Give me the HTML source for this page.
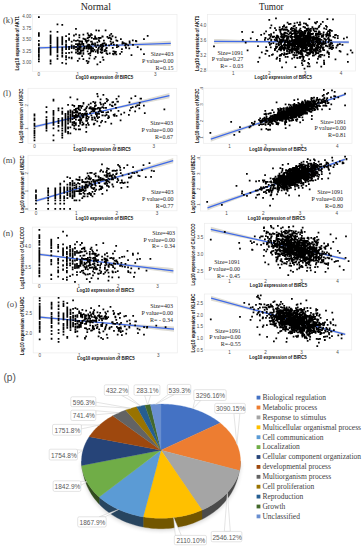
<!DOCTYPE html>
<html><head><meta charset="utf-8"><style>
html,body{margin:0;padding:0;background:#fff;overflow:hidden;}
svg{display:block;}
</style></head><body>
<svg width="364" height="550" viewBox="0 0 364 550">
<rect width="364" height="550" fill="#fff"/>
<rect x="32.5" y="14.5" width="144.50" height="56.80" fill="none" stroke="#ebebeb" stroke-width="0.7"/>
<polygon points="39.0,46.4 44.7,46.4 50.5,46.4 56.2,46.3 61.9,46.3 67.7,46.2 73.4,46.1 79.1,46.0 84.8,45.8 90.6,45.6 96.3,45.3 102.0,45.0 107.8,44.7 113.5,44.3 119.2,44.0 125.0,43.6 130.7,43.3 136.4,42.9 142.1,42.5 147.9,42.2 153.6,41.8 159.3,41.4 165.1,41.1 170.8,40.7 170.8,45.9 165.1,45.9 159.3,46.0 153.6,46.0 147.9,46.0 142.1,46.1 136.4,46.1 130.7,46.1 125.0,46.2 119.2,46.2 113.5,46.3 107.8,46.3 102.0,46.4 96.3,46.5 90.6,46.6 84.8,46.8 79.1,47.0 73.4,47.3 67.7,47.6 61.9,47.9 56.2,48.3 50.5,48.6 44.7,49.0 39.0,49.4" fill="#dedcd4"/>
<line x1="39" y1="47.9" x2="170.8" y2="43.3" stroke="#3f6ae8" stroke-width="1.25"/>
<path fill="#000" d="M38.0 53.7h1.75v1.75h-1.75zM112.5 50.4h1.75v1.75h-1.75zM56.6 51.1h1.75v1.75h-1.75zM75.1 43.2h1.75v1.75h-1.75zM78.5 40.2h1.75v1.75h-1.75zM61.4 62.0h1.75v1.75h-1.75zM49.7 46.8h1.75v1.75h-1.75zM97.0 52.1h1.75v1.75h-1.75zM90.2 40.8h1.75v1.75h-1.75zM38.0 40.0h1.75v1.75h-1.75zM140.0 48.5h1.75v1.75h-1.75zM105.3 47.6h1.75v1.75h-1.75zM61.4 52.8h1.75v1.75h-1.75zM103.7 42.2h1.75v1.75h-1.75zM68.2 56.8h1.75v1.75h-1.75zM78.5 52.9h1.75v1.75h-1.75zM100.7 49.3h1.75v1.75h-1.75zM49.7 37.6h1.75v1.75h-1.75zM95.4 29.6h1.75v1.75h-1.75zM116.0 44.2h1.75v1.75h-1.75zM114.1 52.3h1.75v1.75h-1.75zM73.1 45.3h1.75v1.75h-1.75zM103.7 50.3h1.75v1.75h-1.75zM38.0 43.5h1.75v1.75h-1.75zM76.9 52.8h1.75v1.75h-1.75zM92.3 47.5h1.75v1.75h-1.75zM49.7 46.7h1.75v1.75h-1.75zM78.5 42.3h1.75v1.75h-1.75zM124.2 44.5h1.75v1.75h-1.75zM146.8 35.1h1.75v1.75h-1.75zM100.2 44.1h1.75v1.75h-1.75zM101.8 56.5h1.75v1.75h-1.75zM56.6 39.8h1.75v1.75h-1.75zM49.7 48.8h1.75v1.75h-1.75zM49.7 51.5h1.75v1.75h-1.75zM94.2 35.4h1.75v1.75h-1.75zM99.8 51.3h1.75v1.75h-1.75zM65.2 45.6h1.75v1.75h-1.75zM49.7 51.9h1.75v1.75h-1.75zM87.7 36.6h1.75v1.75h-1.75zM88.5 47.6h1.75v1.75h-1.75zM76.9 44.2h1.75v1.75h-1.75zM112.8 53.4h1.75v1.75h-1.75zM78.5 36.4h1.75v1.75h-1.75zM78.5 52.5h1.75v1.75h-1.75zM49.7 39.9h1.75v1.75h-1.75zM83.7 38.3h1.75v1.75h-1.75zM114.8 36.4h1.75v1.75h-1.75zM82.5 33.8h1.75v1.75h-1.75zM82.5 53.0h1.75v1.75h-1.75zM91.6 42.6h1.75v1.75h-1.75zM87.7 44.4h1.75v1.75h-1.75zM94.2 42.4h1.75v1.75h-1.75zM94.2 38.0h1.75v1.75h-1.75zM96.5 44.3h1.75v1.75h-1.75zM61.4 51.9h1.75v1.75h-1.75zM88.5 45.9h1.75v1.75h-1.75zM38.0 35.1h1.75v1.75h-1.75zM87.7 52.9h1.75v1.75h-1.75zM49.7 46.0h1.75v1.75h-1.75zM78.5 51.9h1.75v1.75h-1.75zM93.0 38.0h1.75v1.75h-1.75zM70.8 56.8h1.75v1.75h-1.75zM83.7 47.6h1.75v1.75h-1.75zM38.0 48.0h1.75v1.75h-1.75zM56.6 45.6h1.75v1.75h-1.75zM98.0 29.7h1.75v1.75h-1.75zM49.7 35.2h1.75v1.75h-1.75zM97.0 51.6h1.75v1.75h-1.75zM49.7 30.8h1.75v1.75h-1.75zM56.6 54.9h1.75v1.75h-1.75zM49.7 60.4h1.75v1.75h-1.75zM81.3 55.2h1.75v1.75h-1.75zM94.2 43.8h1.75v1.75h-1.75zM56.6 42.6h1.75v1.75h-1.75zM76.9 59.9h1.75v1.75h-1.75zM121.7 41.3h1.75v1.75h-1.75zM73.1 47.6h1.75v1.75h-1.75zM61.4 41.3h1.75v1.75h-1.75zM90.2 47.7h1.75v1.75h-1.75zM75.1 39.9h1.75v1.75h-1.75zM61.4 42.3h1.75v1.75h-1.75zM38.0 56.1h1.75v1.75h-1.75zM101.5 35.5h1.75v1.75h-1.75zM65.2 44.6h1.75v1.75h-1.75zM81.3 40.8h1.75v1.75h-1.75zM56.6 37.4h1.75v1.75h-1.75zM113.5 50.7h1.75v1.75h-1.75zM99.8 45.4h1.75v1.75h-1.75zM105.6 50.0h1.75v1.75h-1.75zM78.5 51.7h1.75v1.75h-1.75zM92.3 43.4h1.75v1.75h-1.75zM103.3 42.6h1.75v1.75h-1.75zM106.5 36.1h1.75v1.75h-1.75zM88.5 36.3h1.75v1.75h-1.75zM78.5 45.8h1.75v1.75h-1.75zM70.8 51.4h1.75v1.75h-1.75zM61.4 24.0h1.75v1.75h-1.75zM56.6 31.1h1.75v1.75h-1.75zM90.2 45.9h1.75v1.75h-1.75zM75.1 51.8h1.75v1.75h-1.75zM38.0 50.3h1.75v1.75h-1.75zM76.9 43.9h1.75v1.75h-1.75zM107.6 37.3h1.75v1.75h-1.75zM73.1 39.4h1.75v1.75h-1.75zM38.0 43.7h1.75v1.75h-1.75zM76.9 47.3h1.75v1.75h-1.75zM100.7 43.8h1.75v1.75h-1.75zM85.8 47.4h1.75v1.75h-1.75zM70.8 45.4h1.75v1.75h-1.75zM127.4 44.6h1.75v1.75h-1.75zM128.7 40.5h1.75v1.75h-1.75zM78.5 57.7h1.75v1.75h-1.75zM101.5 47.0h1.75v1.75h-1.75zM90.9 47.1h1.75v1.75h-1.75zM100.7 52.1h1.75v1.75h-1.75zM117.5 45.4h1.75v1.75h-1.75zM101.5 51.6h1.75v1.75h-1.75zM82.5 49.8h1.75v1.75h-1.75zM65.2 48.1h1.75v1.75h-1.75zM61.4 48.0h1.75v1.75h-1.75zM79.9 49.3h1.75v1.75h-1.75zM109.9 37.4h1.75v1.75h-1.75zM88.5 44.0h1.75v1.75h-1.75zM82.5 43.4h1.75v1.75h-1.75zM87.7 43.8h1.75v1.75h-1.75zM81.3 49.8h1.75v1.75h-1.75zM94.8 50.7h1.75v1.75h-1.75zM49.7 40.5h1.75v1.75h-1.75zM38.0 49.8h1.75v1.75h-1.75zM70.8 57.6h1.75v1.75h-1.75zM49.7 62.8h1.75v1.75h-1.75zM121.5 42.7h1.75v1.75h-1.75zM76.9 50.4h1.75v1.75h-1.75zM75.1 46.2h1.75v1.75h-1.75zM38.0 51.3h1.75v1.75h-1.75zM87.7 47.9h1.75v1.75h-1.75zM65.2 47.3h1.75v1.75h-1.75zM108.9 52.6h1.75v1.75h-1.75zM101.8 44.9h1.75v1.75h-1.75zM61.4 39.4h1.75v1.75h-1.75zM90.9 40.7h1.75v1.75h-1.75zM38.0 60.5h1.75v1.75h-1.75zM65.2 55.2h1.75v1.75h-1.75zM112.1 53.0h1.75v1.75h-1.75zM100.7 46.4h1.75v1.75h-1.75zM84.8 39.9h1.75v1.75h-1.75zM79.9 43.5h1.75v1.75h-1.75zM49.7 59.5h1.75v1.75h-1.75zM49.7 46.2h1.75v1.75h-1.75zM86.8 40.1h1.75v1.75h-1.75zM125.2 46.9h1.75v1.75h-1.75zM38.0 32.3h1.75v1.75h-1.75zM96.5 49.2h1.75v1.75h-1.75zM95.9 37.5h1.75v1.75h-1.75zM104.7 29.6h1.75v1.75h-1.75zM56.6 55.5h1.75v1.75h-1.75zM68.2 48.2h1.75v1.75h-1.75zM81.3 41.8h1.75v1.75h-1.75zM56.6 23.5h1.75v1.75h-1.75zM49.7 59.7h1.75v1.75h-1.75zM56.6 42.4h1.75v1.75h-1.75zM78.5 43.8h1.75v1.75h-1.75zM90.2 47.9h1.75v1.75h-1.75zM79.9 50.9h1.75v1.75h-1.75zM82.5 48.9h1.75v1.75h-1.75zM65.2 48.2h1.75v1.75h-1.75zM61.4 55.0h1.75v1.75h-1.75zM108.9 34.4h1.75v1.75h-1.75zM79.9 52.7h1.75v1.75h-1.75zM78.5 48.4h1.75v1.75h-1.75zM104.3 49.0h1.75v1.75h-1.75zM111.9 47.1h1.75v1.75h-1.75zM113.0 43.8h1.75v1.75h-1.75zM90.9 50.1h1.75v1.75h-1.75zM79.9 47.1h1.75v1.75h-1.75zM87.7 34.2h1.75v1.75h-1.75zM84.8 38.6h1.75v1.75h-1.75zM116.0 46.2h1.75v1.75h-1.75zM87.7 39.5h1.75v1.75h-1.75zM97.0 49.9h1.75v1.75h-1.75zM79.9 44.1h1.75v1.75h-1.75zM115.4 53.5h1.75v1.75h-1.75zM38.0 55.9h1.75v1.75h-1.75zM90.2 50.8h1.75v1.75h-1.75zM99.8 36.9h1.75v1.75h-1.75zM49.7 44.9h1.75v1.75h-1.75zM135.0 40.1h1.75v1.75h-1.75zM76.9 44.7h1.75v1.75h-1.75zM76.9 43.3h1.75v1.75h-1.75zM56.6 43.4h1.75v1.75h-1.75zM103.0 39.8h1.75v1.75h-1.75zM86.8 44.3h1.75v1.75h-1.75zM65.2 52.3h1.75v1.75h-1.75zM86.8 50.4h1.75v1.75h-1.75zM98.0 37.1h1.75v1.75h-1.75zM111.5 35.4h1.75v1.75h-1.75zM85.8 41.8h1.75v1.75h-1.75zM56.6 58.1h1.75v1.75h-1.75zM65.2 35.3h1.75v1.75h-1.75zM38.0 44.5h1.75v1.75h-1.75zM61.4 46.7h1.75v1.75h-1.75zM99.4 44.8h1.75v1.75h-1.75zM92.3 47.5h1.75v1.75h-1.75zM78.5 34.3h1.75v1.75h-1.75zM73.1 34.8h1.75v1.75h-1.75zM120.8 51.0h1.75v1.75h-1.75zM87.7 46.5h1.75v1.75h-1.75zM103.7 42.8h1.75v1.75h-1.75zM90.9 37.0h1.75v1.75h-1.75zM65.2 62.7h1.75v1.75h-1.75zM120.0 38.2h1.75v1.75h-1.75zM49.7 34.4h1.75v1.75h-1.75zM49.7 49.1h1.75v1.75h-1.75zM70.8 46.2h1.75v1.75h-1.75zM61.4 37.6h1.75v1.75h-1.75zM65.2 43.6h1.75v1.75h-1.75zM65.2 55.3h1.75v1.75h-1.75zM105.6 52.3h1.75v1.75h-1.75zM82.5 52.2h1.75v1.75h-1.75zM89.4 54.5h1.75v1.75h-1.75zM38.0 47.2h1.75v1.75h-1.75zM61.4 49.9h1.75v1.75h-1.75zM108.2 44.4h1.75v1.75h-1.75zM49.7 41.5h1.75v1.75h-1.75zM110.4 33.1h1.75v1.75h-1.75zM56.6 44.9h1.75v1.75h-1.75zM88.5 57.4h1.75v1.75h-1.75zM61.4 36.6h1.75v1.75h-1.75zM85.8 46.2h1.75v1.75h-1.75zM56.6 38.2h1.75v1.75h-1.75zM75.1 48.8h1.75v1.75h-1.75zM123.0 42.2h1.75v1.75h-1.75zM70.8 46.9h1.75v1.75h-1.75zM132.1 44.0h1.75v1.75h-1.75zM68.2 37.5h1.75v1.75h-1.75zM49.7 51.6h1.75v1.75h-1.75zM82.5 44.5h1.75v1.75h-1.75zM70.8 44.5h1.75v1.75h-1.75zM125.0 46.6h1.75v1.75h-1.75zM102.6 59.1h1.75v1.75h-1.75zM110.6 42.4h1.75v1.75h-1.75zM96.5 63.4h1.75v1.75h-1.75zM143.1 53.2h1.75v1.75h-1.75zM100.7 47.9h1.75v1.75h-1.75zM94.2 42.4h1.75v1.75h-1.75zM61.4 40.3h1.75v1.75h-1.75zM56.6 40.6h1.75v1.75h-1.75zM85.8 41.6h1.75v1.75h-1.75zM105.9 47.1h1.75v1.75h-1.75zM108.9 36.8h1.75v1.75h-1.75zM56.6 48.4h1.75v1.75h-1.75zM94.2 37.9h1.75v1.75h-1.75zM85.8 59.9h1.75v1.75h-1.75zM49.7 53.8h1.75v1.75h-1.75zM93.6 48.9h1.75v1.75h-1.75zM38.0 47.2h1.75v1.75h-1.75zM87.7 60.8h1.75v1.75h-1.75zM143.1 38.2h1.75v1.75h-1.75zM56.6 39.4h1.75v1.75h-1.75zM81.3 40.5h1.75v1.75h-1.75zM38.0 51.1h1.75v1.75h-1.75zM61.4 36.2h1.75v1.75h-1.75zM99.8 48.5h1.75v1.75h-1.75zM56.6 40.0h1.75v1.75h-1.75zM79.9 46.0h1.75v1.75h-1.75zM70.8 46.1h1.75v1.75h-1.75zM70.8 47.0h1.75v1.75h-1.75zM85.8 45.6h1.75v1.75h-1.75zM93.0 38.0h1.75v1.75h-1.75zM111.7 35.3h1.75v1.75h-1.75zM101.8 35.7h1.75v1.75h-1.75zM65.2 40.0h1.75v1.75h-1.75zM116.5 40.1h1.75v1.75h-1.75zM112.3 41.6h1.75v1.75h-1.75zM38.0 33.5h1.75v1.75h-1.75zM97.5 47.9h1.75v1.75h-1.75zM101.5 49.0h1.75v1.75h-1.75zM105.0 44.5h1.75v1.75h-1.75zM94.8 55.9h1.75v1.75h-1.75zM49.7 48.5h1.75v1.75h-1.75zM73.1 46.3h1.75v1.75h-1.75zM38.0 55.1h1.75v1.75h-1.75zM76.9 49.5h1.75v1.75h-1.75zM131.9 39.4h1.75v1.75h-1.75zM98.0 46.5h1.75v1.75h-1.75zM101.8 44.4h1.75v1.75h-1.75zM68.2 39.1h1.75v1.75h-1.75zM56.6 50.9h1.75v1.75h-1.75zM56.6 54.6h1.75v1.75h-1.75zM83.7 45.8h1.75v1.75h-1.75zM61.4 43.4h1.75v1.75h-1.75zM65.2 58.6h1.75v1.75h-1.75zM109.7 40.4h1.75v1.75h-1.75zM38.0 49.6h1.75v1.75h-1.75zM49.7 49.8h1.75v1.75h-1.75zM68.2 51.9h1.75v1.75h-1.75zM78.5 46.9h1.75v1.75h-1.75zM76.9 39.6h1.75v1.75h-1.75zM49.7 42.8h1.75v1.75h-1.75zM85.8 40.2h1.75v1.75h-1.75zM76.9 48.1h1.75v1.75h-1.75zM89.4 35.0h1.75v1.75h-1.75zM49.7 37.3h1.75v1.75h-1.75zM86.8 45.5h1.75v1.75h-1.75zM86.8 62.3h1.75v1.75h-1.75zM65.2 45.7h1.75v1.75h-1.75zM75.1 27.9h1.75v1.75h-1.75zM65.2 46.5h1.75v1.75h-1.75zM115.0 51.0h1.75v1.75h-1.75zM38.0 33.9h1.75v1.75h-1.75zM38.0 51.8h1.75v1.75h-1.75zM38.0 43.3h1.75v1.75h-1.75zM70.8 40.8h1.75v1.75h-1.75zM65.2 56.2h1.75v1.75h-1.75zM70.8 45.1h1.75v1.75h-1.75zM98.9 37.2h1.75v1.75h-1.75zM38.0 49.6h1.75v1.75h-1.75zM61.4 41.7h1.75v1.75h-1.75zM75.1 45.9h1.75v1.75h-1.75zM49.7 39.1h1.75v1.75h-1.75zM90.2 33.3h1.75v1.75h-1.75zM89.4 52.3h1.75v1.75h-1.75zM61.4 48.2h1.75v1.75h-1.75zM38.0 44.0h1.75v1.75h-1.75zM121.1 48.2h1.75v1.75h-1.75zM92.3 50.5h1.75v1.75h-1.75zM91.6 47.4h1.75v1.75h-1.75zM82.5 47.2h1.75v1.75h-1.75zM79.9 49.8h1.75v1.75h-1.75zM101.8 42.7h1.75v1.75h-1.75zM79.9 40.4h1.75v1.75h-1.75zM65.2 41.0h1.75v1.75h-1.75zM98.5 40.5h1.75v1.75h-1.75zM82.5 37.8h1.75v1.75h-1.75zM61.4 55.7h1.75v1.75h-1.75zM56.6 47.2h1.75v1.75h-1.75zM110.2 43.3h1.75v1.75h-1.75zM96.5 41.6h1.75v1.75h-1.75zM130.6 54.2h1.75v1.75h-1.75zM68.2 33.3h1.75v1.75h-1.75zM61.4 52.4h1.75v1.75h-1.75zM90.9 43.5h1.75v1.75h-1.75zM115.5 39.6h1.75v1.75h-1.75zM95.9 38.0h1.75v1.75h-1.75zM91.6 49.6h1.75v1.75h-1.75zM128.4 47.4h1.75v1.75h-1.75zM61.4 43.6h1.75v1.75h-1.75zM49.7 42.3h1.75v1.75h-1.75zM61.4 39.9h1.75v1.75h-1.75zM73.1 46.2h1.75v1.75h-1.75zM90.2 49.7h1.75v1.75h-1.75zM106.5 53.2h1.75v1.75h-1.75zM90.9 33.9h1.75v1.75h-1.75zM119.2 53.0h1.75v1.75h-1.75zM61.4 41.3h1.75v1.75h-1.75zM128.8 42.1h1.75v1.75h-1.75zM61.4 40.9h1.75v1.75h-1.75zM110.4 38.3h1.75v1.75h-1.75zM56.6 36.8h1.75v1.75h-1.75zM89.4 45.6h1.75v1.75h-1.75zM82.5 42.9h1.75v1.75h-1.75zM93.6 57.7h1.75v1.75h-1.75zM99.8 44.6h1.75v1.75h-1.75zM75.1 51.6h1.75v1.75h-1.75zM78.5 46.6h1.75v1.75h-1.75zM86.8 37.3h1.75v1.75h-1.75zM49.7 45.8h1.75v1.75h-1.75zM61.4 38.6h1.75v1.75h-1.75zM38.0 48.5h1.75v1.75h-1.75zM81.3 42.9h1.75v1.75h-1.75zM136.8 46.2h1.75v1.75h-1.75zM99.4 61.3h1.75v1.75h-1.75zM56.6 51.4h1.75v1.75h-1.75zM61.4 48.0h1.75v1.75h-1.75zM105.3 43.6h1.75v1.75h-1.75zM68.2 45.9h1.75v1.75h-1.75zM38.0 48.0h1.75v1.75h-1.75zM56.6 39.6h1.75v1.75h-1.75zM56.6 41.9h1.75v1.75h-1.75zM56.6 49.2h1.75v1.75h-1.75zM98.0 39.3h1.75v1.75h-1.75zM82.5 58.2h1.75v1.75h-1.75zM38.0 49.2h1.75v1.75h-1.75zM68.2 46.9h1.75v1.75h-1.75zM49.7 37.0h1.75v1.75h-1.75zM49.7 50.5h1.75v1.75h-1.75zM38.0 58.3h1.75v1.75h-1.75zM124.8 42.8h1.75v1.75h-1.75zM73.1 34.6h1.75v1.75h-1.75zM95.4 46.3h1.75v1.75h-1.75zM102.6 45.3h1.75v1.75h-1.75zM70.8 47.2h1.75v1.75h-1.75zM94.2 44.7h1.75v1.75h-1.75zM94.2 36.6h1.75v1.75h-1.75zM86.8 32.6h1.75v1.75h-1.75zM135.5 40.5h1.75v1.75h-1.75zM87.7 45.9h1.75v1.75h-1.75zM75.1 33.6h1.75v1.75h-1.75zM97.0 44.2h1.75v1.75h-1.75zM125.6 43.5h1.75v1.75h-1.75zM105.9 46.9h1.75v1.75h-1.75zM68.2 48.0h1.75v1.75h-1.75zM38.0 16.3h1.75v1.75h-1.75z"/>
<text x="38.90" y="75.50" font-size="4.6" font-family='"Liberation Sans", sans-serif' fill="#4d4d4d" text-anchor="middle">0</text>
<text x="77.73" y="75.50" font-size="4.6" font-family='"Liberation Sans", sans-serif' fill="#4d4d4d" text-anchor="middle">1</text>
<text x="116.57" y="75.50" font-size="4.6" font-family='"Liberation Sans", sans-serif' fill="#4d4d4d" text-anchor="middle">2</text>
<text x="155.40" y="75.50" font-size="4.6" font-family='"Liberation Sans", sans-serif' fill="#4d4d4d" text-anchor="middle">3</text>
<text x="31.30" y="64.10" font-size="4.6" font-family='"Liberation Sans", sans-serif' fill="#4d4d4d" text-anchor="end">3.00</text>
<text x="31.30" y="52.60" font-size="4.6" font-family='"Liberation Sans", sans-serif' fill="#4d4d4d" text-anchor="end">3.25</text>
<text x="31.30" y="41.10" font-size="4.6" font-family='"Liberation Sans", sans-serif' fill="#4d4d4d" text-anchor="end">3.50</text>
<text x="31.30" y="29.60" font-size="4.6" font-family='"Liberation Sans", sans-serif' fill="#4d4d4d" text-anchor="end">3.75</text>
<text x="31.30" y="18.10" font-size="4.6" font-family='"Liberation Sans", sans-serif' fill="#4d4d4d" text-anchor="end">4.00</text>
<text x="19.40" y="43.30" font-size="4.7" font-family='"Liberation Sans", sans-serif' fill="#111" text-anchor="middle" font-weight="bold" textLength="54.60" lengthAdjust="spacingAndGlyphs" transform="rotate(-90 19.40 43.30)">Log10 expression of AKT1</text>
<text x="104.40" y="79.30" font-size="4.7" font-family='"Liberation Sans", sans-serif' fill="#111" text-anchor="middle" font-weight="bold" textLength="57.40" lengthAdjust="spacingAndGlyphs">Log10 expression of BIRC5</text>
<text x="173.50" y="56.00" font-size="6.0" font-family='"Liberation Serif", serif' fill="#222" text-anchor="end">Size=403</text>
<text x="173.50" y="62.90" font-size="6.0" font-family='"Liberation Serif", serif' fill="#222" text-anchor="end">P value=0.00</text>
<text x="173.50" y="69.80" font-size="6.0" font-family='"Liberation Serif", serif' fill="#222" text-anchor="end">R=0.15</text>
<rect x="207.5" y="14.5" width="148.00" height="56.50" fill="none" stroke="#ebebeb" stroke-width="0.7"/>
<polygon points="214.1,38.9 220.0,39.1 225.8,39.3 231.7,39.5 237.5,39.7 243.4,39.9 249.2,40.1 255.1,40.3 261.0,40.5 266.8,40.7 272.7,40.9 278.5,41.0 284.4,41.2 290.2,41.4 296.1,41.5 301.9,41.5 307.8,41.5 313.7,41.4 319.5,41.3 325.4,41.2 331.2,41.1 337.1,41.0 342.9,40.9 348.8,40.7 348.8,43.7 342.9,43.5 337.1,43.3 331.2,43.1 325.4,42.9 319.5,42.7 313.7,42.6 307.8,42.4 301.9,42.3 296.1,42.3 290.2,42.3 284.4,42.4 278.5,42.5 272.7,42.6 266.8,42.7 261.0,42.9 255.1,43.0 249.2,43.1 243.4,43.2 237.5,43.4 231.7,43.5 225.8,43.6 220.0,43.8 214.1,43.9" fill="#dedcd4"/>
<line x1="214.1" y1="41.4" x2="348.8" y2="42.2" stroke="#3f6ae8" stroke-width="1.25"/>
<path fill="#000" d="M282.6 39.4h1.75v1.75h-1.75zM306.7 29.4h1.75v1.75h-1.75zM329.7 46.5h1.75v1.75h-1.75zM306.1 24.2h1.75v1.75h-1.75zM299.2 36.2h1.75v1.75h-1.75zM315.9 36.3h1.75v1.75h-1.75zM290.5 43.3h1.75v1.75h-1.75zM281.4 47.4h1.75v1.75h-1.75zM283.7 42.2h1.75v1.75h-1.75zM332.3 46.9h1.75v1.75h-1.75zM269.9 46.6h1.75v1.75h-1.75zM283.0 48.2h1.75v1.75h-1.75zM304.8 38.9h1.75v1.75h-1.75zM307.1 31.6h1.75v1.75h-1.75zM326.0 26.0h1.75v1.75h-1.75zM307.4 34.7h1.75v1.75h-1.75zM294.3 41.0h1.75v1.75h-1.75zM321.0 35.8h1.75v1.75h-1.75zM316.5 27.8h1.75v1.75h-1.75zM317.8 39.3h1.75v1.75h-1.75zM316.5 32.8h1.75v1.75h-1.75zM308.6 37.3h1.75v1.75h-1.75zM280.7 39.0h1.75v1.75h-1.75zM286.3 44.1h1.75v1.75h-1.75zM329.3 35.0h1.75v1.75h-1.75zM301.9 46.1h1.75v1.75h-1.75zM275.2 47.3h1.75v1.75h-1.75zM302.1 37.5h1.75v1.75h-1.75zM315.0 33.0h1.75v1.75h-1.75zM306.9 33.3h1.75v1.75h-1.75zM301.5 33.9h1.75v1.75h-1.75zM268.4 42.1h1.75v1.75h-1.75zM302.2 41.0h1.75v1.75h-1.75zM299.4 31.8h1.75v1.75h-1.75zM325.1 25.1h1.75v1.75h-1.75zM301.3 59.8h1.75v1.75h-1.75zM300.5 31.2h1.75v1.75h-1.75zM290.0 36.3h1.75v1.75h-1.75zM299.5 40.5h1.75v1.75h-1.75zM305.1 45.5h1.75v1.75h-1.75zM294.0 44.7h1.75v1.75h-1.75zM288.7 48.9h1.75v1.75h-1.75zM269.6 35.7h1.75v1.75h-1.75zM302.9 47.3h1.75v1.75h-1.75zM292.1 41.9h1.75v1.75h-1.75zM296.7 51.2h1.75v1.75h-1.75zM279.7 31.4h1.75v1.75h-1.75zM289.7 35.2h1.75v1.75h-1.75zM274.3 48.6h1.75v1.75h-1.75zM314.7 37.0h1.75v1.75h-1.75zM317.9 43.3h1.75v1.75h-1.75zM311.5 51.2h1.75v1.75h-1.75zM299.6 39.8h1.75v1.75h-1.75zM307.8 34.2h1.75v1.75h-1.75zM280.1 29.1h1.75v1.75h-1.75zM282.3 38.2h1.75v1.75h-1.75zM317.9 31.8h1.75v1.75h-1.75zM286.4 35.2h1.75v1.75h-1.75zM300.4 35.3h1.75v1.75h-1.75zM291.6 33.1h1.75v1.75h-1.75zM266.5 50.1h1.75v1.75h-1.75zM291.6 43.2h1.75v1.75h-1.75zM312.8 29.4h1.75v1.75h-1.75zM319.8 50.3h1.75v1.75h-1.75zM265.3 46.3h1.75v1.75h-1.75zM278.8 26.4h1.75v1.75h-1.75zM292.9 47.8h1.75v1.75h-1.75zM315.3 39.6h1.75v1.75h-1.75zM318.5 38.6h1.75v1.75h-1.75zM341.6 44.1h1.75v1.75h-1.75zM325.1 33.8h1.75v1.75h-1.75zM295.1 34.1h1.75v1.75h-1.75zM287.1 45.5h1.75v1.75h-1.75zM314.3 27.7h1.75v1.75h-1.75zM297.5 46.5h1.75v1.75h-1.75zM301.6 43.8h1.75v1.75h-1.75zM296.1 41.6h1.75v1.75h-1.75zM291.0 37.5h1.75v1.75h-1.75zM314.2 48.8h1.75v1.75h-1.75zM275.1 37.0h1.75v1.75h-1.75zM276.3 56.7h1.75v1.75h-1.75zM291.2 44.4h1.75v1.75h-1.75zM302.6 47.5h1.75v1.75h-1.75zM296.7 46.0h1.75v1.75h-1.75zM299.1 41.5h1.75v1.75h-1.75zM249.9 37.5h1.75v1.75h-1.75zM288.6 46.4h1.75v1.75h-1.75zM316.4 41.0h1.75v1.75h-1.75zM298.6 52.1h1.75v1.75h-1.75zM291.3 43.8h1.75v1.75h-1.75zM329.5 29.2h1.75v1.75h-1.75zM286.2 50.3h1.75v1.75h-1.75zM311.6 43.5h1.75v1.75h-1.75zM304.0 41.4h1.75v1.75h-1.75zM306.7 35.4h1.75v1.75h-1.75zM315.6 38.6h1.75v1.75h-1.75zM319.0 48.7h1.75v1.75h-1.75zM288.7 39.5h1.75v1.75h-1.75zM296.2 38.2h1.75v1.75h-1.75zM295.9 51.4h1.75v1.75h-1.75zM310.7 36.7h1.75v1.75h-1.75zM301.2 41.8h1.75v1.75h-1.75zM303.6 31.5h1.75v1.75h-1.75zM276.5 45.9h1.75v1.75h-1.75zM300.0 55.8h1.75v1.75h-1.75zM308.3 41.2h1.75v1.75h-1.75zM325.0 45.1h1.75v1.75h-1.75zM312.0 42.2h1.75v1.75h-1.75zM302.6 26.1h1.75v1.75h-1.75zM283.8 47.9h1.75v1.75h-1.75zM300.0 32.9h1.75v1.75h-1.75zM300.8 35.0h1.75v1.75h-1.75zM298.7 33.6h1.75v1.75h-1.75zM302.9 55.9h1.75v1.75h-1.75zM307.9 40.4h1.75v1.75h-1.75zM311.6 50.8h1.75v1.75h-1.75zM286.7 47.2h1.75v1.75h-1.75zM278.2 43.7h1.75v1.75h-1.75zM306.2 34.6h1.75v1.75h-1.75zM268.4 19.0h1.75v1.75h-1.75zM294.7 32.5h1.75v1.75h-1.75zM299.4 50.3h1.75v1.75h-1.75zM289.0 32.3h1.75v1.75h-1.75zM311.9 50.4h1.75v1.75h-1.75zM309.8 44.2h1.75v1.75h-1.75zM302.6 33.2h1.75v1.75h-1.75zM309.2 45.7h1.75v1.75h-1.75zM313.0 36.2h1.75v1.75h-1.75zM296.1 43.3h1.75v1.75h-1.75zM309.0 49.8h1.75v1.75h-1.75zM302.5 39.8h1.75v1.75h-1.75zM300.5 45.3h1.75v1.75h-1.75zM293.9 28.5h1.75v1.75h-1.75zM325.4 28.2h1.75v1.75h-1.75zM305.2 30.0h1.75v1.75h-1.75zM280.2 48.6h1.75v1.75h-1.75zM307.5 27.6h1.75v1.75h-1.75zM264.0 38.9h1.75v1.75h-1.75zM306.7 35.0h1.75v1.75h-1.75zM311.4 40.0h1.75v1.75h-1.75zM320.7 45.4h1.75v1.75h-1.75zM303.4 40.4h1.75v1.75h-1.75zM290.4 34.8h1.75v1.75h-1.75zM328.2 30.2h1.75v1.75h-1.75zM315.2 37.2h1.75v1.75h-1.75zM318.9 41.3h1.75v1.75h-1.75zM296.8 44.8h1.75v1.75h-1.75zM309.5 43.7h1.75v1.75h-1.75zM275.2 29.3h1.75v1.75h-1.75zM307.2 36.3h1.75v1.75h-1.75zM270.3 39.4h1.75v1.75h-1.75zM285.7 53.2h1.75v1.75h-1.75zM279.4 54.0h1.75v1.75h-1.75zM316.7 36.5h1.75v1.75h-1.75zM313.6 36.8h1.75v1.75h-1.75zM284.5 26.7h1.75v1.75h-1.75zM318.1 40.0h1.75v1.75h-1.75zM301.5 46.1h1.75v1.75h-1.75zM272.0 53.6h1.75v1.75h-1.75zM294.8 48.0h1.75v1.75h-1.75zM275.7 58.1h1.75v1.75h-1.75zM301.4 39.1h1.75v1.75h-1.75zM305.5 37.9h1.75v1.75h-1.75zM289.8 31.2h1.75v1.75h-1.75zM320.4 65.7h1.75v1.75h-1.75zM315.4 51.7h1.75v1.75h-1.75zM287.5 36.8h1.75v1.75h-1.75zM314.2 37.3h1.75v1.75h-1.75zM298.9 56.0h1.75v1.75h-1.75zM296.3 46.5h1.75v1.75h-1.75zM324.5 40.8h1.75v1.75h-1.75zM290.3 44.2h1.75v1.75h-1.75zM295.3 38.6h1.75v1.75h-1.75zM299.4 41.1h1.75v1.75h-1.75zM308.6 45.5h1.75v1.75h-1.75zM311.5 38.7h1.75v1.75h-1.75zM286.9 41.9h1.75v1.75h-1.75zM320.0 33.0h1.75v1.75h-1.75zM347.0 61.1h1.75v1.75h-1.75zM329.3 43.3h1.75v1.75h-1.75zM302.8 46.4h1.75v1.75h-1.75zM293.2 43.2h1.75v1.75h-1.75zM272.1 36.2h1.75v1.75h-1.75zM305.5 36.7h1.75v1.75h-1.75zM299.4 57.1h1.75v1.75h-1.75zM299.6 32.9h1.75v1.75h-1.75zM283.8 34.5h1.75v1.75h-1.75zM268.8 37.4h1.75v1.75h-1.75zM296.4 40.9h1.75v1.75h-1.75zM295.4 29.2h1.75v1.75h-1.75zM290.4 36.2h1.75v1.75h-1.75zM280.2 54.5h1.75v1.75h-1.75zM296.6 46.3h1.75v1.75h-1.75zM298.4 43.3h1.75v1.75h-1.75zM284.3 44.0h1.75v1.75h-1.75zM309.8 44.8h1.75v1.75h-1.75zM299.0 33.7h1.75v1.75h-1.75zM302.5 49.7h1.75v1.75h-1.75zM306.2 47.0h1.75v1.75h-1.75zM297.0 48.7h1.75v1.75h-1.75zM299.5 41.7h1.75v1.75h-1.75zM308.2 38.2h1.75v1.75h-1.75zM319.7 53.9h1.75v1.75h-1.75zM313.4 38.7h1.75v1.75h-1.75zM298.0 45.5h1.75v1.75h-1.75zM319.9 23.2h1.75v1.75h-1.75zM317.0 58.0h1.75v1.75h-1.75zM280.5 41.4h1.75v1.75h-1.75zM294.8 33.0h1.75v1.75h-1.75zM300.3 44.2h1.75v1.75h-1.75zM300.7 49.6h1.75v1.75h-1.75zM346.6 53.6h1.75v1.75h-1.75zM317.7 37.5h1.75v1.75h-1.75zM298.8 45.4h1.75v1.75h-1.75zM299.1 33.6h1.75v1.75h-1.75zM280.7 40.9h1.75v1.75h-1.75zM286.6 45.4h1.75v1.75h-1.75zM320.0 44.7h1.75v1.75h-1.75zM276.0 37.7h1.75v1.75h-1.75zM309.8 33.9h1.75v1.75h-1.75zM290.7 47.2h1.75v1.75h-1.75zM296.4 50.1h1.75v1.75h-1.75zM299.4 50.0h1.75v1.75h-1.75zM327.1 38.0h1.75v1.75h-1.75zM305.7 27.9h1.75v1.75h-1.75zM308.1 45.2h1.75v1.75h-1.75zM315.5 36.4h1.75v1.75h-1.75zM269.0 44.0h1.75v1.75h-1.75zM327.8 34.6h1.75v1.75h-1.75zM257.3 60.9h1.75v1.75h-1.75zM290.6 36.8h1.75v1.75h-1.75zM310.9 51.0h1.75v1.75h-1.75zM283.3 47.4h1.75v1.75h-1.75zM275.9 38.6h1.75v1.75h-1.75zM317.7 43.1h1.75v1.75h-1.75zM292.6 42.3h1.75v1.75h-1.75zM314.5 37.4h1.75v1.75h-1.75zM308.1 39.8h1.75v1.75h-1.75zM298.3 30.2h1.75v1.75h-1.75zM325.5 35.8h1.75v1.75h-1.75zM297.4 47.5h1.75v1.75h-1.75zM330.1 41.9h1.75v1.75h-1.75zM277.9 48.6h1.75v1.75h-1.75zM286.8 44.1h1.75v1.75h-1.75zM291.3 28.0h1.75v1.75h-1.75zM304.6 47.0h1.75v1.75h-1.75zM284.9 31.7h1.75v1.75h-1.75zM291.2 30.0h1.75v1.75h-1.75zM321.9 21.1h1.75v1.75h-1.75zM303.9 41.1h1.75v1.75h-1.75zM317.9 39.3h1.75v1.75h-1.75zM306.6 39.0h1.75v1.75h-1.75zM292.9 43.8h1.75v1.75h-1.75zM290.3 27.9h1.75v1.75h-1.75zM304.0 26.6h1.75v1.75h-1.75zM302.4 58.2h1.75v1.75h-1.75zM287.9 45.4h1.75v1.75h-1.75zM293.4 32.3h1.75v1.75h-1.75zM322.2 48.9h1.75v1.75h-1.75zM316.3 46.4h1.75v1.75h-1.75zM305.7 41.0h1.75v1.75h-1.75zM296.5 41.3h1.75v1.75h-1.75zM295.4 42.5h1.75v1.75h-1.75zM330.2 42.4h1.75v1.75h-1.75zM292.9 27.7h1.75v1.75h-1.75zM334.6 58.6h1.75v1.75h-1.75zM292.0 44.9h1.75v1.75h-1.75zM280.1 49.6h1.75v1.75h-1.75zM330.4 39.6h1.75v1.75h-1.75zM299.8 44.5h1.75v1.75h-1.75zM323.3 37.8h1.75v1.75h-1.75zM312.8 41.3h1.75v1.75h-1.75zM298.0 24.0h1.75v1.75h-1.75zM314.9 51.1h1.75v1.75h-1.75zM297.2 44.8h1.75v1.75h-1.75zM307.6 34.7h1.75v1.75h-1.75zM299.4 44.1h1.75v1.75h-1.75zM256.0 39.1h1.75v1.75h-1.75zM307.0 52.7h1.75v1.75h-1.75zM293.7 35.9h1.75v1.75h-1.75zM299.3 42.2h1.75v1.75h-1.75zM307.2 37.1h1.75v1.75h-1.75zM281.0 48.0h1.75v1.75h-1.75zM309.1 45.4h1.75v1.75h-1.75zM309.6 47.8h1.75v1.75h-1.75zM328.9 29.1h1.75v1.75h-1.75zM313.1 54.5h1.75v1.75h-1.75zM306.2 38.2h1.75v1.75h-1.75zM292.0 39.4h1.75v1.75h-1.75zM301.0 31.9h1.75v1.75h-1.75zM281.1 39.1h1.75v1.75h-1.75zM307.1 49.1h1.75v1.75h-1.75zM298.4 37.5h1.75v1.75h-1.75zM296.0 54.3h1.75v1.75h-1.75zM301.4 33.5h1.75v1.75h-1.75zM307.7 42.2h1.75v1.75h-1.75zM307.7 51.7h1.75v1.75h-1.75zM284.3 45.0h1.75v1.75h-1.75zM335.1 34.0h1.75v1.75h-1.75zM301.7 64.2h1.75v1.75h-1.75zM305.9 28.6h1.75v1.75h-1.75zM301.2 46.7h1.75v1.75h-1.75zM287.7 29.9h1.75v1.75h-1.75zM307.6 39.4h1.75v1.75h-1.75zM295.4 27.0h1.75v1.75h-1.75zM279.0 58.0h1.75v1.75h-1.75zM302.8 34.8h1.75v1.75h-1.75zM320.2 42.6h1.75v1.75h-1.75zM309.7 46.2h1.75v1.75h-1.75zM303.7 35.1h1.75v1.75h-1.75zM292.3 43.1h1.75v1.75h-1.75zM296.3 46.9h1.75v1.75h-1.75zM299.1 43.0h1.75v1.75h-1.75zM280.7 47.1h1.75v1.75h-1.75zM312.5 43.2h1.75v1.75h-1.75zM302.3 41.8h1.75v1.75h-1.75zM282.8 33.2h1.75v1.75h-1.75zM339.0 43.2h1.75v1.75h-1.75zM328.5 47.4h1.75v1.75h-1.75zM282.6 35.7h1.75v1.75h-1.75zM298.5 44.2h1.75v1.75h-1.75zM289.1 48.7h1.75v1.75h-1.75zM311.9 50.6h1.75v1.75h-1.75zM281.4 28.1h1.75v1.75h-1.75zM307.9 42.3h1.75v1.75h-1.75zM306.4 29.4h1.75v1.75h-1.75zM316.7 49.0h1.75v1.75h-1.75zM274.0 49.3h1.75v1.75h-1.75zM290.0 28.5h1.75v1.75h-1.75zM298.0 43.4h1.75v1.75h-1.75zM314.5 43.0h1.75v1.75h-1.75zM302.9 45.0h1.75v1.75h-1.75zM319.7 55.9h1.75v1.75h-1.75zM307.4 33.9h1.75v1.75h-1.75zM288.2 50.6h1.75v1.75h-1.75zM299.2 35.8h1.75v1.75h-1.75zM295.2 49.6h1.75v1.75h-1.75zM296.4 21.8h1.75v1.75h-1.75zM287.8 36.0h1.75v1.75h-1.75zM311.6 33.2h1.75v1.75h-1.75zM305.2 54.3h1.75v1.75h-1.75zM273.8 38.7h1.75v1.75h-1.75zM311.3 46.4h1.75v1.75h-1.75zM292.8 48.0h1.75v1.75h-1.75zM279.8 47.7h1.75v1.75h-1.75zM318.0 35.4h1.75v1.75h-1.75zM300.5 41.2h1.75v1.75h-1.75zM309.4 48.7h1.75v1.75h-1.75zM298.8 46.1h1.75v1.75h-1.75zM300.2 46.4h1.75v1.75h-1.75zM275.1 45.4h1.75v1.75h-1.75zM311.5 43.7h1.75v1.75h-1.75zM290.3 50.1h1.75v1.75h-1.75zM301.0 48.4h1.75v1.75h-1.75zM287.0 41.7h1.75v1.75h-1.75zM268.2 34.0h1.75v1.75h-1.75zM298.6 45.2h1.75v1.75h-1.75zM318.9 31.2h1.75v1.75h-1.75zM283.5 52.2h1.75v1.75h-1.75zM292.2 41.2h1.75v1.75h-1.75zM302.1 32.8h1.75v1.75h-1.75zM292.5 39.6h1.75v1.75h-1.75zM319.5 47.6h1.75v1.75h-1.75zM307.4 38.9h1.75v1.75h-1.75zM336.5 44.7h1.75v1.75h-1.75zM303.9 33.1h1.75v1.75h-1.75zM332.5 35.9h1.75v1.75h-1.75zM292.5 43.1h1.75v1.75h-1.75zM306.5 34.8h1.75v1.75h-1.75zM285.8 28.4h1.75v1.75h-1.75zM295.5 33.0h1.75v1.75h-1.75zM292.7 30.1h1.75v1.75h-1.75zM309.8 42.9h1.75v1.75h-1.75zM320.5 46.0h1.75v1.75h-1.75zM297.4 47.1h1.75v1.75h-1.75zM280.5 33.6h1.75v1.75h-1.75zM301.2 49.5h1.75v1.75h-1.75zM298.8 38.4h1.75v1.75h-1.75zM294.3 29.4h1.75v1.75h-1.75zM323.3 63.3h1.75v1.75h-1.75zM317.5 38.9h1.75v1.75h-1.75zM291.4 48.8h1.75v1.75h-1.75zM291.3 42.3h1.75v1.75h-1.75zM264.4 37.3h1.75v1.75h-1.75zM292.5 48.8h1.75v1.75h-1.75zM323.1 59.7h1.75v1.75h-1.75zM288.4 44.4h1.75v1.75h-1.75zM325.0 39.1h1.75v1.75h-1.75zM311.2 44.4h1.75v1.75h-1.75zM310.4 48.7h1.75v1.75h-1.75zM310.7 36.4h1.75v1.75h-1.75zM300.5 49.9h1.75v1.75h-1.75zM316.3 52.3h1.75v1.75h-1.75zM316.9 40.8h1.75v1.75h-1.75zM301.3 48.6h1.75v1.75h-1.75zM320.4 42.2h1.75v1.75h-1.75zM323.3 49.2h1.75v1.75h-1.75zM286.1 49.9h1.75v1.75h-1.75zM313.9 50.0h1.75v1.75h-1.75zM302.8 39.4h1.75v1.75h-1.75zM335.4 46.7h1.75v1.75h-1.75zM297.3 47.3h1.75v1.75h-1.75zM286.5 29.1h1.75v1.75h-1.75zM288.9 52.3h1.75v1.75h-1.75zM315.0 34.6h1.75v1.75h-1.75zM286.9 42.7h1.75v1.75h-1.75zM311.2 48.4h1.75v1.75h-1.75zM294.7 41.6h1.75v1.75h-1.75zM321.2 43.6h1.75v1.75h-1.75zM343.0 37.7h1.75v1.75h-1.75zM332.0 44.8h1.75v1.75h-1.75zM274.1 27.2h1.75v1.75h-1.75zM281.2 33.4h1.75v1.75h-1.75zM263.4 32.8h1.75v1.75h-1.75zM339.7 50.7h1.75v1.75h-1.75zM293.5 43.9h1.75v1.75h-1.75zM296.1 32.5h1.75v1.75h-1.75zM302.7 36.9h1.75v1.75h-1.75zM310.7 41.3h1.75v1.75h-1.75zM297.2 42.0h1.75v1.75h-1.75zM302.9 33.5h1.75v1.75h-1.75zM301.9 55.6h1.75v1.75h-1.75zM283.3 47.7h1.75v1.75h-1.75zM328.0 51.9h1.75v1.75h-1.75zM326.9 32.9h1.75v1.75h-1.75zM303.3 60.2h1.75v1.75h-1.75zM300.2 43.3h1.75v1.75h-1.75zM329.0 31.3h1.75v1.75h-1.75zM337.1 43.8h1.75v1.75h-1.75zM302.9 39.2h1.75v1.75h-1.75zM310.8 41.1h1.75v1.75h-1.75zM296.2 36.1h1.75v1.75h-1.75zM306.9 24.8h1.75v1.75h-1.75zM265.5 49.8h1.75v1.75h-1.75zM244.8 41.8h1.75v1.75h-1.75zM308.6 28.9h1.75v1.75h-1.75zM299.5 23.5h1.75v1.75h-1.75zM307.9 42.9h1.75v1.75h-1.75zM305.0 22.7h1.75v1.75h-1.75zM310.9 36.3h1.75v1.75h-1.75zM305.9 36.5h1.75v1.75h-1.75zM299.8 51.9h1.75v1.75h-1.75zM308.3 53.5h1.75v1.75h-1.75zM286.0 39.4h1.75v1.75h-1.75zM322.6 42.3h1.75v1.75h-1.75zM288.4 41.9h1.75v1.75h-1.75zM296.7 50.0h1.75v1.75h-1.75zM315.4 30.5h1.75v1.75h-1.75zM297.2 42.6h1.75v1.75h-1.75zM316.2 21.0h1.75v1.75h-1.75zM323.4 43.1h1.75v1.75h-1.75zM313.8 38.5h1.75v1.75h-1.75zM296.2 35.5h1.75v1.75h-1.75zM329.9 44.0h1.75v1.75h-1.75zM309.2 48.8h1.75v1.75h-1.75zM288.7 45.4h1.75v1.75h-1.75zM305.3 45.0h1.75v1.75h-1.75zM311.5 26.3h1.75v1.75h-1.75zM315.6 45.1h1.75v1.75h-1.75zM295.3 35.3h1.75v1.75h-1.75zM327.1 30.4h1.75v1.75h-1.75zM284.9 39.6h1.75v1.75h-1.75zM288.6 49.1h1.75v1.75h-1.75zM297.1 37.3h1.75v1.75h-1.75zM334.1 34.2h1.75v1.75h-1.75zM311.4 39.9h1.75v1.75h-1.75zM319.5 41.0h1.75v1.75h-1.75zM296.6 57.3h1.75v1.75h-1.75zM317.8 56.0h1.75v1.75h-1.75zM272.5 42.3h1.75v1.75h-1.75zM299.2 39.7h1.75v1.75h-1.75zM309.1 35.5h1.75v1.75h-1.75zM294.7 43.3h1.75v1.75h-1.75zM274.4 39.6h1.75v1.75h-1.75zM279.3 48.7h1.75v1.75h-1.75zM312.0 36.5h1.75v1.75h-1.75zM322.2 35.8h1.75v1.75h-1.75zM297.5 41.9h1.75v1.75h-1.75zM325.8 34.0h1.75v1.75h-1.75zM284.1 43.2h1.75v1.75h-1.75zM311.7 44.8h1.75v1.75h-1.75zM307.1 43.3h1.75v1.75h-1.75zM317.9 26.3h1.75v1.75h-1.75zM281.1 53.1h1.75v1.75h-1.75zM317.1 39.7h1.75v1.75h-1.75zM304.3 43.7h1.75v1.75h-1.75zM290.2 40.2h1.75v1.75h-1.75zM296.0 52.1h1.75v1.75h-1.75zM299.4 35.6h1.75v1.75h-1.75zM306.6 36.2h1.75v1.75h-1.75zM290.2 43.0h1.75v1.75h-1.75zM281.0 46.7h1.75v1.75h-1.75zM305.5 40.2h1.75v1.75h-1.75zM301.8 33.9h1.75v1.75h-1.75zM316.1 61.7h1.75v1.75h-1.75zM315.3 30.6h1.75v1.75h-1.75zM275.5 43.2h1.75v1.75h-1.75zM300.8 34.8h1.75v1.75h-1.75zM305.5 47.2h1.75v1.75h-1.75zM286.5 38.9h1.75v1.75h-1.75zM312.3 27.8h1.75v1.75h-1.75zM326.7 45.6h1.75v1.75h-1.75zM299.4 45.7h1.75v1.75h-1.75zM290.4 32.4h1.75v1.75h-1.75zM313.0 35.6h1.75v1.75h-1.75zM302.1 38.3h1.75v1.75h-1.75zM303.5 31.6h1.75v1.75h-1.75zM305.0 37.6h1.75v1.75h-1.75zM295.1 43.3h1.75v1.75h-1.75zM301.5 54.9h1.75v1.75h-1.75zM291.2 57.8h1.75v1.75h-1.75zM273.3 35.7h1.75v1.75h-1.75zM328.9 33.0h1.75v1.75h-1.75zM309.3 52.7h1.75v1.75h-1.75zM300.0 33.2h1.75v1.75h-1.75zM321.1 42.4h1.75v1.75h-1.75zM299.4 40.4h1.75v1.75h-1.75zM317.8 33.6h1.75v1.75h-1.75zM323.2 61.8h1.75v1.75h-1.75zM297.4 38.0h1.75v1.75h-1.75zM283.4 36.7h1.75v1.75h-1.75zM308.4 42.1h1.75v1.75h-1.75zM304.8 39.5h1.75v1.75h-1.75zM328.0 55.9h1.75v1.75h-1.75zM279.2 39.4h1.75v1.75h-1.75zM299.7 35.9h1.75v1.75h-1.75zM304.9 34.9h1.75v1.75h-1.75zM310.6 49.8h1.75v1.75h-1.75zM303.2 34.7h1.75v1.75h-1.75zM309.7 36.3h1.75v1.75h-1.75zM241.2 31.0h1.75v1.75h-1.75zM297.0 40.9h1.75v1.75h-1.75zM291.8 35.9h1.75v1.75h-1.75zM279.1 39.1h1.75v1.75h-1.75zM303.1 22.5h1.75v1.75h-1.75zM295.8 42.9h1.75v1.75h-1.75zM284.7 32.1h1.75v1.75h-1.75zM281.3 40.7h1.75v1.75h-1.75zM306.1 51.9h1.75v1.75h-1.75zM264.7 37.0h1.75v1.75h-1.75zM299.1 24.0h1.75v1.75h-1.75zM285.2 35.0h1.75v1.75h-1.75zM303.4 34.9h1.75v1.75h-1.75zM351.5 51.7h1.75v1.75h-1.75zM316.2 38.5h1.75v1.75h-1.75zM300.6 51.1h1.75v1.75h-1.75zM323.3 27.6h1.75v1.75h-1.75zM328.8 29.3h1.75v1.75h-1.75zM315.9 48.6h1.75v1.75h-1.75zM328.4 43.8h1.75v1.75h-1.75zM304.7 50.0h1.75v1.75h-1.75zM318.4 50.7h1.75v1.75h-1.75zM300.4 44.0h1.75v1.75h-1.75zM296.1 49.5h1.75v1.75h-1.75zM302.0 44.2h1.75v1.75h-1.75zM290.4 35.9h1.75v1.75h-1.75zM300.2 42.9h1.75v1.75h-1.75zM312.0 42.1h1.75v1.75h-1.75zM298.9 40.0h1.75v1.75h-1.75zM326.7 50.4h1.75v1.75h-1.75zM322.7 34.0h1.75v1.75h-1.75zM286.2 49.2h1.75v1.75h-1.75zM291.6 43.4h1.75v1.75h-1.75zM326.8 50.6h1.75v1.75h-1.75zM303.1 37.0h1.75v1.75h-1.75zM306.8 54.7h1.75v1.75h-1.75zM294.1 36.5h1.75v1.75h-1.75zM285.7 26.2h1.75v1.75h-1.75zM318.4 38.3h1.75v1.75h-1.75zM309.6 33.4h1.75v1.75h-1.75zM328.7 39.6h1.75v1.75h-1.75zM309.5 36.2h1.75v1.75h-1.75zM298.7 37.6h1.75v1.75h-1.75zM318.6 24.9h1.75v1.75h-1.75zM309.9 33.2h1.75v1.75h-1.75zM295.1 41.1h1.75v1.75h-1.75zM305.6 50.0h1.75v1.75h-1.75zM284.1 41.2h1.75v1.75h-1.75zM276.2 34.8h1.75v1.75h-1.75zM293.7 54.6h1.75v1.75h-1.75zM276.1 39.4h1.75v1.75h-1.75zM292.4 54.1h1.75v1.75h-1.75zM299.8 32.3h1.75v1.75h-1.75zM304.3 26.8h1.75v1.75h-1.75zM328.7 34.2h1.75v1.75h-1.75zM288.1 43.7h1.75v1.75h-1.75zM294.9 34.7h1.75v1.75h-1.75zM294.8 30.6h1.75v1.75h-1.75zM275.1 17.5h1.75v1.75h-1.75zM331.0 30.1h1.75v1.75h-1.75zM290.1 32.3h1.75v1.75h-1.75zM298.0 47.9h1.75v1.75h-1.75zM298.8 41.3h1.75v1.75h-1.75zM336.9 37.2h1.75v1.75h-1.75zM296.9 40.2h1.75v1.75h-1.75zM281.2 66.4h1.75v1.75h-1.75zM319.4 42.0h1.75v1.75h-1.75zM291.7 45.8h1.75v1.75h-1.75zM270.5 38.8h1.75v1.75h-1.75zM317.8 38.1h1.75v1.75h-1.75zM314.9 51.5h1.75v1.75h-1.75zM280.4 46.2h1.75v1.75h-1.75zM283.1 39.3h1.75v1.75h-1.75zM300.7 48.5h1.75v1.75h-1.75zM287.0 40.8h1.75v1.75h-1.75zM260.9 51.4h1.75v1.75h-1.75zM283.6 45.9h1.75v1.75h-1.75zM327.2 34.2h1.75v1.75h-1.75zM316.8 41.8h1.75v1.75h-1.75zM285.4 44.7h1.75v1.75h-1.75zM298.7 29.2h1.75v1.75h-1.75zM303.4 44.7h1.75v1.75h-1.75zM295.9 40.9h1.75v1.75h-1.75zM300.3 40.6h1.75v1.75h-1.75zM326.5 18.2h1.75v1.75h-1.75zM283.6 31.8h1.75v1.75h-1.75zM280.0 28.7h1.75v1.75h-1.75zM300.1 43.5h1.75v1.75h-1.75zM282.4 28.9h1.75v1.75h-1.75zM294.2 32.2h1.75v1.75h-1.75zM294.2 49.4h1.75v1.75h-1.75zM286.0 37.4h1.75v1.75h-1.75zM332.1 18.4h1.75v1.75h-1.75zM290.8 27.0h1.75v1.75h-1.75zM320.0 38.9h1.75v1.75h-1.75zM288.1 23.3h1.75v1.75h-1.75zM287.1 45.7h1.75v1.75h-1.75zM304.2 32.8h1.75v1.75h-1.75zM296.7 36.6h1.75v1.75h-1.75zM313.0 48.5h1.75v1.75h-1.75zM310.5 33.1h1.75v1.75h-1.75zM257.1 45.2h1.75v1.75h-1.75zM285.1 41.2h1.75v1.75h-1.75zM298.7 56.4h1.75v1.75h-1.75zM297.3 31.7h1.75v1.75h-1.75zM299.7 43.9h1.75v1.75h-1.75zM338.7 50.1h1.75v1.75h-1.75zM267.1 38.4h1.75v1.75h-1.75zM310.5 40.7h1.75v1.75h-1.75zM297.1 48.7h1.75v1.75h-1.75zM300.6 44.6h1.75v1.75h-1.75zM316.5 33.9h1.75v1.75h-1.75zM299.6 34.3h1.75v1.75h-1.75zM312.2 52.4h1.75v1.75h-1.75zM319.6 33.4h1.75v1.75h-1.75zM318.2 33.3h1.75v1.75h-1.75zM272.9 31.7h1.75v1.75h-1.75zM290.8 44.0h1.75v1.75h-1.75zM281.2 46.1h1.75v1.75h-1.75zM288.8 41.1h1.75v1.75h-1.75zM297.5 45.3h1.75v1.75h-1.75zM331.2 42.5h1.75v1.75h-1.75zM290.9 44.9h1.75v1.75h-1.75zM295.9 42.6h1.75v1.75h-1.75zM297.8 44.1h1.75v1.75h-1.75zM322.5 40.3h1.75v1.75h-1.75zM292.0 39.2h1.75v1.75h-1.75zM307.0 42.4h1.75v1.75h-1.75zM312.5 44.6h1.75v1.75h-1.75zM308.8 28.5h1.75v1.75h-1.75zM270.2 33.3h1.75v1.75h-1.75zM280.8 36.7h1.75v1.75h-1.75zM310.2 47.1h1.75v1.75h-1.75zM251.8 31.2h1.75v1.75h-1.75zM296.6 41.6h1.75v1.75h-1.75zM277.5 35.9h1.75v1.75h-1.75zM305.7 38.7h1.75v1.75h-1.75zM299.1 21.6h1.75v1.75h-1.75zM276.7 40.2h1.75v1.75h-1.75zM296.0 48.0h1.75v1.75h-1.75zM283.9 32.3h1.75v1.75h-1.75zM283.3 24.4h1.75v1.75h-1.75zM318.1 30.6h1.75v1.75h-1.75zM303.7 60.1h1.75v1.75h-1.75zM304.6 47.6h1.75v1.75h-1.75zM322.3 46.8h1.75v1.75h-1.75zM301.0 62.3h1.75v1.75h-1.75zM318.9 39.8h1.75v1.75h-1.75zM305.4 35.7h1.75v1.75h-1.75zM303.5 32.6h1.75v1.75h-1.75zM294.2 33.8h1.75v1.75h-1.75zM287.3 40.4h1.75v1.75h-1.75zM284.3 29.0h1.75v1.75h-1.75zM285.8 38.8h1.75v1.75h-1.75zM307.3 61.9h1.75v1.75h-1.75zM305.6 43.2h1.75v1.75h-1.75zM287.2 46.4h1.75v1.75h-1.75zM317.7 38.4h1.75v1.75h-1.75zM290.2 44.0h1.75v1.75h-1.75zM293.9 43.3h1.75v1.75h-1.75zM279.4 30.5h1.75v1.75h-1.75zM287.3 46.6h1.75v1.75h-1.75zM312.5 51.4h1.75v1.75h-1.75zM309.9 37.8h1.75v1.75h-1.75zM290.3 36.2h1.75v1.75h-1.75zM317.8 42.1h1.75v1.75h-1.75zM298.7 41.2h1.75v1.75h-1.75zM300.8 45.6h1.75v1.75h-1.75zM315.2 51.2h1.75v1.75h-1.75zM310.5 51.6h1.75v1.75h-1.75zM294.8 49.2h1.75v1.75h-1.75zM270.5 24.5h1.75v1.75h-1.75zM318.6 43.3h1.75v1.75h-1.75zM265.2 30.4h1.75v1.75h-1.75zM290.6 42.2h1.75v1.75h-1.75zM274.1 48.0h1.75v1.75h-1.75zM291.1 39.8h1.75v1.75h-1.75zM312.1 39.8h1.75v1.75h-1.75zM294.8 31.2h1.75v1.75h-1.75zM293.4 56.5h1.75v1.75h-1.75zM299.0 44.4h1.75v1.75h-1.75zM328.4 38.4h1.75v1.75h-1.75zM319.8 47.1h1.75v1.75h-1.75zM304.4 39.9h1.75v1.75h-1.75zM281.5 45.3h1.75v1.75h-1.75zM293.9 30.5h1.75v1.75h-1.75zM304.7 31.8h1.75v1.75h-1.75zM296.3 56.7h1.75v1.75h-1.75zM298.0 52.8h1.75v1.75h-1.75zM284.5 47.1h1.75v1.75h-1.75zM279.9 41.7h1.75v1.75h-1.75zM283.7 42.3h1.75v1.75h-1.75zM304.8 48.4h1.75v1.75h-1.75zM286.3 36.6h1.75v1.75h-1.75zM336.9 34.9h1.75v1.75h-1.75zM308.1 40.5h1.75v1.75h-1.75zM309.6 43.5h1.75v1.75h-1.75zM314.6 41.0h1.75v1.75h-1.75zM284.9 47.4h1.75v1.75h-1.75zM283.1 34.9h1.75v1.75h-1.75zM296.9 34.9h1.75v1.75h-1.75zM309.0 48.2h1.75v1.75h-1.75zM314.1 21.7h1.75v1.75h-1.75zM324.5 41.7h1.75v1.75h-1.75zM321.0 35.1h1.75v1.75h-1.75zM316.0 41.3h1.75v1.75h-1.75zM317.4 42.6h1.75v1.75h-1.75zM304.9 35.8h1.75v1.75h-1.75zM323.4 54.6h1.75v1.75h-1.75zM297.2 43.0h1.75v1.75h-1.75zM295.2 50.1h1.75v1.75h-1.75zM315.1 37.5h1.75v1.75h-1.75zM277.5 42.7h1.75v1.75h-1.75zM322.0 43.7h1.75v1.75h-1.75zM328.7 45.3h1.75v1.75h-1.75zM294.8 36.3h1.75v1.75h-1.75zM312.9 39.2h1.75v1.75h-1.75zM304.5 42.8h1.75v1.75h-1.75zM287.9 44.5h1.75v1.75h-1.75zM307.6 27.8h1.75v1.75h-1.75zM310.0 29.9h1.75v1.75h-1.75zM317.0 49.7h1.75v1.75h-1.75zM297.6 32.0h1.75v1.75h-1.75zM304.5 37.2h1.75v1.75h-1.75zM293.6 38.8h1.75v1.75h-1.75zM317.1 38.0h1.75v1.75h-1.75zM301.0 51.4h1.75v1.75h-1.75zM315.0 22.6h1.75v1.75h-1.75zM292.7 25.6h1.75v1.75h-1.75zM304.2 40.8h1.75v1.75h-1.75zM279.9 40.8h1.75v1.75h-1.75zM291.7 39.9h1.75v1.75h-1.75zM318.6 46.2h1.75v1.75h-1.75zM299.8 37.0h1.75v1.75h-1.75zM301.2 41.4h1.75v1.75h-1.75zM313.1 49.3h1.75v1.75h-1.75zM290.7 44.8h1.75v1.75h-1.75zM330.7 46.2h1.75v1.75h-1.75zM283.2 49.4h1.75v1.75h-1.75zM296.8 43.7h1.75v1.75h-1.75zM334.1 36.7h1.75v1.75h-1.75zM277.6 44.3h1.75v1.75h-1.75zM328.1 53.6h1.75v1.75h-1.75zM308.1 30.5h1.75v1.75h-1.75zM309.9 45.7h1.75v1.75h-1.75zM287.2 30.4h1.75v1.75h-1.75zM304.9 39.5h1.75v1.75h-1.75zM270.2 33.9h1.75v1.75h-1.75zM316.9 47.7h1.75v1.75h-1.75zM298.8 40.6h1.75v1.75h-1.75zM292.9 44.1h1.75v1.75h-1.75zM290.3 42.2h1.75v1.75h-1.75zM300.0 37.7h1.75v1.75h-1.75zM316.4 44.3h1.75v1.75h-1.75zM307.5 35.1h1.75v1.75h-1.75zM291.1 51.8h1.75v1.75h-1.75zM289.5 49.3h1.75v1.75h-1.75zM275.8 35.5h1.75v1.75h-1.75zM313.6 37.4h1.75v1.75h-1.75zM309.0 33.3h1.75v1.75h-1.75zM285.9 29.1h1.75v1.75h-1.75zM278.5 37.7h1.75v1.75h-1.75zM301.1 35.6h1.75v1.75h-1.75zM293.6 39.3h1.75v1.75h-1.75zM309.5 40.1h1.75v1.75h-1.75zM300.1 41.9h1.75v1.75h-1.75zM307.2 40.3h1.75v1.75h-1.75zM313.5 45.4h1.75v1.75h-1.75zM316.9 42.4h1.75v1.75h-1.75zM296.5 30.4h1.75v1.75h-1.75zM312.1 37.5h1.75v1.75h-1.75zM293.4 32.5h1.75v1.75h-1.75zM284.2 44.5h1.75v1.75h-1.75zM304.9 43.8h1.75v1.75h-1.75zM319.0 38.0h1.75v1.75h-1.75zM322.1 47.6h1.75v1.75h-1.75zM300.1 53.2h1.75v1.75h-1.75zM276.7 36.4h1.75v1.75h-1.75zM306.2 43.5h1.75v1.75h-1.75zM298.4 34.7h1.75v1.75h-1.75zM310.5 40.6h1.75v1.75h-1.75zM329.5 47.4h1.75v1.75h-1.75zM295.2 49.0h1.75v1.75h-1.75zM283.0 25.3h1.75v1.75h-1.75zM295.8 41.9h1.75v1.75h-1.75zM283.7 53.4h1.75v1.75h-1.75zM287.0 52.4h1.75v1.75h-1.75zM304.4 50.7h1.75v1.75h-1.75zM282.2 47.0h1.75v1.75h-1.75zM293.9 25.1h1.75v1.75h-1.75zM296.5 48.2h1.75v1.75h-1.75zM292.4 39.2h1.75v1.75h-1.75zM309.9 39.9h1.75v1.75h-1.75zM294.5 66.3h1.75v1.75h-1.75zM300.0 51.1h1.75v1.75h-1.75zM312.6 35.6h1.75v1.75h-1.75zM299.0 56.9h1.75v1.75h-1.75zM280.2 33.1h1.75v1.75h-1.75zM294.3 41.6h1.75v1.75h-1.75zM294.3 54.2h1.75v1.75h-1.75zM310.1 27.9h1.75v1.75h-1.75zM324.9 42.8h1.75v1.75h-1.75zM303.9 30.0h1.75v1.75h-1.75zM299.1 40.2h1.75v1.75h-1.75zM322.0 47.5h1.75v1.75h-1.75zM291.0 33.3h1.75v1.75h-1.75zM308.4 18.3h1.75v1.75h-1.75zM307.8 32.3h1.75v1.75h-1.75zM300.2 50.7h1.75v1.75h-1.75zM295.9 34.0h1.75v1.75h-1.75zM303.5 50.6h1.75v1.75h-1.75zM322.7 46.4h1.75v1.75h-1.75zM309.1 31.8h1.75v1.75h-1.75zM285.3 61.6h1.75v1.75h-1.75zM305.1 23.1h1.75v1.75h-1.75zM314.7 53.5h1.75v1.75h-1.75zM326.5 51.7h1.75v1.75h-1.75zM312.5 36.3h1.75v1.75h-1.75zM303.7 43.4h1.75v1.75h-1.75zM336.3 44.7h1.75v1.75h-1.75zM313.6 48.9h1.75v1.75h-1.75zM303.0 36.4h1.75v1.75h-1.75zM291.4 40.1h1.75v1.75h-1.75zM302.2 42.5h1.75v1.75h-1.75zM314.5 48.1h1.75v1.75h-1.75zM285.6 53.0h1.75v1.75h-1.75zM278.1 41.8h1.75v1.75h-1.75zM308.2 58.3h1.75v1.75h-1.75zM279.0 46.7h1.75v1.75h-1.75zM282.3 37.1h1.75v1.75h-1.75zM297.9 36.7h1.75v1.75h-1.75zM297.4 45.0h1.75v1.75h-1.75zM303.1 37.8h1.75v1.75h-1.75zM313.9 30.6h1.75v1.75h-1.75zM297.6 41.8h1.75v1.75h-1.75zM288.9 32.2h1.75v1.75h-1.75zM260.3 33.9h1.75v1.75h-1.75zM318.4 54.6h1.75v1.75h-1.75zM311.8 43.6h1.75v1.75h-1.75zM309.5 45.6h1.75v1.75h-1.75zM300.2 30.0h1.75v1.75h-1.75zM287.9 33.7h1.75v1.75h-1.75zM307.3 41.0h1.75v1.75h-1.75zM297.9 34.7h1.75v1.75h-1.75zM281.0 35.0h1.75v1.75h-1.75zM315.1 47.2h1.75v1.75h-1.75zM280.1 43.1h1.75v1.75h-1.75zM294.2 42.5h1.75v1.75h-1.75zM325.5 45.1h1.75v1.75h-1.75zM288.8 44.2h1.75v1.75h-1.75zM304.1 39.3h1.75v1.75h-1.75zM315.4 51.7h1.75v1.75h-1.75zM300.4 50.5h1.75v1.75h-1.75zM280.1 35.8h1.75v1.75h-1.75zM286.7 21.7h1.75v1.75h-1.75zM299.5 27.7h1.75v1.75h-1.75zM278.8 55.0h1.75v1.75h-1.75zM320.6 39.1h1.75v1.75h-1.75zM304.7 48.2h1.75v1.75h-1.75zM310.3 46.0h1.75v1.75h-1.75zM303.9 43.6h1.75v1.75h-1.75zM305.5 38.9h1.75v1.75h-1.75zM294.9 37.6h1.75v1.75h-1.75zM279.0 60.0h1.75v1.75h-1.75zM309.6 46.5h1.75v1.75h-1.75zM300.5 33.7h1.75v1.75h-1.75zM322.4 41.1h1.75v1.75h-1.75zM283.4 54.0h1.75v1.75h-1.75zM302.3 49.4h1.75v1.75h-1.75zM331.1 48.2h1.75v1.75h-1.75zM280.8 34.2h1.75v1.75h-1.75zM282.9 28.6h1.75v1.75h-1.75zM303.2 50.2h1.75v1.75h-1.75zM324.2 38.3h1.75v1.75h-1.75zM282.9 44.0h1.75v1.75h-1.75zM300.7 37.7h1.75v1.75h-1.75zM297.2 43.7h1.75v1.75h-1.75zM291.8 50.4h1.75v1.75h-1.75zM296.2 46.9h1.75v1.75h-1.75zM317.3 47.1h1.75v1.75h-1.75zM301.7 31.1h1.75v1.75h-1.75zM264.6 52.9h1.75v1.75h-1.75zM290.9 37.8h1.75v1.75h-1.75zM301.1 48.4h1.75v1.75h-1.75zM279.6 47.0h1.75v1.75h-1.75zM289.7 40.3h1.75v1.75h-1.75zM293.8 46.3h1.75v1.75h-1.75zM269.5 27.1h1.75v1.75h-1.75zM326.2 32.3h1.75v1.75h-1.75zM276.4 50.5h1.75v1.75h-1.75zM300.5 38.2h1.75v1.75h-1.75zM293.7 22.4h1.75v1.75h-1.75zM290.9 51.1h1.75v1.75h-1.75zM316.9 45.3h1.75v1.75h-1.75zM300.4 30.9h1.75v1.75h-1.75zM287.6 48.2h1.75v1.75h-1.75zM316.3 37.4h1.75v1.75h-1.75zM307.4 42.7h1.75v1.75h-1.75zM284.7 40.7h1.75v1.75h-1.75zM258.7 56.8h1.75v1.75h-1.75zM312.2 42.7h1.75v1.75h-1.75zM297.6 45.4h1.75v1.75h-1.75zM278.6 28.7h1.75v1.75h-1.75zM307.4 37.3h1.75v1.75h-1.75zM278.9 41.1h1.75v1.75h-1.75zM289.6 42.2h1.75v1.75h-1.75zM287.8 36.8h1.75v1.75h-1.75zM271.1 54.0h1.75v1.75h-1.75zM309.4 49.8h1.75v1.75h-1.75zM349.9 49.4h1.75v1.75h-1.75zM308.8 48.2h1.75v1.75h-1.75zM308.7 65.4h1.75v1.75h-1.75zM295.9 38.2h1.75v1.75h-1.75zM298.6 45.7h1.75v1.75h-1.75zM303.6 32.7h1.75v1.75h-1.75zM308.6 43.1h1.75v1.75h-1.75zM292.4 44.9h1.75v1.75h-1.75zM300.3 38.8h1.75v1.75h-1.75zM296.7 38.9h1.75v1.75h-1.75zM307.8 44.4h1.75v1.75h-1.75zM313.4 37.9h1.75v1.75h-1.75zM315.7 32.8h1.75v1.75h-1.75zM293.6 45.5h1.75v1.75h-1.75zM293.1 32.4h1.75v1.75h-1.75zM310.0 43.7h1.75v1.75h-1.75zM296.5 35.6h1.75v1.75h-1.75zM297.2 42.5h1.75v1.75h-1.75zM307.0 45.1h1.75v1.75h-1.75zM309.4 39.1h1.75v1.75h-1.75zM319.5 50.7h1.75v1.75h-1.75zM283.0 54.1h1.75v1.75h-1.75zM316.7 42.6h1.75v1.75h-1.75zM293.8 44.0h1.75v1.75h-1.75zM310.3 50.7h1.75v1.75h-1.75zM282.0 26.1h1.75v1.75h-1.75zM298.8 39.1h1.75v1.75h-1.75zM291.8 47.6h1.75v1.75h-1.75zM346.1 36.4h1.75v1.75h-1.75zM287.1 38.0h1.75v1.75h-1.75zM317.2 45.2h1.75v1.75h-1.75zM289.2 43.9h1.75v1.75h-1.75zM284.7 56.1h1.75v1.75h-1.75zM305.3 40.5h1.75v1.75h-1.75zM316.1 28.1h1.75v1.75h-1.75zM300.0 33.6h1.75v1.75h-1.75zM309.5 34.4h1.75v1.75h-1.75zM304.3 46.6h1.75v1.75h-1.75zM300.1 50.3h1.75v1.75h-1.75zM320.9 35.6h1.75v1.75h-1.75zM301.1 39.9h1.75v1.75h-1.75zM313.5 43.7h1.75v1.75h-1.75zM284.4 44.4h1.75v1.75h-1.75zM298.3 35.1h1.75v1.75h-1.75zM314.6 37.5h1.75v1.75h-1.75zM294.5 45.6h1.75v1.75h-1.75zM270.3 42.8h1.75v1.75h-1.75zM312.0 54.8h1.75v1.75h-1.75zM309.5 51.1h1.75v1.75h-1.75zM297.1 37.9h1.75v1.75h-1.75zM302.8 45.6h1.75v1.75h-1.75zM296.4 48.6h1.75v1.75h-1.75zM306.8 40.2h1.75v1.75h-1.75zM317.2 32.8h1.75v1.75h-1.75zM305.8 48.5h1.75v1.75h-1.75zM300.1 44.6h1.75v1.75h-1.75zM294.4 44.1h1.75v1.75h-1.75zM299.1 23.8h1.75v1.75h-1.75zM294.1 34.5h1.75v1.75h-1.75zM315.3 40.3h1.75v1.75h-1.75zM286.2 52.8h1.75v1.75h-1.75zM286.4 32.7h1.75v1.75h-1.75zM306.5 37.9h1.75v1.75h-1.75zM306.3 43.7h1.75v1.75h-1.75zM305.1 47.8h1.75v1.75h-1.75zM290.7 49.1h1.75v1.75h-1.75zM306.8 65.4h1.75v1.75h-1.75zM281.0 45.0h1.75v1.75h-1.75zM279.6 45.5h1.75v1.75h-1.75zM268.4 55.1h1.75v1.75h-1.75zM311.5 47.5h1.75v1.75h-1.75zM321.2 54.1h1.75v1.75h-1.75zM295.4 33.7h1.75v1.75h-1.75zM293.6 43.4h1.75v1.75h-1.75zM297.4 51.0h1.75v1.75h-1.75zM327.7 36.6h1.75v1.75h-1.75zM304.8 38.1h1.75v1.75h-1.75zM304.7 49.9h1.75v1.75h-1.75zM293.7 52.0h1.75v1.75h-1.75zM309.0 42.8h1.75v1.75h-1.75zM320.6 38.9h1.75v1.75h-1.75zM304.6 37.5h1.75v1.75h-1.75zM290.3 35.3h1.75v1.75h-1.75zM320.8 36.0h1.75v1.75h-1.75zM301.6 53.3h1.75v1.75h-1.75zM327.5 41.5h1.75v1.75h-1.75zM286.8 56.1h1.75v1.75h-1.75zM299.8 35.0h1.75v1.75h-1.75zM305.8 39.2h1.75v1.75h-1.75zM276.8 35.0h1.75v1.75h-1.75zM303.3 42.0h1.75v1.75h-1.75zM318.3 43.4h1.75v1.75h-1.75zM300.1 46.3h1.75v1.75h-1.75zM308.2 63.1h1.75v1.75h-1.75zM304.5 43.8h1.75v1.75h-1.75zM289.7 23.0h1.75v1.75h-1.75zM312.2 32.7h1.75v1.75h-1.75zM291.0 43.8h1.75v1.75h-1.75zM297.5 39.8h1.75v1.75h-1.75zM291.2 38.8h1.75v1.75h-1.75zM310.9 46.6h1.75v1.75h-1.75zM295.0 42.2h1.75v1.75h-1.75zM294.9 39.6h1.75v1.75h-1.75zM246.7 49.5h1.75v1.75h-1.75zM297.7 38.8h1.75v1.75h-1.75zM316.0 33.1h1.75v1.75h-1.75zM271.7 35.8h1.75v1.75h-1.75zM306.9 40.2h1.75v1.75h-1.75zM301.0 43.4h1.75v1.75h-1.75zM276.7 36.6h1.75v1.75h-1.75zM295.6 46.1h1.75v1.75h-1.75zM315.2 46.9h1.75v1.75h-1.75zM301.5 32.6h1.75v1.75h-1.75zM306.6 44.9h1.75v1.75h-1.75zM317.5 52.3h1.75v1.75h-1.75zM297.0 35.7h1.75v1.75h-1.75zM314.0 36.8h1.75v1.75h-1.75zM283.8 33.6h1.75v1.75h-1.75zM289.3 42.7h1.75v1.75h-1.75zM322.3 33.6h1.75v1.75h-1.75zM321.0 43.1h1.75v1.75h-1.75zM315.0 49.6h1.75v1.75h-1.75zM280.2 43.2h1.75v1.75h-1.75zM296.2 39.4h1.75v1.75h-1.75zM289.0 50.0h1.75v1.75h-1.75zM329.1 43.5h1.75v1.75h-1.75zM282.5 40.0h1.75v1.75h-1.75zM283.6 45.0h1.75v1.75h-1.75zM293.3 41.3h1.75v1.75h-1.75zM306.5 42.2h1.75v1.75h-1.75zM293.5 47.9h1.75v1.75h-1.75zM297.5 39.4h1.75v1.75h-1.75zM306.1 37.7h1.75v1.75h-1.75zM302.3 56.8h1.75v1.75h-1.75zM275.1 46.8h1.75v1.75h-1.75zM284.0 35.7h1.75v1.75h-1.75zM325.2 38.7h1.75v1.75h-1.75zM303.6 67.8h1.75v1.75h-1.75zM327.9 40.2h1.75v1.75h-1.75zM322.8 31.5h1.75v1.75h-1.75zM317.8 35.4h1.75v1.75h-1.75zM213.1 45.4h1.75v1.75h-1.75zM241.9 39.1h1.75v1.75h-1.75z"/>
<text x="233.25" y="75.20" font-size="4.6" font-family='"Liberation Sans", sans-serif' fill="#4d4d4d" text-anchor="middle">1</text>
<text x="269.17" y="75.20" font-size="4.6" font-family='"Liberation Sans", sans-serif' fill="#4d4d4d" text-anchor="middle">2</text>
<text x="305.08" y="75.20" font-size="4.6" font-family='"Liberation Sans", sans-serif' fill="#4d4d4d" text-anchor="middle">3</text>
<text x="341.00" y="75.20" font-size="4.6" font-family='"Liberation Sans", sans-serif' fill="#4d4d4d" text-anchor="middle">4</text>
<text x="206.30" y="71.50" font-size="4.6" font-family='"Liberation Sans", sans-serif' fill="#4d4d4d" text-anchor="end">2.8</text>
<text x="206.30" y="56.70" font-size="4.6" font-family='"Liberation Sans", sans-serif' fill="#4d4d4d" text-anchor="end">3.2</text>
<text x="206.30" y="41.90" font-size="4.6" font-family='"Liberation Sans", sans-serif' fill="#4d4d4d" text-anchor="end">3.6</text>
<text x="206.30" y="27.10" font-size="4.6" font-family='"Liberation Sans", sans-serif' fill="#4d4d4d" text-anchor="end">4.0</text>
<text x="199.40" y="43.40" font-size="4.7" font-family='"Liberation Sans", sans-serif' fill="#111" text-anchor="middle" font-weight="bold" textLength="55.40" lengthAdjust="spacingAndGlyphs" transform="rotate(-90 199.40 43.40)">Log10 expression of AKT1</text>
<text x="283.20" y="79.30" font-size="4.7" font-family='"Liberation Sans", sans-serif' fill="#111" text-anchor="middle" font-weight="bold" textLength="57.40" lengthAdjust="spacingAndGlyphs">Log10 expression of BIRC5</text>
<text x="243.20" y="54.50" font-size="6.0" font-family='"Liberation Serif", serif' fill="#222" text-anchor="end">Size=1091</text>
<text x="243.20" y="61.40" font-size="6.0" font-family='"Liberation Serif", serif' fill="#222" text-anchor="end">P value=0.27</text>
<text x="243.20" y="68.30" font-size="6.0" font-family='"Liberation Serif", serif' fill="#222" text-anchor="end">R= - 0.03</text>
<rect x="28" y="88.3" width="148.70" height="55.00" fill="none" stroke="#ebebeb" stroke-width="0.7"/>
<polygon points="34.8,125.1 40.7,123.9 46.5,122.7 52.4,121.5 58.2,120.3 64.1,119.1 69.9,117.9 75.8,116.7 81.6,115.4 87.5,114.0 93.3,112.6 99.2,111.2 105.0,109.7 110.9,108.2 116.7,106.7 122.6,105.2 128.4,103.7 134.3,102.1 140.1,100.6 146.0,99.1 151.8,97.6 157.7,96.1 163.5,94.5 169.4,93.0 169.4,98.2 163.5,99.4 157.7,100.6 151.8,101.7 146.0,102.9 140.1,104.1 134.3,105.3 128.4,106.5 122.6,107.7 116.7,108.9 110.9,110.1 105.0,111.3 99.2,112.5 93.3,113.7 87.5,115.0 81.6,116.4 75.8,117.8 69.9,119.3 64.1,120.7 58.2,122.2 52.4,123.7 46.5,125.3 40.7,126.8 34.8,128.3" fill="#dedcd4"/>
<line x1="34.8" y1="126.7" x2="169.4" y2="95.6" stroke="#3f6ae8" stroke-width="1.25"/>
<path fill="#000" d="M95.0 112.0h1.75v1.75h-1.75zM71.6 121.6h1.75v1.75h-1.75zM76.5 111.8h1.75v1.75h-1.75zM45.6 106.3h1.75v1.75h-1.75zM75.0 122.2h1.75v1.75h-1.75zM134.9 105.7h1.75v1.75h-1.75zM75.0 113.4h1.75v1.75h-1.75zM52.6 127.5h1.75v1.75h-1.75zM89.2 107.2h1.75v1.75h-1.75zM33.6 132.6h1.75v1.75h-1.75zM134.3 110.4h1.75v1.75h-1.75zM91.8 118.7h1.75v1.75h-1.75zM69.5 111.2h1.75v1.75h-1.75zM67.2 132.6h1.75v1.75h-1.75zM52.6 121.1h1.75v1.75h-1.75zM79.2 128.6h1.75v1.75h-1.75zM76.5 111.8h1.75v1.75h-1.75zM33.6 122.8h1.75v1.75h-1.75zM101.5 106.3h1.75v1.75h-1.75zM67.2 104.0h1.75v1.75h-1.75zM45.6 124.1h1.75v1.75h-1.75zM100.1 103.4h1.75v1.75h-1.75zM95.0 108.0h1.75v1.75h-1.75zM61.4 111.8h1.75v1.75h-1.75zM57.6 125.7h1.75v1.75h-1.75zM104.3 102.3h1.75v1.75h-1.75zM64.6 120.6h1.75v1.75h-1.75zM81.5 105.3h1.75v1.75h-1.75zM111.5 101.6h1.75v1.75h-1.75zM45.6 121.6h1.75v1.75h-1.75zM33.6 119.6h1.75v1.75h-1.75zM52.6 116.5h1.75v1.75h-1.75zM61.4 117.2h1.75v1.75h-1.75zM76.5 98.6h1.75v1.75h-1.75zM101.9 114.4h1.75v1.75h-1.75zM64.6 127.5h1.75v1.75h-1.75zM120.3 113.4h1.75v1.75h-1.75zM82.6 115.2h1.75v1.75h-1.75zM33.6 124.9h1.75v1.75h-1.75zM75.0 111.2h1.75v1.75h-1.75zM95.0 104.6h1.75v1.75h-1.75zM105.2 106.9h1.75v1.75h-1.75zM57.6 117.9h1.75v1.75h-1.75zM73.4 121.6h1.75v1.75h-1.75zM134.5 95.3h1.75v1.75h-1.75zM80.4 105.5h1.75v1.75h-1.75zM52.6 121.1h1.75v1.75h-1.75zM33.6 117.6h1.75v1.75h-1.75zM64.6 121.6h1.75v1.75h-1.75zM86.2 112.7h1.75v1.75h-1.75zM45.6 120.6h1.75v1.75h-1.75zM112.3 101.3h1.75v1.75h-1.75zM57.6 129.8h1.75v1.75h-1.75zM33.6 123.5h1.75v1.75h-1.75zM94.0 105.3h1.75v1.75h-1.75zM77.9 112.4h1.75v1.75h-1.75zM71.6 111.8h1.75v1.75h-1.75zM110.4 122.8h1.75v1.75h-1.75zM61.4 124.1h1.75v1.75h-1.75zM95.5 113.4h1.75v1.75h-1.75zM64.6 122.8h1.75v1.75h-1.75zM119.7 119.6h1.75v1.75h-1.75zM77.9 108.1h1.75v1.75h-1.75zM77.9 113.4h1.75v1.75h-1.75zM92.9 123.5h1.75v1.75h-1.75zM75.0 118.7h1.75v1.75h-1.75zM89.2 112.2h1.75v1.75h-1.75zM71.6 110.4h1.75v1.75h-1.75zM93.5 107.3h1.75v1.75h-1.75zM79.2 121.1h1.75v1.75h-1.75zM64.6 122.8h1.75v1.75h-1.75zM92.4 110.4h1.75v1.75h-1.75zM89.9 106.2h1.75v1.75h-1.75zM52.6 124.1h1.75v1.75h-1.75zM69.5 121.1h1.75v1.75h-1.75zM33.6 119.6h1.75v1.75h-1.75zM80.4 113.9h1.75v1.75h-1.75zM99.4 101.7h1.75v1.75h-1.75zM140.2 97.8h1.75v1.75h-1.75zM85.4 107.3h1.75v1.75h-1.75zM104.6 121.1h1.75v1.75h-1.75zM115.7 115.0h1.75v1.75h-1.75zM96.4 120.6h1.75v1.75h-1.75zM33.6 131.1h1.75v1.75h-1.75zM64.6 115.9h1.75v1.75h-1.75zM86.2 115.2h1.75v1.75h-1.75zM85.4 110.6h1.75v1.75h-1.75zM80.4 119.6h1.75v1.75h-1.75zM52.6 113.6h1.75v1.75h-1.75zM33.6 117.6h1.75v1.75h-1.75zM87.8 124.1h1.75v1.75h-1.75zM107.7 115.2h1.75v1.75h-1.75zM64.6 122.8h1.75v1.75h-1.75zM91.8 107.2h1.75v1.75h-1.75zM64.6 113.1h1.75v1.75h-1.75zM73.4 105.4h1.75v1.75h-1.75zM61.4 129.8h1.75v1.75h-1.75zM99.0 109.4h1.75v1.75h-1.75zM52.6 121.6h1.75v1.75h-1.75zM81.5 116.5h1.75v1.75h-1.75zM101.2 111.2h1.75v1.75h-1.75zM77.9 128.6h1.75v1.75h-1.75zM45.6 120.6h1.75v1.75h-1.75zM87.8 116.2h1.75v1.75h-1.75zM73.4 124.9h1.75v1.75h-1.75zM45.6 111.4h1.75v1.75h-1.75zM73.4 121.1h1.75v1.75h-1.75zM69.5 116.2h1.75v1.75h-1.75zM93.5 116.5h1.75v1.75h-1.75zM64.6 129.8h1.75v1.75h-1.75zM80.4 118.3h1.75v1.75h-1.75zM93.5 110.2h1.75v1.75h-1.75zM33.6 136.7h1.75v1.75h-1.75zM102.8 106.9h1.75v1.75h-1.75zM77.9 105.0h1.75v1.75h-1.75zM52.6 112.2h1.75v1.75h-1.75zM81.5 116.8h1.75v1.75h-1.75zM104.3 114.7h1.75v1.75h-1.75zM61.4 112.9h1.75v1.75h-1.75zM64.6 128.6h1.75v1.75h-1.75zM112.8 114.1h1.75v1.75h-1.75zM117.8 95.6h1.75v1.75h-1.75zM128.6 101.5h1.75v1.75h-1.75zM79.2 112.2h1.75v1.75h-1.75zM52.6 123.5h1.75v1.75h-1.75zM52.6 98.7h1.75v1.75h-1.75zM69.5 96.6h1.75v1.75h-1.75zM52.6 122.2h1.75v1.75h-1.75zM88.5 107.6h1.75v1.75h-1.75zM110.1 109.7h1.75v1.75h-1.75zM52.6 117.2h1.75v1.75h-1.75zM115.6 98.0h1.75v1.75h-1.75zM52.6 110.6h1.75v1.75h-1.75zM61.4 120.6h1.75v1.75h-1.75zM45.6 118.7h1.75v1.75h-1.75zM96.4 92.9h1.75v1.75h-1.75zM75.0 109.5h1.75v1.75h-1.75zM77.9 105.9h1.75v1.75h-1.75zM33.6 119.6h1.75v1.75h-1.75zM61.4 119.6h1.75v1.75h-1.75zM85.4 120.1h1.75v1.75h-1.75zM33.6 134.5h1.75v1.75h-1.75zM128.0 113.9h1.75v1.75h-1.75zM86.2 120.1h1.75v1.75h-1.75zM105.7 114.1h1.75v1.75h-1.75zM69.5 112.0h1.75v1.75h-1.75zM101.2 120.1h1.75v1.75h-1.75zM111.0 104.7h1.75v1.75h-1.75zM143.9 112.2h1.75v1.75h-1.75zM52.6 99.8h1.75v1.75h-1.75zM131.8 106.3h1.75v1.75h-1.75zM52.6 119.6h1.75v1.75h-1.75zM82.6 102.8h1.75v1.75h-1.75zM69.5 118.3h1.75v1.75h-1.75zM75.0 115.0h1.75v1.75h-1.75zM33.6 123.5h1.75v1.75h-1.75zM71.6 112.9h1.75v1.75h-1.75zM45.6 126.6h1.75v1.75h-1.75zM73.4 104.9h1.75v1.75h-1.75zM86.2 105.8h1.75v1.75h-1.75zM80.4 113.6h1.75v1.75h-1.75zM76.5 107.6h1.75v1.75h-1.75zM115.1 107.0h1.75v1.75h-1.75zM87.8 116.2h1.75v1.75h-1.75zM95.0 111.8h1.75v1.75h-1.75zM114.0 103.7h1.75v1.75h-1.75zM77.9 124.9h1.75v1.75h-1.75zM82.6 116.2h1.75v1.75h-1.75zM96.9 107.7h1.75v1.75h-1.75zM73.4 122.8h1.75v1.75h-1.75zM111.7 105.2h1.75v1.75h-1.75zM64.6 125.7h1.75v1.75h-1.75zM73.4 115.0h1.75v1.75h-1.75zM76.5 115.9h1.75v1.75h-1.75zM71.6 114.4h1.75v1.75h-1.75zM79.2 119.6h1.75v1.75h-1.75zM67.2 131.1h1.75v1.75h-1.75zM67.2 127.5h1.75v1.75h-1.75zM98.2 116.2h1.75v1.75h-1.75zM52.6 134.5h1.75v1.75h-1.75zM94.0 102.6h1.75v1.75h-1.75zM45.6 116.2h1.75v1.75h-1.75zM116.5 100.8h1.75v1.75h-1.75zM75.0 123.5h1.75v1.75h-1.75zM67.2 110.6h1.75v1.75h-1.75zM33.6 132.6h1.75v1.75h-1.75zM33.6 113.4h1.75v1.75h-1.75zM64.6 118.7h1.75v1.75h-1.75zM61.4 136.7h1.75v1.75h-1.75zM61.4 119.6h1.75v1.75h-1.75zM64.6 124.9h1.75v1.75h-1.75zM102.5 94.1h1.75v1.75h-1.75zM67.2 126.6h1.75v1.75h-1.75zM67.2 120.1h1.75v1.75h-1.75zM57.6 122.2h1.75v1.75h-1.75zM52.6 127.5h1.75v1.75h-1.75zM87.0 117.9h1.75v1.75h-1.75zM67.2 118.3h1.75v1.75h-1.75zM67.2 115.5h1.75v1.75h-1.75zM85.4 116.5h1.75v1.75h-1.75zM79.2 116.8h1.75v1.75h-1.75zM97.8 110.8h1.75v1.75h-1.75zM96.9 117.2h1.75v1.75h-1.75zM45.6 124.9h1.75v1.75h-1.75zM57.6 120.1h1.75v1.75h-1.75zM102.5 103.2h1.75v1.75h-1.75zM67.2 113.4h1.75v1.75h-1.75zM94.0 108.6h1.75v1.75h-1.75zM52.6 113.9h1.75v1.75h-1.75zM33.6 132.6h1.75v1.75h-1.75zM33.6 114.7h1.75v1.75h-1.75zM61.4 122.2h1.75v1.75h-1.75zM67.2 119.2h1.75v1.75h-1.75zM138.3 104.2h1.75v1.75h-1.75zM97.3 106.9h1.75v1.75h-1.75zM96.0 115.5h1.75v1.75h-1.75zM101.9 106.3h1.75v1.75h-1.75zM33.6 129.8h1.75v1.75h-1.75zM79.2 118.7h1.75v1.75h-1.75zM75.0 113.9h1.75v1.75h-1.75zM129.0 109.4h1.75v1.75h-1.75zM61.4 110.8h1.75v1.75h-1.75zM45.6 129.8h1.75v1.75h-1.75zM80.4 118.3h1.75v1.75h-1.75zM73.4 109.1h1.75v1.75h-1.75zM81.5 124.1h1.75v1.75h-1.75zM84.5 108.4h1.75v1.75h-1.75zM82.6 114.1h1.75v1.75h-1.75zM61.4 118.7h1.75v1.75h-1.75zM67.2 116.8h1.75v1.75h-1.75zM138.5 107.6h1.75v1.75h-1.75zM61.4 107.6h1.75v1.75h-1.75zM92.4 109.1h1.75v1.75h-1.75zM52.6 116.5h1.75v1.75h-1.75zM33.6 118.3h1.75v1.75h-1.75zM102.5 103.9h1.75v1.75h-1.75zM84.5 112.4h1.75v1.75h-1.75zM113.8 113.6h1.75v1.75h-1.75zM107.2 117.2h1.75v1.75h-1.75zM87.0 122.2h1.75v1.75h-1.75zM61.4 122.8h1.75v1.75h-1.75zM130.4 97.4h1.75v1.75h-1.75zM82.6 123.5h1.75v1.75h-1.75zM136.4 104.6h1.75v1.75h-1.75zM99.7 107.2h1.75v1.75h-1.75zM105.5 111.8h1.75v1.75h-1.75zM98.2 112.9h1.75v1.75h-1.75zM94.5 119.2h1.75v1.75h-1.75zM77.9 115.0h1.75v1.75h-1.75zM143.0 104.7h1.75v1.75h-1.75zM61.4 124.9h1.75v1.75h-1.75zM45.6 127.5h1.75v1.75h-1.75zM90.5 110.8h1.75v1.75h-1.75zM67.2 112.0h1.75v1.75h-1.75zM108.2 116.5h1.75v1.75h-1.75zM77.9 112.9h1.75v1.75h-1.75zM113.5 115.0h1.75v1.75h-1.75zM85.4 126.6h1.75v1.75h-1.75zM64.6 124.1h1.75v1.75h-1.75zM75.0 116.5h1.75v1.75h-1.75zM100.8 111.2h1.75v1.75h-1.75zM67.2 116.2h1.75v1.75h-1.75zM61.4 134.5h1.75v1.75h-1.75zM77.9 107.3h1.75v1.75h-1.75zM91.2 107.9h1.75v1.75h-1.75zM114.5 103.5h1.75v1.75h-1.75zM93.5 122.8h1.75v1.75h-1.75zM104.9 106.9h1.75v1.75h-1.75zM77.9 119.2h1.75v1.75h-1.75zM130.1 107.0h1.75v1.75h-1.75zM138.8 101.9h1.75v1.75h-1.75zM64.6 131.1h1.75v1.75h-1.75zM89.2 106.5h1.75v1.75h-1.75zM79.2 109.2h1.75v1.75h-1.75zM90.5 108.0h1.75v1.75h-1.75zM75.0 107.9h1.75v1.75h-1.75zM64.6 131.1h1.75v1.75h-1.75zM45.6 125.7h1.75v1.75h-1.75zM69.5 120.1h1.75v1.75h-1.75zM82.6 122.8h1.75v1.75h-1.75zM109.1 103.7h1.75v1.75h-1.75zM96.9 95.4h1.75v1.75h-1.75zM71.6 124.1h1.75v1.75h-1.75zM64.6 115.0h1.75v1.75h-1.75zM45.6 122.8h1.75v1.75h-1.75zM99.7 109.9h1.75v1.75h-1.75zM84.5 113.6h1.75v1.75h-1.75zM97.8 106.9h1.75v1.75h-1.75zM101.5 114.4h1.75v1.75h-1.75zM96.0 114.1h1.75v1.75h-1.75zM79.2 105.0h1.75v1.75h-1.75zM75.0 116.5h1.75v1.75h-1.75zM57.6 120.6h1.75v1.75h-1.75zM64.6 131.1h1.75v1.75h-1.75zM92.9 109.4h1.75v1.75h-1.75zM139.6 97.7h1.75v1.75h-1.75zM71.6 115.5h1.75v1.75h-1.75zM87.8 103.7h1.75v1.75h-1.75zM163.5 108.6h1.75v1.75h-1.75zM83.5 108.9h1.75v1.75h-1.75zM73.4 127.5h1.75v1.75h-1.75zM81.5 121.6h1.75v1.75h-1.75zM75.0 128.6h1.75v1.75h-1.75zM33.6 118.7h1.75v1.75h-1.75zM102.2 111.2h1.75v1.75h-1.75zM33.6 131.1h1.75v1.75h-1.75zM64.6 119.2h1.75v1.75h-1.75zM69.5 132.6h1.75v1.75h-1.75zM91.2 116.8h1.75v1.75h-1.75zM73.4 115.9h1.75v1.75h-1.75zM67.2 122.8h1.75v1.75h-1.75zM57.6 121.6h1.75v1.75h-1.75zM85.4 124.1h1.75v1.75h-1.75zM69.5 117.2h1.75v1.75h-1.75zM61.4 122.2h1.75v1.75h-1.75zM45.6 122.2h1.75v1.75h-1.75zM57.6 109.4h1.75v1.75h-1.75zM81.5 115.0h1.75v1.75h-1.75zM33.6 132.6h1.75v1.75h-1.75zM81.5 113.1h1.75v1.75h-1.75zM79.2 122.8h1.75v1.75h-1.75zM107.0 99.3h1.75v1.75h-1.75zM61.4 120.1h1.75v1.75h-1.75zM52.6 122.2h1.75v1.75h-1.75zM75.0 113.9h1.75v1.75h-1.75zM67.2 127.5h1.75v1.75h-1.75zM33.6 127.5h1.75v1.75h-1.75zM107.2 111.2h1.75v1.75h-1.75zM82.6 101.9h1.75v1.75h-1.75zM80.4 106.9h1.75v1.75h-1.75zM57.6 107.6h1.75v1.75h-1.75zM85.4 114.4h1.75v1.75h-1.75zM69.5 117.6h1.75v1.75h-1.75zM117.1 100.8h1.75v1.75h-1.75zM94.0 117.2h1.75v1.75h-1.75zM113.0 114.1h1.75v1.75h-1.75zM45.6 111.0h1.75v1.75h-1.75zM52.6 118.7h1.75v1.75h-1.75zM64.6 116.5h1.75v1.75h-1.75zM61.4 132.6h1.75v1.75h-1.75zM117.6 110.1h1.75v1.75h-1.75zM85.4 117.9h1.75v1.75h-1.75zM45.6 129.8h1.75v1.75h-1.75zM69.5 116.5h1.75v1.75h-1.75zM123.4 111.8h1.75v1.75h-1.75zM69.5 126.6h1.75v1.75h-1.75zM92.4 101.0h1.75v1.75h-1.75zM33.6 122.8h1.75v1.75h-1.75zM61.4 127.5h1.75v1.75h-1.75zM71.6 104.3h1.75v1.75h-1.75zM69.5 114.7h1.75v1.75h-1.75zM76.5 114.4h1.75v1.75h-1.75zM85.4 131.1h1.75v1.75h-1.75zM106.0 100.5h1.75v1.75h-1.75zM33.6 124.9h1.75v1.75h-1.75zM77.9 108.4h1.75v1.75h-1.75zM94.5 101.6h1.75v1.75h-1.75zM82.6 123.5h1.75v1.75h-1.75zM105.7 97.9h1.75v1.75h-1.75zM73.4 111.8h1.75v1.75h-1.75zM64.6 118.3h1.75v1.75h-1.75zM52.6 139.6h1.75v1.75h-1.75zM99.7 98.5h1.75v1.75h-1.75zM45.6 120.6h1.75v1.75h-1.75zM64.6 114.7h1.75v1.75h-1.75zM75.0 124.1h1.75v1.75h-1.75zM91.8 108.9h1.75v1.75h-1.75zM69.5 114.1h1.75v1.75h-1.75zM52.6 109.9h1.75v1.75h-1.75zM91.2 118.7h1.75v1.75h-1.75zM57.6 124.9h1.75v1.75h-1.75zM33.6 136.7h1.75v1.75h-1.75zM80.4 113.6h1.75v1.75h-1.75zM79.2 116.5h1.75v1.75h-1.75zM33.6 124.1h1.75v1.75h-1.75zM69.5 109.5h1.75v1.75h-1.75zM89.9 102.5h1.75v1.75h-1.75zM57.6 120.1h1.75v1.75h-1.75zM33.6 139.6h1.75v1.75h-1.75zM73.4 117.2h1.75v1.75h-1.75zM90.5 114.4h1.75v1.75h-1.75zM33.6 127.5h1.75v1.75h-1.75zM96.9 112.7h1.75v1.75h-1.75zM73.4 117.2h1.75v1.75h-1.75zM98.6 124.9h1.75v1.75h-1.75zM45.6 119.2h1.75v1.75h-1.75zM99.0 108.1h1.75v1.75h-1.75zM83.5 112.9h1.75v1.75h-1.75zM95.0 112.9h1.75v1.75h-1.75zM76.5 111.0h1.75v1.75h-1.75zM100.1 121.6h1.75v1.75h-1.75zM71.6 118.3h1.75v1.75h-1.75zM64.6 115.5h1.75v1.75h-1.75zM45.6 127.5h1.75v1.75h-1.75zM33.6 127.5h1.75v1.75h-1.75zM76.5 110.4h1.75v1.75h-1.75zM67.2 120.1h1.75v1.75h-1.75zM71.6 123.5h1.75v1.75h-1.75zM67.2 122.2h1.75v1.75h-1.75zM83.5 112.9h1.75v1.75h-1.75z"/>
<text x="34.50" y="147.50" font-size="4.6" font-family='"Liberation Sans", sans-serif' fill="#4d4d4d" text-anchor="middle">0</text>
<text x="74.27" y="147.50" font-size="4.6" font-family='"Liberation Sans", sans-serif' fill="#4d4d4d" text-anchor="middle">1</text>
<text x="114.03" y="147.50" font-size="4.6" font-family='"Liberation Sans", sans-serif' fill="#4d4d4d" text-anchor="middle">2</text>
<text x="153.80" y="147.50" font-size="4.6" font-family='"Liberation Sans", sans-serif' fill="#4d4d4d" text-anchor="middle">3</text>
<text x="27.70" y="128.40" font-size="4.4" font-family='"Liberation Sans", sans-serif' fill="#4d4d4d" text-anchor="middle" transform="rotate(-90 27.70 128.40)">1</text>
<text x="27.70" y="105.30" font-size="4.4" font-family='"Liberation Sans", sans-serif' fill="#4d4d4d" text-anchor="middle" transform="rotate(-90 27.70 105.30)">2</text>
<text x="23.20" y="115.90" font-size="4.7" font-family='"Liberation Sans", sans-serif' fill="#111" text-anchor="middle" font-weight="bold" textLength="54.40" lengthAdjust="spacingAndGlyphs" transform="rotate(-90 23.20 115.90)">Log10 expression of KIF2C</text>
<text x="102.10" y="151.10" font-size="4.7" font-family='"Liberation Sans", sans-serif' fill="#111" text-anchor="middle" font-weight="bold" textLength="57.40" lengthAdjust="spacingAndGlyphs">Log10 expression of BIRC5</text>
<text x="172.90" y="124.80" font-size="6.0" font-family='"Liberation Serif", serif' fill="#222" text-anchor="end">Size=403</text>
<text x="172.90" y="131.70" font-size="6.0" font-family='"Liberation Serif", serif' fill="#222" text-anchor="end">P value=0.00</text>
<text x="172.90" y="138.60" font-size="6.0" font-family='"Liberation Serif", serif' fill="#222" text-anchor="end">R=0.67</text>
<rect x="203.4" y="88.2" width="148.60" height="55.10" fill="none" stroke="#ebebeb" stroke-width="0.7"/>
<polygon points="210.8,136.7 216.7,134.9 222.5,133.1 228.4,131.3 234.2,129.5 240.1,127.7 245.9,125.9 251.8,124.1 257.6,122.3 263.5,120.5 269.3,118.7 275.2,116.9 281.0,115.1 286.9,113.3 292.7,111.4 298.6,109.5 304.4,107.5 310.3,105.5 316.1,103.5 322.0,101.4 327.8,99.3 333.7,97.2 339.5,95.1 345.4,93.0 345.4,95.6 339.5,97.4 333.7,99.2 327.8,101.0 322.0,102.8 316.1,104.7 310.3,106.5 304.4,108.4 298.6,110.3 292.7,112.3 286.9,114.4 281.0,116.4 275.2,118.5 269.3,120.6 263.5,122.7 257.6,124.8 251.8,126.9 245.9,129.0 240.1,131.1 234.2,133.3 228.4,135.4 222.5,137.5 216.7,139.6 210.8,141.7" fill="#dedcd4"/>
<line x1="210.8" y1="139.2" x2="345.4" y2="94.3" stroke="#3f6ae8" stroke-width="1.25"/>
<path fill="#000" d="M311.0 106.3h1.75v1.75h-1.75zM289.3 111.8h1.75v1.75h-1.75zM306.3 108.8h1.75v1.75h-1.75zM265.2 119.1h1.75v1.75h-1.75zM265.0 112.7h1.75v1.75h-1.75zM285.8 114.8h1.75v1.75h-1.75zM289.3 111.0h1.75v1.75h-1.75zM275.2 116.4h1.75v1.75h-1.75zM288.8 109.0h1.75v1.75h-1.75zM307.1 105.8h1.75v1.75h-1.75zM304.6 106.7h1.75v1.75h-1.75zM303.8 107.6h1.75v1.75h-1.75zM281.8 119.8h1.75v1.75h-1.75zM312.0 100.9h1.75v1.75h-1.75zM302.2 102.2h1.75v1.75h-1.75zM280.7 116.8h1.75v1.75h-1.75zM306.4 103.1h1.75v1.75h-1.75zM289.3 111.4h1.75v1.75h-1.75zM300.8 103.2h1.75v1.75h-1.75zM302.9 109.3h1.75v1.75h-1.75zM307.8 102.4h1.75v1.75h-1.75zM313.2 99.4h1.75v1.75h-1.75zM326.4 97.3h1.75v1.75h-1.75zM299.1 107.4h1.75v1.75h-1.75zM295.7 109.3h1.75v1.75h-1.75zM293.9 112.6h1.75v1.75h-1.75zM300.1 107.2h1.75v1.75h-1.75zM302.0 109.9h1.75v1.75h-1.75zM277.5 110.2h1.75v1.75h-1.75zM297.5 105.0h1.75v1.75h-1.75zM324.1 100.0h1.75v1.75h-1.75zM304.5 110.6h1.75v1.75h-1.75zM308.5 101.6h1.75v1.75h-1.75zM293.9 105.7h1.75v1.75h-1.75zM322.5 98.8h1.75v1.75h-1.75zM302.2 104.2h1.75v1.75h-1.75zM290.6 108.1h1.75v1.75h-1.75zM285.0 112.7h1.75v1.75h-1.75zM306.7 106.1h1.75v1.75h-1.75zM317.6 101.3h1.75v1.75h-1.75zM286.1 108.5h1.75v1.75h-1.75zM281.9 115.2h1.75v1.75h-1.75zM264.7 124.0h1.75v1.75h-1.75zM303.7 105.9h1.75v1.75h-1.75zM280.5 113.7h1.75v1.75h-1.75zM284.9 112.8h1.75v1.75h-1.75zM280.6 113.5h1.75v1.75h-1.75zM282.9 116.7h1.75v1.75h-1.75zM304.3 108.6h1.75v1.75h-1.75zM284.2 114.0h1.75v1.75h-1.75zM296.3 109.0h1.75v1.75h-1.75zM284.7 111.2h1.75v1.75h-1.75zM289.3 109.0h1.75v1.75h-1.75zM302.6 106.2h1.75v1.75h-1.75zM302.4 107.2h1.75v1.75h-1.75zM267.3 123.2h1.75v1.75h-1.75zM294.3 110.9h1.75v1.75h-1.75zM281.7 118.3h1.75v1.75h-1.75zM303.1 108.7h1.75v1.75h-1.75zM279.8 111.7h1.75v1.75h-1.75zM281.8 112.1h1.75v1.75h-1.75zM313.4 108.1h1.75v1.75h-1.75zM286.5 108.8h1.75v1.75h-1.75zM295.4 116.1h1.75v1.75h-1.75zM303.0 105.2h1.75v1.75h-1.75zM286.8 112.1h1.75v1.75h-1.75zM289.6 111.7h1.75v1.75h-1.75zM301.5 106.1h1.75v1.75h-1.75zM323.1 101.3h1.75v1.75h-1.75zM301.4 100.7h1.75v1.75h-1.75zM303.3 108.0h1.75v1.75h-1.75zM294.1 110.7h1.75v1.75h-1.75zM293.2 109.1h1.75v1.75h-1.75zM328.8 108.2h1.75v1.75h-1.75zM284.1 113.5h1.75v1.75h-1.75zM277.6 122.3h1.75v1.75h-1.75zM312.9 99.5h1.75v1.75h-1.75zM283.6 114.7h1.75v1.75h-1.75zM264.8 119.9h1.75v1.75h-1.75zM299.9 113.1h1.75v1.75h-1.75zM306.6 100.3h1.75v1.75h-1.75zM316.5 107.4h1.75v1.75h-1.75zM322.4 104.7h1.75v1.75h-1.75zM264.5 121.9h1.75v1.75h-1.75zM291.2 117.5h1.75v1.75h-1.75zM289.6 115.3h1.75v1.75h-1.75zM298.6 109.6h1.75v1.75h-1.75zM282.7 110.6h1.75v1.75h-1.75zM294.3 106.6h1.75v1.75h-1.75zM297.4 112.2h1.75v1.75h-1.75zM298.7 111.1h1.75v1.75h-1.75zM282.7 111.7h1.75v1.75h-1.75zM296.9 105.5h1.75v1.75h-1.75zM282.4 116.3h1.75v1.75h-1.75zM282.7 114.5h1.75v1.75h-1.75zM288.0 111.8h1.75v1.75h-1.75zM312.8 102.7h1.75v1.75h-1.75zM267.6 119.5h1.75v1.75h-1.75zM293.0 105.0h1.75v1.75h-1.75zM311.8 104.7h1.75v1.75h-1.75zM295.8 105.9h1.75v1.75h-1.75zM286.8 110.8h1.75v1.75h-1.75zM297.0 98.5h1.75v1.75h-1.75zM331.1 89.4h1.75v1.75h-1.75zM291.5 116.4h1.75v1.75h-1.75zM284.5 111.2h1.75v1.75h-1.75zM303.7 112.8h1.75v1.75h-1.75zM290.2 107.1h1.75v1.75h-1.75zM284.5 114.0h1.75v1.75h-1.75zM304.4 112.7h1.75v1.75h-1.75zM282.6 116.7h1.75v1.75h-1.75zM286.7 114.0h1.75v1.75h-1.75zM311.0 100.0h1.75v1.75h-1.75zM295.6 109.1h1.75v1.75h-1.75zM310.2 103.1h1.75v1.75h-1.75zM270.3 119.9h1.75v1.75h-1.75zM258.3 124.3h1.75v1.75h-1.75zM283.3 118.0h1.75v1.75h-1.75zM291.8 112.0h1.75v1.75h-1.75zM248.6 126.6h1.75v1.75h-1.75zM298.6 108.8h1.75v1.75h-1.75zM280.6 119.0h1.75v1.75h-1.75zM286.6 113.3h1.75v1.75h-1.75zM293.8 111.6h1.75v1.75h-1.75zM290.0 110.8h1.75v1.75h-1.75zM277.6 117.6h1.75v1.75h-1.75zM290.3 113.3h1.75v1.75h-1.75zM277.7 118.4h1.75v1.75h-1.75zM310.5 106.9h1.75v1.75h-1.75zM287.3 113.5h1.75v1.75h-1.75zM289.8 114.8h1.75v1.75h-1.75zM277.7 109.2h1.75v1.75h-1.75zM293.8 105.0h1.75v1.75h-1.75zM296.3 108.5h1.75v1.75h-1.75zM291.5 108.9h1.75v1.75h-1.75zM279.6 118.9h1.75v1.75h-1.75zM307.8 107.7h1.75v1.75h-1.75zM292.9 112.2h1.75v1.75h-1.75zM268.7 118.1h1.75v1.75h-1.75zM263.9 118.0h1.75v1.75h-1.75zM278.5 113.0h1.75v1.75h-1.75zM265.5 127.9h1.75v1.75h-1.75zM271.4 118.1h1.75v1.75h-1.75zM280.5 111.6h1.75v1.75h-1.75zM297.4 110.0h1.75v1.75h-1.75zM322.2 98.6h1.75v1.75h-1.75zM296.0 114.8h1.75v1.75h-1.75zM297.5 109.1h1.75v1.75h-1.75zM308.0 106.5h1.75v1.75h-1.75zM344.2 104.5h1.75v1.75h-1.75zM308.1 103.3h1.75v1.75h-1.75zM301.0 104.0h1.75v1.75h-1.75zM289.8 107.5h1.75v1.75h-1.75zM280.0 116.1h1.75v1.75h-1.75zM298.7 109.2h1.75v1.75h-1.75zM308.7 107.4h1.75v1.75h-1.75zM297.2 107.5h1.75v1.75h-1.75zM286.0 111.6h1.75v1.75h-1.75zM300.8 103.8h1.75v1.75h-1.75zM292.0 111.0h1.75v1.75h-1.75zM285.3 110.5h1.75v1.75h-1.75zM267.3 120.0h1.75v1.75h-1.75zM300.2 110.4h1.75v1.75h-1.75zM284.5 113.6h1.75v1.75h-1.75zM308.3 108.2h1.75v1.75h-1.75zM284.8 116.0h1.75v1.75h-1.75zM294.2 108.1h1.75v1.75h-1.75zM285.8 111.0h1.75v1.75h-1.75zM316.2 105.3h1.75v1.75h-1.75zM310.9 107.4h1.75v1.75h-1.75zM292.8 112.0h1.75v1.75h-1.75zM311.9 106.7h1.75v1.75h-1.75zM263.7 116.8h1.75v1.75h-1.75zM301.7 108.8h1.75v1.75h-1.75zM286.0 117.0h1.75v1.75h-1.75zM289.9 116.5h1.75v1.75h-1.75zM287.2 111.4h1.75v1.75h-1.75zM301.0 101.9h1.75v1.75h-1.75zM251.0 122.1h1.75v1.75h-1.75zM287.2 116.8h1.75v1.75h-1.75zM325.5 105.0h1.75v1.75h-1.75zM263.6 120.1h1.75v1.75h-1.75zM290.5 112.1h1.75v1.75h-1.75zM275.8 116.1h1.75v1.75h-1.75zM230.3 121.0h1.75v1.75h-1.75zM298.5 112.1h1.75v1.75h-1.75zM287.0 115.8h1.75v1.75h-1.75zM310.0 105.3h1.75v1.75h-1.75zM268.9 118.7h1.75v1.75h-1.75zM298.3 108.4h1.75v1.75h-1.75zM314.2 101.3h1.75v1.75h-1.75zM249.7 125.5h1.75v1.75h-1.75zM301.8 104.7h1.75v1.75h-1.75zM302.5 107.1h1.75v1.75h-1.75zM296.2 108.6h1.75v1.75h-1.75zM311.8 109.6h1.75v1.75h-1.75zM302.3 110.3h1.75v1.75h-1.75zM284.2 114.9h1.75v1.75h-1.75zM283.5 112.0h1.75v1.75h-1.75zM290.5 115.2h1.75v1.75h-1.75zM315.2 106.3h1.75v1.75h-1.75zM291.9 113.4h1.75v1.75h-1.75zM305.4 101.5h1.75v1.75h-1.75zM290.5 119.7h1.75v1.75h-1.75zM301.9 107.1h1.75v1.75h-1.75zM306.7 106.0h1.75v1.75h-1.75zM309.9 100.8h1.75v1.75h-1.75zM317.8 100.4h1.75v1.75h-1.75zM287.3 113.6h1.75v1.75h-1.75zM278.8 112.9h1.75v1.75h-1.75zM292.4 104.0h1.75v1.75h-1.75zM293.4 111.6h1.75v1.75h-1.75zM297.4 114.2h1.75v1.75h-1.75zM307.1 109.6h1.75v1.75h-1.75zM284.5 113.3h1.75v1.75h-1.75zM294.1 113.4h1.75v1.75h-1.75zM294.2 109.9h1.75v1.75h-1.75zM308.6 102.1h1.75v1.75h-1.75zM288.4 111.6h1.75v1.75h-1.75zM323.0 88.9h1.75v1.75h-1.75zM319.6 102.2h1.75v1.75h-1.75zM291.3 114.9h1.75v1.75h-1.75zM312.9 103.4h1.75v1.75h-1.75zM308.0 100.4h1.75v1.75h-1.75zM293.5 114.7h1.75v1.75h-1.75zM320.9 100.0h1.75v1.75h-1.75zM310.8 99.8h1.75v1.75h-1.75zM290.4 110.9h1.75v1.75h-1.75zM301.9 102.2h1.75v1.75h-1.75zM285.7 117.6h1.75v1.75h-1.75zM262.8 117.7h1.75v1.75h-1.75zM308.5 110.5h1.75v1.75h-1.75zM294.7 115.3h1.75v1.75h-1.75zM316.4 107.3h1.75v1.75h-1.75zM296.8 106.2h1.75v1.75h-1.75zM298.4 108.0h1.75v1.75h-1.75zM293.3 106.4h1.75v1.75h-1.75zM297.0 111.9h1.75v1.75h-1.75zM284.4 118.6h1.75v1.75h-1.75zM291.7 108.5h1.75v1.75h-1.75zM271.8 119.8h1.75v1.75h-1.75zM270.8 122.6h1.75v1.75h-1.75zM276.7 113.8h1.75v1.75h-1.75zM286.4 109.8h1.75v1.75h-1.75zM293.4 112.9h1.75v1.75h-1.75zM291.3 110.5h1.75v1.75h-1.75zM310.0 103.4h1.75v1.75h-1.75zM327.0 102.2h1.75v1.75h-1.75zM262.7 123.3h1.75v1.75h-1.75zM313.6 103.0h1.75v1.75h-1.75zM306.8 101.1h1.75v1.75h-1.75zM281.6 119.8h1.75v1.75h-1.75zM296.4 107.1h1.75v1.75h-1.75zM268.7 117.0h1.75v1.75h-1.75zM291.3 110.6h1.75v1.75h-1.75zM315.1 103.8h1.75v1.75h-1.75zM278.6 117.9h1.75v1.75h-1.75zM286.4 110.8h1.75v1.75h-1.75zM295.6 110.1h1.75v1.75h-1.75zM310.9 118.2h1.75v1.75h-1.75zM295.9 107.8h1.75v1.75h-1.75zM287.2 114.9h1.75v1.75h-1.75zM310.2 105.6h1.75v1.75h-1.75zM286.5 106.6h1.75v1.75h-1.75zM325.7 98.6h1.75v1.75h-1.75zM310.5 111.1h1.75v1.75h-1.75zM295.6 111.1h1.75v1.75h-1.75zM283.5 117.2h1.75v1.75h-1.75zM286.7 109.6h1.75v1.75h-1.75zM284.4 123.6h1.75v1.75h-1.75zM289.7 110.0h1.75v1.75h-1.75zM299.7 108.2h1.75v1.75h-1.75zM277.0 117.0h1.75v1.75h-1.75zM296.2 108.2h1.75v1.75h-1.75zM294.1 104.7h1.75v1.75h-1.75zM281.4 120.1h1.75v1.75h-1.75zM324.8 102.8h1.75v1.75h-1.75zM305.8 106.4h1.75v1.75h-1.75zM298.2 108.8h1.75v1.75h-1.75zM286.4 113.5h1.75v1.75h-1.75zM284.3 112.0h1.75v1.75h-1.75zM294.4 109.6h1.75v1.75h-1.75zM274.7 118.0h1.75v1.75h-1.75zM298.6 114.4h1.75v1.75h-1.75zM278.9 113.1h1.75v1.75h-1.75zM293.5 105.8h1.75v1.75h-1.75zM302.5 103.6h1.75v1.75h-1.75zM290.3 110.0h1.75v1.75h-1.75zM285.2 109.3h1.75v1.75h-1.75zM283.9 118.0h1.75v1.75h-1.75zM295.5 107.1h1.75v1.75h-1.75zM279.0 113.9h1.75v1.75h-1.75zM292.6 110.6h1.75v1.75h-1.75zM306.3 102.4h1.75v1.75h-1.75zM268.8 118.9h1.75v1.75h-1.75zM283.1 114.8h1.75v1.75h-1.75zM300.0 113.4h1.75v1.75h-1.75zM267.3 128.9h1.75v1.75h-1.75zM268.8 120.7h1.75v1.75h-1.75zM264.4 109.9h1.75v1.75h-1.75zM304.5 100.7h1.75v1.75h-1.75zM265.3 121.4h1.75v1.75h-1.75zM291.5 110.3h1.75v1.75h-1.75zM290.4 106.4h1.75v1.75h-1.75zM293.2 113.4h1.75v1.75h-1.75zM282.7 115.1h1.75v1.75h-1.75zM293.9 114.4h1.75v1.75h-1.75zM286.1 107.6h1.75v1.75h-1.75zM281.6 116.1h1.75v1.75h-1.75zM326.5 100.3h1.75v1.75h-1.75zM306.0 106.1h1.75v1.75h-1.75zM278.6 117.8h1.75v1.75h-1.75zM275.7 101.6h1.75v1.75h-1.75zM298.4 104.9h1.75v1.75h-1.75zM311.5 97.6h1.75v1.75h-1.75zM290.2 117.6h1.75v1.75h-1.75zM302.0 104.9h1.75v1.75h-1.75zM295.4 110.0h1.75v1.75h-1.75zM308.1 108.7h1.75v1.75h-1.75zM285.7 112.4h1.75v1.75h-1.75zM282.8 108.6h1.75v1.75h-1.75zM296.4 105.4h1.75v1.75h-1.75zM296.4 110.7h1.75v1.75h-1.75zM293.4 99.2h1.75v1.75h-1.75zM308.8 101.3h1.75v1.75h-1.75zM301.9 109.7h1.75v1.75h-1.75zM295.1 113.8h1.75v1.75h-1.75zM277.7 117.2h1.75v1.75h-1.75zM301.9 107.4h1.75v1.75h-1.75zM304.2 108.0h1.75v1.75h-1.75zM277.6 118.5h1.75v1.75h-1.75zM291.9 107.5h1.75v1.75h-1.75zM278.6 116.9h1.75v1.75h-1.75zM295.6 108.0h1.75v1.75h-1.75zM290.1 112.9h1.75v1.75h-1.75zM269.9 118.5h1.75v1.75h-1.75zM293.1 106.2h1.75v1.75h-1.75zM288.8 111.3h1.75v1.75h-1.75zM288.6 109.0h1.75v1.75h-1.75zM306.6 105.7h1.75v1.75h-1.75zM299.4 104.3h1.75v1.75h-1.75zM304.5 106.2h1.75v1.75h-1.75zM288.9 107.7h1.75v1.75h-1.75zM310.7 108.1h1.75v1.75h-1.75zM283.2 109.7h1.75v1.75h-1.75zM302.7 105.3h1.75v1.75h-1.75zM273.8 119.3h1.75v1.75h-1.75zM296.0 111.1h1.75v1.75h-1.75zM269.2 128.7h1.75v1.75h-1.75zM274.3 117.1h1.75v1.75h-1.75zM301.9 106.5h1.75v1.75h-1.75zM295.7 110.8h1.75v1.75h-1.75zM299.7 104.5h1.75v1.75h-1.75zM293.7 116.6h1.75v1.75h-1.75zM299.4 108.8h1.75v1.75h-1.75zM292.8 114.1h1.75v1.75h-1.75zM291.2 112.4h1.75v1.75h-1.75zM294.8 106.9h1.75v1.75h-1.75zM323.2 100.2h1.75v1.75h-1.75zM280.2 109.8h1.75v1.75h-1.75zM273.8 117.7h1.75v1.75h-1.75zM271.8 120.6h1.75v1.75h-1.75zM284.7 113.9h1.75v1.75h-1.75zM300.4 112.4h1.75v1.75h-1.75zM307.8 108.0h1.75v1.75h-1.75zM320.5 101.2h1.75v1.75h-1.75zM290.8 108.1h1.75v1.75h-1.75zM303.1 110.1h1.75v1.75h-1.75zM317.9 104.9h1.75v1.75h-1.75zM302.2 112.3h1.75v1.75h-1.75zM310.9 108.9h1.75v1.75h-1.75zM281.4 114.5h1.75v1.75h-1.75zM305.5 106.2h1.75v1.75h-1.75zM304.5 105.7h1.75v1.75h-1.75zM265.9 121.0h1.75v1.75h-1.75zM294.5 106.7h1.75v1.75h-1.75zM302.1 113.0h1.75v1.75h-1.75zM282.5 114.2h1.75v1.75h-1.75zM305.8 104.3h1.75v1.75h-1.75zM306.7 107.0h1.75v1.75h-1.75zM298.0 107.5h1.75v1.75h-1.75zM292.6 111.4h1.75v1.75h-1.75zM291.5 112.2h1.75v1.75h-1.75zM298.9 108.1h1.75v1.75h-1.75zM308.6 107.4h1.75v1.75h-1.75zM276.3 116.2h1.75v1.75h-1.75zM296.4 107.5h1.75v1.75h-1.75zM300.2 114.3h1.75v1.75h-1.75zM282.5 111.9h1.75v1.75h-1.75zM277.0 112.2h1.75v1.75h-1.75zM290.9 106.0h1.75v1.75h-1.75zM271.8 118.6h1.75v1.75h-1.75zM296.6 105.7h1.75v1.75h-1.75zM290.0 117.3h1.75v1.75h-1.75zM279.2 119.4h1.75v1.75h-1.75zM294.0 109.7h1.75v1.75h-1.75zM282.4 117.5h1.75v1.75h-1.75zM284.1 116.4h1.75v1.75h-1.75zM308.8 108.4h1.75v1.75h-1.75zM283.4 114.8h1.75v1.75h-1.75zM233.4 134.1h1.75v1.75h-1.75zM297.3 112.1h1.75v1.75h-1.75zM279.7 115.1h1.75v1.75h-1.75zM281.6 116.0h1.75v1.75h-1.75zM313.4 103.8h1.75v1.75h-1.75zM292.3 109.9h1.75v1.75h-1.75zM303.9 105.2h1.75v1.75h-1.75zM275.1 117.2h1.75v1.75h-1.75zM279.6 116.4h1.75v1.75h-1.75zM273.3 119.5h1.75v1.75h-1.75zM309.9 111.0h1.75v1.75h-1.75zM277.1 113.3h1.75v1.75h-1.75zM267.9 119.2h1.75v1.75h-1.75zM302.8 104.1h1.75v1.75h-1.75zM286.2 112.0h1.75v1.75h-1.75zM294.1 111.8h1.75v1.75h-1.75zM302.9 104.7h1.75v1.75h-1.75zM321.3 102.1h1.75v1.75h-1.75zM292.5 111.0h1.75v1.75h-1.75zM313.7 102.3h1.75v1.75h-1.75zM275.0 115.9h1.75v1.75h-1.75zM295.1 112.3h1.75v1.75h-1.75zM296.9 107.2h1.75v1.75h-1.75zM264.0 119.1h1.75v1.75h-1.75zM280.1 115.0h1.75v1.75h-1.75zM283.5 114.4h1.75v1.75h-1.75zM299.4 107.7h1.75v1.75h-1.75zM286.6 117.4h1.75v1.75h-1.75zM287.5 108.5h1.75v1.75h-1.75zM284.1 121.2h1.75v1.75h-1.75zM299.0 111.8h1.75v1.75h-1.75zM292.2 113.9h1.75v1.75h-1.75zM292.0 109.8h1.75v1.75h-1.75zM290.0 111.6h1.75v1.75h-1.75zM302.0 106.6h1.75v1.75h-1.75zM283.8 117.5h1.75v1.75h-1.75zM292.8 107.1h1.75v1.75h-1.75zM293.4 107.8h1.75v1.75h-1.75zM302.1 119.3h1.75v1.75h-1.75zM306.4 105.6h1.75v1.75h-1.75zM297.8 115.1h1.75v1.75h-1.75zM276.0 118.1h1.75v1.75h-1.75zM306.5 104.6h1.75v1.75h-1.75zM309.4 105.2h1.75v1.75h-1.75zM310.2 109.0h1.75v1.75h-1.75zM305.0 108.7h1.75v1.75h-1.75zM273.6 114.0h1.75v1.75h-1.75zM292.3 110.5h1.75v1.75h-1.75zM304.3 104.8h1.75v1.75h-1.75zM304.7 112.1h1.75v1.75h-1.75zM292.5 108.2h1.75v1.75h-1.75zM295.8 109.2h1.75v1.75h-1.75zM280.0 118.0h1.75v1.75h-1.75zM299.4 104.3h1.75v1.75h-1.75zM267.3 119.5h1.75v1.75h-1.75zM291.4 108.6h1.75v1.75h-1.75zM306.8 107.7h1.75v1.75h-1.75zM278.8 114.3h1.75v1.75h-1.75zM310.8 103.2h1.75v1.75h-1.75zM319.8 102.1h1.75v1.75h-1.75zM301.2 107.7h1.75v1.75h-1.75zM287.7 111.6h1.75v1.75h-1.75zM288.2 112.6h1.75v1.75h-1.75zM278.8 119.3h1.75v1.75h-1.75zM312.4 102.4h1.75v1.75h-1.75zM280.1 115.4h1.75v1.75h-1.75zM299.8 107.1h1.75v1.75h-1.75zM280.3 117.4h1.75v1.75h-1.75zM301.5 103.2h1.75v1.75h-1.75zM276.6 113.4h1.75v1.75h-1.75zM292.9 106.5h1.75v1.75h-1.75zM285.2 107.6h1.75v1.75h-1.75zM307.7 102.7h1.75v1.75h-1.75zM289.3 112.8h1.75v1.75h-1.75zM291.6 118.1h1.75v1.75h-1.75zM321.8 94.9h1.75v1.75h-1.75zM269.4 117.0h1.75v1.75h-1.75zM278.3 113.0h1.75v1.75h-1.75zM293.6 106.4h1.75v1.75h-1.75zM281.0 115.1h1.75v1.75h-1.75zM316.0 105.7h1.75v1.75h-1.75zM296.1 108.4h1.75v1.75h-1.75zM297.5 110.4h1.75v1.75h-1.75zM289.9 114.2h1.75v1.75h-1.75zM253.3 122.7h1.75v1.75h-1.75zM310.7 105.5h1.75v1.75h-1.75zM292.6 109.2h1.75v1.75h-1.75zM267.7 122.3h1.75v1.75h-1.75zM280.0 115.3h1.75v1.75h-1.75zM294.0 111.7h1.75v1.75h-1.75zM310.1 105.0h1.75v1.75h-1.75zM298.4 110.6h1.75v1.75h-1.75zM298.7 106.7h1.75v1.75h-1.75zM298.3 113.2h1.75v1.75h-1.75zM282.3 112.8h1.75v1.75h-1.75zM279.0 109.4h1.75v1.75h-1.75zM294.2 110.3h1.75v1.75h-1.75zM276.6 115.9h1.75v1.75h-1.75zM294.4 112.5h1.75v1.75h-1.75zM302.6 106.7h1.75v1.75h-1.75zM239.1 126.2h1.75v1.75h-1.75zM291.0 110.8h1.75v1.75h-1.75zM290.4 110.4h1.75v1.75h-1.75zM296.6 106.5h1.75v1.75h-1.75zM316.6 102.1h1.75v1.75h-1.75zM275.9 121.8h1.75v1.75h-1.75zM319.1 105.3h1.75v1.75h-1.75zM302.7 107.7h1.75v1.75h-1.75zM326.1 93.1h1.75v1.75h-1.75zM289.0 108.7h1.75v1.75h-1.75zM302.8 107.5h1.75v1.75h-1.75zM292.3 111.5h1.75v1.75h-1.75zM300.4 109.5h1.75v1.75h-1.75zM273.4 114.0h1.75v1.75h-1.75zM283.7 114.7h1.75v1.75h-1.75zM291.6 110.9h1.75v1.75h-1.75zM302.2 110.2h1.75v1.75h-1.75zM276.8 117.3h1.75v1.75h-1.75zM289.4 114.8h1.75v1.75h-1.75zM285.6 115.4h1.75v1.75h-1.75zM297.6 110.2h1.75v1.75h-1.75zM304.5 103.3h1.75v1.75h-1.75zM259.1 120.1h1.75v1.75h-1.75zM280.6 111.6h1.75v1.75h-1.75zM289.1 113.3h1.75v1.75h-1.75zM280.5 114.0h1.75v1.75h-1.75zM312.1 106.1h1.75v1.75h-1.75zM333.4 98.2h1.75v1.75h-1.75zM303.4 107.6h1.75v1.75h-1.75zM300.3 113.0h1.75v1.75h-1.75zM267.9 118.8h1.75v1.75h-1.75zM281.0 118.2h1.75v1.75h-1.75zM299.0 107.2h1.75v1.75h-1.75zM312.9 105.9h1.75v1.75h-1.75zM288.9 116.7h1.75v1.75h-1.75zM297.2 112.8h1.75v1.75h-1.75zM314.4 106.1h1.75v1.75h-1.75zM316.1 98.7h1.75v1.75h-1.75zM280.4 118.6h1.75v1.75h-1.75zM297.0 110.5h1.75v1.75h-1.75zM303.2 106.8h1.75v1.75h-1.75zM271.9 118.2h1.75v1.75h-1.75zM287.2 112.8h1.75v1.75h-1.75zM295.8 107.7h1.75v1.75h-1.75zM280.9 118.6h1.75v1.75h-1.75zM300.1 103.2h1.75v1.75h-1.75zM288.2 108.2h1.75v1.75h-1.75zM252.9 123.0h1.75v1.75h-1.75zM263.6 113.3h1.75v1.75h-1.75zM265.2 119.6h1.75v1.75h-1.75zM275.7 117.7h1.75v1.75h-1.75zM306.2 112.7h1.75v1.75h-1.75zM296.6 111.5h1.75v1.75h-1.75zM299.4 106.8h1.75v1.75h-1.75zM309.7 104.1h1.75v1.75h-1.75zM277.9 111.0h1.75v1.75h-1.75zM286.4 108.3h1.75v1.75h-1.75zM295.3 105.2h1.75v1.75h-1.75zM314.6 103.1h1.75v1.75h-1.75zM296.5 104.2h1.75v1.75h-1.75zM291.0 111.5h1.75v1.75h-1.75zM299.3 121.4h1.75v1.75h-1.75zM281.0 115.5h1.75v1.75h-1.75zM267.1 118.0h1.75v1.75h-1.75zM298.9 107.0h1.75v1.75h-1.75zM287.1 110.9h1.75v1.75h-1.75zM298.5 106.5h1.75v1.75h-1.75zM277.2 123.6h1.75v1.75h-1.75zM280.9 107.9h1.75v1.75h-1.75zM302.6 105.8h1.75v1.75h-1.75zM295.3 109.6h1.75v1.75h-1.75zM305.0 112.4h1.75v1.75h-1.75zM283.9 111.3h1.75v1.75h-1.75zM293.6 113.5h1.75v1.75h-1.75zM301.7 113.7h1.75v1.75h-1.75zM304.4 105.1h1.75v1.75h-1.75zM292.1 109.4h1.75v1.75h-1.75zM296.5 110.0h1.75v1.75h-1.75zM291.6 113.9h1.75v1.75h-1.75zM290.8 110.2h1.75v1.75h-1.75zM290.8 111.3h1.75v1.75h-1.75zM298.6 107.9h1.75v1.75h-1.75zM260.8 119.4h1.75v1.75h-1.75zM291.1 119.6h1.75v1.75h-1.75zM279.3 114.0h1.75v1.75h-1.75zM292.7 114.7h1.75v1.75h-1.75zM289.1 110.7h1.75v1.75h-1.75zM294.6 111.4h1.75v1.75h-1.75zM288.9 113.7h1.75v1.75h-1.75zM290.2 106.9h1.75v1.75h-1.75zM274.0 116.5h1.75v1.75h-1.75zM310.1 104.5h1.75v1.75h-1.75zM274.3 114.7h1.75v1.75h-1.75zM267.4 112.9h1.75v1.75h-1.75zM296.4 118.2h1.75v1.75h-1.75zM299.5 107.1h1.75v1.75h-1.75zM290.6 111.4h1.75v1.75h-1.75zM287.5 109.2h1.75v1.75h-1.75zM276.9 116.0h1.75v1.75h-1.75zM315.9 103.3h1.75v1.75h-1.75zM269.5 116.8h1.75v1.75h-1.75zM322.0 101.1h1.75v1.75h-1.75zM271.1 120.7h1.75v1.75h-1.75zM278.4 115.5h1.75v1.75h-1.75zM284.7 103.5h1.75v1.75h-1.75zM285.9 111.3h1.75v1.75h-1.75zM298.0 115.9h1.75v1.75h-1.75zM280.6 115.2h1.75v1.75h-1.75zM287.2 115.6h1.75v1.75h-1.75zM271.1 115.2h1.75v1.75h-1.75zM307.1 109.4h1.75v1.75h-1.75zM287.8 112.7h1.75v1.75h-1.75zM281.9 112.9h1.75v1.75h-1.75zM292.1 108.5h1.75v1.75h-1.75zM303.7 109.0h1.75v1.75h-1.75zM296.7 108.6h1.75v1.75h-1.75zM282.8 107.3h1.75v1.75h-1.75zM294.1 112.3h1.75v1.75h-1.75zM296.6 109.4h1.75v1.75h-1.75zM301.2 112.7h1.75v1.75h-1.75zM288.3 112.8h1.75v1.75h-1.75zM301.2 106.4h1.75v1.75h-1.75zM278.0 115.5h1.75v1.75h-1.75zM294.7 106.5h1.75v1.75h-1.75zM281.9 118.2h1.75v1.75h-1.75zM293.4 110.1h1.75v1.75h-1.75zM285.0 114.2h1.75v1.75h-1.75zM301.5 116.5h1.75v1.75h-1.75zM287.5 109.1h1.75v1.75h-1.75zM308.2 105.2h1.75v1.75h-1.75zM270.5 121.4h1.75v1.75h-1.75zM316.3 97.0h1.75v1.75h-1.75zM281.8 112.7h1.75v1.75h-1.75zM260.6 128.6h1.75v1.75h-1.75zM279.9 113.6h1.75v1.75h-1.75zM304.1 99.5h1.75v1.75h-1.75zM295.4 108.8h1.75v1.75h-1.75zM299.1 106.0h1.75v1.75h-1.75zM287.8 117.5h1.75v1.75h-1.75zM297.3 113.9h1.75v1.75h-1.75zM279.9 119.3h1.75v1.75h-1.75zM315.3 99.9h1.75v1.75h-1.75zM313.6 100.9h1.75v1.75h-1.75zM298.9 116.3h1.75v1.75h-1.75zM285.5 110.3h1.75v1.75h-1.75zM284.6 119.8h1.75v1.75h-1.75zM301.2 112.2h1.75v1.75h-1.75zM301.5 108.4h1.75v1.75h-1.75zM281.6 116.6h1.75v1.75h-1.75zM302.9 107.5h1.75v1.75h-1.75zM304.7 106.1h1.75v1.75h-1.75zM300.7 104.5h1.75v1.75h-1.75zM298.7 110.2h1.75v1.75h-1.75zM296.7 111.5h1.75v1.75h-1.75zM293.7 112.6h1.75v1.75h-1.75zM289.8 104.2h1.75v1.75h-1.75zM279.9 108.5h1.75v1.75h-1.75zM322.9 93.9h1.75v1.75h-1.75zM258.1 119.0h1.75v1.75h-1.75zM295.3 109.0h1.75v1.75h-1.75zM305.0 102.1h1.75v1.75h-1.75zM323.7 100.5h1.75v1.75h-1.75zM289.5 116.4h1.75v1.75h-1.75zM311.8 109.2h1.75v1.75h-1.75zM310.6 96.9h1.75v1.75h-1.75zM316.9 108.4h1.75v1.75h-1.75zM318.1 104.3h1.75v1.75h-1.75zM272.8 117.8h1.75v1.75h-1.75zM307.2 102.6h1.75v1.75h-1.75zM293.1 116.7h1.75v1.75h-1.75zM300.3 108.8h1.75v1.75h-1.75zM292.9 109.4h1.75v1.75h-1.75zM283.8 117.7h1.75v1.75h-1.75zM252.2 123.8h1.75v1.75h-1.75zM300.1 104.8h1.75v1.75h-1.75zM291.5 110.3h1.75v1.75h-1.75zM277.4 115.5h1.75v1.75h-1.75zM292.6 107.9h1.75v1.75h-1.75zM280.1 115.1h1.75v1.75h-1.75zM274.9 119.1h1.75v1.75h-1.75zM296.7 111.0h1.75v1.75h-1.75zM304.4 104.2h1.75v1.75h-1.75zM269.1 123.7h1.75v1.75h-1.75zM293.1 114.4h1.75v1.75h-1.75zM301.9 105.2h1.75v1.75h-1.75zM277.7 112.0h1.75v1.75h-1.75zM289.9 111.4h1.75v1.75h-1.75zM298.1 111.6h1.75v1.75h-1.75zM306.0 111.4h1.75v1.75h-1.75zM279.0 113.5h1.75v1.75h-1.75zM272.7 116.9h1.75v1.75h-1.75zM285.6 112.1h1.75v1.75h-1.75zM287.1 111.4h1.75v1.75h-1.75zM293.2 114.0h1.75v1.75h-1.75zM294.2 112.8h1.75v1.75h-1.75zM268.4 119.4h1.75v1.75h-1.75zM310.4 106.2h1.75v1.75h-1.75zM271.9 122.9h1.75v1.75h-1.75zM297.9 113.1h1.75v1.75h-1.75zM300.0 109.2h1.75v1.75h-1.75zM298.9 104.6h1.75v1.75h-1.75zM297.4 102.0h1.75v1.75h-1.75zM298.1 108.4h1.75v1.75h-1.75zM283.2 115.2h1.75v1.75h-1.75zM282.6 113.4h1.75v1.75h-1.75zM321.0 101.3h1.75v1.75h-1.75zM330.4 103.5h1.75v1.75h-1.75zM311.0 115.1h1.75v1.75h-1.75zM312.8 103.5h1.75v1.75h-1.75zM272.8 119.6h1.75v1.75h-1.75zM337.4 96.6h1.75v1.75h-1.75zM290.6 114.8h1.75v1.75h-1.75zM293.1 111.9h1.75v1.75h-1.75zM303.4 106.9h1.75v1.75h-1.75zM284.7 117.8h1.75v1.75h-1.75zM324.2 104.7h1.75v1.75h-1.75zM261.9 119.3h1.75v1.75h-1.75zM309.4 102.9h1.75v1.75h-1.75zM300.1 114.0h1.75v1.75h-1.75zM282.2 111.9h1.75v1.75h-1.75zM313.2 96.8h1.75v1.75h-1.75zM320.6 99.3h1.75v1.75h-1.75zM303.7 105.7h1.75v1.75h-1.75zM305.6 106.1h1.75v1.75h-1.75zM290.1 110.5h1.75v1.75h-1.75zM318.0 105.1h1.75v1.75h-1.75zM307.1 102.0h1.75v1.75h-1.75zM323.4 100.8h1.75v1.75h-1.75zM301.9 112.3h1.75v1.75h-1.75zM253.9 120.8h1.75v1.75h-1.75zM300.1 105.5h1.75v1.75h-1.75zM276.0 115.1h1.75v1.75h-1.75zM282.9 117.2h1.75v1.75h-1.75zM291.3 109.3h1.75v1.75h-1.75zM295.1 119.1h1.75v1.75h-1.75zM288.9 106.8h1.75v1.75h-1.75zM297.0 107.7h1.75v1.75h-1.75zM299.3 114.3h1.75v1.75h-1.75zM294.9 116.6h1.75v1.75h-1.75zM293.5 103.1h1.75v1.75h-1.75zM297.0 108.7h1.75v1.75h-1.75zM301.4 110.2h1.75v1.75h-1.75zM269.8 116.7h1.75v1.75h-1.75zM272.7 118.2h1.75v1.75h-1.75zM306.0 107.0h1.75v1.75h-1.75zM293.8 109.5h1.75v1.75h-1.75zM261.8 120.3h1.75v1.75h-1.75zM306.6 109.5h1.75v1.75h-1.75zM306.9 105.2h1.75v1.75h-1.75zM268.0 118.4h1.75v1.75h-1.75zM276.4 119.4h1.75v1.75h-1.75zM285.1 110.4h1.75v1.75h-1.75zM261.9 118.2h1.75v1.75h-1.75zM275.7 122.4h1.75v1.75h-1.75zM291.0 105.8h1.75v1.75h-1.75zM304.7 105.1h1.75v1.75h-1.75zM259.3 117.6h1.75v1.75h-1.75zM293.0 113.0h1.75v1.75h-1.75zM306.2 107.8h1.75v1.75h-1.75zM259.9 121.3h1.75v1.75h-1.75zM296.1 111.4h1.75v1.75h-1.75zM289.2 113.2h1.75v1.75h-1.75zM284.5 118.0h1.75v1.75h-1.75zM302.0 101.3h1.75v1.75h-1.75zM309.5 103.5h1.75v1.75h-1.75zM306.6 102.0h1.75v1.75h-1.75zM282.8 114.2h1.75v1.75h-1.75zM265.2 113.7h1.75v1.75h-1.75zM285.3 120.6h1.75v1.75h-1.75zM294.5 111.4h1.75v1.75h-1.75zM307.7 107.5h1.75v1.75h-1.75zM299.4 108.7h1.75v1.75h-1.75zM284.5 117.2h1.75v1.75h-1.75zM310.4 102.2h1.75v1.75h-1.75zM298.4 102.8h1.75v1.75h-1.75zM295.6 109.2h1.75v1.75h-1.75zM289.9 109.9h1.75v1.75h-1.75zM297.9 115.9h1.75v1.75h-1.75zM300.1 110.7h1.75v1.75h-1.75zM292.9 109.5h1.75v1.75h-1.75zM261.1 123.5h1.75v1.75h-1.75zM281.0 113.8h1.75v1.75h-1.75zM298.3 110.2h1.75v1.75h-1.75zM313.3 102.8h1.75v1.75h-1.75zM308.2 110.0h1.75v1.75h-1.75zM307.3 104.4h1.75v1.75h-1.75zM315.6 98.7h1.75v1.75h-1.75zM301.8 105.6h1.75v1.75h-1.75zM310.4 98.3h1.75v1.75h-1.75zM306.4 106.5h1.75v1.75h-1.75zM296.2 106.8h1.75v1.75h-1.75zM281.4 118.6h1.75v1.75h-1.75zM271.6 114.8h1.75v1.75h-1.75zM299.0 107.1h1.75v1.75h-1.75zM276.9 116.8h1.75v1.75h-1.75zM291.8 107.5h1.75v1.75h-1.75zM302.9 110.9h1.75v1.75h-1.75zM283.9 114.5h1.75v1.75h-1.75zM305.3 105.6h1.75v1.75h-1.75zM294.2 113.3h1.75v1.75h-1.75zM281.6 117.5h1.75v1.75h-1.75zM301.1 104.8h1.75v1.75h-1.75zM303.0 108.4h1.75v1.75h-1.75zM287.0 115.9h1.75v1.75h-1.75zM300.1 109.8h1.75v1.75h-1.75zM278.6 117.3h1.75v1.75h-1.75zM295.1 112.3h1.75v1.75h-1.75zM297.5 108.1h1.75v1.75h-1.75zM280.0 118.3h1.75v1.75h-1.75zM295.0 114.6h1.75v1.75h-1.75zM312.8 103.9h1.75v1.75h-1.75zM285.2 113.5h1.75v1.75h-1.75zM278.7 111.6h1.75v1.75h-1.75zM274.8 120.9h1.75v1.75h-1.75zM283.5 115.7h1.75v1.75h-1.75zM279.1 112.2h1.75v1.75h-1.75zM271.8 116.7h1.75v1.75h-1.75zM295.1 111.8h1.75v1.75h-1.75zM298.2 111.6h1.75v1.75h-1.75zM280.9 112.6h1.75v1.75h-1.75zM295.8 110.1h1.75v1.75h-1.75zM306.3 108.9h1.75v1.75h-1.75zM298.7 110.2h1.75v1.75h-1.75zM296.4 110.9h1.75v1.75h-1.75zM303.0 104.5h1.75v1.75h-1.75zM285.4 121.2h1.75v1.75h-1.75zM315.9 106.5h1.75v1.75h-1.75zM318.8 98.4h1.75v1.75h-1.75zM285.5 118.5h1.75v1.75h-1.75zM269.3 119.6h1.75v1.75h-1.75zM277.5 111.5h1.75v1.75h-1.75zM280.9 119.0h1.75v1.75h-1.75zM297.2 111.2h1.75v1.75h-1.75zM310.3 107.8h1.75v1.75h-1.75zM301.8 107.4h1.75v1.75h-1.75zM317.1 104.9h1.75v1.75h-1.75zM300.4 111.7h1.75v1.75h-1.75zM295.5 109.8h1.75v1.75h-1.75zM268.8 118.3h1.75v1.75h-1.75zM299.6 105.2h1.75v1.75h-1.75zM286.1 114.4h1.75v1.75h-1.75zM287.4 113.2h1.75v1.75h-1.75zM290.9 113.4h1.75v1.75h-1.75zM333.8 91.0h1.75v1.75h-1.75zM306.0 102.8h1.75v1.75h-1.75zM296.0 114.6h1.75v1.75h-1.75zM275.7 123.3h1.75v1.75h-1.75zM288.9 106.2h1.75v1.75h-1.75zM291.0 117.3h1.75v1.75h-1.75zM306.1 111.9h1.75v1.75h-1.75zM301.7 109.7h1.75v1.75h-1.75zM301.5 102.2h1.75v1.75h-1.75zM273.0 111.5h1.75v1.75h-1.75zM307.0 107.0h1.75v1.75h-1.75zM330.1 96.4h1.75v1.75h-1.75zM276.0 117.1h1.75v1.75h-1.75zM280.8 111.5h1.75v1.75h-1.75zM295.2 111.5h1.75v1.75h-1.75zM307.2 101.2h1.75v1.75h-1.75zM297.7 107.5h1.75v1.75h-1.75zM297.4 112.8h1.75v1.75h-1.75zM313.8 109.3h1.75v1.75h-1.75zM269.3 112.6h1.75v1.75h-1.75zM267.1 117.9h1.75v1.75h-1.75zM273.9 120.3h1.75v1.75h-1.75zM304.6 109.9h1.75v1.75h-1.75zM306.5 107.9h1.75v1.75h-1.75zM288.8 113.4h1.75v1.75h-1.75zM259.9 123.2h1.75v1.75h-1.75zM282.3 114.6h1.75v1.75h-1.75zM298.7 109.1h1.75v1.75h-1.75zM306.3 108.3h1.75v1.75h-1.75zM285.3 107.2h1.75v1.75h-1.75zM282.5 115.3h1.75v1.75h-1.75zM281.2 116.9h1.75v1.75h-1.75zM285.2 111.9h1.75v1.75h-1.75zM302.1 110.6h1.75v1.75h-1.75zM295.6 108.7h1.75v1.75h-1.75zM297.8 108.9h1.75v1.75h-1.75zM294.5 107.3h1.75v1.75h-1.75zM295.7 113.0h1.75v1.75h-1.75zM275.8 122.5h1.75v1.75h-1.75zM279.0 112.0h1.75v1.75h-1.75zM301.0 109.5h1.75v1.75h-1.75zM298.3 103.8h1.75v1.75h-1.75zM307.4 103.9h1.75v1.75h-1.75zM292.1 112.6h1.75v1.75h-1.75zM281.6 113.6h1.75v1.75h-1.75zM290.5 115.4h1.75v1.75h-1.75zM290.0 114.9h1.75v1.75h-1.75zM300.2 108.4h1.75v1.75h-1.75zM291.0 111.2h1.75v1.75h-1.75zM300.1 113.7h1.75v1.75h-1.75zM300.6 105.9h1.75v1.75h-1.75zM300.6 106.7h1.75v1.75h-1.75zM301.3 104.9h1.75v1.75h-1.75zM280.6 119.5h1.75v1.75h-1.75zM308.8 103.8h1.75v1.75h-1.75zM315.8 105.1h1.75v1.75h-1.75zM305.2 108.3h1.75v1.75h-1.75zM315.5 100.1h1.75v1.75h-1.75zM300.2 108.2h1.75v1.75h-1.75zM287.7 110.8h1.75v1.75h-1.75zM302.0 105.1h1.75v1.75h-1.75zM295.4 103.9h1.75v1.75h-1.75zM293.4 113.5h1.75v1.75h-1.75zM316.2 105.9h1.75v1.75h-1.75zM283.5 112.8h1.75v1.75h-1.75zM323.4 97.7h1.75v1.75h-1.75zM287.9 114.6h1.75v1.75h-1.75zM272.6 116.3h1.75v1.75h-1.75zM314.4 108.4h1.75v1.75h-1.75zM296.9 110.2h1.75v1.75h-1.75zM298.5 109.2h1.75v1.75h-1.75zM299.0 107.9h1.75v1.75h-1.75zM323.5 96.7h1.75v1.75h-1.75zM300.7 109.0h1.75v1.75h-1.75zM292.8 110.1h1.75v1.75h-1.75zM295.0 112.4h1.75v1.75h-1.75zM302.2 105.1h1.75v1.75h-1.75zM289.2 110.0h1.75v1.75h-1.75zM301.5 109.2h1.75v1.75h-1.75zM269.9 112.2h1.75v1.75h-1.75zM294.9 109.9h1.75v1.75h-1.75zM296.2 110.0h1.75v1.75h-1.75zM305.7 107.2h1.75v1.75h-1.75zM282.3 112.6h1.75v1.75h-1.75zM293.7 109.4h1.75v1.75h-1.75zM302.3 108.9h1.75v1.75h-1.75zM333.3 95.2h1.75v1.75h-1.75zM298.8 105.0h1.75v1.75h-1.75zM304.4 101.8h1.75v1.75h-1.75zM289.5 109.5h1.75v1.75h-1.75zM324.4 100.4h1.75v1.75h-1.75zM293.7 113.2h1.75v1.75h-1.75zM293.4 108.1h1.75v1.75h-1.75zM298.3 104.3h1.75v1.75h-1.75zM279.4 107.6h1.75v1.75h-1.75zM283.2 114.0h1.75v1.75h-1.75zM291.6 113.6h1.75v1.75h-1.75zM285.6 115.2h1.75v1.75h-1.75zM308.7 103.5h1.75v1.75h-1.75zM289.5 109.0h1.75v1.75h-1.75zM324.7 101.5h1.75v1.75h-1.75zM299.3 111.3h1.75v1.75h-1.75zM286.3 117.9h1.75v1.75h-1.75zM297.8 106.2h1.75v1.75h-1.75zM304.7 110.8h1.75v1.75h-1.75zM295.7 107.4h1.75v1.75h-1.75zM301.3 107.9h1.75v1.75h-1.75zM292.6 116.3h1.75v1.75h-1.75zM285.4 116.2h1.75v1.75h-1.75zM294.1 106.9h1.75v1.75h-1.75zM317.7 102.0h1.75v1.75h-1.75zM290.1 112.0h1.75v1.75h-1.75zM294.3 106.1h1.75v1.75h-1.75zM261.1 120.9h1.75v1.75h-1.75zM281.2 113.5h1.75v1.75h-1.75zM299.2 107.9h1.75v1.75h-1.75zM290.5 110.9h1.75v1.75h-1.75zM309.7 101.4h1.75v1.75h-1.75zM307.3 107.2h1.75v1.75h-1.75zM289.0 108.3h1.75v1.75h-1.75zM293.4 105.6h1.75v1.75h-1.75zM303.2 108.5h1.75v1.75h-1.75zM299.3 106.8h1.75v1.75h-1.75zM290.7 114.6h1.75v1.75h-1.75zM271.0 117.4h1.75v1.75h-1.75zM327.3 91.9h1.75v1.75h-1.75zM294.9 106.8h1.75v1.75h-1.75zM296.8 110.3h1.75v1.75h-1.75zM285.5 111.1h1.75v1.75h-1.75zM313.7 101.9h1.75v1.75h-1.75zM293.2 109.9h1.75v1.75h-1.75zM296.8 108.6h1.75v1.75h-1.75zM268.7 112.5h1.75v1.75h-1.75zM284.8 127.2h1.75v1.75h-1.75zM293.7 111.9h1.75v1.75h-1.75zM299.4 105.5h1.75v1.75h-1.75zM303.2 107.3h1.75v1.75h-1.75zM290.5 109.1h1.75v1.75h-1.75zM307.4 104.6h1.75v1.75h-1.75zM292.7 111.2h1.75v1.75h-1.75zM292.0 110.6h1.75v1.75h-1.75zM294.1 112.3h1.75v1.75h-1.75zM272.7 117.2h1.75v1.75h-1.75zM265.7 117.2h1.75v1.75h-1.75zM317.5 99.1h1.75v1.75h-1.75zM271.7 115.9h1.75v1.75h-1.75zM286.1 113.4h1.75v1.75h-1.75zM301.3 108.8h1.75v1.75h-1.75zM285.2 118.1h1.75v1.75h-1.75zM308.0 105.9h1.75v1.75h-1.75zM268.6 121.4h1.75v1.75h-1.75zM295.4 111.7h1.75v1.75h-1.75zM301.6 108.6h1.75v1.75h-1.75zM344.2 92.8h1.75v1.75h-1.75zM312.5 103.5h1.75v1.75h-1.75zM284.3 113.3h1.75v1.75h-1.75zM304.7 109.9h1.75v1.75h-1.75zM297.2 110.4h1.75v1.75h-1.75zM265.7 115.7h1.75v1.75h-1.75zM287.0 112.8h1.75v1.75h-1.75zM307.0 104.5h1.75v1.75h-1.75zM289.7 111.4h1.75v1.75h-1.75zM271.5 109.3h1.75v1.75h-1.75zM285.4 107.9h1.75v1.75h-1.75zM277.2 107.9h1.75v1.75h-1.75zM273.1 118.1h1.75v1.75h-1.75zM298.0 106.3h1.75v1.75h-1.75zM299.1 112.2h1.75v1.75h-1.75zM306.5 103.7h1.75v1.75h-1.75zM273.4 115.5h1.75v1.75h-1.75zM278.8 116.2h1.75v1.75h-1.75zM298.4 104.1h1.75v1.75h-1.75zM294.9 109.2h1.75v1.75h-1.75zM288.6 119.9h1.75v1.75h-1.75zM277.7 110.9h1.75v1.75h-1.75zM288.9 111.3h1.75v1.75h-1.75zM274.8 113.9h1.75v1.75h-1.75zM327.7 101.9h1.75v1.75h-1.75zM301.8 109.6h1.75v1.75h-1.75zM280.2 118.2h1.75v1.75h-1.75zM308.6 108.3h1.75v1.75h-1.75zM279.6 112.6h1.75v1.75h-1.75zM305.6 102.8h1.75v1.75h-1.75zM294.8 114.6h1.75v1.75h-1.75zM287.6 112.1h1.75v1.75h-1.75zM309.9 104.6h1.75v1.75h-1.75zM271.6 119.8h1.75v1.75h-1.75zM288.4 111.0h1.75v1.75h-1.75zM288.4 114.3h1.75v1.75h-1.75zM269.7 115.2h1.75v1.75h-1.75zM273.3 117.9h1.75v1.75h-1.75zM294.1 109.6h1.75v1.75h-1.75zM295.8 120.0h1.75v1.75h-1.75zM268.9 121.1h1.75v1.75h-1.75zM299.6 108.4h1.75v1.75h-1.75zM298.5 110.7h1.75v1.75h-1.75zM302.4 108.2h1.75v1.75h-1.75zM289.5 114.7h1.75v1.75h-1.75zM291.4 108.7h1.75v1.75h-1.75zM300.3 111.4h1.75v1.75h-1.75zM285.5 114.2h1.75v1.75h-1.75zM282.0 110.2h1.75v1.75h-1.75zM277.2 112.6h1.75v1.75h-1.75zM299.2 108.9h1.75v1.75h-1.75zM321.2 108.5h1.75v1.75h-1.75zM269.3 124.5h1.75v1.75h-1.75zM289.4 110.8h1.75v1.75h-1.75zM309.4 104.4h1.75v1.75h-1.75zM312.1 105.4h1.75v1.75h-1.75zM296.8 110.5h1.75v1.75h-1.75zM283.1 107.8h1.75v1.75h-1.75zM302.7 105.0h1.75v1.75h-1.75zM323.1 100.8h1.75v1.75h-1.75zM298.8 109.5h1.75v1.75h-1.75zM303.0 108.5h1.75v1.75h-1.75zM334.4 95.4h1.75v1.75h-1.75zM275.6 117.4h1.75v1.75h-1.75zM304.7 106.6h1.75v1.75h-1.75zM313.3 105.3h1.75v1.75h-1.75zM307.3 103.8h1.75v1.75h-1.75zM297.2 108.7h1.75v1.75h-1.75zM288.0 118.8h1.75v1.75h-1.75zM288.0 103.7h1.75v1.75h-1.75zM278.5 114.7h1.75v1.75h-1.75zM288.6 113.6h1.75v1.75h-1.75zM280.0 118.8h1.75v1.75h-1.75zM293.7 110.3h1.75v1.75h-1.75zM291.2 114.8h1.75v1.75h-1.75zM287.5 107.4h1.75v1.75h-1.75zM289.7 110.2h1.75v1.75h-1.75zM297.3 112.6h1.75v1.75h-1.75zM268.0 128.7h1.75v1.75h-1.75zM302.7 105.1h1.75v1.75h-1.75zM297.0 114.4h1.75v1.75h-1.75zM302.1 106.2h1.75v1.75h-1.75zM290.7 111.1h1.75v1.75h-1.75zM292.3 119.3h1.75v1.75h-1.75zM296.6 110.3h1.75v1.75h-1.75zM296.2 104.6h1.75v1.75h-1.75zM290.0 114.4h1.75v1.75h-1.75zM288.7 124.6h1.75v1.75h-1.75zM284.2 123.1h1.75v1.75h-1.75zM290.3 111.9h1.75v1.75h-1.75zM285.5 112.4h1.75v1.75h-1.75zM278.1 111.3h1.75v1.75h-1.75zM273.8 115.8h1.75v1.75h-1.75zM312.0 107.3h1.75v1.75h-1.75zM209.5 132.0h1.75v1.75h-1.75zM238.6 131.1h1.75v1.75h-1.75z"/>
<text x="229.50" y="147.50" font-size="4.6" font-family='"Liberation Sans", sans-serif' fill="#4d4d4d" text-anchor="middle">1</text>
<text x="265.47" y="147.50" font-size="4.6" font-family='"Liberation Sans", sans-serif' fill="#4d4d4d" text-anchor="middle">2</text>
<text x="301.43" y="147.50" font-size="4.6" font-family='"Liberation Sans", sans-serif' fill="#4d4d4d" text-anchor="middle">3</text>
<text x="337.40" y="147.50" font-size="4.6" font-family='"Liberation Sans", sans-serif' fill="#4d4d4d" text-anchor="middle">4</text>
<text x="203.10" y="137.50" font-size="4.4" font-family='"Liberation Sans", sans-serif' fill="#4d4d4d" text-anchor="middle" transform="rotate(-90 203.10 137.50)">1</text>
<text x="203.10" y="121.07" font-size="4.4" font-family='"Liberation Sans", sans-serif' fill="#4d4d4d" text-anchor="middle" transform="rotate(-90 203.10 121.07)">2</text>
<text x="203.10" y="104.63" font-size="4.4" font-family='"Liberation Sans", sans-serif' fill="#4d4d4d" text-anchor="middle" transform="rotate(-90 203.10 104.63)">3</text>
<text x="203.10" y="88.20" font-size="4.4" font-family='"Liberation Sans", sans-serif' fill="#4d4d4d" text-anchor="middle" transform="rotate(-90 203.10 88.20)">4</text>
<text x="198.80" y="115.90" font-size="4.7" font-family='"Liberation Sans", sans-serif' fill="#111" text-anchor="middle" font-weight="bold" textLength="54.40" lengthAdjust="spacingAndGlyphs" transform="rotate(-90 198.80 115.90)">Log10 expression of KIF2C</text>
<text x="278.00" y="150.60" font-size="4.7" font-family='"Liberation Sans", sans-serif' fill="#111" text-anchor="middle" font-weight="bold" textLength="57.40" lengthAdjust="spacingAndGlyphs">Log10 expression of BIRC5</text>
<text x="346.00" y="123.50" font-size="6.0" font-family='"Liberation Serif", serif' fill="#222" text-anchor="end">Size=1091</text>
<text x="346.00" y="130.40" font-size="6.0" font-family='"Liberation Serif", serif' fill="#222" text-anchor="end">P value=0.00</text>
<text x="346.00" y="137.30" font-size="6.0" font-family='"Liberation Serif", serif' fill="#222" text-anchor="end">R=0.81</text>
<rect x="28" y="155.3" width="149.00" height="55.50" fill="none" stroke="#ebebeb" stroke-width="0.7"/>
<polygon points="36.0,199.3 42.0,197.7 47.9,196.1 53.9,194.5 59.9,192.9 65.8,191.3 71.8,189.7 77.8,188.0 83.7,186.3 89.7,184.6 95.7,182.7 101.6,180.9 107.6,179.0 113.5,177.1 119.5,175.2 125.5,173.3 131.4,171.4 137.4,169.5 143.4,167.6 149.3,165.7 155.3,163.7 161.3,161.8 167.2,159.9 173.2,158.0 173.2,163.2 167.2,164.8 161.3,166.4 155.3,167.9 149.3,169.5 143.4,171.1 137.4,172.7 131.4,174.3 125.5,175.9 119.5,177.4 113.5,179.0 107.6,180.6 101.6,182.3 95.7,183.9 89.7,185.6 83.7,187.3 77.8,189.1 71.8,190.9 65.8,192.8 59.9,194.7 53.9,196.6 47.9,198.5 42.0,200.4 36.0,202.3" fill="#dedcd4"/>
<line x1="36" y1="200.8" x2="173.2" y2="160.6" stroke="#3f6ae8" stroke-width="1.25"/>
<path fill="#000" d="M66.5 183.8h1.75v1.75h-1.75zM71.6 183.4h1.75v1.75h-1.75zM73.6 192.0h1.75v1.75h-1.75zM47.3 202.7h1.75v1.75h-1.75zM94.8 174.9h1.75v1.75h-1.75zM106.3 182.8h1.75v1.75h-1.75zM75.5 183.8h1.75v1.75h-1.75zM82.6 195.6h1.75v1.75h-1.75zM47.3 197.3h1.75v1.75h-1.75zM83.7 193.0h1.75v1.75h-1.75zM59.4 187.6h1.75v1.75h-1.75zM54.4 188.2h1.75v1.75h-1.75zM98.9 178.5h1.75v1.75h-1.75zM81.4 181.2h1.75v1.75h-1.75zM66.5 194.2h1.75v1.75h-1.75zM35.1 195.6h1.75v1.75h-1.75zM78.7 183.1h1.75v1.75h-1.75zM120.9 179.6h1.75v1.75h-1.75zM86.7 180.7h1.75v1.75h-1.75zM84.8 183.4h1.75v1.75h-1.75zM110.3 174.8h1.75v1.75h-1.75zM133.5 172.2h1.75v1.75h-1.75zM94.2 182.5h1.75v1.75h-1.75zM106.0 175.9h1.75v1.75h-1.75zM84.8 184.5h1.75v1.75h-1.75zM92.9 179.3h1.75v1.75h-1.75zM91.6 191.0h1.75v1.75h-1.75zM108.8 172.3h1.75v1.75h-1.75zM69.2 194.2h1.75v1.75h-1.75zM88.5 177.7h1.75v1.75h-1.75zM88.5 193.0h1.75v1.75h-1.75zM78.7 190.2h1.75v1.75h-1.75zM66.5 188.8h1.75v1.75h-1.75zM101.9 177.7h1.75v1.75h-1.75zM71.6 192.0h1.75v1.75h-1.75zM35.1 208.1h1.75v1.75h-1.75zM99.8 177.0h1.75v1.75h-1.75zM47.3 187.6h1.75v1.75h-1.75zM101.1 185.7h1.75v1.75h-1.75zM35.1 208.1h1.75v1.75h-1.75zM81.4 189.5h1.75v1.75h-1.75zM127.8 173.2h1.75v1.75h-1.75zM75.5 199.6h1.75v1.75h-1.75zM111.5 183.4h1.75v1.75h-1.75zM71.6 184.8h1.75v1.75h-1.75zM63.3 197.3h1.75v1.75h-1.75zM73.6 193.0h1.75v1.75h-1.75zM106.0 169.8h1.75v1.75h-1.75zM114.8 169.9h1.75v1.75h-1.75zM118.5 165.3h1.75v1.75h-1.75zM104.7 179.3h1.75v1.75h-1.75zM81.4 187.1h1.75v1.75h-1.75zM35.1 202.7h1.75v1.75h-1.75zM63.3 202.7h1.75v1.75h-1.75zM120.5 187.1h1.75v1.75h-1.75zM35.1 199.6h1.75v1.75h-1.75zM93.5 187.1h1.75v1.75h-1.75zM92.2 179.1h1.75v1.75h-1.75zM35.1 191.0h1.75v1.75h-1.75zM90.1 193.0h1.75v1.75h-1.75zM71.6 197.3h1.75v1.75h-1.75zM85.8 183.4h1.75v1.75h-1.75zM78.7 178.4h1.75v1.75h-1.75zM75.5 178.4h1.75v1.75h-1.75zM54.4 199.6h1.75v1.75h-1.75zM35.1 199.6h1.75v1.75h-1.75zM126.5 164.2h1.75v1.75h-1.75zM59.4 197.3h1.75v1.75h-1.75zM73.6 194.2h1.75v1.75h-1.75zM71.6 180.3h1.75v1.75h-1.75zM73.6 193.0h1.75v1.75h-1.75zM59.4 199.6h1.75v1.75h-1.75zM94.8 172.5h1.75v1.75h-1.75zM80.1 188.8h1.75v1.75h-1.75zM66.5 193.0h1.75v1.75h-1.75zM63.3 187.1h1.75v1.75h-1.75zM93.5 173.2h1.75v1.75h-1.75zM54.4 187.6h1.75v1.75h-1.75zM94.2 180.5h1.75v1.75h-1.75zM115.3 173.2h1.75v1.75h-1.75zM108.6 175.2h1.75v1.75h-1.75zM95.3 179.8h1.75v1.75h-1.75zM35.1 208.1h1.75v1.75h-1.75zM100.2 178.4h1.75v1.75h-1.75zM88.5 192.0h1.75v1.75h-1.75zM117.4 179.6h1.75v1.75h-1.75zM66.5 188.8h1.75v1.75h-1.75zM69.2 190.2h1.75v1.75h-1.75zM119.9 172.2h1.75v1.75h-1.75zM59.4 192.0h1.75v1.75h-1.75zM112.2 173.8h1.75v1.75h-1.75zM90.8 172.0h1.75v1.75h-1.75zM35.1 208.1h1.75v1.75h-1.75zM69.2 182.2h1.75v1.75h-1.75zM69.2 177.3h1.75v1.75h-1.75zM47.3 199.6h1.75v1.75h-1.75zM35.1 202.7h1.75v1.75h-1.75zM83.7 185.7h1.75v1.75h-1.75zM54.4 190.2h1.75v1.75h-1.75zM63.3 195.6h1.75v1.75h-1.75zM54.4 195.6h1.75v1.75h-1.75zM75.5 187.6h1.75v1.75h-1.75zM94.2 181.7h1.75v1.75h-1.75zM102.2 171.1h1.75v1.75h-1.75zM94.8 184.8h1.75v1.75h-1.75zM71.6 183.4h1.75v1.75h-1.75zM77.2 182.2h1.75v1.75h-1.75zM96.4 180.1h1.75v1.75h-1.75zM113.8 175.3h1.75v1.75h-1.75zM78.7 191.0h1.75v1.75h-1.75zM47.3 202.7h1.75v1.75h-1.75zM88.5 181.4h1.75v1.75h-1.75zM97.9 179.3h1.75v1.75h-1.75zM69.2 191.0h1.75v1.75h-1.75zM112.4 169.7h1.75v1.75h-1.75zM69.2 188.2h1.75v1.75h-1.75zM81.4 185.2h1.75v1.75h-1.75zM90.8 183.8h1.75v1.75h-1.75zM123.2 167.0h1.75v1.75h-1.75zM47.3 191.0h1.75v1.75h-1.75zM95.3 179.6h1.75v1.75h-1.75zM101.5 187.1h1.75v1.75h-1.75zM78.7 176.3h1.75v1.75h-1.75zM108.0 186.1h1.75v1.75h-1.75zM63.3 188.2h1.75v1.75h-1.75zM47.3 202.7h1.75v1.75h-1.75zM47.3 208.1h1.75v1.75h-1.75zM63.3 208.1h1.75v1.75h-1.75zM54.4 193.0h1.75v1.75h-1.75zM94.2 180.5h1.75v1.75h-1.75zM81.4 188.2h1.75v1.75h-1.75zM47.3 199.6h1.75v1.75h-1.75zM122.5 182.2h1.75v1.75h-1.75zM87.6 184.8h1.75v1.75h-1.75zM35.1 202.7h1.75v1.75h-1.75zM35.1 208.1h1.75v1.75h-1.75zM82.6 188.8h1.75v1.75h-1.75zM116.7 178.0h1.75v1.75h-1.75zM73.6 195.6h1.75v1.75h-1.75zM106.3 172.6h1.75v1.75h-1.75zM123.9 181.7h1.75v1.75h-1.75zM100.2 169.3h1.75v1.75h-1.75zM71.6 182.2h1.75v1.75h-1.75zM47.3 199.6h1.75v1.75h-1.75zM63.3 180.5h1.75v1.75h-1.75zM116.0 169.5h1.75v1.75h-1.75zM81.4 179.1h1.75v1.75h-1.75zM54.4 193.0h1.75v1.75h-1.75zM69.2 195.6h1.75v1.75h-1.75zM75.5 199.6h1.75v1.75h-1.75zM110.8 176.0h1.75v1.75h-1.75zM66.5 192.0h1.75v1.75h-1.75zM130.5 175.6h1.75v1.75h-1.75zM86.7 172.5h1.75v1.75h-1.75zM90.8 180.7h1.75v1.75h-1.75zM54.4 208.1h1.75v1.75h-1.75zM91.6 184.1h1.75v1.75h-1.75zM88.5 181.2h1.75v1.75h-1.75zM100.2 188.2h1.75v1.75h-1.75zM63.3 190.2h1.75v1.75h-1.75zM86.7 186.6h1.75v1.75h-1.75zM35.1 208.1h1.75v1.75h-1.75zM54.4 191.0h1.75v1.75h-1.75zM142.6 164.3h1.75v1.75h-1.75zM69.2 208.1h1.75v1.75h-1.75zM59.4 189.5h1.75v1.75h-1.75zM104.4 183.1h1.75v1.75h-1.75zM75.5 190.2h1.75v1.75h-1.75zM150.2 176.0h1.75v1.75h-1.75zM82.6 192.0h1.75v1.75h-1.75zM99.4 170.5h1.75v1.75h-1.75zM73.6 184.5h1.75v1.75h-1.75zM111.0 178.5h1.75v1.75h-1.75zM81.4 185.7h1.75v1.75h-1.75zM153.1 170.2h1.75v1.75h-1.75zM63.3 192.0h1.75v1.75h-1.75zM92.9 188.2h1.75v1.75h-1.75zM99.8 179.4h1.75v1.75h-1.75zM47.3 208.1h1.75v1.75h-1.75zM66.5 189.5h1.75v1.75h-1.75zM59.4 187.1h1.75v1.75h-1.75zM35.1 202.7h1.75v1.75h-1.75zM88.5 183.1h1.75v1.75h-1.75zM35.1 197.3h1.75v1.75h-1.75zM47.3 199.6h1.75v1.75h-1.75zM47.3 208.1h1.75v1.75h-1.75zM87.6 178.0h1.75v1.75h-1.75zM75.5 187.6h1.75v1.75h-1.75zM107.5 180.5h1.75v1.75h-1.75zM111.7 169.9h1.75v1.75h-1.75zM83.7 190.2h1.75v1.75h-1.75zM54.4 197.3h1.75v1.75h-1.75zM98.9 185.2h1.75v1.75h-1.75zM59.4 199.6h1.75v1.75h-1.75zM71.6 190.2h1.75v1.75h-1.75zM80.1 190.2h1.75v1.75h-1.75zM119.3 166.8h1.75v1.75h-1.75zM150.8 169.8h1.75v1.75h-1.75zM113.0 169.7h1.75v1.75h-1.75zM66.5 197.3h1.75v1.75h-1.75zM105.4 181.2h1.75v1.75h-1.75zM114.6 176.3h1.75v1.75h-1.75zM59.4 199.6h1.75v1.75h-1.75zM84.8 181.2h1.75v1.75h-1.75zM63.3 195.6h1.75v1.75h-1.75zM63.3 195.6h1.75v1.75h-1.75zM83.7 181.4h1.75v1.75h-1.75zM84.8 189.5h1.75v1.75h-1.75zM59.4 188.2h1.75v1.75h-1.75zM81.4 179.8h1.75v1.75h-1.75zM47.3 189.5h1.75v1.75h-1.75zM77.2 179.1h1.75v1.75h-1.75zM84.8 187.6h1.75v1.75h-1.75zM69.2 181.9h1.75v1.75h-1.75zM35.1 202.7h1.75v1.75h-1.75zM59.4 202.7h1.75v1.75h-1.75zM90.8 184.5h1.75v1.75h-1.75zM106.3 167.4h1.75v1.75h-1.75zM106.0 184.8h1.75v1.75h-1.75zM107.8 168.0h1.75v1.75h-1.75zM126.8 181.4h1.75v1.75h-1.75zM69.2 184.1h1.75v1.75h-1.75zM111.0 174.7h1.75v1.75h-1.75zM59.4 195.6h1.75v1.75h-1.75zM126.7 186.1h1.75v1.75h-1.75zM106.6 174.9h1.75v1.75h-1.75zM54.4 189.5h1.75v1.75h-1.75zM98.9 178.2h1.75v1.75h-1.75zM107.2 172.9h1.75v1.75h-1.75zM59.4 199.6h1.75v1.75h-1.75zM89.3 172.1h1.75v1.75h-1.75zM103.7 174.4h1.75v1.75h-1.75zM129.7 176.7h1.75v1.75h-1.75zM66.5 176.3h1.75v1.75h-1.75zM121.6 174.4h1.75v1.75h-1.75zM54.4 191.0h1.75v1.75h-1.75zM59.4 186.6h1.75v1.75h-1.75zM116.2 181.2h1.75v1.75h-1.75zM100.7 185.7h1.75v1.75h-1.75zM59.4 194.2h1.75v1.75h-1.75zM121.2 181.4h1.75v1.75h-1.75zM94.2 183.8h1.75v1.75h-1.75zM85.8 176.8h1.75v1.75h-1.75zM73.6 195.6h1.75v1.75h-1.75zM35.1 199.6h1.75v1.75h-1.75zM81.4 189.5h1.75v1.75h-1.75zM105.7 174.3h1.75v1.75h-1.75zM80.1 193.0h1.75v1.75h-1.75zM99.8 187.6h1.75v1.75h-1.75zM78.7 188.2h1.75v1.75h-1.75zM117.2 164.0h1.75v1.75h-1.75zM35.1 208.1h1.75v1.75h-1.75zM93.5 193.0h1.75v1.75h-1.75zM54.4 202.7h1.75v1.75h-1.75zM85.8 181.2h1.75v1.75h-1.75zM97.9 176.3h1.75v1.75h-1.75zM111.0 178.2h1.75v1.75h-1.75zM101.9 179.1h1.75v1.75h-1.75zM112.4 185.7h1.75v1.75h-1.75zM54.4 192.0h1.75v1.75h-1.75zM83.7 187.1h1.75v1.75h-1.75zM35.1 208.1h1.75v1.75h-1.75zM89.3 178.4h1.75v1.75h-1.75zM35.1 191.0h1.75v1.75h-1.75zM108.6 181.4h1.75v1.75h-1.75zM85.8 184.1h1.75v1.75h-1.75zM73.6 199.6h1.75v1.75h-1.75zM63.3 199.6h1.75v1.75h-1.75zM84.8 178.0h1.75v1.75h-1.75zM63.3 199.6h1.75v1.75h-1.75zM47.3 202.7h1.75v1.75h-1.75zM90.1 177.6h1.75v1.75h-1.75zM59.4 208.1h1.75v1.75h-1.75zM92.2 187.6h1.75v1.75h-1.75zM54.4 189.5h1.75v1.75h-1.75zM47.3 199.6h1.75v1.75h-1.75zM138.7 175.2h1.75v1.75h-1.75zM95.3 188.8h1.75v1.75h-1.75zM111.7 176.7h1.75v1.75h-1.75zM73.6 194.2h1.75v1.75h-1.75zM78.7 185.7h1.75v1.75h-1.75zM78.7 188.2h1.75v1.75h-1.75zM131.5 172.0h1.75v1.75h-1.75zM97.5 175.4h1.75v1.75h-1.75zM82.6 189.5h1.75v1.75h-1.75zM78.7 193.0h1.75v1.75h-1.75zM81.4 186.6h1.75v1.75h-1.75zM107.5 177.6h1.75v1.75h-1.75zM81.4 187.6h1.75v1.75h-1.75zM81.4 197.3h1.75v1.75h-1.75zM115.9 172.6h1.75v1.75h-1.75zM106.0 189.5h1.75v1.75h-1.75zM101.5 193.0h1.75v1.75h-1.75zM132.2 166.2h1.75v1.75h-1.75zM77.2 178.9h1.75v1.75h-1.75zM47.3 199.6h1.75v1.75h-1.75zM35.1 208.1h1.75v1.75h-1.75zM78.7 179.3h1.75v1.75h-1.75zM86.7 193.0h1.75v1.75h-1.75zM106.0 179.4h1.75v1.75h-1.75zM47.3 202.7h1.75v1.75h-1.75zM47.3 192.0h1.75v1.75h-1.75zM73.6 187.1h1.75v1.75h-1.75zM71.6 194.2h1.75v1.75h-1.75zM47.3 187.6h1.75v1.75h-1.75zM75.5 183.8h1.75v1.75h-1.75zM97.9 181.7h1.75v1.75h-1.75zM73.6 190.2h1.75v1.75h-1.75zM141.2 169.3h1.75v1.75h-1.75zM98.4 188.8h1.75v1.75h-1.75zM59.4 194.2h1.75v1.75h-1.75zM73.6 190.2h1.75v1.75h-1.75zM35.1 195.6h1.75v1.75h-1.75zM136.1 171.6h1.75v1.75h-1.75zM71.6 192.0h1.75v1.75h-1.75zM71.6 187.6h1.75v1.75h-1.75zM97.9 175.9h1.75v1.75h-1.75zM69.2 186.6h1.75v1.75h-1.75zM59.4 194.2h1.75v1.75h-1.75zM77.2 190.2h1.75v1.75h-1.75zM105.4 171.3h1.75v1.75h-1.75zM105.7 179.1h1.75v1.75h-1.75zM35.1 208.1h1.75v1.75h-1.75zM35.1 197.3h1.75v1.75h-1.75zM90.1 194.2h1.75v1.75h-1.75zM69.2 193.0h1.75v1.75h-1.75zM66.5 186.6h1.75v1.75h-1.75zM106.3 180.1h1.75v1.75h-1.75zM90.1 185.7h1.75v1.75h-1.75zM63.3 186.6h1.75v1.75h-1.75zM94.8 175.6h1.75v1.75h-1.75zM59.4 199.6h1.75v1.75h-1.75zM63.3 199.6h1.75v1.75h-1.75zM128.0 176.8h1.75v1.75h-1.75zM71.6 195.6h1.75v1.75h-1.75zM92.9 180.3h1.75v1.75h-1.75zM71.6 184.8h1.75v1.75h-1.75zM69.2 190.2h1.75v1.75h-1.75zM47.3 202.7h1.75v1.75h-1.75zM47.3 208.1h1.75v1.75h-1.75zM112.2 178.4h1.75v1.75h-1.75zM137.4 174.7h1.75v1.75h-1.75zM96.9 179.3h1.75v1.75h-1.75zM94.2 190.2h1.75v1.75h-1.75zM63.3 195.6h1.75v1.75h-1.75zM77.2 190.2h1.75v1.75h-1.75zM119.5 169.2h1.75v1.75h-1.75zM148.6 162.2h1.75v1.75h-1.75zM97.9 178.7h1.75v1.75h-1.75zM90.1 182.8h1.75v1.75h-1.75zM109.1 174.3h1.75v1.75h-1.75zM83.7 195.6h1.75v1.75h-1.75zM59.4 186.6h1.75v1.75h-1.75zM54.4 195.6h1.75v1.75h-1.75zM71.6 180.1h1.75v1.75h-1.75zM69.2 184.1h1.75v1.75h-1.75zM35.1 189.5h1.75v1.75h-1.75zM35.1 208.1h1.75v1.75h-1.75zM101.1 163.4h1.75v1.75h-1.75zM105.4 175.8h1.75v1.75h-1.75zM101.5 178.7h1.75v1.75h-1.75zM73.6 192.0h1.75v1.75h-1.75zM63.3 188.8h1.75v1.75h-1.75zM78.7 199.6h1.75v1.75h-1.75zM88.5 176.2h1.75v1.75h-1.75zM66.5 187.1h1.75v1.75h-1.75zM108.8 178.4h1.75v1.75h-1.75zM59.4 182.8h1.75v1.75h-1.75zM35.1 194.2h1.75v1.75h-1.75zM97.9 178.5h1.75v1.75h-1.75zM103.7 182.5h1.75v1.75h-1.75zM75.5 185.7h1.75v1.75h-1.75zM107.5 185.2h1.75v1.75h-1.75zM111.5 183.8h1.75v1.75h-1.75zM35.1 197.3h1.75v1.75h-1.75zM90.8 187.1h1.75v1.75h-1.75zM47.3 208.1h1.75v1.75h-1.75zM98.4 182.2h1.75v1.75h-1.75zM86.7 195.6h1.75v1.75h-1.75zM102.2 170.7h1.75v1.75h-1.75zM73.6 194.2h1.75v1.75h-1.75zM63.3 197.3h1.75v1.75h-1.75zM87.6 175.1h1.75v1.75h-1.75zM144.9 176.3h1.75v1.75h-1.75zM91.6 195.6h1.75v1.75h-1.75zM54.4 194.2h1.75v1.75h-1.75zM78.7 188.8h1.75v1.75h-1.75zM73.6 182.2h1.75v1.75h-1.75zM114.2 177.0h1.75v1.75h-1.75zM83.7 195.6h1.75v1.75h-1.75zM71.6 188.2h1.75v1.75h-1.75zM84.8 186.6h1.75v1.75h-1.75zM59.4 183.8h1.75v1.75h-1.75zM92.9 180.9h1.75v1.75h-1.75zM54.4 199.6h1.75v1.75h-1.75zM69.2 194.2h1.75v1.75h-1.75zM85.8 184.8h1.75v1.75h-1.75zM47.3 199.6h1.75v1.75h-1.75zM47.3 194.2h1.75v1.75h-1.75zM59.4 191.0h1.75v1.75h-1.75zM119.5 181.9h1.75v1.75h-1.75zM103.0 178.5h1.75v1.75h-1.75zM82.6 180.9h1.75v1.75h-1.75z"/>
<text x="36.00" y="215.00" font-size="4.6" font-family='"Liberation Sans", sans-serif' fill="#4d4d4d" text-anchor="middle">0</text>
<text x="76.37" y="215.00" font-size="4.6" font-family='"Liberation Sans", sans-serif' fill="#4d4d4d" text-anchor="middle">1</text>
<text x="116.73" y="215.00" font-size="4.6" font-family='"Liberation Sans", sans-serif' fill="#4d4d4d" text-anchor="middle">2</text>
<text x="157.10" y="215.00" font-size="4.6" font-family='"Liberation Sans", sans-serif' fill="#4d4d4d" text-anchor="middle">3</text>
<text x="27.70" y="209.00" font-size="4.4" font-family='"Liberation Sans", sans-serif' fill="#4d4d4d" text-anchor="middle" transform="rotate(-90 27.70 209.00)">0</text>
<text x="27.70" y="191.10" font-size="4.4" font-family='"Liberation Sans", sans-serif' fill="#4d4d4d" text-anchor="middle" transform="rotate(-90 27.70 191.10)">1</text>
<text x="27.70" y="173.20" font-size="4.4" font-family='"Liberation Sans", sans-serif' fill="#4d4d4d" text-anchor="middle" transform="rotate(-90 27.70 173.20)">2</text>
<text x="24.00" y="184.25" font-size="4.7" font-family='"Liberation Sans", sans-serif' fill="#111" text-anchor="middle" font-weight="bold" textLength="57.70" lengthAdjust="spacingAndGlyphs" transform="rotate(-90 24.00 184.25)">Log10 expression of UBE2C</text>
<text x="104.40" y="219.50" font-size="4.7" font-family='"Liberation Sans", sans-serif' fill="#111" text-anchor="middle" font-weight="bold" textLength="57.40" lengthAdjust="spacingAndGlyphs">Log10 expression of BIRC5</text>
<text x="173.60" y="194.10" font-size="6.0" font-family='"Liberation Serif", serif' fill="#222" text-anchor="end">Size=403</text>
<text x="173.60" y="201.00" font-size="6.0" font-family='"Liberation Serif", serif' fill="#222" text-anchor="end">P value=0.00</text>
<text x="173.60" y="207.90" font-size="6.0" font-family='"Liberation Serif", serif' fill="#222" text-anchor="end">R=0.77</text>
<rect x="200.6" y="155.3" width="150.70" height="55.70" fill="none" stroke="#ebebeb" stroke-width="0.7"/>
<polygon points="207.5,205.4 213.5,203.4 219.4,201.5 225.4,199.5 231.4,197.6 237.3,195.6 243.3,193.7 249.3,191.7 255.3,189.8 261.2,187.8 267.2,185.9 273.2,183.9 279.1,181.9 285.1,179.9 291.1,177.9 297.0,175.9 303.0,173.8 309.0,171.6 315.0,169.4 320.9,167.1 326.9,164.9 332.9,162.7 338.8,160.4 344.8,158.1 344.8,160.7 338.8,162.6 332.9,164.6 326.9,166.5 320.9,168.5 315.0,170.5 309.0,172.5 303.0,174.6 297.0,176.7 291.1,178.8 285.1,181.1 279.1,183.3 273.2,185.5 267.2,187.8 261.2,190.0 255.3,192.3 249.3,194.5 243.3,196.8 237.3,199.1 231.4,201.3 225.4,203.6 219.4,205.9 213.5,208.1 207.5,210.4" fill="#dedcd4"/>
<line x1="207.5" y1="207.9" x2="344.8" y2="159.4" stroke="#3f6ae8" stroke-width="1.25"/>
<path fill="#000" d="M304.8 172.8h1.75v1.75h-1.75zM288.2 187.5h1.75v1.75h-1.75zM297.8 177.2h1.75v1.75h-1.75zM292.5 176.0h1.75v1.75h-1.75zM297.3 177.9h1.75v1.75h-1.75zM296.1 171.6h1.75v1.75h-1.75zM324.2 164.6h1.75v1.75h-1.75zM277.4 175.4h1.75v1.75h-1.75zM300.2 179.9h1.75v1.75h-1.75zM286.2 177.1h1.75v1.75h-1.75zM297.8 187.0h1.75v1.75h-1.75zM295.9 179.2h1.75v1.75h-1.75zM312.6 165.7h1.75v1.75h-1.75zM290.8 179.3h1.75v1.75h-1.75zM283.9 182.2h1.75v1.75h-1.75zM297.0 180.7h1.75v1.75h-1.75zM296.4 168.2h1.75v1.75h-1.75zM265.0 181.1h1.75v1.75h-1.75zM317.3 168.3h1.75v1.75h-1.75zM281.0 179.5h1.75v1.75h-1.75zM312.9 169.8h1.75v1.75h-1.75zM321.1 178.0h1.75v1.75h-1.75zM310.9 169.0h1.75v1.75h-1.75zM295.7 178.2h1.75v1.75h-1.75zM282.5 183.9h1.75v1.75h-1.75zM283.4 175.4h1.75v1.75h-1.75zM309.4 170.8h1.75v1.75h-1.75zM287.2 183.3h1.75v1.75h-1.75zM298.5 172.4h1.75v1.75h-1.75zM288.6 178.5h1.75v1.75h-1.75zM279.8 179.0h1.75v1.75h-1.75zM305.7 172.8h1.75v1.75h-1.75zM281.3 179.5h1.75v1.75h-1.75zM290.8 176.3h1.75v1.75h-1.75zM289.7 181.9h1.75v1.75h-1.75zM295.3 166.7h1.75v1.75h-1.75zM292.0 176.0h1.75v1.75h-1.75zM269.2 204.8h1.75v1.75h-1.75zM288.0 174.1h1.75v1.75h-1.75zM289.2 184.6h1.75v1.75h-1.75zM318.9 165.9h1.75v1.75h-1.75zM303.6 166.2h1.75v1.75h-1.75zM292.2 178.3h1.75v1.75h-1.75zM295.7 176.3h1.75v1.75h-1.75zM286.8 169.9h1.75v1.75h-1.75zM315.0 166.3h1.75v1.75h-1.75zM291.1 175.0h1.75v1.75h-1.75zM280.9 181.8h1.75v1.75h-1.75zM345.6 157.9h1.75v1.75h-1.75zM283.2 188.5h1.75v1.75h-1.75zM285.9 181.1h1.75v1.75h-1.75zM280.7 181.7h1.75v1.75h-1.75zM302.9 168.5h1.75v1.75h-1.75zM284.5 177.6h1.75v1.75h-1.75zM283.3 185.9h1.75v1.75h-1.75zM316.2 174.9h1.75v1.75h-1.75zM312.2 179.8h1.75v1.75h-1.75zM300.7 175.7h1.75v1.75h-1.75zM279.7 175.0h1.75v1.75h-1.75zM299.9 173.7h1.75v1.75h-1.75zM285.4 183.0h1.75v1.75h-1.75zM300.2 173.8h1.75v1.75h-1.75zM297.4 176.2h1.75v1.75h-1.75zM278.3 187.6h1.75v1.75h-1.75zM305.0 176.8h1.75v1.75h-1.75zM293.6 177.8h1.75v1.75h-1.75zM292.8 173.6h1.75v1.75h-1.75zM268.4 190.9h1.75v1.75h-1.75zM305.7 175.6h1.75v1.75h-1.75zM284.5 186.3h1.75v1.75h-1.75zM294.8 176.7h1.75v1.75h-1.75zM269.7 194.5h1.75v1.75h-1.75zM277.4 174.8h1.75v1.75h-1.75zM277.3 182.3h1.75v1.75h-1.75zM272.1 198.1h1.75v1.75h-1.75zM288.1 172.9h1.75v1.75h-1.75zM310.6 169.8h1.75v1.75h-1.75zM307.3 172.4h1.75v1.75h-1.75zM272.7 183.7h1.75v1.75h-1.75zM282.9 183.5h1.75v1.75h-1.75zM328.9 172.4h1.75v1.75h-1.75zM311.2 177.4h1.75v1.75h-1.75zM293.4 177.9h1.75v1.75h-1.75zM288.3 177.2h1.75v1.75h-1.75zM288.1 170.6h1.75v1.75h-1.75zM262.7 186.3h1.75v1.75h-1.75zM284.9 176.5h1.75v1.75h-1.75zM320.3 163.3h1.75v1.75h-1.75zM313.8 173.3h1.75v1.75h-1.75zM289.6 182.7h1.75v1.75h-1.75zM303.5 177.3h1.75v1.75h-1.75zM300.8 167.7h1.75v1.75h-1.75zM285.7 185.8h1.75v1.75h-1.75zM281.5 178.7h1.75v1.75h-1.75zM285.5 183.4h1.75v1.75h-1.75zM295.4 165.0h1.75v1.75h-1.75zM310.2 176.9h1.75v1.75h-1.75zM296.3 181.3h1.75v1.75h-1.75zM293.2 179.2h1.75v1.75h-1.75zM286.6 188.6h1.75v1.75h-1.75zM309.4 168.0h1.75v1.75h-1.75zM331.3 156.7h1.75v1.75h-1.75zM296.3 171.6h1.75v1.75h-1.75zM287.3 163.0h1.75v1.75h-1.75zM297.2 179.6h1.75v1.75h-1.75zM300.8 173.5h1.75v1.75h-1.75zM308.6 173.1h1.75v1.75h-1.75zM305.8 175.6h1.75v1.75h-1.75zM283.1 178.9h1.75v1.75h-1.75zM291.8 167.8h1.75v1.75h-1.75zM287.9 182.7h1.75v1.75h-1.75zM301.5 164.2h1.75v1.75h-1.75zM278.9 180.4h1.75v1.75h-1.75zM269.9 187.0h1.75v1.75h-1.75zM294.1 181.6h1.75v1.75h-1.75zM281.3 174.4h1.75v1.75h-1.75zM287.4 178.1h1.75v1.75h-1.75zM291.5 178.0h1.75v1.75h-1.75zM281.4 183.6h1.75v1.75h-1.75zM294.1 177.0h1.75v1.75h-1.75zM278.4 183.5h1.75v1.75h-1.75zM277.9 181.5h1.75v1.75h-1.75zM299.9 182.4h1.75v1.75h-1.75zM285.1 177.8h1.75v1.75h-1.75zM307.4 167.3h1.75v1.75h-1.75zM296.7 171.9h1.75v1.75h-1.75zM283.8 185.9h1.75v1.75h-1.75zM285.8 178.8h1.75v1.75h-1.75zM279.7 180.2h1.75v1.75h-1.75zM292.8 171.8h1.75v1.75h-1.75zM299.8 170.5h1.75v1.75h-1.75zM292.0 169.1h1.75v1.75h-1.75zM295.6 176.4h1.75v1.75h-1.75zM280.5 178.1h1.75v1.75h-1.75zM321.0 167.9h1.75v1.75h-1.75zM300.4 175.4h1.75v1.75h-1.75zM305.6 179.1h1.75v1.75h-1.75zM278.2 180.5h1.75v1.75h-1.75zM287.3 180.5h1.75v1.75h-1.75zM283.2 187.0h1.75v1.75h-1.75zM312.9 163.9h1.75v1.75h-1.75zM287.7 181.9h1.75v1.75h-1.75zM344.2 155.8h1.75v1.75h-1.75zM298.5 173.3h1.75v1.75h-1.75zM285.4 180.2h1.75v1.75h-1.75zM320.6 165.5h1.75v1.75h-1.75zM315.1 164.9h1.75v1.75h-1.75zM290.7 181.0h1.75v1.75h-1.75zM285.5 185.2h1.75v1.75h-1.75zM292.2 172.5h1.75v1.75h-1.75zM264.9 182.7h1.75v1.75h-1.75zM279.3 184.8h1.75v1.75h-1.75zM265.2 181.9h1.75v1.75h-1.75zM285.4 184.6h1.75v1.75h-1.75zM276.2 182.1h1.75v1.75h-1.75zM294.8 174.5h1.75v1.75h-1.75zM296.4 175.4h1.75v1.75h-1.75zM305.9 170.1h1.75v1.75h-1.75zM296.0 177.7h1.75v1.75h-1.75zM289.8 184.8h1.75v1.75h-1.75zM309.1 173.5h1.75v1.75h-1.75zM275.8 178.2h1.75v1.75h-1.75zM243.0 193.9h1.75v1.75h-1.75zM260.5 188.4h1.75v1.75h-1.75zM287.2 180.0h1.75v1.75h-1.75zM299.7 169.4h1.75v1.75h-1.75zM305.5 174.4h1.75v1.75h-1.75zM279.8 180.0h1.75v1.75h-1.75zM306.4 170.6h1.75v1.75h-1.75zM300.7 181.2h1.75v1.75h-1.75zM300.8 170.3h1.75v1.75h-1.75zM279.8 179.3h1.75v1.75h-1.75zM289.7 175.1h1.75v1.75h-1.75zM265.4 192.2h1.75v1.75h-1.75zM293.8 171.1h1.75v1.75h-1.75zM287.8 180.1h1.75v1.75h-1.75zM301.6 173.7h1.75v1.75h-1.75zM307.0 169.9h1.75v1.75h-1.75zM281.1 176.9h1.75v1.75h-1.75zM312.8 173.9h1.75v1.75h-1.75zM306.5 170.4h1.75v1.75h-1.75zM285.7 179.1h1.75v1.75h-1.75zM335.2 162.1h1.75v1.75h-1.75zM282.9 180.3h1.75v1.75h-1.75zM274.6 187.3h1.75v1.75h-1.75zM292.7 177.3h1.75v1.75h-1.75zM299.7 178.6h1.75v1.75h-1.75zM270.8 191.5h1.75v1.75h-1.75zM286.4 172.9h1.75v1.75h-1.75zM308.7 177.1h1.75v1.75h-1.75zM283.7 181.4h1.75v1.75h-1.75zM291.0 180.1h1.75v1.75h-1.75zM279.9 180.4h1.75v1.75h-1.75zM318.2 169.5h1.75v1.75h-1.75zM331.7 159.7h1.75v1.75h-1.75zM263.0 191.3h1.75v1.75h-1.75zM270.1 189.7h1.75v1.75h-1.75zM300.3 163.8h1.75v1.75h-1.75zM298.7 174.3h1.75v1.75h-1.75zM293.1 173.0h1.75v1.75h-1.75zM294.8 181.5h1.75v1.75h-1.75zM289.6 181.0h1.75v1.75h-1.75zM305.2 174.5h1.75v1.75h-1.75zM313.2 162.1h1.75v1.75h-1.75zM310.0 174.2h1.75v1.75h-1.75zM304.9 170.4h1.75v1.75h-1.75zM286.4 180.4h1.75v1.75h-1.75zM288.1 181.3h1.75v1.75h-1.75zM290.1 174.5h1.75v1.75h-1.75zM295.0 174.6h1.75v1.75h-1.75zM284.8 184.0h1.75v1.75h-1.75zM282.9 177.3h1.75v1.75h-1.75zM290.4 183.1h1.75v1.75h-1.75zM287.7 176.3h1.75v1.75h-1.75zM291.8 177.4h1.75v1.75h-1.75zM314.0 159.5h1.75v1.75h-1.75zM310.4 168.2h1.75v1.75h-1.75zM281.8 164.0h1.75v1.75h-1.75zM294.7 173.4h1.75v1.75h-1.75zM289.6 179.4h1.75v1.75h-1.75zM282.4 177.2h1.75v1.75h-1.75zM300.1 180.4h1.75v1.75h-1.75zM268.0 190.6h1.75v1.75h-1.75zM297.0 176.0h1.75v1.75h-1.75zM288.8 171.5h1.75v1.75h-1.75zM263.0 180.0h1.75v1.75h-1.75zM302.5 183.8h1.75v1.75h-1.75zM304.7 181.3h1.75v1.75h-1.75zM295.5 174.5h1.75v1.75h-1.75zM297.7 181.7h1.75v1.75h-1.75zM270.4 193.5h1.75v1.75h-1.75zM297.7 177.8h1.75v1.75h-1.75zM311.1 174.6h1.75v1.75h-1.75zM277.7 185.8h1.75v1.75h-1.75zM341.8 161.4h1.75v1.75h-1.75zM269.3 180.9h1.75v1.75h-1.75zM311.5 175.5h1.75v1.75h-1.75zM284.3 179.6h1.75v1.75h-1.75zM294.8 174.2h1.75v1.75h-1.75zM290.3 174.0h1.75v1.75h-1.75zM292.2 177.4h1.75v1.75h-1.75zM304.9 175.8h1.75v1.75h-1.75zM288.4 178.7h1.75v1.75h-1.75zM294.7 182.5h1.75v1.75h-1.75zM307.1 172.1h1.75v1.75h-1.75zM287.8 169.0h1.75v1.75h-1.75zM241.3 190.6h1.75v1.75h-1.75zM285.1 192.5h1.75v1.75h-1.75zM277.6 178.1h1.75v1.75h-1.75zM280.6 178.7h1.75v1.75h-1.75zM300.2 175.7h1.75v1.75h-1.75zM293.3 173.7h1.75v1.75h-1.75zM282.0 177.8h1.75v1.75h-1.75zM284.8 180.3h1.75v1.75h-1.75zM273.6 184.7h1.75v1.75h-1.75zM285.2 184.5h1.75v1.75h-1.75zM316.4 164.1h1.75v1.75h-1.75zM270.1 194.4h1.75v1.75h-1.75zM316.6 166.8h1.75v1.75h-1.75zM291.4 178.9h1.75v1.75h-1.75zM285.9 179.0h1.75v1.75h-1.75zM284.8 181.5h1.75v1.75h-1.75zM276.1 183.0h1.75v1.75h-1.75zM300.1 178.0h1.75v1.75h-1.75zM287.8 182.6h1.75v1.75h-1.75zM283.4 173.0h1.75v1.75h-1.75zM291.1 178.9h1.75v1.75h-1.75zM311.8 164.2h1.75v1.75h-1.75zM285.9 175.9h1.75v1.75h-1.75zM289.8 177.0h1.75v1.75h-1.75zM309.3 169.6h1.75v1.75h-1.75zM278.7 182.0h1.75v1.75h-1.75zM302.9 169.1h1.75v1.75h-1.75zM323.4 166.4h1.75v1.75h-1.75zM291.7 178.8h1.75v1.75h-1.75zM270.6 181.7h1.75v1.75h-1.75zM304.3 172.8h1.75v1.75h-1.75zM287.9 176.2h1.75v1.75h-1.75zM309.1 173.7h1.75v1.75h-1.75zM298.8 174.9h1.75v1.75h-1.75zM297.4 167.9h1.75v1.75h-1.75zM280.8 177.0h1.75v1.75h-1.75zM307.4 176.3h1.75v1.75h-1.75zM298.2 175.4h1.75v1.75h-1.75zM298.1 179.5h1.75v1.75h-1.75zM298.4 171.5h1.75v1.75h-1.75zM298.4 178.9h1.75v1.75h-1.75zM295.4 183.6h1.75v1.75h-1.75zM291.7 182.2h1.75v1.75h-1.75zM271.6 189.4h1.75v1.75h-1.75zM285.3 169.3h1.75v1.75h-1.75zM288.2 181.0h1.75v1.75h-1.75zM307.0 168.6h1.75v1.75h-1.75zM306.6 175.2h1.75v1.75h-1.75zM280.3 179.6h1.75v1.75h-1.75zM286.4 173.8h1.75v1.75h-1.75zM285.1 175.6h1.75v1.75h-1.75zM297.0 169.6h1.75v1.75h-1.75zM296.7 171.4h1.75v1.75h-1.75zM300.8 174.9h1.75v1.75h-1.75zM277.3 178.7h1.75v1.75h-1.75zM288.8 177.6h1.75v1.75h-1.75zM320.0 169.3h1.75v1.75h-1.75zM278.6 172.7h1.75v1.75h-1.75zM312.2 174.1h1.75v1.75h-1.75zM303.4 178.5h1.75v1.75h-1.75zM315.3 173.1h1.75v1.75h-1.75zM295.2 171.3h1.75v1.75h-1.75zM293.8 178.2h1.75v1.75h-1.75zM311.7 168.3h1.75v1.75h-1.75zM291.8 180.2h1.75v1.75h-1.75zM293.2 171.5h1.75v1.75h-1.75zM290.3 176.2h1.75v1.75h-1.75zM299.1 174.2h1.75v1.75h-1.75zM292.7 170.7h1.75v1.75h-1.75zM289.9 181.3h1.75v1.75h-1.75zM301.6 167.4h1.75v1.75h-1.75zM296.4 171.8h1.75v1.75h-1.75zM277.2 187.4h1.75v1.75h-1.75zM293.1 177.3h1.75v1.75h-1.75zM311.7 167.9h1.75v1.75h-1.75zM299.1 179.0h1.75v1.75h-1.75zM313.5 173.0h1.75v1.75h-1.75zM272.2 177.9h1.75v1.75h-1.75zM298.7 162.9h1.75v1.75h-1.75zM248.8 179.8h1.75v1.75h-1.75zM301.6 171.0h1.75v1.75h-1.75zM285.3 178.8h1.75v1.75h-1.75zM291.5 181.3h1.75v1.75h-1.75zM303.8 166.8h1.75v1.75h-1.75zM282.8 182.3h1.75v1.75h-1.75zM284.6 179.3h1.75v1.75h-1.75zM288.6 177.5h1.75v1.75h-1.75zM303.0 169.4h1.75v1.75h-1.75zM310.9 167.8h1.75v1.75h-1.75zM283.6 189.1h1.75v1.75h-1.75zM271.9 188.5h1.75v1.75h-1.75zM294.3 168.6h1.75v1.75h-1.75zM277.9 176.3h1.75v1.75h-1.75zM275.6 179.3h1.75v1.75h-1.75zM304.6 164.6h1.75v1.75h-1.75zM286.5 183.4h1.75v1.75h-1.75zM313.1 169.6h1.75v1.75h-1.75zM281.4 180.2h1.75v1.75h-1.75zM312.3 165.7h1.75v1.75h-1.75zM308.9 170.4h1.75v1.75h-1.75zM289.1 180.0h1.75v1.75h-1.75zM295.9 171.3h1.75v1.75h-1.75zM258.9 188.2h1.75v1.75h-1.75zM296.5 172.6h1.75v1.75h-1.75zM294.3 188.5h1.75v1.75h-1.75zM274.2 182.1h1.75v1.75h-1.75zM310.7 167.8h1.75v1.75h-1.75zM262.7 180.9h1.75v1.75h-1.75zM309.1 169.9h1.75v1.75h-1.75zM294.0 182.9h1.75v1.75h-1.75zM295.8 180.9h1.75v1.75h-1.75zM258.2 180.1h1.75v1.75h-1.75zM301.4 169.2h1.75v1.75h-1.75zM286.5 179.6h1.75v1.75h-1.75zM295.3 179.3h1.75v1.75h-1.75zM304.9 167.6h1.75v1.75h-1.75zM282.2 182.5h1.75v1.75h-1.75zM256.9 189.5h1.75v1.75h-1.75zM300.7 185.1h1.75v1.75h-1.75zM298.2 194.7h1.75v1.75h-1.75zM290.2 176.6h1.75v1.75h-1.75zM285.1 171.5h1.75v1.75h-1.75zM281.6 181.9h1.75v1.75h-1.75zM296.2 185.0h1.75v1.75h-1.75zM301.1 168.0h1.75v1.75h-1.75zM287.9 182.6h1.75v1.75h-1.75zM310.4 179.4h1.75v1.75h-1.75zM291.0 179.5h1.75v1.75h-1.75zM302.4 171.9h1.75v1.75h-1.75zM292.0 180.5h1.75v1.75h-1.75zM294.2 176.2h1.75v1.75h-1.75zM317.7 167.9h1.75v1.75h-1.75zM303.2 172.8h1.75v1.75h-1.75zM309.3 170.1h1.75v1.75h-1.75zM297.0 171.0h1.75v1.75h-1.75zM304.7 166.8h1.75v1.75h-1.75zM301.6 174.9h1.75v1.75h-1.75zM301.4 169.9h1.75v1.75h-1.75zM305.6 174.6h1.75v1.75h-1.75zM296.6 175.0h1.75v1.75h-1.75zM297.4 175.4h1.75v1.75h-1.75zM302.0 169.1h1.75v1.75h-1.75zM283.3 176.2h1.75v1.75h-1.75zM306.2 174.9h1.75v1.75h-1.75zM308.1 175.4h1.75v1.75h-1.75zM269.2 189.8h1.75v1.75h-1.75zM304.9 176.5h1.75v1.75h-1.75zM286.3 181.7h1.75v1.75h-1.75zM284.8 179.7h1.75v1.75h-1.75zM303.6 176.4h1.75v1.75h-1.75zM283.5 172.1h1.75v1.75h-1.75zM301.4 164.1h1.75v1.75h-1.75zM286.6 169.9h1.75v1.75h-1.75zM279.3 179.2h1.75v1.75h-1.75zM317.8 164.8h1.75v1.75h-1.75zM285.0 180.2h1.75v1.75h-1.75zM279.4 176.2h1.75v1.75h-1.75zM290.1 175.1h1.75v1.75h-1.75zM317.9 168.0h1.75v1.75h-1.75zM274.0 181.4h1.75v1.75h-1.75zM309.2 162.7h1.75v1.75h-1.75zM285.4 172.1h1.75v1.75h-1.75zM300.5 173.3h1.75v1.75h-1.75zM293.9 184.3h1.75v1.75h-1.75zM308.0 183.3h1.75v1.75h-1.75zM284.9 179.5h1.75v1.75h-1.75zM339.0 160.5h1.75v1.75h-1.75zM289.8 177.7h1.75v1.75h-1.75zM276.7 180.5h1.75v1.75h-1.75zM297.3 172.6h1.75v1.75h-1.75zM305.2 175.4h1.75v1.75h-1.75zM303.6 175.2h1.75v1.75h-1.75zM307.2 164.5h1.75v1.75h-1.75zM292.2 167.1h1.75v1.75h-1.75zM313.6 168.3h1.75v1.75h-1.75zM306.0 170.9h1.75v1.75h-1.75zM274.7 175.7h1.75v1.75h-1.75zM289.9 175.7h1.75v1.75h-1.75zM285.7 178.4h1.75v1.75h-1.75zM291.5 176.6h1.75v1.75h-1.75zM298.0 168.0h1.75v1.75h-1.75zM289.3 180.3h1.75v1.75h-1.75zM293.0 173.7h1.75v1.75h-1.75zM304.8 176.8h1.75v1.75h-1.75zM306.1 169.0h1.75v1.75h-1.75zM313.8 167.3h1.75v1.75h-1.75zM254.9 189.8h1.75v1.75h-1.75zM281.7 176.8h1.75v1.75h-1.75zM286.2 185.7h1.75v1.75h-1.75zM288.3 181.0h1.75v1.75h-1.75zM283.7 181.1h1.75v1.75h-1.75zM283.3 179.0h1.75v1.75h-1.75zM304.6 172.1h1.75v1.75h-1.75zM311.8 172.4h1.75v1.75h-1.75zM281.3 179.9h1.75v1.75h-1.75zM313.7 165.5h1.75v1.75h-1.75zM246.0 173.0h1.75v1.75h-1.75zM302.2 172.0h1.75v1.75h-1.75zM316.9 166.1h1.75v1.75h-1.75zM307.4 169.6h1.75v1.75h-1.75zM284.7 180.2h1.75v1.75h-1.75zM284.1 180.9h1.75v1.75h-1.75zM291.3 173.3h1.75v1.75h-1.75zM311.7 170.4h1.75v1.75h-1.75zM304.7 175.1h1.75v1.75h-1.75zM297.9 174.3h1.75v1.75h-1.75zM301.8 166.0h1.75v1.75h-1.75zM281.3 185.0h1.75v1.75h-1.75zM246.1 194.9h1.75v1.75h-1.75zM282.5 176.9h1.75v1.75h-1.75zM288.6 174.9h1.75v1.75h-1.75zM298.8 166.8h1.75v1.75h-1.75zM295.7 166.5h1.75v1.75h-1.75zM336.4 163.2h1.75v1.75h-1.75zM289.3 173.9h1.75v1.75h-1.75zM287.7 169.5h1.75v1.75h-1.75zM313.2 163.7h1.75v1.75h-1.75zM295.7 178.4h1.75v1.75h-1.75zM341.7 162.5h1.75v1.75h-1.75zM319.9 165.9h1.75v1.75h-1.75zM306.3 167.5h1.75v1.75h-1.75zM305.2 175.8h1.75v1.75h-1.75zM275.3 178.4h1.75v1.75h-1.75zM327.6 167.8h1.75v1.75h-1.75zM298.2 171.2h1.75v1.75h-1.75zM303.8 168.9h1.75v1.75h-1.75zM308.4 168.3h1.75v1.75h-1.75zM297.5 169.8h1.75v1.75h-1.75zM283.3 179.2h1.75v1.75h-1.75zM289.1 176.3h1.75v1.75h-1.75zM282.8 173.8h1.75v1.75h-1.75zM307.9 172.9h1.75v1.75h-1.75zM295.4 177.6h1.75v1.75h-1.75zM296.6 180.5h1.75v1.75h-1.75zM289.5 169.8h1.75v1.75h-1.75zM294.0 178.7h1.75v1.75h-1.75zM280.6 176.2h1.75v1.75h-1.75zM299.8 172.2h1.75v1.75h-1.75zM281.5 178.0h1.75v1.75h-1.75zM299.1 175.4h1.75v1.75h-1.75zM292.2 176.7h1.75v1.75h-1.75zM307.3 162.8h1.75v1.75h-1.75zM309.5 169.6h1.75v1.75h-1.75zM301.5 177.2h1.75v1.75h-1.75zM300.5 174.1h1.75v1.75h-1.75zM306.6 177.0h1.75v1.75h-1.75zM288.5 175.4h1.75v1.75h-1.75zM295.0 171.6h1.75v1.75h-1.75zM301.0 172.3h1.75v1.75h-1.75zM264.2 174.3h1.75v1.75h-1.75zM281.6 167.9h1.75v1.75h-1.75zM345.6 158.5h1.75v1.75h-1.75zM298.6 169.6h1.75v1.75h-1.75zM298.2 175.4h1.75v1.75h-1.75zM303.3 171.8h1.75v1.75h-1.75zM293.6 176.9h1.75v1.75h-1.75zM290.3 176.7h1.75v1.75h-1.75zM292.0 181.6h1.75v1.75h-1.75zM309.3 171.1h1.75v1.75h-1.75zM316.9 173.1h1.75v1.75h-1.75zM288.7 171.1h1.75v1.75h-1.75zM294.3 177.8h1.75v1.75h-1.75zM301.7 173.3h1.75v1.75h-1.75zM281.2 186.9h1.75v1.75h-1.75zM296.9 177.7h1.75v1.75h-1.75zM309.6 168.0h1.75v1.75h-1.75zM310.7 178.7h1.75v1.75h-1.75zM327.4 162.6h1.75v1.75h-1.75zM292.0 178.5h1.75v1.75h-1.75zM296.4 165.8h1.75v1.75h-1.75zM307.7 167.9h1.75v1.75h-1.75zM300.4 169.5h1.75v1.75h-1.75zM311.2 168.2h1.75v1.75h-1.75zM296.7 170.2h1.75v1.75h-1.75zM274.2 187.4h1.75v1.75h-1.75zM279.5 167.2h1.75v1.75h-1.75zM274.5 179.0h1.75v1.75h-1.75zM298.3 180.7h1.75v1.75h-1.75zM312.6 167.3h1.75v1.75h-1.75zM303.5 171.9h1.75v1.75h-1.75zM290.0 170.5h1.75v1.75h-1.75zM270.2 184.9h1.75v1.75h-1.75zM295.8 174.5h1.75v1.75h-1.75zM287.1 175.9h1.75v1.75h-1.75zM282.4 180.2h1.75v1.75h-1.75zM295.9 167.4h1.75v1.75h-1.75zM326.2 161.9h1.75v1.75h-1.75zM287.1 182.0h1.75v1.75h-1.75zM286.0 177.2h1.75v1.75h-1.75zM263.2 187.1h1.75v1.75h-1.75zM307.4 163.4h1.75v1.75h-1.75zM283.0 183.8h1.75v1.75h-1.75zM270.8 191.2h1.75v1.75h-1.75zM288.8 168.1h1.75v1.75h-1.75zM298.7 173.6h1.75v1.75h-1.75zM278.8 175.6h1.75v1.75h-1.75zM294.0 175.1h1.75v1.75h-1.75zM273.2 184.5h1.75v1.75h-1.75zM310.7 166.9h1.75v1.75h-1.75zM279.2 180.0h1.75v1.75h-1.75zM293.9 179.1h1.75v1.75h-1.75zM282.2 187.4h1.75v1.75h-1.75zM287.4 176.1h1.75v1.75h-1.75zM302.7 160.7h1.75v1.75h-1.75zM281.5 169.8h1.75v1.75h-1.75zM293.3 181.3h1.75v1.75h-1.75zM310.1 163.5h1.75v1.75h-1.75zM328.1 168.9h1.75v1.75h-1.75zM315.1 170.6h1.75v1.75h-1.75zM296.5 172.7h1.75v1.75h-1.75zM297.8 173.5h1.75v1.75h-1.75zM278.5 184.0h1.75v1.75h-1.75zM280.6 181.1h1.75v1.75h-1.75zM280.4 179.3h1.75v1.75h-1.75zM300.2 172.3h1.75v1.75h-1.75zM292.8 169.2h1.75v1.75h-1.75zM290.1 172.4h1.75v1.75h-1.75zM325.5 163.3h1.75v1.75h-1.75zM295.2 179.1h1.75v1.75h-1.75zM305.6 167.7h1.75v1.75h-1.75zM300.7 172.7h1.75v1.75h-1.75zM295.3 177.9h1.75v1.75h-1.75zM301.2 182.7h1.75v1.75h-1.75zM275.0 181.0h1.75v1.75h-1.75zM296.1 171.5h1.75v1.75h-1.75zM308.1 165.6h1.75v1.75h-1.75zM316.5 171.3h1.75v1.75h-1.75zM292.0 176.1h1.75v1.75h-1.75zM313.2 175.8h1.75v1.75h-1.75zM305.6 170.3h1.75v1.75h-1.75zM287.0 174.9h1.75v1.75h-1.75zM258.3 193.5h1.75v1.75h-1.75zM298.8 171.3h1.75v1.75h-1.75zM280.7 171.4h1.75v1.75h-1.75zM310.1 165.1h1.75v1.75h-1.75zM300.0 176.9h1.75v1.75h-1.75zM275.7 181.4h1.75v1.75h-1.75zM285.1 169.4h1.75v1.75h-1.75zM299.9 173.8h1.75v1.75h-1.75zM326.2 165.7h1.75v1.75h-1.75zM261.6 187.6h1.75v1.75h-1.75zM301.4 168.7h1.75v1.75h-1.75zM277.8 181.7h1.75v1.75h-1.75zM291.6 183.9h1.75v1.75h-1.75zM283.3 176.0h1.75v1.75h-1.75zM306.9 158.3h1.75v1.75h-1.75zM299.1 171.2h1.75v1.75h-1.75zM317.8 160.7h1.75v1.75h-1.75zM311.6 167.4h1.75v1.75h-1.75zM285.3 179.0h1.75v1.75h-1.75zM265.8 189.3h1.75v1.75h-1.75zM291.5 173.7h1.75v1.75h-1.75zM287.5 177.3h1.75v1.75h-1.75zM296.1 170.3h1.75v1.75h-1.75zM285.1 177.4h1.75v1.75h-1.75zM286.2 174.9h1.75v1.75h-1.75zM304.6 179.9h1.75v1.75h-1.75zM297.8 172.2h1.75v1.75h-1.75zM285.6 175.3h1.75v1.75h-1.75zM305.1 167.7h1.75v1.75h-1.75zM283.0 173.1h1.75v1.75h-1.75zM294.9 175.0h1.75v1.75h-1.75zM307.1 167.6h1.75v1.75h-1.75zM288.2 185.5h1.75v1.75h-1.75zM276.9 177.8h1.75v1.75h-1.75zM296.5 171.0h1.75v1.75h-1.75zM289.4 180.5h1.75v1.75h-1.75zM317.7 176.1h1.75v1.75h-1.75zM292.9 179.8h1.75v1.75h-1.75zM286.0 178.3h1.75v1.75h-1.75zM278.7 173.8h1.75v1.75h-1.75zM264.7 190.7h1.75v1.75h-1.75zM283.2 177.3h1.75v1.75h-1.75zM294.8 172.4h1.75v1.75h-1.75zM282.0 177.3h1.75v1.75h-1.75zM300.7 175.9h1.75v1.75h-1.75zM306.0 168.4h1.75v1.75h-1.75zM303.2 178.0h1.75v1.75h-1.75zM285.5 186.8h1.75v1.75h-1.75zM283.8 179.4h1.75v1.75h-1.75zM314.3 174.5h1.75v1.75h-1.75zM285.6 188.2h1.75v1.75h-1.75zM286.0 172.7h1.75v1.75h-1.75zM286.9 174.7h1.75v1.75h-1.75zM311.7 166.7h1.75v1.75h-1.75zM269.5 188.1h1.75v1.75h-1.75zM320.9 170.9h1.75v1.75h-1.75zM305.9 178.1h1.75v1.75h-1.75zM315.0 168.2h1.75v1.75h-1.75zM300.3 174.4h1.75v1.75h-1.75zM323.7 165.2h1.75v1.75h-1.75zM304.3 165.6h1.75v1.75h-1.75zM282.8 181.7h1.75v1.75h-1.75zM260.9 188.1h1.75v1.75h-1.75zM294.7 181.6h1.75v1.75h-1.75zM300.3 166.6h1.75v1.75h-1.75zM298.2 168.7h1.75v1.75h-1.75zM307.4 180.7h1.75v1.75h-1.75zM309.2 179.7h1.75v1.75h-1.75zM262.0 179.5h1.75v1.75h-1.75zM293.9 167.1h1.75v1.75h-1.75zM294.0 172.4h1.75v1.75h-1.75zM301.9 166.5h1.75v1.75h-1.75zM283.6 184.7h1.75v1.75h-1.75zM309.4 169.6h1.75v1.75h-1.75zM294.9 171.4h1.75v1.75h-1.75zM311.5 170.0h1.75v1.75h-1.75zM285.8 182.5h1.75v1.75h-1.75zM292.4 176.6h1.75v1.75h-1.75zM276.8 185.2h1.75v1.75h-1.75zM272.1 167.6h1.75v1.75h-1.75zM290.0 178.5h1.75v1.75h-1.75zM286.8 181.0h1.75v1.75h-1.75zM301.8 186.9h1.75v1.75h-1.75zM299.8 167.0h1.75v1.75h-1.75zM294.0 176.2h1.75v1.75h-1.75zM294.2 172.9h1.75v1.75h-1.75zM279.4 181.1h1.75v1.75h-1.75zM288.3 176.2h1.75v1.75h-1.75zM291.0 176.4h1.75v1.75h-1.75zM284.3 181.5h1.75v1.75h-1.75zM303.9 169.9h1.75v1.75h-1.75zM301.2 176.5h1.75v1.75h-1.75zM274.7 179.5h1.75v1.75h-1.75zM287.8 176.0h1.75v1.75h-1.75zM292.8 172.4h1.75v1.75h-1.75zM294.8 179.1h1.75v1.75h-1.75zM313.1 158.4h1.75v1.75h-1.75zM290.9 175.7h1.75v1.75h-1.75zM285.5 183.6h1.75v1.75h-1.75zM298.1 181.3h1.75v1.75h-1.75zM301.7 172.5h1.75v1.75h-1.75zM309.2 170.6h1.75v1.75h-1.75zM280.5 177.6h1.75v1.75h-1.75zM286.7 190.1h1.75v1.75h-1.75zM296.0 175.2h1.75v1.75h-1.75zM295.4 173.3h1.75v1.75h-1.75zM272.9 178.9h1.75v1.75h-1.75zM298.3 181.8h1.75v1.75h-1.75zM312.0 172.1h1.75v1.75h-1.75zM307.1 177.0h1.75v1.75h-1.75zM289.1 178.2h1.75v1.75h-1.75zM279.5 182.2h1.75v1.75h-1.75zM280.1 180.3h1.75v1.75h-1.75zM291.6 183.6h1.75v1.75h-1.75zM274.6 179.1h1.75v1.75h-1.75zM283.1 186.5h1.75v1.75h-1.75zM271.5 184.0h1.75v1.75h-1.75zM298.7 164.9h1.75v1.75h-1.75zM303.9 176.9h1.75v1.75h-1.75zM291.9 168.8h1.75v1.75h-1.75zM300.7 167.7h1.75v1.75h-1.75zM294.4 177.9h1.75v1.75h-1.75zM314.2 166.6h1.75v1.75h-1.75zM291.6 174.1h1.75v1.75h-1.75zM291.6 184.3h1.75v1.75h-1.75zM277.1 191.1h1.75v1.75h-1.75zM292.1 177.8h1.75v1.75h-1.75zM287.5 184.0h1.75v1.75h-1.75zM286.4 176.2h1.75v1.75h-1.75zM327.4 177.5h1.75v1.75h-1.75zM302.8 163.7h1.75v1.75h-1.75zM306.1 161.1h1.75v1.75h-1.75zM296.9 178.2h1.75v1.75h-1.75zM280.8 189.6h1.75v1.75h-1.75zM293.3 174.7h1.75v1.75h-1.75zM306.3 173.9h1.75v1.75h-1.75zM281.8 180.8h1.75v1.75h-1.75zM290.6 184.2h1.75v1.75h-1.75zM292.7 182.9h1.75v1.75h-1.75zM306.3 169.3h1.75v1.75h-1.75zM293.4 182.1h1.75v1.75h-1.75zM302.6 181.9h1.75v1.75h-1.75zM301.5 171.1h1.75v1.75h-1.75zM289.6 175.0h1.75v1.75h-1.75zM295.8 176.8h1.75v1.75h-1.75zM276.7 186.8h1.75v1.75h-1.75zM286.9 171.3h1.75v1.75h-1.75zM300.5 175.4h1.75v1.75h-1.75zM302.8 167.6h1.75v1.75h-1.75zM298.2 180.5h1.75v1.75h-1.75zM294.1 182.1h1.75v1.75h-1.75zM304.6 171.4h1.75v1.75h-1.75zM302.0 166.4h1.75v1.75h-1.75zM294.8 180.3h1.75v1.75h-1.75zM256.5 193.9h1.75v1.75h-1.75zM333.5 163.9h1.75v1.75h-1.75zM324.1 159.2h1.75v1.75h-1.75zM283.3 179.9h1.75v1.75h-1.75zM314.1 167.2h1.75v1.75h-1.75zM291.0 173.0h1.75v1.75h-1.75zM310.0 167.2h1.75v1.75h-1.75zM283.1 172.5h1.75v1.75h-1.75zM294.1 181.8h1.75v1.75h-1.75zM288.2 176.7h1.75v1.75h-1.75zM304.1 170.8h1.75v1.75h-1.75zM306.2 177.1h1.75v1.75h-1.75zM297.8 173.4h1.75v1.75h-1.75zM241.1 192.4h1.75v1.75h-1.75zM295.4 177.1h1.75v1.75h-1.75zM280.4 183.7h1.75v1.75h-1.75zM283.0 177.5h1.75v1.75h-1.75zM266.3 186.0h1.75v1.75h-1.75zM292.5 175.2h1.75v1.75h-1.75zM276.9 184.1h1.75v1.75h-1.75zM300.3 172.6h1.75v1.75h-1.75zM265.2 181.9h1.75v1.75h-1.75zM299.5 177.7h1.75v1.75h-1.75zM255.8 189.8h1.75v1.75h-1.75zM309.6 170.7h1.75v1.75h-1.75zM293.5 175.4h1.75v1.75h-1.75zM303.6 174.3h1.75v1.75h-1.75zM291.1 177.0h1.75v1.75h-1.75zM342.6 162.3h1.75v1.75h-1.75zM291.2 180.8h1.75v1.75h-1.75zM302.5 175.2h1.75v1.75h-1.75zM292.4 183.6h1.75v1.75h-1.75zM309.9 167.6h1.75v1.75h-1.75zM274.8 181.2h1.75v1.75h-1.75zM272.9 187.3h1.75v1.75h-1.75zM300.5 177.8h1.75v1.75h-1.75zM283.9 183.4h1.75v1.75h-1.75zM280.5 186.1h1.75v1.75h-1.75zM299.6 179.0h1.75v1.75h-1.75zM293.2 174.0h1.75v1.75h-1.75zM260.6 189.1h1.75v1.75h-1.75zM294.7 171.8h1.75v1.75h-1.75zM286.0 176.6h1.75v1.75h-1.75zM279.2 179.4h1.75v1.75h-1.75zM303.1 178.6h1.75v1.75h-1.75zM300.7 165.8h1.75v1.75h-1.75zM325.6 166.1h1.75v1.75h-1.75zM286.1 188.9h1.75v1.75h-1.75zM280.7 181.8h1.75v1.75h-1.75zM327.1 165.9h1.75v1.75h-1.75zM313.0 164.7h1.75v1.75h-1.75zM302.5 177.6h1.75v1.75h-1.75zM281.3 179.9h1.75v1.75h-1.75zM287.0 180.1h1.75v1.75h-1.75zM303.4 167.3h1.75v1.75h-1.75zM221.0 204.0h1.75v1.75h-1.75zM275.6 180.3h1.75v1.75h-1.75zM296.5 170.7h1.75v1.75h-1.75zM267.5 189.0h1.75v1.75h-1.75zM301.9 171.8h1.75v1.75h-1.75zM289.5 177.5h1.75v1.75h-1.75zM269.7 177.5h1.75v1.75h-1.75zM290.7 172.1h1.75v1.75h-1.75zM292.6 179.7h1.75v1.75h-1.75zM291.0 168.8h1.75v1.75h-1.75zM299.9 176.2h1.75v1.75h-1.75zM271.1 184.2h1.75v1.75h-1.75zM284.9 178.6h1.75v1.75h-1.75zM298.6 171.7h1.75v1.75h-1.75zM295.4 178.4h1.75v1.75h-1.75zM295.0 176.6h1.75v1.75h-1.75zM329.7 165.0h1.75v1.75h-1.75zM286.5 177.7h1.75v1.75h-1.75zM276.5 188.4h1.75v1.75h-1.75zM305.9 174.9h1.75v1.75h-1.75zM289.3 183.8h1.75v1.75h-1.75zM304.4 164.6h1.75v1.75h-1.75zM289.7 175.1h1.75v1.75h-1.75zM283.4 182.8h1.75v1.75h-1.75zM288.9 185.5h1.75v1.75h-1.75zM304.1 179.6h1.75v1.75h-1.75zM293.4 181.7h1.75v1.75h-1.75zM313.6 164.7h1.75v1.75h-1.75zM302.9 174.5h1.75v1.75h-1.75zM304.5 174.6h1.75v1.75h-1.75zM262.2 197.0h1.75v1.75h-1.75zM304.8 164.7h1.75v1.75h-1.75zM294.0 182.0h1.75v1.75h-1.75zM297.5 175.7h1.75v1.75h-1.75zM282.0 181.4h1.75v1.75h-1.75zM300.1 174.4h1.75v1.75h-1.75zM304.5 172.9h1.75v1.75h-1.75zM298.6 172.7h1.75v1.75h-1.75zM300.6 161.8h1.75v1.75h-1.75zM298.0 165.2h1.75v1.75h-1.75zM289.4 174.8h1.75v1.75h-1.75zM306.0 179.8h1.75v1.75h-1.75zM291.6 170.0h1.75v1.75h-1.75zM292.4 169.4h1.75v1.75h-1.75zM300.2 176.2h1.75v1.75h-1.75zM307.1 168.7h1.75v1.75h-1.75zM317.2 178.0h1.75v1.75h-1.75zM309.2 175.0h1.75v1.75h-1.75zM295.4 170.3h1.75v1.75h-1.75zM283.8 187.1h1.75v1.75h-1.75zM298.7 171.2h1.75v1.75h-1.75zM281.1 175.4h1.75v1.75h-1.75zM281.1 186.7h1.75v1.75h-1.75zM249.5 192.1h1.75v1.75h-1.75zM310.7 163.1h1.75v1.75h-1.75zM309.4 159.5h1.75v1.75h-1.75zM280.1 180.2h1.75v1.75h-1.75zM295.9 168.2h1.75v1.75h-1.75zM299.3 177.5h1.75v1.75h-1.75zM314.8 171.2h1.75v1.75h-1.75zM313.4 166.7h1.75v1.75h-1.75zM282.8 176.1h1.75v1.75h-1.75zM298.8 173.0h1.75v1.75h-1.75zM273.7 177.5h1.75v1.75h-1.75zM293.0 172.0h1.75v1.75h-1.75zM295.1 168.9h1.75v1.75h-1.75zM288.3 170.2h1.75v1.75h-1.75zM279.4 180.0h1.75v1.75h-1.75zM289.8 175.8h1.75v1.75h-1.75zM322.8 165.2h1.75v1.75h-1.75zM286.1 177.1h1.75v1.75h-1.75zM294.5 169.8h1.75v1.75h-1.75zM307.0 165.7h1.75v1.75h-1.75zM305.5 164.7h1.75v1.75h-1.75zM289.6 172.2h1.75v1.75h-1.75zM313.7 163.8h1.75v1.75h-1.75zM313.4 171.6h1.75v1.75h-1.75zM297.4 175.2h1.75v1.75h-1.75zM298.7 175.3h1.75v1.75h-1.75zM293.3 178.5h1.75v1.75h-1.75zM308.8 188.5h1.75v1.75h-1.75zM298.6 170.2h1.75v1.75h-1.75zM309.9 174.2h1.75v1.75h-1.75zM272.5 186.1h1.75v1.75h-1.75zM307.2 173.8h1.75v1.75h-1.75zM293.2 168.5h1.75v1.75h-1.75zM314.0 166.2h1.75v1.75h-1.75zM310.5 162.7h1.75v1.75h-1.75zM292.0 175.3h1.75v1.75h-1.75zM294.6 171.5h1.75v1.75h-1.75zM288.6 173.5h1.75v1.75h-1.75zM281.4 180.3h1.75v1.75h-1.75zM292.0 175.3h1.75v1.75h-1.75zM305.2 178.9h1.75v1.75h-1.75zM291.5 180.9h1.75v1.75h-1.75zM277.1 180.9h1.75v1.75h-1.75zM294.1 185.7h1.75v1.75h-1.75zM280.2 179.2h1.75v1.75h-1.75zM294.9 174.3h1.75v1.75h-1.75zM303.1 175.2h1.75v1.75h-1.75zM306.6 167.6h1.75v1.75h-1.75zM309.3 167.9h1.75v1.75h-1.75zM283.3 174.2h1.75v1.75h-1.75zM260.1 186.5h1.75v1.75h-1.75zM293.6 172.9h1.75v1.75h-1.75zM290.9 175.2h1.75v1.75h-1.75zM303.8 178.1h1.75v1.75h-1.75zM302.9 172.5h1.75v1.75h-1.75zM290.1 177.6h1.75v1.75h-1.75zM294.7 174.9h1.75v1.75h-1.75zM305.3 171.5h1.75v1.75h-1.75zM285.0 175.2h1.75v1.75h-1.75zM265.1 186.1h1.75v1.75h-1.75zM298.2 177.4h1.75v1.75h-1.75zM295.7 172.6h1.75v1.75h-1.75zM286.9 187.5h1.75v1.75h-1.75zM310.6 176.2h1.75v1.75h-1.75zM292.0 171.1h1.75v1.75h-1.75zM276.2 193.4h1.75v1.75h-1.75zM296.7 173.6h1.75v1.75h-1.75zM316.8 172.5h1.75v1.75h-1.75zM279.2 178.1h1.75v1.75h-1.75zM304.7 170.5h1.75v1.75h-1.75zM276.7 177.4h1.75v1.75h-1.75zM302.9 170.2h1.75v1.75h-1.75zM287.2 172.9h1.75v1.75h-1.75zM288.0 182.0h1.75v1.75h-1.75zM302.7 166.0h1.75v1.75h-1.75zM270.2 180.5h1.75v1.75h-1.75zM290.5 177.8h1.75v1.75h-1.75zM282.7 174.7h1.75v1.75h-1.75zM309.0 168.5h1.75v1.75h-1.75zM294.4 174.6h1.75v1.75h-1.75zM281.8 177.3h1.75v1.75h-1.75zM304.8 172.0h1.75v1.75h-1.75zM302.1 172.8h1.75v1.75h-1.75zM291.9 170.1h1.75v1.75h-1.75zM304.2 169.5h1.75v1.75h-1.75zM298.0 173.7h1.75v1.75h-1.75zM315.8 170.6h1.75v1.75h-1.75zM279.0 175.6h1.75v1.75h-1.75zM301.9 176.3h1.75v1.75h-1.75zM305.8 171.8h1.75v1.75h-1.75zM281.9 185.0h1.75v1.75h-1.75zM313.9 169.3h1.75v1.75h-1.75zM299.7 170.4h1.75v1.75h-1.75zM280.2 180.5h1.75v1.75h-1.75zM287.9 170.0h1.75v1.75h-1.75zM293.3 183.9h1.75v1.75h-1.75zM299.7 164.4h1.75v1.75h-1.75zM276.1 179.4h1.75v1.75h-1.75zM278.8 178.8h1.75v1.75h-1.75zM310.9 173.2h1.75v1.75h-1.75zM275.9 177.7h1.75v1.75h-1.75zM320.2 169.6h1.75v1.75h-1.75zM291.8 176.6h1.75v1.75h-1.75zM274.5 181.5h1.75v1.75h-1.75zM272.4 178.3h1.75v1.75h-1.75zM315.9 165.5h1.75v1.75h-1.75zM296.6 178.4h1.75v1.75h-1.75zM280.0 186.0h1.75v1.75h-1.75zM310.5 163.8h1.75v1.75h-1.75zM300.4 169.8h1.75v1.75h-1.75zM285.2 176.0h1.75v1.75h-1.75zM266.8 180.9h1.75v1.75h-1.75zM273.1 180.5h1.75v1.75h-1.75zM294.1 183.5h1.75v1.75h-1.75zM305.8 170.2h1.75v1.75h-1.75zM314.3 167.6h1.75v1.75h-1.75zM307.1 167.4h1.75v1.75h-1.75zM274.4 180.3h1.75v1.75h-1.75zM286.1 179.8h1.75v1.75h-1.75zM301.0 176.0h1.75v1.75h-1.75zM290.6 176.9h1.75v1.75h-1.75zM295.5 170.1h1.75v1.75h-1.75zM288.2 184.1h1.75v1.75h-1.75zM294.0 171.2h1.75v1.75h-1.75zM307.4 178.7h1.75v1.75h-1.75zM300.9 164.1h1.75v1.75h-1.75zM275.0 182.6h1.75v1.75h-1.75zM288.0 176.6h1.75v1.75h-1.75zM278.7 182.5h1.75v1.75h-1.75zM255.2 180.5h1.75v1.75h-1.75zM307.0 173.6h1.75v1.75h-1.75zM293.7 169.2h1.75v1.75h-1.75zM310.5 168.1h1.75v1.75h-1.75zM301.0 176.2h1.75v1.75h-1.75zM287.4 173.9h1.75v1.75h-1.75zM284.4 181.5h1.75v1.75h-1.75zM304.5 172.7h1.75v1.75h-1.75zM287.5 176.4h1.75v1.75h-1.75zM315.0 162.9h1.75v1.75h-1.75zM318.3 174.1h1.75v1.75h-1.75zM307.4 167.2h1.75v1.75h-1.75zM297.0 171.7h1.75v1.75h-1.75zM282.2 179.6h1.75v1.75h-1.75zM310.7 166.1h1.75v1.75h-1.75zM287.0 177.1h1.75v1.75h-1.75zM294.6 176.4h1.75v1.75h-1.75zM305.2 179.7h1.75v1.75h-1.75zM290.0 187.1h1.75v1.75h-1.75zM288.9 176.6h1.75v1.75h-1.75zM263.5 179.6h1.75v1.75h-1.75zM309.2 174.1h1.75v1.75h-1.75zM317.8 168.0h1.75v1.75h-1.75zM283.5 172.0h1.75v1.75h-1.75zM310.5 165.7h1.75v1.75h-1.75zM320.9 173.2h1.75v1.75h-1.75zM318.9 163.5h1.75v1.75h-1.75zM309.3 171.0h1.75v1.75h-1.75zM286.6 175.6h1.75v1.75h-1.75zM276.2 181.2h1.75v1.75h-1.75zM280.6 186.8h1.75v1.75h-1.75zM302.4 163.5h1.75v1.75h-1.75zM314.6 179.3h1.75v1.75h-1.75zM313.4 173.2h1.75v1.75h-1.75zM295.1 165.7h1.75v1.75h-1.75zM302.0 173.3h1.75v1.75h-1.75zM290.5 175.7h1.75v1.75h-1.75zM272.2 187.8h1.75v1.75h-1.75zM282.4 173.6h1.75v1.75h-1.75zM310.4 173.4h1.75v1.75h-1.75zM306.8 176.7h1.75v1.75h-1.75zM301.2 182.7h1.75v1.75h-1.75zM296.7 170.3h1.75v1.75h-1.75zM327.6 164.6h1.75v1.75h-1.75zM302.7 170.0h1.75v1.75h-1.75zM292.5 175.0h1.75v1.75h-1.75zM277.6 182.8h1.75v1.75h-1.75zM287.9 183.5h1.75v1.75h-1.75zM301.7 172.2h1.75v1.75h-1.75zM289.3 175.1h1.75v1.75h-1.75zM302.8 178.0h1.75v1.75h-1.75zM289.7 180.3h1.75v1.75h-1.75zM332.6 166.3h1.75v1.75h-1.75zM288.2 194.5h1.75v1.75h-1.75zM308.4 169.8h1.75v1.75h-1.75zM286.2 176.4h1.75v1.75h-1.75zM300.1 174.4h1.75v1.75h-1.75zM308.0 170.2h1.75v1.75h-1.75zM299.0 173.6h1.75v1.75h-1.75zM273.3 178.2h1.75v1.75h-1.75zM315.5 165.0h1.75v1.75h-1.75zM305.1 168.1h1.75v1.75h-1.75zM283.5 183.2h1.75v1.75h-1.75zM289.3 175.7h1.75v1.75h-1.75zM303.9 172.7h1.75v1.75h-1.75zM277.1 190.6h1.75v1.75h-1.75zM303.5 170.8h1.75v1.75h-1.75zM278.0 189.0h1.75v1.75h-1.75zM296.4 180.2h1.75v1.75h-1.75zM305.6 167.4h1.75v1.75h-1.75zM289.0 175.0h1.75v1.75h-1.75zM296.5 183.4h1.75v1.75h-1.75zM299.8 172.5h1.75v1.75h-1.75zM314.1 168.5h1.75v1.75h-1.75zM310.8 171.4h1.75v1.75h-1.75zM297.6 179.8h1.75v1.75h-1.75zM298.3 176.0h1.75v1.75h-1.75zM286.2 173.2h1.75v1.75h-1.75zM289.2 170.0h1.75v1.75h-1.75zM288.1 174.5h1.75v1.75h-1.75zM286.6 182.5h1.75v1.75h-1.75zM305.5 169.0h1.75v1.75h-1.75zM290.4 168.3h1.75v1.75h-1.75zM282.3 181.1h1.75v1.75h-1.75zM282.5 185.6h1.75v1.75h-1.75zM292.1 172.0h1.75v1.75h-1.75zM299.6 176.7h1.75v1.75h-1.75zM285.7 178.8h1.75v1.75h-1.75zM279.8 179.6h1.75v1.75h-1.75zM295.9 176.2h1.75v1.75h-1.75zM306.1 171.8h1.75v1.75h-1.75zM279.6 178.3h1.75v1.75h-1.75zM287.4 175.2h1.75v1.75h-1.75zM267.8 183.9h1.75v1.75h-1.75zM325.6 161.5h1.75v1.75h-1.75zM279.1 179.9h1.75v1.75h-1.75zM276.9 184.9h1.75v1.75h-1.75zM296.3 167.4h1.75v1.75h-1.75zM288.4 176.5h1.75v1.75h-1.75zM303.3 170.4h1.75v1.75h-1.75zM281.7 175.7h1.75v1.75h-1.75zM294.5 176.3h1.75v1.75h-1.75zM297.6 185.1h1.75v1.75h-1.75zM305.4 185.1h1.75v1.75h-1.75zM318.1 169.2h1.75v1.75h-1.75zM292.6 171.9h1.75v1.75h-1.75zM281.9 178.6h1.75v1.75h-1.75zM299.1 171.6h1.75v1.75h-1.75zM283.6 181.8h1.75v1.75h-1.75zM305.6 178.2h1.75v1.75h-1.75zM299.4 176.1h1.75v1.75h-1.75zM294.8 183.8h1.75v1.75h-1.75zM255.1 196.7h1.75v1.75h-1.75zM272.7 181.5h1.75v1.75h-1.75zM278.3 187.1h1.75v1.75h-1.75zM206.3 201.1h1.75v1.75h-1.75zM235.6 184.9h1.75v1.75h-1.75z"/>
<text x="226.50" y="215.20" font-size="4.6" font-family='"Liberation Sans", sans-serif' fill="#4d4d4d" text-anchor="middle">1</text>
<text x="263.30" y="215.20" font-size="4.6" font-family='"Liberation Sans", sans-serif' fill="#4d4d4d" text-anchor="middle">2</text>
<text x="300.10" y="215.20" font-size="4.6" font-family='"Liberation Sans", sans-serif' fill="#4d4d4d" text-anchor="middle">3</text>
<text x="336.90" y="215.20" font-size="4.6" font-family='"Liberation Sans", sans-serif' fill="#4d4d4d" text-anchor="middle">4</text>
<text x="200.30" y="204.60" font-size="4.4" font-family='"Liberation Sans", sans-serif' fill="#4d4d4d" text-anchor="middle" transform="rotate(-90 200.30 204.60)">1</text>
<text x="200.30" y="189.13" font-size="4.4" font-family='"Liberation Sans", sans-serif' fill="#4d4d4d" text-anchor="middle" transform="rotate(-90 200.30 189.13)">2</text>
<text x="200.30" y="173.67" font-size="4.4" font-family='"Liberation Sans", sans-serif' fill="#4d4d4d" text-anchor="middle" transform="rotate(-90 200.30 173.67)">3</text>
<text x="200.30" y="158.20" font-size="4.4" font-family='"Liberation Sans", sans-serif' fill="#4d4d4d" text-anchor="middle" transform="rotate(-90 200.30 158.20)">4</text>
<text x="195.10" y="184.05" font-size="4.7" font-family='"Liberation Sans", sans-serif' fill="#111" text-anchor="middle" font-weight="bold" textLength="58.30" lengthAdjust="spacingAndGlyphs" transform="rotate(-90 195.10 184.05)">Log10 expression of UBE2C</text>
<text x="276.50" y="219.80" font-size="4.7" font-family='"Liberation Sans", sans-serif' fill="#111" text-anchor="middle" font-weight="bold" textLength="57.40" lengthAdjust="spacingAndGlyphs">Log10 expression of BIRC5</text>
<text x="343.00" y="194.00" font-size="6.0" font-family='"Liberation Serif", serif' fill="#222" text-anchor="end">Size=1091</text>
<text x="343.00" y="200.90" font-size="6.0" font-family='"Liberation Serif", serif' fill="#222" text-anchor="end">P value=0.00</text>
<text x="343.00" y="207.80" font-size="6.0" font-family='"Liberation Serif", serif' fill="#222" text-anchor="end">R=0.80</text>
<rect x="32.3" y="227.1" width="144.70" height="56.20" fill="none" stroke="#ebebeb" stroke-width="0.7"/>
<polygon points="39.4,252.9 45.2,253.8 51.1,254.6 56.9,255.5 62.7,256.4 68.5,257.2 74.4,258.0 80.2,258.8 86.0,259.5 91.8,260.2 97.7,260.9 103.5,261.5 109.3,262.0 115.1,262.6 121.0,263.2 126.8,263.8 132.6,264.3 138.4,264.9 144.3,265.4 150.1,266.0 155.9,266.5 161.7,267.1 167.6,267.6 173.4,268.2 173.4,273.4 167.6,272.5 161.7,271.6 155.9,270.8 150.1,269.9 144.3,269.0 138.4,268.1 132.6,267.2 126.8,266.4 121.0,265.5 115.1,264.6 109.3,263.8 103.5,262.9 97.7,262.1 91.8,261.3 86.0,260.5 80.2,259.8 74.4,259.2 68.5,258.6 62.7,258.0 56.9,257.4 51.1,256.8 45.2,256.3 39.4,255.7" fill="#dedcd4"/>
<line x1="39.4" y1="254.3" x2="173.4" y2="270.8" stroke="#3f6ae8" stroke-width="1.25"/>
<path fill="#000" d="M38.5 250.1h1.75v1.75h-1.75zM92.9 267.6h1.75v1.75h-1.75zM92.1 270.4h1.75v1.75h-1.75zM83.6 262.8h1.75v1.75h-1.75zM38.5 270.0h1.75v1.75h-1.75zM97.2 277.7h1.75v1.75h-1.75zM71.8 262.2h1.75v1.75h-1.75zM92.9 268.3h1.75v1.75h-1.75zM106.7 269.0h1.75v1.75h-1.75zM91.4 249.4h1.75v1.75h-1.75zM112.3 258.1h1.75v1.75h-1.75zM97.8 253.7h1.75v1.75h-1.75zM69.2 259.4h1.75v1.75h-1.75zM66.0 266.9h1.75v1.75h-1.75zM129.6 271.8h1.75v1.75h-1.75zM137.1 252.5h1.75v1.75h-1.75zM74.1 280.9h1.75v1.75h-1.75zM89.7 263.9h1.75v1.75h-1.75zM94.2 259.1h1.75v1.75h-1.75zM102.8 273.0h1.75v1.75h-1.75zM38.5 240.0h1.75v1.75h-1.75zM104.0 268.0h1.75v1.75h-1.75zM88.9 260.1h1.75v1.75h-1.75zM89.7 248.3h1.75v1.75h-1.75zM76.1 251.6h1.75v1.75h-1.75zM121.5 265.6h1.75v1.75h-1.75zM76.1 259.2h1.75v1.75h-1.75zM132.1 254.1h1.75v1.75h-1.75zM126.6 250.1h1.75v1.75h-1.75zM74.1 253.8h1.75v1.75h-1.75zM111.4 276.5h1.75v1.75h-1.75zM112.3 266.2h1.75v1.75h-1.75zM79.5 250.6h1.75v1.75h-1.75zM38.5 263.5h1.75v1.75h-1.75zM79.5 260.7h1.75v1.75h-1.75zM96.1 267.9h1.75v1.75h-1.75zM145.6 269.8h1.75v1.75h-1.75zM121.2 256.1h1.75v1.75h-1.75zM112.8 257.3h1.75v1.75h-1.75zM95.5 268.5h1.75v1.75h-1.75zM112.1 252.8h1.75v1.75h-1.75zM66.0 270.1h1.75v1.75h-1.75zM66.0 247.6h1.75v1.75h-1.75zM57.3 245.9h1.75v1.75h-1.75zM57.3 269.4h1.75v1.75h-1.75zM83.6 272.7h1.75v1.75h-1.75zM139.1 257.9h1.75v1.75h-1.75zM50.4 246.6h1.75v1.75h-1.75zM94.9 258.3h1.75v1.75h-1.75zM87.9 265.0h1.75v1.75h-1.75zM38.5 247.5h1.75v1.75h-1.75zM82.4 269.7h1.75v1.75h-1.75zM38.5 242.1h1.75v1.75h-1.75zM115.3 245.1h1.75v1.75h-1.75zM108.5 263.2h1.75v1.75h-1.75zM66.0 246.6h1.75v1.75h-1.75zM76.1 264.4h1.75v1.75h-1.75zM71.8 254.4h1.75v1.75h-1.75zM69.2 258.5h1.75v1.75h-1.75zM104.7 257.9h1.75v1.75h-1.75zM57.3 258.5h1.75v1.75h-1.75zM76.1 271.2h1.75v1.75h-1.75zM57.3 243.9h1.75v1.75h-1.75zM114.7 271.3h1.75v1.75h-1.75zM88.9 251.0h1.75v1.75h-1.75zM112.1 271.4h1.75v1.75h-1.75zM62.2 248.1h1.75v1.75h-1.75zM38.5 247.9h1.75v1.75h-1.75zM99.3 264.6h1.75v1.75h-1.75zM93.6 252.6h1.75v1.75h-1.75zM106.7 259.7h1.75v1.75h-1.75zM83.6 246.7h1.75v1.75h-1.75zM101.2 255.8h1.75v1.75h-1.75zM106.1 252.2h1.75v1.75h-1.75zM69.2 275.2h1.75v1.75h-1.75zM38.5 234.2h1.75v1.75h-1.75zM100.3 262.6h1.75v1.75h-1.75zM87.9 261.1h1.75v1.75h-1.75zM71.8 268.4h1.75v1.75h-1.75zM50.4 263.2h1.75v1.75h-1.75zM127.2 266.4h1.75v1.75h-1.75zM87.0 258.7h1.75v1.75h-1.75zM85.9 258.6h1.75v1.75h-1.75zM57.3 259.7h1.75v1.75h-1.75zM62.2 254.6h1.75v1.75h-1.75zM88.9 253.0h1.75v1.75h-1.75zM50.4 260.6h1.75v1.75h-1.75zM113.9 267.6h1.75v1.75h-1.75zM71.8 248.3h1.75v1.75h-1.75zM115.6 259.5h1.75v1.75h-1.75zM85.9 266.4h1.75v1.75h-1.75zM62.2 249.5h1.75v1.75h-1.75zM134.4 261.9h1.75v1.75h-1.75zM81.0 241.9h1.75v1.75h-1.75zM69.2 249.1h1.75v1.75h-1.75zM106.7 255.6h1.75v1.75h-1.75zM92.9 260.6h1.75v1.75h-1.75zM83.6 266.0h1.75v1.75h-1.75zM38.5 254.4h1.75v1.75h-1.75zM38.5 256.7h1.75v1.75h-1.75zM105.7 263.8h1.75v1.75h-1.75zM69.2 246.8h1.75v1.75h-1.75zM94.9 268.1h1.75v1.75h-1.75zM57.3 237.0h1.75v1.75h-1.75zM88.9 267.1h1.75v1.75h-1.75zM38.5 272.6h1.75v1.75h-1.75zM76.1 250.5h1.75v1.75h-1.75zM119.2 265.1h1.75v1.75h-1.75zM87.9 264.8h1.75v1.75h-1.75zM71.8 253.9h1.75v1.75h-1.75zM79.5 262.1h1.75v1.75h-1.75zM82.4 257.9h1.75v1.75h-1.75zM130.4 267.5h1.75v1.75h-1.75zM85.9 258.1h1.75v1.75h-1.75zM93.6 266.5h1.75v1.75h-1.75zM69.2 251.1h1.75v1.75h-1.75zM96.7 263.9h1.75v1.75h-1.75zM93.6 259.6h1.75v1.75h-1.75zM62.2 278.3h1.75v1.75h-1.75zM38.5 247.2h1.75v1.75h-1.75zM76.1 262.9h1.75v1.75h-1.75zM111.9 264.4h1.75v1.75h-1.75zM66.0 260.5h1.75v1.75h-1.75zM71.8 262.9h1.75v1.75h-1.75zM111.6 270.4h1.75v1.75h-1.75zM77.9 251.7h1.75v1.75h-1.75zM38.5 261.0h1.75v1.75h-1.75zM124.1 266.1h1.75v1.75h-1.75zM83.6 262.2h1.75v1.75h-1.75zM69.2 264.5h1.75v1.75h-1.75zM76.1 250.2h1.75v1.75h-1.75zM94.9 266.3h1.75v1.75h-1.75zM69.2 255.0h1.75v1.75h-1.75zM127.5 271.3h1.75v1.75h-1.75zM93.6 272.1h1.75v1.75h-1.75zM97.8 272.9h1.75v1.75h-1.75zM89.7 257.0h1.75v1.75h-1.75zM66.0 276.6h1.75v1.75h-1.75zM87.0 273.4h1.75v1.75h-1.75zM127.3 270.3h1.75v1.75h-1.75zM69.2 253.4h1.75v1.75h-1.75zM77.9 265.0h1.75v1.75h-1.75zM91.4 253.0h1.75v1.75h-1.75zM62.2 259.7h1.75v1.75h-1.75zM104.3 264.5h1.75v1.75h-1.75zM50.4 238.7h1.75v1.75h-1.75zM92.1 257.5h1.75v1.75h-1.75zM57.3 262.1h1.75v1.75h-1.75zM74.1 263.6h1.75v1.75h-1.75zM74.1 252.5h1.75v1.75h-1.75zM149.5 257.9h1.75v1.75h-1.75zM66.0 260.9h1.75v1.75h-1.75zM107.9 264.4h1.75v1.75h-1.75zM92.9 253.1h1.75v1.75h-1.75zM62.2 264.8h1.75v1.75h-1.75zM105.1 259.5h1.75v1.75h-1.75zM81.0 257.8h1.75v1.75h-1.75zM38.5 257.5h1.75v1.75h-1.75zM38.5 267.9h1.75v1.75h-1.75zM85.9 278.2h1.75v1.75h-1.75zM85.9 261.7h1.75v1.75h-1.75zM38.5 272.3h1.75v1.75h-1.75zM83.6 258.2h1.75v1.75h-1.75zM74.1 263.5h1.75v1.75h-1.75zM93.6 264.6h1.75v1.75h-1.75zM62.2 243.6h1.75v1.75h-1.75zM82.4 254.8h1.75v1.75h-1.75zM77.9 266.7h1.75v1.75h-1.75zM95.5 255.2h1.75v1.75h-1.75zM107.9 265.9h1.75v1.75h-1.75zM133.1 276.1h1.75v1.75h-1.75zM38.5 253.6h1.75v1.75h-1.75zM87.0 260.5h1.75v1.75h-1.75zM57.3 247.0h1.75v1.75h-1.75zM50.4 244.6h1.75v1.75h-1.75zM38.5 240.5h1.75v1.75h-1.75zM66.0 264.6h1.75v1.75h-1.75zM81.0 260.2h1.75v1.75h-1.75zM71.8 273.8h1.75v1.75h-1.75zM84.8 257.9h1.75v1.75h-1.75zM83.6 261.7h1.75v1.75h-1.75zM90.6 277.2h1.75v1.75h-1.75zM79.5 254.9h1.75v1.75h-1.75zM87.0 257.1h1.75v1.75h-1.75zM82.4 271.9h1.75v1.75h-1.75zM66.0 279.1h1.75v1.75h-1.75zM38.5 260.4h1.75v1.75h-1.75zM38.5 252.5h1.75v1.75h-1.75zM88.9 261.7h1.75v1.75h-1.75zM50.4 240.2h1.75v1.75h-1.75zM95.5 244.1h1.75v1.75h-1.75zM66.0 257.4h1.75v1.75h-1.75zM57.3 259.8h1.75v1.75h-1.75zM69.2 262.6h1.75v1.75h-1.75zM79.5 244.0h1.75v1.75h-1.75zM119.9 264.4h1.75v1.75h-1.75zM66.0 251.8h1.75v1.75h-1.75zM62.2 248.9h1.75v1.75h-1.75zM85.9 252.6h1.75v1.75h-1.75zM101.2 259.0h1.75v1.75h-1.75zM74.1 243.6h1.75v1.75h-1.75zM62.2 251.9h1.75v1.75h-1.75zM89.7 259.2h1.75v1.75h-1.75zM84.8 268.2h1.75v1.75h-1.75zM88.9 263.2h1.75v1.75h-1.75zM38.5 255.8h1.75v1.75h-1.75zM94.2 253.2h1.75v1.75h-1.75zM79.5 263.7h1.75v1.75h-1.75zM105.1 260.7h1.75v1.75h-1.75zM71.8 260.2h1.75v1.75h-1.75zM88.9 281.0h1.75v1.75h-1.75zM71.8 256.3h1.75v1.75h-1.75zM132.0 252.8h1.75v1.75h-1.75zM38.5 274.9h1.75v1.75h-1.75zM50.4 242.7h1.75v1.75h-1.75zM57.3 270.3h1.75v1.75h-1.75zM38.5 260.9h1.75v1.75h-1.75zM66.0 258.9h1.75v1.75h-1.75zM118.7 257.0h1.75v1.75h-1.75zM96.7 261.5h1.75v1.75h-1.75zM105.1 262.0h1.75v1.75h-1.75zM74.1 251.1h1.75v1.75h-1.75zM62.2 247.5h1.75v1.75h-1.75zM74.1 259.7h1.75v1.75h-1.75zM50.4 250.0h1.75v1.75h-1.75zM38.5 235.5h1.75v1.75h-1.75zM106.1 258.5h1.75v1.75h-1.75zM77.9 266.5h1.75v1.75h-1.75zM113.0 262.6h1.75v1.75h-1.75zM38.5 275.5h1.75v1.75h-1.75zM81.0 242.3h1.75v1.75h-1.75zM38.5 251.7h1.75v1.75h-1.75zM117.9 276.4h1.75v1.75h-1.75zM81.0 262.7h1.75v1.75h-1.75zM50.4 250.7h1.75v1.75h-1.75zM50.4 247.3h1.75v1.75h-1.75zM110.4 264.0h1.75v1.75h-1.75zM50.4 260.8h1.75v1.75h-1.75zM71.8 266.4h1.75v1.75h-1.75zM77.9 252.0h1.75v1.75h-1.75zM50.4 240.8h1.75v1.75h-1.75zM116.4 261.1h1.75v1.75h-1.75zM124.6 263.1h1.75v1.75h-1.75zM66.0 256.1h1.75v1.75h-1.75zM83.6 263.8h1.75v1.75h-1.75zM97.2 264.2h1.75v1.75h-1.75zM94.2 256.6h1.75v1.75h-1.75zM97.2 259.3h1.75v1.75h-1.75zM50.4 250.7h1.75v1.75h-1.75zM79.5 264.9h1.75v1.75h-1.75zM38.5 243.9h1.75v1.75h-1.75zM76.1 267.0h1.75v1.75h-1.75zM92.1 251.1h1.75v1.75h-1.75zM100.3 263.1h1.75v1.75h-1.75zM38.5 250.4h1.75v1.75h-1.75zM85.9 265.3h1.75v1.75h-1.75zM38.5 255.9h1.75v1.75h-1.75zM91.4 266.5h1.75v1.75h-1.75zM89.7 259.3h1.75v1.75h-1.75zM84.8 273.7h1.75v1.75h-1.75zM104.0 253.4h1.75v1.75h-1.75zM87.0 258.6h1.75v1.75h-1.75zM62.2 250.2h1.75v1.75h-1.75zM71.8 259.4h1.75v1.75h-1.75zM88.9 256.4h1.75v1.75h-1.75zM38.5 264.5h1.75v1.75h-1.75zM74.1 266.0h1.75v1.75h-1.75zM88.9 263.6h1.75v1.75h-1.75zM50.4 273.8h1.75v1.75h-1.75zM110.7 256.9h1.75v1.75h-1.75zM107.6 265.4h1.75v1.75h-1.75zM93.6 262.6h1.75v1.75h-1.75zM77.9 265.6h1.75v1.75h-1.75zM71.8 253.7h1.75v1.75h-1.75zM94.9 252.9h1.75v1.75h-1.75zM92.1 263.3h1.75v1.75h-1.75zM104.0 253.8h1.75v1.75h-1.75zM62.2 253.9h1.75v1.75h-1.75zM95.5 259.5h1.75v1.75h-1.75zM107.9 275.7h1.75v1.75h-1.75zM57.3 266.5h1.75v1.75h-1.75zM83.6 250.4h1.75v1.75h-1.75zM81.0 251.1h1.75v1.75h-1.75zM76.1 241.0h1.75v1.75h-1.75zM104.0 266.7h1.75v1.75h-1.75zM76.1 252.1h1.75v1.75h-1.75zM97.8 272.8h1.75v1.75h-1.75zM90.6 266.8h1.75v1.75h-1.75zM98.8 269.6h1.75v1.75h-1.75zM74.1 265.1h1.75v1.75h-1.75zM62.2 253.5h1.75v1.75h-1.75zM96.1 249.6h1.75v1.75h-1.75zM81.0 257.3h1.75v1.75h-1.75zM100.3 270.8h1.75v1.75h-1.75zM69.2 245.1h1.75v1.75h-1.75zM66.0 253.4h1.75v1.75h-1.75zM97.2 272.7h1.75v1.75h-1.75zM83.6 248.3h1.75v1.75h-1.75zM76.1 257.7h1.75v1.75h-1.75zM96.7 254.6h1.75v1.75h-1.75zM76.1 263.0h1.75v1.75h-1.75zM84.8 263.1h1.75v1.75h-1.75zM92.9 256.9h1.75v1.75h-1.75zM50.4 274.3h1.75v1.75h-1.75zM104.0 261.0h1.75v1.75h-1.75zM79.5 251.5h1.75v1.75h-1.75zM74.1 254.0h1.75v1.75h-1.75zM79.5 259.0h1.75v1.75h-1.75zM66.0 260.8h1.75v1.75h-1.75zM38.5 259.2h1.75v1.75h-1.75zM82.4 247.3h1.75v1.75h-1.75zM69.2 254.6h1.75v1.75h-1.75zM120.5 262.1h1.75v1.75h-1.75zM116.9 270.2h1.75v1.75h-1.75zM69.2 253.5h1.75v1.75h-1.75zM88.9 253.7h1.75v1.75h-1.75zM107.6 279.7h1.75v1.75h-1.75zM90.6 246.8h1.75v1.75h-1.75zM77.9 251.8h1.75v1.75h-1.75zM74.1 259.4h1.75v1.75h-1.75zM57.3 275.8h1.75v1.75h-1.75zM102.4 242.2h1.75v1.75h-1.75zM96.1 255.1h1.75v1.75h-1.75zM84.8 263.0h1.75v1.75h-1.75zM81.0 270.0h1.75v1.75h-1.75zM123.4 255.7h1.75v1.75h-1.75zM92.1 274.5h1.75v1.75h-1.75zM114.3 263.0h1.75v1.75h-1.75zM50.4 258.9h1.75v1.75h-1.75zM62.2 269.1h1.75v1.75h-1.75zM62.2 264.2h1.75v1.75h-1.75zM99.3 266.7h1.75v1.75h-1.75zM71.8 249.8h1.75v1.75h-1.75zM113.7 259.7h1.75v1.75h-1.75zM84.8 250.2h1.75v1.75h-1.75zM105.7 269.8h1.75v1.75h-1.75zM74.1 247.0h1.75v1.75h-1.75zM103.6 258.8h1.75v1.75h-1.75zM74.1 247.4h1.75v1.75h-1.75zM81.0 261.2h1.75v1.75h-1.75zM57.3 250.5h1.75v1.75h-1.75zM38.5 267.2h1.75v1.75h-1.75zM50.4 241.0h1.75v1.75h-1.75zM88.9 259.0h1.75v1.75h-1.75zM88.9 264.6h1.75v1.75h-1.75zM38.5 255.9h1.75v1.75h-1.75zM50.4 254.5h1.75v1.75h-1.75zM50.4 278.3h1.75v1.75h-1.75zM95.5 260.2h1.75v1.75h-1.75zM62.2 268.4h1.75v1.75h-1.75zM57.3 258.0h1.75v1.75h-1.75zM92.9 259.5h1.75v1.75h-1.75zM66.0 234.7h1.75v1.75h-1.75zM94.2 257.7h1.75v1.75h-1.75zM99.8 272.2h1.75v1.75h-1.75zM69.2 252.9h1.75v1.75h-1.75zM38.5 271.1h1.75v1.75h-1.75zM74.1 267.3h1.75v1.75h-1.75zM133.9 271.8h1.75v1.75h-1.75zM57.3 246.4h1.75v1.75h-1.75zM113.9 250.2h1.75v1.75h-1.75zM66.0 250.9h1.75v1.75h-1.75zM57.3 271.4h1.75v1.75h-1.75zM116.9 262.6h1.75v1.75h-1.75zM71.8 251.1h1.75v1.75h-1.75zM50.4 260.6h1.75v1.75h-1.75zM62.2 230.8h1.75v1.75h-1.75zM66.0 271.4h1.75v1.75h-1.75zM111.9 271.2h1.75v1.75h-1.75zM104.3 271.5h1.75v1.75h-1.75zM81.0 248.1h1.75v1.75h-1.75zM92.1 253.1h1.75v1.75h-1.75zM69.2 250.6h1.75v1.75h-1.75zM38.5 237.2h1.75v1.75h-1.75zM82.4 264.4h1.75v1.75h-1.75zM76.1 274.0h1.75v1.75h-1.75zM103.6 257.4h1.75v1.75h-1.75zM88.9 273.0h1.75v1.75h-1.75zM109.4 257.3h1.75v1.75h-1.75zM71.8 253.0h1.75v1.75h-1.75zM71.8 256.2h1.75v1.75h-1.75zM69.2 245.1h1.75v1.75h-1.75zM62.2 252.2h1.75v1.75h-1.75zM107.6 271.7h1.75v1.75h-1.75zM85.9 265.5h1.75v1.75h-1.75zM50.4 246.4h1.75v1.75h-1.75zM66.0 263.1h1.75v1.75h-1.75zM127.2 259.2h1.75v1.75h-1.75zM137.9 267.7h1.75v1.75h-1.75zM115.3 260.6h1.75v1.75h-1.75zM84.8 266.5h1.75v1.75h-1.75zM120.1 264.5h1.75v1.75h-1.75zM79.5 271.2h1.75v1.75h-1.75zM50.4 263.4h1.75v1.75h-1.75zM83.6 254.5h1.75v1.75h-1.75zM57.3 262.8h1.75v1.75h-1.75zM76.1 265.8h1.75v1.75h-1.75zM136.4 258.4h1.75v1.75h-1.75zM94.2 254.0h1.75v1.75h-1.75zM87.0 268.5h1.75v1.75h-1.75zM101.2 259.1h1.75v1.75h-1.75zM71.8 253.0h1.75v1.75h-1.75zM38.5 229.0h1.75v1.75h-1.75z"/>
<text x="39.40" y="287.50" font-size="4.6" font-family='"Liberation Sans", sans-serif' fill="#4d4d4d" text-anchor="middle">0</text>
<text x="78.77" y="287.50" font-size="4.6" font-family='"Liberation Sans", sans-serif' fill="#4d4d4d" text-anchor="middle">1</text>
<text x="118.13" y="287.50" font-size="4.6" font-family='"Liberation Sans", sans-serif' fill="#4d4d4d" text-anchor="middle">2</text>
<text x="157.50" y="287.50" font-size="4.6" font-family='"Liberation Sans", sans-serif' fill="#4d4d4d" text-anchor="middle">3</text>
<text x="31.10" y="268.80" font-size="4.6" font-family='"Liberation Sans", sans-serif' fill="#4d4d4d" text-anchor="end">3.5</text>
<text x="31.10" y="248.00" font-size="4.6" font-family='"Liberation Sans", sans-serif' fill="#4d4d4d" text-anchor="end">4.0</text>
<text x="23.70" y="257.95" font-size="4.7" font-family='"Liberation Sans", sans-serif' fill="#111" text-anchor="middle" font-weight="bold" textLength="62.10" lengthAdjust="spacingAndGlyphs" transform="rotate(-90 23.70 257.95)">Log10 expression of CALCOCO</text>
<text x="105.50" y="291.80" font-size="4.7" font-family='"Liberation Sans", sans-serif' fill="#111" text-anchor="middle" font-weight="bold" textLength="57.40" lengthAdjust="spacingAndGlyphs">Log10 expression of BIRC5</text>
<text x="175.00" y="234.60" font-size="6.0" font-family='"Liberation Serif", serif' fill="#222" text-anchor="end">Size=403</text>
<text x="175.00" y="241.50" font-size="6.0" font-family='"Liberation Serif", serif' fill="#222" text-anchor="end">P value=0.00</text>
<text x="175.00" y="248.40" font-size="6.0" font-family='"Liberation Serif", serif' fill="#222" text-anchor="end">R= - 0.34</text>
<rect x="204.5" y="223.3" width="147.20" height="55.80" fill="none" stroke="#ebebeb" stroke-width="0.7"/>
<polygon points="210.8,226.8 216.7,228.3 222.5,229.7 228.4,231.2 234.2,232.6 240.1,234.1 245.9,235.5 251.8,237.0 257.6,238.4 263.5,239.9 269.3,241.3 275.2,242.8 281.0,244.2 286.9,245.6 292.7,247.0 298.6,248.3 304.4,249.6 310.3,250.8 316.1,252.0 322.0,253.2 327.8,254.3 333.7,255.5 339.5,256.6 345.4,257.8 345.4,260.4 339.5,259.0 333.7,257.5 327.8,256.1 322.0,254.6 316.1,253.2 310.3,251.8 304.4,250.4 298.6,249.1 292.7,247.9 286.9,246.7 281.0,245.5 275.2,244.3 269.3,243.2 263.5,242.0 257.6,240.9 251.8,239.8 245.9,238.6 240.1,237.5 234.2,236.3 228.4,235.2 222.5,234.1 216.7,232.9 210.8,231.8" fill="#dedcd4"/>
<line x1="210.8" y1="229.3" x2="345.4" y2="259.1" stroke="#3f6ae8" stroke-width="1.25"/>
<path fill="#000" d="M309.4 246.8h1.75v1.75h-1.75zM309.2 257.3h1.75v1.75h-1.75zM294.9 248.3h1.75v1.75h-1.75zM298.3 267.5h1.75v1.75h-1.75zM312.7 258.5h1.75v1.75h-1.75zM275.8 231.5h1.75v1.75h-1.75zM305.4 251.0h1.75v1.75h-1.75zM299.9 252.5h1.75v1.75h-1.75zM287.9 243.1h1.75v1.75h-1.75zM306.1 252.7h1.75v1.75h-1.75zM294.7 237.4h1.75v1.75h-1.75zM320.8 254.7h1.75v1.75h-1.75zM288.3 251.3h1.75v1.75h-1.75zM333.7 261.1h1.75v1.75h-1.75zM314.3 271.2h1.75v1.75h-1.75zM300.2 246.0h1.75v1.75h-1.75zM285.9 242.1h1.75v1.75h-1.75zM294.8 261.5h1.75v1.75h-1.75zM277.4 263.8h1.75v1.75h-1.75zM277.9 252.8h1.75v1.75h-1.75zM286.8 244.8h1.75v1.75h-1.75zM303.8 231.0h1.75v1.75h-1.75zM275.8 250.3h1.75v1.75h-1.75zM305.9 261.9h1.75v1.75h-1.75zM288.9 247.2h1.75v1.75h-1.75zM308.2 241.8h1.75v1.75h-1.75zM303.2 256.8h1.75v1.75h-1.75zM286.8 249.3h1.75v1.75h-1.75zM301.0 260.1h1.75v1.75h-1.75zM298.0 242.2h1.75v1.75h-1.75zM281.9 226.4h1.75v1.75h-1.75zM291.4 232.3h1.75v1.75h-1.75zM293.1 235.8h1.75v1.75h-1.75zM281.3 238.4h1.75v1.75h-1.75zM278.2 248.4h1.75v1.75h-1.75zM297.7 245.0h1.75v1.75h-1.75zM270.7 233.4h1.75v1.75h-1.75zM301.4 243.4h1.75v1.75h-1.75zM306.2 256.6h1.75v1.75h-1.75zM289.1 248.5h1.75v1.75h-1.75zM300.8 252.2h1.75v1.75h-1.75zM284.5 238.4h1.75v1.75h-1.75zM310.7 248.1h1.75v1.75h-1.75zM337.1 260.1h1.75v1.75h-1.75zM301.7 244.2h1.75v1.75h-1.75zM294.2 244.6h1.75v1.75h-1.75zM294.4 252.2h1.75v1.75h-1.75zM275.9 235.6h1.75v1.75h-1.75zM284.9 244.8h1.75v1.75h-1.75zM290.9 247.8h1.75v1.75h-1.75zM286.4 252.8h1.75v1.75h-1.75zM295.9 247.0h1.75v1.75h-1.75zM311.7 247.7h1.75v1.75h-1.75zM275.6 259.7h1.75v1.75h-1.75zM285.8 250.9h1.75v1.75h-1.75zM296.4 250.5h1.75v1.75h-1.75zM265.0 235.2h1.75v1.75h-1.75zM281.9 254.3h1.75v1.75h-1.75zM301.0 234.9h1.75v1.75h-1.75zM307.7 254.9h1.75v1.75h-1.75zM298.7 255.3h1.75v1.75h-1.75zM280.5 246.0h1.75v1.75h-1.75zM301.6 243.4h1.75v1.75h-1.75zM313.6 253.2h1.75v1.75h-1.75zM288.0 251.8h1.75v1.75h-1.75zM294.9 246.4h1.75v1.75h-1.75zM290.4 244.9h1.75v1.75h-1.75zM287.3 245.4h1.75v1.75h-1.75zM280.5 258.2h1.75v1.75h-1.75zM299.7 246.8h1.75v1.75h-1.75zM335.2 260.2h1.75v1.75h-1.75zM303.0 248.3h1.75v1.75h-1.75zM287.4 274.3h1.75v1.75h-1.75zM347.7 260.2h1.75v1.75h-1.75zM296.4 246.1h1.75v1.75h-1.75zM238.3 242.1h1.75v1.75h-1.75zM320.6 256.6h1.75v1.75h-1.75zM303.9 257.5h1.75v1.75h-1.75zM294.0 242.1h1.75v1.75h-1.75zM295.6 248.8h1.75v1.75h-1.75zM286.4 255.0h1.75v1.75h-1.75zM278.4 247.1h1.75v1.75h-1.75zM279.8 242.8h1.75v1.75h-1.75zM328.3 254.1h1.75v1.75h-1.75zM296.5 249.3h1.75v1.75h-1.75zM318.9 252.8h1.75v1.75h-1.75zM276.8 256.2h1.75v1.75h-1.75zM293.4 243.7h1.75v1.75h-1.75zM288.4 253.0h1.75v1.75h-1.75zM274.4 240.2h1.75v1.75h-1.75zM301.3 254.5h1.75v1.75h-1.75zM302.8 256.0h1.75v1.75h-1.75zM291.4 253.3h1.75v1.75h-1.75zM291.7 232.9h1.75v1.75h-1.75zM309.3 267.0h1.75v1.75h-1.75zM304.0 242.7h1.75v1.75h-1.75zM321.1 253.5h1.75v1.75h-1.75zM304.3 259.2h1.75v1.75h-1.75zM305.6 252.5h1.75v1.75h-1.75zM278.9 254.9h1.75v1.75h-1.75zM276.5 241.3h1.75v1.75h-1.75zM312.2 243.4h1.75v1.75h-1.75zM283.6 231.0h1.75v1.75h-1.75zM304.1 253.8h1.75v1.75h-1.75zM296.9 256.1h1.75v1.75h-1.75zM274.8 252.6h1.75v1.75h-1.75zM298.3 248.5h1.75v1.75h-1.75zM318.3 258.6h1.75v1.75h-1.75zM313.5 239.0h1.75v1.75h-1.75zM288.8 247.0h1.75v1.75h-1.75zM291.5 248.6h1.75v1.75h-1.75zM267.6 263.6h1.75v1.75h-1.75zM278.7 242.8h1.75v1.75h-1.75zM287.5 253.4h1.75v1.75h-1.75zM295.0 230.4h1.75v1.75h-1.75zM305.6 242.1h1.75v1.75h-1.75zM284.2 250.4h1.75v1.75h-1.75zM311.6 247.5h1.75v1.75h-1.75zM283.0 231.0h1.75v1.75h-1.75zM304.7 247.0h1.75v1.75h-1.75zM281.7 238.9h1.75v1.75h-1.75zM290.6 260.1h1.75v1.75h-1.75zM297.8 254.0h1.75v1.75h-1.75zM305.8 259.1h1.75v1.75h-1.75zM285.9 242.6h1.75v1.75h-1.75zM290.0 257.4h1.75v1.75h-1.75zM289.9 269.8h1.75v1.75h-1.75zM299.0 251.9h1.75v1.75h-1.75zM314.9 253.6h1.75v1.75h-1.75zM312.6 244.9h1.75v1.75h-1.75zM288.1 226.1h1.75v1.75h-1.75zM291.5 237.9h1.75v1.75h-1.75zM312.3 250.7h1.75v1.75h-1.75zM313.9 250.6h1.75v1.75h-1.75zM309.5 264.6h1.75v1.75h-1.75zM296.0 233.1h1.75v1.75h-1.75zM283.5 251.5h1.75v1.75h-1.75zM285.5 248.9h1.75v1.75h-1.75zM297.2 248.9h1.75v1.75h-1.75zM281.5 252.3h1.75v1.75h-1.75zM293.3 249.5h1.75v1.75h-1.75zM324.5 247.7h1.75v1.75h-1.75zM300.5 239.2h1.75v1.75h-1.75zM307.0 236.7h1.75v1.75h-1.75zM282.5 238.8h1.75v1.75h-1.75zM314.7 256.1h1.75v1.75h-1.75zM290.9 243.7h1.75v1.75h-1.75zM296.9 255.9h1.75v1.75h-1.75zM298.7 266.5h1.75v1.75h-1.75zM296.8 244.8h1.75v1.75h-1.75zM283.8 252.7h1.75v1.75h-1.75zM304.3 253.8h1.75v1.75h-1.75zM323.7 262.4h1.75v1.75h-1.75zM291.5 233.6h1.75v1.75h-1.75zM307.4 250.3h1.75v1.75h-1.75zM270.6 226.6h1.75v1.75h-1.75zM300.4 248.5h1.75v1.75h-1.75zM287.8 244.7h1.75v1.75h-1.75zM315.3 251.2h1.75v1.75h-1.75zM290.5 236.2h1.75v1.75h-1.75zM304.9 264.2h1.75v1.75h-1.75zM297.6 250.8h1.75v1.75h-1.75zM280.4 249.8h1.75v1.75h-1.75zM297.1 245.6h1.75v1.75h-1.75zM297.2 257.1h1.75v1.75h-1.75zM307.0 250.8h1.75v1.75h-1.75zM292.9 256.7h1.75v1.75h-1.75zM272.5 250.0h1.75v1.75h-1.75zM282.8 242.7h1.75v1.75h-1.75zM289.4 239.8h1.75v1.75h-1.75zM305.4 248.5h1.75v1.75h-1.75zM291.4 257.8h1.75v1.75h-1.75zM308.5 257.3h1.75v1.75h-1.75zM292.5 242.4h1.75v1.75h-1.75zM301.3 252.7h1.75v1.75h-1.75zM309.5 245.9h1.75v1.75h-1.75zM298.3 248.8h1.75v1.75h-1.75zM273.6 233.0h1.75v1.75h-1.75zM311.4 259.4h1.75v1.75h-1.75zM293.2 246.5h1.75v1.75h-1.75zM306.9 244.8h1.75v1.75h-1.75zM259.0 236.8h1.75v1.75h-1.75zM295.8 258.1h1.75v1.75h-1.75zM295.3 260.4h1.75v1.75h-1.75zM289.8 250.5h1.75v1.75h-1.75zM294.2 256.7h1.75v1.75h-1.75zM282.3 249.3h1.75v1.75h-1.75zM283.4 249.9h1.75v1.75h-1.75zM302.0 252.9h1.75v1.75h-1.75zM292.7 250.9h1.75v1.75h-1.75zM305.5 256.6h1.75v1.75h-1.75zM305.4 241.5h1.75v1.75h-1.75zM286.2 239.0h1.75v1.75h-1.75zM295.9 249.7h1.75v1.75h-1.75zM288.1 230.7h1.75v1.75h-1.75zM302.7 241.1h1.75v1.75h-1.75zM318.0 256.0h1.75v1.75h-1.75zM296.3 235.6h1.75v1.75h-1.75zM289.1 235.9h1.75v1.75h-1.75zM324.5 248.0h1.75v1.75h-1.75zM292.1 249.9h1.75v1.75h-1.75zM286.1 243.3h1.75v1.75h-1.75zM290.7 250.8h1.75v1.75h-1.75zM266.9 236.1h1.75v1.75h-1.75zM316.0 254.5h1.75v1.75h-1.75zM310.5 259.7h1.75v1.75h-1.75zM310.2 259.7h1.75v1.75h-1.75zM303.1 253.9h1.75v1.75h-1.75zM291.6 260.3h1.75v1.75h-1.75zM288.7 243.1h1.75v1.75h-1.75zM285.3 240.3h1.75v1.75h-1.75zM305.5 249.2h1.75v1.75h-1.75zM318.3 258.7h1.75v1.75h-1.75zM306.1 252.4h1.75v1.75h-1.75zM271.0 250.4h1.75v1.75h-1.75zM321.4 260.1h1.75v1.75h-1.75zM285.4 242.5h1.75v1.75h-1.75zM295.8 252.6h1.75v1.75h-1.75zM295.1 244.2h1.75v1.75h-1.75zM289.2 254.3h1.75v1.75h-1.75zM265.3 250.6h1.75v1.75h-1.75zM279.1 242.4h1.75v1.75h-1.75zM287.9 226.5h1.75v1.75h-1.75zM308.8 250.9h1.75v1.75h-1.75zM289.8 253.0h1.75v1.75h-1.75zM299.9 238.6h1.75v1.75h-1.75zM266.2 241.9h1.75v1.75h-1.75zM290.4 249.6h1.75v1.75h-1.75zM324.6 271.0h1.75v1.75h-1.75zM319.9 248.3h1.75v1.75h-1.75zM304.3 257.0h1.75v1.75h-1.75zM303.0 256.3h1.75v1.75h-1.75zM297.2 251.0h1.75v1.75h-1.75zM293.5 239.9h1.75v1.75h-1.75zM296.5 242.7h1.75v1.75h-1.75zM308.7 259.6h1.75v1.75h-1.75zM286.1 260.9h1.75v1.75h-1.75zM280.2 233.6h1.75v1.75h-1.75zM303.1 249.5h1.75v1.75h-1.75zM287.1 231.5h1.75v1.75h-1.75zM304.6 246.1h1.75v1.75h-1.75zM280.9 241.4h1.75v1.75h-1.75zM298.5 249.2h1.75v1.75h-1.75zM289.3 246.7h1.75v1.75h-1.75zM281.7 242.9h1.75v1.75h-1.75zM304.2 249.9h1.75v1.75h-1.75zM286.6 234.7h1.75v1.75h-1.75zM262.7 242.4h1.75v1.75h-1.75zM278.4 247.1h1.75v1.75h-1.75zM291.6 238.9h1.75v1.75h-1.75zM316.9 259.8h1.75v1.75h-1.75zM289.9 249.2h1.75v1.75h-1.75zM279.0 244.4h1.75v1.75h-1.75zM287.3 257.7h1.75v1.75h-1.75zM309.0 248.3h1.75v1.75h-1.75zM299.9 250.3h1.75v1.75h-1.75zM301.6 243.7h1.75v1.75h-1.75zM302.5 248.2h1.75v1.75h-1.75zM315.5 262.1h1.75v1.75h-1.75zM264.3 261.5h1.75v1.75h-1.75zM327.2 267.4h1.75v1.75h-1.75zM310.1 256.7h1.75v1.75h-1.75zM282.7 247.3h1.75v1.75h-1.75zM305.1 252.8h1.75v1.75h-1.75zM314.0 248.8h1.75v1.75h-1.75zM290.3 264.9h1.75v1.75h-1.75zM309.3 256.2h1.75v1.75h-1.75zM267.2 231.6h1.75v1.75h-1.75zM275.7 244.6h1.75v1.75h-1.75zM302.4 250.1h1.75v1.75h-1.75zM296.9 243.4h1.75v1.75h-1.75zM304.8 259.8h1.75v1.75h-1.75zM308.6 247.5h1.75v1.75h-1.75zM307.5 251.8h1.75v1.75h-1.75zM276.5 249.5h1.75v1.75h-1.75zM276.7 242.5h1.75v1.75h-1.75zM311.5 241.2h1.75v1.75h-1.75zM300.8 247.2h1.75v1.75h-1.75zM297.0 249.6h1.75v1.75h-1.75zM294.1 236.2h1.75v1.75h-1.75zM318.2 248.9h1.75v1.75h-1.75zM287.0 231.7h1.75v1.75h-1.75zM301.9 239.9h1.75v1.75h-1.75zM316.1 251.3h1.75v1.75h-1.75zM289.0 250.9h1.75v1.75h-1.75zM288.9 248.6h1.75v1.75h-1.75zM292.4 239.0h1.75v1.75h-1.75zM270.0 251.4h1.75v1.75h-1.75zM309.9 269.5h1.75v1.75h-1.75zM321.5 250.4h1.75v1.75h-1.75zM296.8 240.3h1.75v1.75h-1.75zM303.1 256.2h1.75v1.75h-1.75zM306.6 266.8h1.75v1.75h-1.75zM319.8 257.7h1.75v1.75h-1.75zM307.7 257.8h1.75v1.75h-1.75zM304.2 244.1h1.75v1.75h-1.75zM288.8 247.4h1.75v1.75h-1.75zM308.2 249.4h1.75v1.75h-1.75zM297.8 250.2h1.75v1.75h-1.75zM311.9 241.4h1.75v1.75h-1.75zM307.8 254.8h1.75v1.75h-1.75zM272.5 246.8h1.75v1.75h-1.75zM283.5 244.0h1.75v1.75h-1.75zM292.2 270.9h1.75v1.75h-1.75zM301.7 266.3h1.75v1.75h-1.75zM312.8 257.1h1.75v1.75h-1.75zM280.8 252.4h1.75v1.75h-1.75zM302.8 251.0h1.75v1.75h-1.75zM276.0 235.3h1.75v1.75h-1.75zM298.2 241.4h1.75v1.75h-1.75zM295.6 250.4h1.75v1.75h-1.75zM282.7 250.9h1.75v1.75h-1.75zM266.0 243.4h1.75v1.75h-1.75zM291.6 253.1h1.75v1.75h-1.75zM280.6 230.4h1.75v1.75h-1.75zM298.8 239.9h1.75v1.75h-1.75zM297.9 249.6h1.75v1.75h-1.75zM308.9 245.9h1.75v1.75h-1.75zM303.6 253.5h1.75v1.75h-1.75zM270.7 242.7h1.75v1.75h-1.75zM273.1 241.9h1.75v1.75h-1.75zM284.3 254.1h1.75v1.75h-1.75zM294.4 247.4h1.75v1.75h-1.75zM299.4 253.4h1.75v1.75h-1.75zM287.1 242.4h1.75v1.75h-1.75zM300.6 256.8h1.75v1.75h-1.75zM274.5 251.7h1.75v1.75h-1.75zM310.7 247.2h1.75v1.75h-1.75zM290.3 235.5h1.75v1.75h-1.75zM289.4 242.4h1.75v1.75h-1.75zM289.9 244.0h1.75v1.75h-1.75zM296.7 258.7h1.75v1.75h-1.75zM316.2 256.6h1.75v1.75h-1.75zM299.3 247.4h1.75v1.75h-1.75zM309.5 251.3h1.75v1.75h-1.75zM280.3 243.5h1.75v1.75h-1.75zM313.9 236.9h1.75v1.75h-1.75zM307.1 240.2h1.75v1.75h-1.75zM322.5 260.8h1.75v1.75h-1.75zM284.5 251.3h1.75v1.75h-1.75zM285.2 257.3h1.75v1.75h-1.75zM299.6 247.5h1.75v1.75h-1.75zM305.0 245.1h1.75v1.75h-1.75zM286.0 236.0h1.75v1.75h-1.75zM303.1 258.9h1.75v1.75h-1.75zM318.1 255.9h1.75v1.75h-1.75zM251.6 249.0h1.75v1.75h-1.75zM280.2 227.6h1.75v1.75h-1.75zM294.3 234.8h1.75v1.75h-1.75zM303.3 252.4h1.75v1.75h-1.75zM296.7 245.8h1.75v1.75h-1.75zM304.0 254.9h1.75v1.75h-1.75zM316.0 254.8h1.75v1.75h-1.75zM290.9 230.1h1.75v1.75h-1.75zM286.0 247.3h1.75v1.75h-1.75zM315.9 253.4h1.75v1.75h-1.75zM274.9 242.8h1.75v1.75h-1.75zM308.9 260.4h1.75v1.75h-1.75zM315.0 263.6h1.75v1.75h-1.75zM290.1 238.6h1.75v1.75h-1.75zM299.8 254.1h1.75v1.75h-1.75zM290.2 250.8h1.75v1.75h-1.75zM324.1 247.0h1.75v1.75h-1.75zM305.9 258.0h1.75v1.75h-1.75zM298.5 251.5h1.75v1.75h-1.75zM303.3 255.1h1.75v1.75h-1.75zM304.5 246.6h1.75v1.75h-1.75zM324.6 257.5h1.75v1.75h-1.75zM302.0 261.7h1.75v1.75h-1.75zM287.2 238.2h1.75v1.75h-1.75zM293.9 237.5h1.75v1.75h-1.75zM283.3 242.4h1.75v1.75h-1.75zM279.1 246.0h1.75v1.75h-1.75zM300.9 249.6h1.75v1.75h-1.75zM290.2 255.1h1.75v1.75h-1.75zM295.3 250.1h1.75v1.75h-1.75zM306.1 242.1h1.75v1.75h-1.75zM309.9 248.7h1.75v1.75h-1.75zM299.1 258.6h1.75v1.75h-1.75zM290.5 256.8h1.75v1.75h-1.75zM306.5 252.3h1.75v1.75h-1.75zM286.9 236.4h1.75v1.75h-1.75zM317.9 249.4h1.75v1.75h-1.75zM291.7 246.9h1.75v1.75h-1.75zM327.1 243.3h1.75v1.75h-1.75zM275.0 253.2h1.75v1.75h-1.75zM319.3 248.3h1.75v1.75h-1.75zM303.6 251.8h1.75v1.75h-1.75zM295.8 256.2h1.75v1.75h-1.75zM311.8 247.2h1.75v1.75h-1.75zM304.7 259.2h1.75v1.75h-1.75zM299.0 248.8h1.75v1.75h-1.75zM296.5 240.2h1.75v1.75h-1.75zM304.2 259.0h1.75v1.75h-1.75zM299.7 239.1h1.75v1.75h-1.75zM287.3 235.4h1.75v1.75h-1.75zM288.3 240.0h1.75v1.75h-1.75zM295.5 249.3h1.75v1.75h-1.75zM281.9 246.3h1.75v1.75h-1.75zM271.6 244.0h1.75v1.75h-1.75zM308.7 250.2h1.75v1.75h-1.75zM290.0 253.0h1.75v1.75h-1.75zM300.3 237.6h1.75v1.75h-1.75zM308.3 260.5h1.75v1.75h-1.75zM307.7 238.0h1.75v1.75h-1.75zM298.1 256.0h1.75v1.75h-1.75zM292.7 253.2h1.75v1.75h-1.75zM276.2 246.4h1.75v1.75h-1.75zM282.8 245.1h1.75v1.75h-1.75zM279.3 242.5h1.75v1.75h-1.75zM276.8 239.2h1.75v1.75h-1.75zM299.9 239.3h1.75v1.75h-1.75zM270.8 245.4h1.75v1.75h-1.75zM337.0 250.0h1.75v1.75h-1.75zM286.1 258.3h1.75v1.75h-1.75zM302.5 257.5h1.75v1.75h-1.75zM301.0 231.0h1.75v1.75h-1.75zM302.7 249.8h1.75v1.75h-1.75zM295.8 242.8h1.75v1.75h-1.75zM294.4 240.9h1.75v1.75h-1.75zM298.6 243.0h1.75v1.75h-1.75zM308.7 260.7h1.75v1.75h-1.75zM306.4 248.6h1.75v1.75h-1.75zM299.5 231.6h1.75v1.75h-1.75zM263.2 226.6h1.75v1.75h-1.75zM285.3 248.3h1.75v1.75h-1.75zM298.1 247.9h1.75v1.75h-1.75zM312.7 255.0h1.75v1.75h-1.75zM316.4 250.8h1.75v1.75h-1.75zM284.3 243.9h1.75v1.75h-1.75zM301.4 248.9h1.75v1.75h-1.75zM289.4 251.7h1.75v1.75h-1.75zM284.3 258.2h1.75v1.75h-1.75zM297.9 244.7h1.75v1.75h-1.75zM311.9 248.5h1.75v1.75h-1.75zM300.0 244.6h1.75v1.75h-1.75zM265.5 232.5h1.75v1.75h-1.75zM312.2 252.8h1.75v1.75h-1.75zM268.7 232.7h1.75v1.75h-1.75zM310.9 251.9h1.75v1.75h-1.75zM315.7 244.5h1.75v1.75h-1.75zM338.8 251.9h1.75v1.75h-1.75zM277.2 249.0h1.75v1.75h-1.75zM289.8 238.6h1.75v1.75h-1.75zM298.3 244.1h1.75v1.75h-1.75zM302.7 247.8h1.75v1.75h-1.75zM290.5 246.7h1.75v1.75h-1.75zM311.7 250.3h1.75v1.75h-1.75zM291.1 251.6h1.75v1.75h-1.75zM298.6 264.0h1.75v1.75h-1.75zM296.3 247.6h1.75v1.75h-1.75zM306.8 243.5h1.75v1.75h-1.75zM309.9 252.1h1.75v1.75h-1.75zM275.6 237.2h1.75v1.75h-1.75zM307.7 261.0h1.75v1.75h-1.75zM284.3 242.8h1.75v1.75h-1.75zM287.1 247.2h1.75v1.75h-1.75zM293.8 246.4h1.75v1.75h-1.75zM305.0 246.6h1.75v1.75h-1.75zM304.9 248.7h1.75v1.75h-1.75zM277.0 240.3h1.75v1.75h-1.75zM295.8 256.6h1.75v1.75h-1.75zM311.2 246.3h1.75v1.75h-1.75zM320.7 254.8h1.75v1.75h-1.75zM299.5 256.2h1.75v1.75h-1.75zM287.2 239.2h1.75v1.75h-1.75zM305.1 249.2h1.75v1.75h-1.75zM292.4 225.5h1.75v1.75h-1.75zM278.5 247.7h1.75v1.75h-1.75zM263.4 230.0h1.75v1.75h-1.75zM310.4 242.5h1.75v1.75h-1.75zM327.2 263.9h1.75v1.75h-1.75zM323.4 246.5h1.75v1.75h-1.75zM314.8 247.2h1.75v1.75h-1.75zM303.2 241.6h1.75v1.75h-1.75zM295.6 254.2h1.75v1.75h-1.75zM299.6 265.8h1.75v1.75h-1.75zM314.5 256.7h1.75v1.75h-1.75zM270.0 239.5h1.75v1.75h-1.75zM298.7 241.0h1.75v1.75h-1.75zM289.1 229.7h1.75v1.75h-1.75zM306.1 240.0h1.75v1.75h-1.75zM305.1 244.7h1.75v1.75h-1.75zM267.9 239.6h1.75v1.75h-1.75zM275.2 245.6h1.75v1.75h-1.75zM296.9 240.2h1.75v1.75h-1.75zM303.5 252.0h1.75v1.75h-1.75zM285.0 242.7h1.75v1.75h-1.75zM297.8 250.0h1.75v1.75h-1.75zM295.9 241.7h1.75v1.75h-1.75zM283.9 248.9h1.75v1.75h-1.75zM287.7 249.9h1.75v1.75h-1.75zM300.7 252.0h1.75v1.75h-1.75zM324.9 245.5h1.75v1.75h-1.75zM288.1 249.1h1.75v1.75h-1.75zM303.4 239.6h1.75v1.75h-1.75zM299.0 255.1h1.75v1.75h-1.75zM288.7 243.4h1.75v1.75h-1.75zM288.4 247.8h1.75v1.75h-1.75zM283.3 253.0h1.75v1.75h-1.75zM298.0 248.1h1.75v1.75h-1.75zM303.7 245.7h1.75v1.75h-1.75zM291.9 241.7h1.75v1.75h-1.75zM253.1 241.2h1.75v1.75h-1.75zM297.9 261.6h1.75v1.75h-1.75zM293.9 252.0h1.75v1.75h-1.75zM290.2 250.0h1.75v1.75h-1.75zM310.4 237.0h1.75v1.75h-1.75zM275.9 258.8h1.75v1.75h-1.75zM291.2 247.1h1.75v1.75h-1.75zM297.4 231.4h1.75v1.75h-1.75zM315.3 259.7h1.75v1.75h-1.75zM281.1 232.0h1.75v1.75h-1.75zM300.6 229.3h1.75v1.75h-1.75zM270.8 235.5h1.75v1.75h-1.75zM286.2 241.3h1.75v1.75h-1.75zM291.5 258.9h1.75v1.75h-1.75zM277.7 244.0h1.75v1.75h-1.75zM302.6 250.4h1.75v1.75h-1.75zM301.2 232.1h1.75v1.75h-1.75zM284.8 236.3h1.75v1.75h-1.75zM296.7 256.1h1.75v1.75h-1.75zM285.6 262.9h1.75v1.75h-1.75zM291.4 252.1h1.75v1.75h-1.75zM292.1 232.2h1.75v1.75h-1.75zM328.0 252.8h1.75v1.75h-1.75zM273.5 241.8h1.75v1.75h-1.75zM302.6 243.6h1.75v1.75h-1.75zM323.0 256.6h1.75v1.75h-1.75zM296.6 245.0h1.75v1.75h-1.75zM303.6 255.0h1.75v1.75h-1.75zM322.6 258.9h1.75v1.75h-1.75zM281.1 240.1h1.75v1.75h-1.75zM280.6 242.3h1.75v1.75h-1.75zM303.6 243.7h1.75v1.75h-1.75zM296.2 246.7h1.75v1.75h-1.75zM316.1 244.5h1.75v1.75h-1.75zM288.3 242.4h1.75v1.75h-1.75zM297.0 244.9h1.75v1.75h-1.75zM304.5 241.1h1.75v1.75h-1.75zM267.5 240.0h1.75v1.75h-1.75zM315.0 259.8h1.75v1.75h-1.75zM296.9 253.6h1.75v1.75h-1.75zM284.1 246.3h1.75v1.75h-1.75zM288.0 237.8h1.75v1.75h-1.75zM289.4 249.9h1.75v1.75h-1.75zM314.0 253.3h1.75v1.75h-1.75zM284.4 235.4h1.75v1.75h-1.75zM313.9 240.2h1.75v1.75h-1.75zM288.4 255.6h1.75v1.75h-1.75zM302.1 256.9h1.75v1.75h-1.75zM288.0 247.3h1.75v1.75h-1.75zM295.7 246.3h1.75v1.75h-1.75zM309.1 254.2h1.75v1.75h-1.75zM295.0 257.7h1.75v1.75h-1.75zM288.2 229.6h1.75v1.75h-1.75zM320.5 247.5h1.75v1.75h-1.75zM323.3 242.5h1.75v1.75h-1.75zM293.6 240.6h1.75v1.75h-1.75zM290.8 237.5h1.75v1.75h-1.75zM288.9 258.0h1.75v1.75h-1.75zM278.1 240.4h1.75v1.75h-1.75zM286.2 243.5h1.75v1.75h-1.75zM301.0 246.9h1.75v1.75h-1.75zM287.7 250.5h1.75v1.75h-1.75zM300.2 256.8h1.75v1.75h-1.75zM298.4 247.0h1.75v1.75h-1.75zM311.4 241.3h1.75v1.75h-1.75zM332.4 241.1h1.75v1.75h-1.75zM294.9 245.3h1.75v1.75h-1.75zM277.4 255.5h1.75v1.75h-1.75zM298.7 250.2h1.75v1.75h-1.75zM303.2 252.3h1.75v1.75h-1.75zM338.8 265.5h1.75v1.75h-1.75zM296.3 256.0h1.75v1.75h-1.75zM286.6 240.6h1.75v1.75h-1.75zM283.4 249.4h1.75v1.75h-1.75zM303.4 248.1h1.75v1.75h-1.75zM292.4 242.3h1.75v1.75h-1.75zM308.9 255.8h1.75v1.75h-1.75zM313.3 253.3h1.75v1.75h-1.75zM295.7 251.9h1.75v1.75h-1.75zM303.3 240.5h1.75v1.75h-1.75zM296.1 252.7h1.75v1.75h-1.75zM303.6 260.1h1.75v1.75h-1.75zM263.0 227.3h1.75v1.75h-1.75zM284.0 262.2h1.75v1.75h-1.75zM317.1 241.4h1.75v1.75h-1.75zM275.5 239.1h1.75v1.75h-1.75zM270.5 235.6h1.75v1.75h-1.75zM308.8 243.7h1.75v1.75h-1.75zM282.5 243.2h1.75v1.75h-1.75zM289.5 242.2h1.75v1.75h-1.75zM283.2 262.4h1.75v1.75h-1.75zM315.1 253.9h1.75v1.75h-1.75zM293.7 255.4h1.75v1.75h-1.75zM316.8 266.1h1.75v1.75h-1.75zM300.9 265.0h1.75v1.75h-1.75zM273.6 245.3h1.75v1.75h-1.75zM297.2 246.3h1.75v1.75h-1.75zM251.2 248.8h1.75v1.75h-1.75zM308.0 257.4h1.75v1.75h-1.75zM265.8 230.7h1.75v1.75h-1.75zM309.4 246.1h1.75v1.75h-1.75zM302.6 255.7h1.75v1.75h-1.75zM315.2 258.4h1.75v1.75h-1.75zM306.1 249.0h1.75v1.75h-1.75zM299.0 242.6h1.75v1.75h-1.75zM290.3 250.7h1.75v1.75h-1.75zM286.9 247.0h1.75v1.75h-1.75zM277.7 232.6h1.75v1.75h-1.75zM290.8 258.2h1.75v1.75h-1.75zM292.2 246.5h1.75v1.75h-1.75zM326.7 256.8h1.75v1.75h-1.75zM305.5 264.4h1.75v1.75h-1.75zM283.2 244.0h1.75v1.75h-1.75zM313.3 246.4h1.75v1.75h-1.75zM296.5 250.8h1.75v1.75h-1.75zM285.8 250.0h1.75v1.75h-1.75zM296.7 239.0h1.75v1.75h-1.75zM286.2 244.9h1.75v1.75h-1.75zM302.4 256.0h1.75v1.75h-1.75zM290.9 245.1h1.75v1.75h-1.75zM320.6 245.0h1.75v1.75h-1.75zM278.7 245.7h1.75v1.75h-1.75zM298.1 261.9h1.75v1.75h-1.75zM263.3 249.0h1.75v1.75h-1.75zM319.8 261.5h1.75v1.75h-1.75zM342.8 269.0h1.75v1.75h-1.75zM291.8 234.5h1.75v1.75h-1.75zM309.0 250.7h1.75v1.75h-1.75zM275.3 243.0h1.75v1.75h-1.75zM291.0 245.1h1.75v1.75h-1.75zM314.0 240.4h1.75v1.75h-1.75zM262.9 254.9h1.75v1.75h-1.75zM303.1 252.6h1.75v1.75h-1.75zM256.2 243.6h1.75v1.75h-1.75zM323.4 251.5h1.75v1.75h-1.75zM321.0 261.6h1.75v1.75h-1.75zM270.4 241.4h1.75v1.75h-1.75zM290.3 240.5h1.75v1.75h-1.75zM321.0 259.2h1.75v1.75h-1.75zM325.8 245.3h1.75v1.75h-1.75zM294.2 247.8h1.75v1.75h-1.75zM249.8 240.2h1.75v1.75h-1.75zM312.1 246.9h1.75v1.75h-1.75zM284.4 247.7h1.75v1.75h-1.75zM294.8 244.4h1.75v1.75h-1.75zM288.4 250.6h1.75v1.75h-1.75zM275.6 252.0h1.75v1.75h-1.75zM264.0 238.6h1.75v1.75h-1.75zM315.7 247.1h1.75v1.75h-1.75zM296.3 248.5h1.75v1.75h-1.75zM294.3 236.9h1.75v1.75h-1.75zM286.2 248.8h1.75v1.75h-1.75zM299.3 233.5h1.75v1.75h-1.75zM279.4 246.2h1.75v1.75h-1.75zM278.3 240.4h1.75v1.75h-1.75zM274.9 243.7h1.75v1.75h-1.75zM274.0 244.2h1.75v1.75h-1.75zM297.6 254.6h1.75v1.75h-1.75zM273.0 232.9h1.75v1.75h-1.75zM319.1 254.3h1.75v1.75h-1.75zM291.8 251.4h1.75v1.75h-1.75zM287.1 237.8h1.75v1.75h-1.75zM285.8 232.5h1.75v1.75h-1.75zM314.8 256.8h1.75v1.75h-1.75zM261.8 235.4h1.75v1.75h-1.75zM293.6 239.0h1.75v1.75h-1.75zM317.6 250.9h1.75v1.75h-1.75zM308.3 259.3h1.75v1.75h-1.75zM298.0 248.4h1.75v1.75h-1.75zM288.1 251.0h1.75v1.75h-1.75zM325.5 262.8h1.75v1.75h-1.75zM281.4 241.5h1.75v1.75h-1.75zM319.8 248.2h1.75v1.75h-1.75zM280.6 260.2h1.75v1.75h-1.75zM272.2 245.1h1.75v1.75h-1.75zM293.8 253.2h1.75v1.75h-1.75zM287.6 243.0h1.75v1.75h-1.75zM260.2 243.9h1.75v1.75h-1.75zM293.1 256.8h1.75v1.75h-1.75zM327.3 244.6h1.75v1.75h-1.75zM291.5 247.9h1.75v1.75h-1.75zM299.5 238.9h1.75v1.75h-1.75zM293.2 245.5h1.75v1.75h-1.75zM293.3 253.5h1.75v1.75h-1.75zM296.9 258.0h1.75v1.75h-1.75zM295.7 258.1h1.75v1.75h-1.75zM293.7 249.3h1.75v1.75h-1.75zM298.6 247.3h1.75v1.75h-1.75zM299.5 239.0h1.75v1.75h-1.75zM296.3 263.4h1.75v1.75h-1.75zM273.0 242.0h1.75v1.75h-1.75zM281.8 239.1h1.75v1.75h-1.75zM277.5 233.8h1.75v1.75h-1.75zM290.0 239.4h1.75v1.75h-1.75zM330.0 247.5h1.75v1.75h-1.75zM297.3 243.0h1.75v1.75h-1.75zM281.5 261.1h1.75v1.75h-1.75zM321.2 252.4h1.75v1.75h-1.75zM304.8 258.3h1.75v1.75h-1.75zM284.4 229.7h1.75v1.75h-1.75zM300.3 241.4h1.75v1.75h-1.75zM307.9 251.2h1.75v1.75h-1.75zM307.1 252.2h1.75v1.75h-1.75zM285.7 247.3h1.75v1.75h-1.75zM297.2 243.5h1.75v1.75h-1.75zM285.0 247.2h1.75v1.75h-1.75zM275.6 243.9h1.75v1.75h-1.75zM301.2 254.9h1.75v1.75h-1.75zM267.0 237.0h1.75v1.75h-1.75zM291.9 241.7h1.75v1.75h-1.75zM308.1 257.3h1.75v1.75h-1.75zM302.6 244.2h1.75v1.75h-1.75zM293.7 247.9h1.75v1.75h-1.75zM299.6 241.8h1.75v1.75h-1.75zM296.6 240.3h1.75v1.75h-1.75zM312.6 254.5h1.75v1.75h-1.75zM302.0 244.3h1.75v1.75h-1.75zM304.9 241.4h1.75v1.75h-1.75zM285.5 253.5h1.75v1.75h-1.75zM292.9 246.4h1.75v1.75h-1.75zM287.9 253.0h1.75v1.75h-1.75zM309.2 245.9h1.75v1.75h-1.75zM306.8 261.6h1.75v1.75h-1.75zM296.9 241.2h1.75v1.75h-1.75zM307.1 252.2h1.75v1.75h-1.75zM296.7 242.8h1.75v1.75h-1.75zM293.3 232.1h1.75v1.75h-1.75zM303.6 249.1h1.75v1.75h-1.75zM299.7 255.0h1.75v1.75h-1.75zM327.4 262.3h1.75v1.75h-1.75zM278.7 238.3h1.75v1.75h-1.75zM309.4 259.6h1.75v1.75h-1.75zM283.6 255.1h1.75v1.75h-1.75zM307.0 247.3h1.75v1.75h-1.75zM282.8 235.2h1.75v1.75h-1.75zM273.0 240.0h1.75v1.75h-1.75zM317.6 238.7h1.75v1.75h-1.75zM292.9 230.5h1.75v1.75h-1.75zM318.6 246.6h1.75v1.75h-1.75zM286.6 241.9h1.75v1.75h-1.75zM277.2 237.9h1.75v1.75h-1.75zM313.1 247.9h1.75v1.75h-1.75zM288.0 238.1h1.75v1.75h-1.75zM297.0 246.4h1.75v1.75h-1.75zM284.2 255.2h1.75v1.75h-1.75zM293.0 258.9h1.75v1.75h-1.75zM266.4 248.4h1.75v1.75h-1.75zM290.9 246.1h1.75v1.75h-1.75zM294.2 258.0h1.75v1.75h-1.75zM308.7 252.0h1.75v1.75h-1.75zM309.3 248.6h1.75v1.75h-1.75zM294.3 232.5h1.75v1.75h-1.75zM297.3 254.4h1.75v1.75h-1.75zM295.4 254.1h1.75v1.75h-1.75zM325.3 263.2h1.75v1.75h-1.75zM279.7 259.7h1.75v1.75h-1.75zM307.6 253.1h1.75v1.75h-1.75zM297.9 237.6h1.75v1.75h-1.75zM279.1 267.0h1.75v1.75h-1.75zM304.1 249.7h1.75v1.75h-1.75zM326.1 251.5h1.75v1.75h-1.75zM300.8 239.2h1.75v1.75h-1.75zM280.9 235.5h1.75v1.75h-1.75zM304.6 247.6h1.75v1.75h-1.75zM305.2 262.2h1.75v1.75h-1.75zM290.8 252.8h1.75v1.75h-1.75zM308.9 253.5h1.75v1.75h-1.75zM274.7 249.0h1.75v1.75h-1.75zM280.0 239.3h1.75v1.75h-1.75zM291.8 250.9h1.75v1.75h-1.75zM296.5 256.3h1.75v1.75h-1.75zM308.7 251.4h1.75v1.75h-1.75zM309.4 245.3h1.75v1.75h-1.75zM286.3 250.0h1.75v1.75h-1.75zM310.5 258.8h1.75v1.75h-1.75zM317.9 258.8h1.75v1.75h-1.75zM308.0 250.3h1.75v1.75h-1.75zM295.0 245.8h1.75v1.75h-1.75zM293.2 252.2h1.75v1.75h-1.75zM285.4 251.2h1.75v1.75h-1.75zM270.2 236.9h1.75v1.75h-1.75zM285.9 229.9h1.75v1.75h-1.75zM277.0 225.1h1.75v1.75h-1.75zM298.0 252.8h1.75v1.75h-1.75zM301.4 247.6h1.75v1.75h-1.75zM300.8 249.2h1.75v1.75h-1.75zM302.9 252.5h1.75v1.75h-1.75zM289.2 249.9h1.75v1.75h-1.75zM291.5 246.6h1.75v1.75h-1.75zM307.5 243.8h1.75v1.75h-1.75zM315.9 242.4h1.75v1.75h-1.75zM272.1 232.5h1.75v1.75h-1.75zM281.1 246.1h1.75v1.75h-1.75zM290.0 249.6h1.75v1.75h-1.75zM281.9 237.6h1.75v1.75h-1.75zM288.2 240.7h1.75v1.75h-1.75zM296.3 253.2h1.75v1.75h-1.75zM284.8 244.3h1.75v1.75h-1.75zM306.5 262.4h1.75v1.75h-1.75zM305.0 247.2h1.75v1.75h-1.75zM314.2 266.3h1.75v1.75h-1.75zM301.9 246.4h1.75v1.75h-1.75zM306.1 270.0h1.75v1.75h-1.75zM223.9 231.0h1.75v1.75h-1.75zM306.7 258.5h1.75v1.75h-1.75zM283.1 248.4h1.75v1.75h-1.75zM325.0 253.1h1.75v1.75h-1.75zM286.5 250.1h1.75v1.75h-1.75zM300.5 236.9h1.75v1.75h-1.75zM275.9 236.0h1.75v1.75h-1.75zM268.0 246.1h1.75v1.75h-1.75zM301.8 226.7h1.75v1.75h-1.75zM301.4 248.9h1.75v1.75h-1.75zM317.0 250.6h1.75v1.75h-1.75zM307.7 237.3h1.75v1.75h-1.75zM313.4 237.6h1.75v1.75h-1.75zM323.0 253.0h1.75v1.75h-1.75zM275.6 237.3h1.75v1.75h-1.75zM316.4 252.4h1.75v1.75h-1.75zM285.5 237.7h1.75v1.75h-1.75zM300.7 250.0h1.75v1.75h-1.75zM295.1 238.7h1.75v1.75h-1.75zM308.6 261.8h1.75v1.75h-1.75zM307.9 247.2h1.75v1.75h-1.75zM304.3 240.6h1.75v1.75h-1.75zM290.5 244.7h1.75v1.75h-1.75zM271.4 253.8h1.75v1.75h-1.75zM297.5 246.1h1.75v1.75h-1.75zM296.2 255.2h1.75v1.75h-1.75zM297.3 251.1h1.75v1.75h-1.75zM311.6 249.7h1.75v1.75h-1.75zM345.1 235.6h1.75v1.75h-1.75zM311.8 252.2h1.75v1.75h-1.75zM302.8 257.4h1.75v1.75h-1.75zM289.6 233.6h1.75v1.75h-1.75zM267.8 245.2h1.75v1.75h-1.75zM317.2 257.0h1.75v1.75h-1.75zM306.2 251.8h1.75v1.75h-1.75zM297.4 250.1h1.75v1.75h-1.75zM275.8 234.2h1.75v1.75h-1.75zM292.1 262.3h1.75v1.75h-1.75zM305.4 256.3h1.75v1.75h-1.75zM302.7 244.2h1.75v1.75h-1.75zM290.9 246.1h1.75v1.75h-1.75zM299.5 249.9h1.75v1.75h-1.75zM293.6 261.5h1.75v1.75h-1.75zM288.5 236.3h1.75v1.75h-1.75zM315.7 256.7h1.75v1.75h-1.75zM316.1 235.9h1.75v1.75h-1.75zM301.2 266.0h1.75v1.75h-1.75zM290.6 244.9h1.75v1.75h-1.75zM315.3 248.8h1.75v1.75h-1.75zM278.5 233.0h1.75v1.75h-1.75zM300.2 248.7h1.75v1.75h-1.75zM281.9 250.0h1.75v1.75h-1.75zM267.9 240.5h1.75v1.75h-1.75zM290.0 249.7h1.75v1.75h-1.75zM268.2 241.4h1.75v1.75h-1.75zM291.9 261.9h1.75v1.75h-1.75zM276.8 244.3h1.75v1.75h-1.75zM295.7 247.3h1.75v1.75h-1.75zM288.8 245.4h1.75v1.75h-1.75zM274.4 243.5h1.75v1.75h-1.75zM289.4 233.9h1.75v1.75h-1.75zM284.7 231.7h1.75v1.75h-1.75zM315.4 244.7h1.75v1.75h-1.75zM330.1 254.7h1.75v1.75h-1.75zM306.0 240.0h1.75v1.75h-1.75zM317.4 250.8h1.75v1.75h-1.75zM328.3 257.5h1.75v1.75h-1.75zM299.4 252.3h1.75v1.75h-1.75zM298.3 248.9h1.75v1.75h-1.75zM335.3 237.4h1.75v1.75h-1.75zM304.5 240.1h1.75v1.75h-1.75zM283.8 236.1h1.75v1.75h-1.75zM317.6 249.6h1.75v1.75h-1.75zM298.9 252.2h1.75v1.75h-1.75zM315.8 249.6h1.75v1.75h-1.75zM317.7 252.5h1.75v1.75h-1.75zM291.2 250.8h1.75v1.75h-1.75zM297.0 240.2h1.75v1.75h-1.75zM304.3 260.4h1.75v1.75h-1.75zM279.1 253.4h1.75v1.75h-1.75zM283.1 253.0h1.75v1.75h-1.75zM298.3 251.9h1.75v1.75h-1.75zM296.1 248.3h1.75v1.75h-1.75zM283.7 239.2h1.75v1.75h-1.75zM294.8 235.7h1.75v1.75h-1.75zM301.4 251.6h1.75v1.75h-1.75zM279.6 250.8h1.75v1.75h-1.75zM285.1 244.2h1.75v1.75h-1.75zM293.7 239.2h1.75v1.75h-1.75zM281.1 240.7h1.75v1.75h-1.75zM283.8 239.7h1.75v1.75h-1.75zM290.2 239.1h1.75v1.75h-1.75zM268.8 238.1h1.75v1.75h-1.75zM287.4 244.7h1.75v1.75h-1.75zM298.3 261.8h1.75v1.75h-1.75zM281.2 247.1h1.75v1.75h-1.75zM310.8 259.1h1.75v1.75h-1.75zM299.7 253.2h1.75v1.75h-1.75zM328.0 257.5h1.75v1.75h-1.75zM294.5 241.7h1.75v1.75h-1.75zM304.1 241.3h1.75v1.75h-1.75zM293.9 256.4h1.75v1.75h-1.75zM280.8 239.6h1.75v1.75h-1.75zM303.5 243.9h1.75v1.75h-1.75zM285.6 257.7h1.75v1.75h-1.75zM303.0 245.7h1.75v1.75h-1.75zM281.9 243.7h1.75v1.75h-1.75zM296.2 268.5h1.75v1.75h-1.75zM291.7 244.3h1.75v1.75h-1.75zM312.6 244.9h1.75v1.75h-1.75zM288.5 233.5h1.75v1.75h-1.75zM310.9 252.7h1.75v1.75h-1.75zM302.9 242.1h1.75v1.75h-1.75zM316.5 243.0h1.75v1.75h-1.75zM290.4 240.1h1.75v1.75h-1.75zM309.0 258.9h1.75v1.75h-1.75zM308.5 242.4h1.75v1.75h-1.75zM305.3 251.8h1.75v1.75h-1.75zM303.3 253.1h1.75v1.75h-1.75zM315.5 241.1h1.75v1.75h-1.75zM306.6 237.2h1.75v1.75h-1.75zM288.6 264.7h1.75v1.75h-1.75zM303.4 237.6h1.75v1.75h-1.75zM308.0 263.6h1.75v1.75h-1.75zM301.1 242.9h1.75v1.75h-1.75zM292.6 254.0h1.75v1.75h-1.75zM283.4 241.1h1.75v1.75h-1.75zM276.2 234.1h1.75v1.75h-1.75zM286.4 237.1h1.75v1.75h-1.75zM302.2 249.8h1.75v1.75h-1.75zM275.6 260.6h1.75v1.75h-1.75zM330.9 258.4h1.75v1.75h-1.75zM294.9 252.4h1.75v1.75h-1.75zM285.3 243.9h1.75v1.75h-1.75zM310.0 242.7h1.75v1.75h-1.75zM310.9 255.3h1.75v1.75h-1.75zM301.6 242.1h1.75v1.75h-1.75zM285.7 250.2h1.75v1.75h-1.75zM297.0 250.9h1.75v1.75h-1.75zM311.8 247.0h1.75v1.75h-1.75zM306.5 243.0h1.75v1.75h-1.75zM268.9 233.5h1.75v1.75h-1.75zM306.8 252.6h1.75v1.75h-1.75zM319.5 246.5h1.75v1.75h-1.75zM286.3 251.7h1.75v1.75h-1.75zM270.0 224.9h1.75v1.75h-1.75zM285.3 238.8h1.75v1.75h-1.75zM298.9 244.3h1.75v1.75h-1.75zM293.2 251.6h1.75v1.75h-1.75zM293.2 249.4h1.75v1.75h-1.75zM253.9 235.4h1.75v1.75h-1.75zM278.8 250.0h1.75v1.75h-1.75zM285.6 243.1h1.75v1.75h-1.75zM294.4 252.2h1.75v1.75h-1.75zM310.8 254.4h1.75v1.75h-1.75zM284.4 236.0h1.75v1.75h-1.75zM310.3 255.8h1.75v1.75h-1.75zM328.5 257.3h1.75v1.75h-1.75zM308.8 255.5h1.75v1.75h-1.75zM282.0 234.4h1.75v1.75h-1.75zM313.3 256.7h1.75v1.75h-1.75zM289.3 246.9h1.75v1.75h-1.75zM291.9 244.8h1.75v1.75h-1.75zM274.1 243.4h1.75v1.75h-1.75zM281.5 238.7h1.75v1.75h-1.75zM282.5 241.2h1.75v1.75h-1.75zM313.6 248.8h1.75v1.75h-1.75zM299.7 250.8h1.75v1.75h-1.75zM299.0 248.4h1.75v1.75h-1.75zM290.0 250.8h1.75v1.75h-1.75zM289.1 249.8h1.75v1.75h-1.75zM270.3 252.0h1.75v1.75h-1.75zM289.9 234.3h1.75v1.75h-1.75zM313.5 243.6h1.75v1.75h-1.75zM289.2 257.7h1.75v1.75h-1.75zM344.7 257.0h1.75v1.75h-1.75zM302.6 241.5h1.75v1.75h-1.75zM290.0 245.9h1.75v1.75h-1.75zM312.6 237.9h1.75v1.75h-1.75zM294.6 254.3h1.75v1.75h-1.75zM308.8 248.0h1.75v1.75h-1.75zM288.1 259.7h1.75v1.75h-1.75zM314.9 241.5h1.75v1.75h-1.75zM300.8 252.0h1.75v1.75h-1.75zM298.2 245.2h1.75v1.75h-1.75zM308.2 241.7h1.75v1.75h-1.75zM288.1 245.2h1.75v1.75h-1.75zM266.6 242.9h1.75v1.75h-1.75zM283.8 248.3h1.75v1.75h-1.75zM317.6 231.7h1.75v1.75h-1.75zM316.3 239.2h1.75v1.75h-1.75zM276.7 245.3h1.75v1.75h-1.75zM302.2 237.6h1.75v1.75h-1.75zM303.1 252.0h1.75v1.75h-1.75zM276.6 258.1h1.75v1.75h-1.75zM271.4 245.6h1.75v1.75h-1.75zM319.1 257.3h1.75v1.75h-1.75zM300.6 245.4h1.75v1.75h-1.75zM290.4 242.5h1.75v1.75h-1.75zM302.2 253.5h1.75v1.75h-1.75zM272.3 247.1h1.75v1.75h-1.75zM300.0 249.0h1.75v1.75h-1.75zM293.2 263.7h1.75v1.75h-1.75zM290.1 241.6h1.75v1.75h-1.75zM309.7 243.1h1.75v1.75h-1.75zM294.1 245.7h1.75v1.75h-1.75zM294.8 257.0h1.75v1.75h-1.75zM282.2 246.1h1.75v1.75h-1.75zM283.3 250.4h1.75v1.75h-1.75zM292.5 251.2h1.75v1.75h-1.75zM329.7 233.6h1.75v1.75h-1.75zM266.9 242.8h1.75v1.75h-1.75zM279.0 248.5h1.75v1.75h-1.75zM277.5 235.2h1.75v1.75h-1.75zM302.3 259.0h1.75v1.75h-1.75zM284.2 232.7h1.75v1.75h-1.75zM306.8 244.9h1.75v1.75h-1.75zM264.1 238.6h1.75v1.75h-1.75zM278.7 241.2h1.75v1.75h-1.75zM302.9 259.2h1.75v1.75h-1.75zM260.3 235.6h1.75v1.75h-1.75zM296.9 244.2h1.75v1.75h-1.75zM311.5 250.6h1.75v1.75h-1.75zM302.8 254.9h1.75v1.75h-1.75zM303.7 249.9h1.75v1.75h-1.75zM281.4 234.1h1.75v1.75h-1.75zM277.1 252.9h1.75v1.75h-1.75zM307.2 247.1h1.75v1.75h-1.75zM297.7 241.6h1.75v1.75h-1.75zM317.5 260.9h1.75v1.75h-1.75zM299.2 251.5h1.75v1.75h-1.75zM295.7 245.2h1.75v1.75h-1.75zM293.8 238.0h1.75v1.75h-1.75zM313.9 249.2h1.75v1.75h-1.75zM307.5 254.4h1.75v1.75h-1.75zM287.1 245.8h1.75v1.75h-1.75zM301.9 261.4h1.75v1.75h-1.75zM282.0 240.9h1.75v1.75h-1.75zM315.7 253.1h1.75v1.75h-1.75zM290.6 248.2h1.75v1.75h-1.75zM313.9 251.1h1.75v1.75h-1.75zM314.7 250.5h1.75v1.75h-1.75zM305.5 257.0h1.75v1.75h-1.75zM272.6 227.5h1.75v1.75h-1.75zM286.7 253.2h1.75v1.75h-1.75zM298.5 247.4h1.75v1.75h-1.75zM298.2 247.9h1.75v1.75h-1.75zM299.6 260.2h1.75v1.75h-1.75zM308.7 252.5h1.75v1.75h-1.75zM276.8 256.7h1.75v1.75h-1.75zM277.4 253.6h1.75v1.75h-1.75zM275.3 256.4h1.75v1.75h-1.75zM309.7 251.7h1.75v1.75h-1.75zM315.7 240.7h1.75v1.75h-1.75zM287.7 240.8h1.75v1.75h-1.75zM293.4 248.4h1.75v1.75h-1.75zM312.0 248.9h1.75v1.75h-1.75zM289.4 262.4h1.75v1.75h-1.75zM303.8 247.6h1.75v1.75h-1.75zM313.1 259.9h1.75v1.75h-1.75zM299.6 241.4h1.75v1.75h-1.75zM305.5 245.2h1.75v1.75h-1.75zM309.8 250.9h1.75v1.75h-1.75zM288.7 248.4h1.75v1.75h-1.75zM251.0 242.2h1.75v1.75h-1.75zM292.0 234.7h1.75v1.75h-1.75zM273.1 245.8h1.75v1.75h-1.75zM270.1 239.9h1.75v1.75h-1.75zM303.6 243.7h1.75v1.75h-1.75zM279.8 234.9h1.75v1.75h-1.75zM280.8 263.6h1.75v1.75h-1.75zM295.9 247.3h1.75v1.75h-1.75zM280.9 253.3h1.75v1.75h-1.75zM209.9 238.7h1.75v1.75h-1.75zM239.1 247.8h1.75v1.75h-1.75z"/>
<text x="229.50" y="283.30" font-size="4.6" font-family='"Liberation Sans", sans-serif' fill="#4d4d4d" text-anchor="middle">1</text>
<text x="265.50" y="283.30" font-size="4.6" font-family='"Liberation Sans", sans-serif' fill="#4d4d4d" text-anchor="middle">2</text>
<text x="301.50" y="283.30" font-size="4.6" font-family='"Liberation Sans", sans-serif' fill="#4d4d4d" text-anchor="middle">3</text>
<text x="337.50" y="283.30" font-size="4.6" font-family='"Liberation Sans", sans-serif' fill="#4d4d4d" text-anchor="middle">4</text>
<text x="203.30" y="272.50" font-size="4.6" font-family='"Liberation Sans", sans-serif' fill="#4d4d4d" text-anchor="end">2.5</text>
<text x="203.30" y="255.65" font-size="4.6" font-family='"Liberation Sans", sans-serif' fill="#4d4d4d" text-anchor="end">3.0</text>
<text x="203.30" y="238.80" font-size="4.6" font-family='"Liberation Sans", sans-serif' fill="#4d4d4d" text-anchor="end">3.5</text>
<text x="194.80" y="254.60" font-size="4.7" font-family='"Liberation Sans", sans-serif' fill="#111" text-anchor="middle" font-weight="bold" textLength="62.00" lengthAdjust="spacingAndGlyphs" transform="rotate(-90 194.80 254.60)">Log10 expression of CALCOCO</text>
<text x="278.50" y="287.30" font-size="4.7" font-family='"Liberation Sans", sans-serif' fill="#111" text-anchor="middle" font-weight="bold" textLength="57.40" lengthAdjust="spacingAndGlyphs">Log10 expression of BIRC5</text>
<text x="240.00" y="264.00" font-size="6.0" font-family='"Liberation Serif", serif' fill="#222" text-anchor="end">Size=1091</text>
<text x="240.00" y="270.90" font-size="6.0" font-family='"Liberation Serif", serif' fill="#222" text-anchor="end">P value=0.00</text>
<text x="240.00" y="277.80" font-size="6.0" font-family='"Liberation Serif", serif' fill="#222" text-anchor="end">R= - 0.45</text>
<rect x="33.2" y="296.8" width="144.10" height="56.10" fill="none" stroke="#ebebeb" stroke-width="0.7"/>
<polygon points="39.8,315.8 45.6,316.5 51.5,317.2 57.3,317.8 63.1,318.5 69.0,319.1 74.8,319.8 80.6,320.3 86.5,320.9 92.3,321.4 98.1,321.8 104.0,322.2 109.8,322.6 115.7,323.0 121.5,323.3 127.3,323.7 133.2,324.1 139.0,324.4 144.8,324.8 150.7,325.2 156.5,325.5 162.3,325.9 168.2,326.2 174.0,326.6 174.0,331.8 168.2,331.1 162.3,330.4 156.5,329.7 150.7,329.1 144.8,328.4 139.0,327.7 133.2,327.0 127.3,326.3 121.5,325.7 115.7,325.0 109.8,324.3 104.0,323.7 98.1,323.0 92.3,322.4 86.5,321.9 80.6,321.4 74.8,320.9 69.0,320.5 63.1,320.1 57.3,319.7 51.5,319.3 45.6,319.0 39.8,318.6" fill="#dedcd4"/>
<line x1="39.8" y1="317.2" x2="174" y2="329.2" stroke="#3f6ae8" stroke-width="1.25"/>
<path fill="#000" d="M69.6 326.9h1.75v1.75h-1.75zM98.3 305.0h1.75v1.75h-1.75zM38.8 306.1h1.75v1.75h-1.75zM84.1 318.8h1.75v1.75h-1.75zM76.5 322.7h1.75v1.75h-1.75zM101.2 323.8h1.75v1.75h-1.75zM80.0 312.3h1.75v1.75h-1.75zM85.3 335.6h1.75v1.75h-1.75zM72.2 324.0h1.75v1.75h-1.75zM108.5 327.9h1.75v1.75h-1.75zM98.3 331.2h1.75v1.75h-1.75zM87.4 313.5h1.75v1.75h-1.75zM38.8 322.2h1.75v1.75h-1.75zM96.6 311.4h1.75v1.75h-1.75zM62.6 305.2h1.75v1.75h-1.75zM96.0 327.3h1.75v1.75h-1.75zM89.3 311.4h1.75v1.75h-1.75zM94.7 317.6h1.75v1.75h-1.75zM69.6 319.1h1.75v1.75h-1.75zM85.3 309.7h1.75v1.75h-1.75zM76.5 316.1h1.75v1.75h-1.75zM38.8 310.6h1.75v1.75h-1.75zM90.2 329.7h1.75v1.75h-1.75zM57.7 305.4h1.75v1.75h-1.75zM81.5 320.1h1.75v1.75h-1.75zM104.5 311.4h1.75v1.75h-1.75zM112.4 322.8h1.75v1.75h-1.75zM92.6 312.1h1.75v1.75h-1.75zM87.4 317.8h1.75v1.75h-1.75zM80.0 313.3h1.75v1.75h-1.75zM57.7 338.0h1.75v1.75h-1.75zM91.9 319.4h1.75v1.75h-1.75zM88.4 320.8h1.75v1.75h-1.75zM66.4 319.1h1.75v1.75h-1.75zM93.3 328.1h1.75v1.75h-1.75zM50.7 337.9h1.75v1.75h-1.75zM90.2 314.8h1.75v1.75h-1.75zM62.6 317.1h1.75v1.75h-1.75zM57.7 314.5h1.75v1.75h-1.75zM57.7 305.5h1.75v1.75h-1.75zM66.4 322.8h1.75v1.75h-1.75zM57.7 301.6h1.75v1.75h-1.75zM81.5 314.0h1.75v1.75h-1.75zM84.1 317.0h1.75v1.75h-1.75zM155.4 324.7h1.75v1.75h-1.75zM69.6 313.3h1.75v1.75h-1.75zM100.8 315.2h1.75v1.75h-1.75zM117.8 329.3h1.75v1.75h-1.75zM81.5 315.7h1.75v1.75h-1.75zM104.1 328.6h1.75v1.75h-1.75zM72.2 323.7h1.75v1.75h-1.75zM100.3 317.7h1.75v1.75h-1.75zM66.4 320.0h1.75v1.75h-1.75zM50.7 337.8h1.75v1.75h-1.75zM84.1 327.2h1.75v1.75h-1.75zM74.5 323.2h1.75v1.75h-1.75zM80.0 314.9h1.75v1.75h-1.75zM69.6 322.8h1.75v1.75h-1.75zM38.8 299.8h1.75v1.75h-1.75zM69.6 317.0h1.75v1.75h-1.75zM66.4 327.0h1.75v1.75h-1.75zM57.7 317.9h1.75v1.75h-1.75zM76.5 322.3h1.75v1.75h-1.75zM78.3 323.8h1.75v1.75h-1.75zM57.7 317.4h1.75v1.75h-1.75zM50.7 321.0h1.75v1.75h-1.75zM62.6 314.7h1.75v1.75h-1.75zM57.7 308.2h1.75v1.75h-1.75zM72.2 317.0h1.75v1.75h-1.75zM120.1 327.7h1.75v1.75h-1.75zM69.6 308.8h1.75v1.75h-1.75zM38.8 317.9h1.75v1.75h-1.75zM115.4 319.1h1.75v1.75h-1.75zM76.5 335.6h1.75v1.75h-1.75zM66.4 307.2h1.75v1.75h-1.75zM89.3 324.6h1.75v1.75h-1.75zM66.4 309.6h1.75v1.75h-1.75zM119.9 331.3h1.75v1.75h-1.75zM76.5 320.2h1.75v1.75h-1.75zM76.5 308.3h1.75v1.75h-1.75zM66.4 306.5h1.75v1.75h-1.75zM87.4 317.4h1.75v1.75h-1.75zM72.2 311.9h1.75v1.75h-1.75zM66.4 336.9h1.75v1.75h-1.75zM74.5 323.8h1.75v1.75h-1.75zM57.7 318.7h1.75v1.75h-1.75zM97.7 335.6h1.75v1.75h-1.75zM110.7 325.9h1.75v1.75h-1.75zM50.7 313.5h1.75v1.75h-1.75zM66.4 309.3h1.75v1.75h-1.75zM89.3 321.7h1.75v1.75h-1.75zM38.8 297.2h1.75v1.75h-1.75zM90.2 320.9h1.75v1.75h-1.75zM80.0 314.2h1.75v1.75h-1.75zM85.3 314.8h1.75v1.75h-1.75zM106.6 337.1h1.75v1.75h-1.75zM81.5 316.5h1.75v1.75h-1.75zM74.5 323.0h1.75v1.75h-1.75zM125.3 332.8h1.75v1.75h-1.75zM102.5 330.4h1.75v1.75h-1.75zM38.8 320.9h1.75v1.75h-1.75zM126.2 320.5h1.75v1.75h-1.75zM62.6 323.9h1.75v1.75h-1.75zM74.5 331.2h1.75v1.75h-1.75zM50.7 319.5h1.75v1.75h-1.75zM117.3 313.1h1.75v1.75h-1.75zM78.3 326.6h1.75v1.75h-1.75zM93.3 316.2h1.75v1.75h-1.75zM105.2 312.9h1.75v1.75h-1.75zM81.5 320.6h1.75v1.75h-1.75zM38.8 325.9h1.75v1.75h-1.75zM121.8 330.2h1.75v1.75h-1.75zM72.2 308.0h1.75v1.75h-1.75zM38.8 306.2h1.75v1.75h-1.75zM72.2 319.3h1.75v1.75h-1.75zM72.2 317.0h1.75v1.75h-1.75zM69.6 324.4h1.75v1.75h-1.75zM78.3 320.7h1.75v1.75h-1.75zM93.3 309.3h1.75v1.75h-1.75zM128.7 319.6h1.75v1.75h-1.75zM105.2 318.1h1.75v1.75h-1.75zM85.3 315.0h1.75v1.75h-1.75zM138.7 328.8h1.75v1.75h-1.75zM84.1 317.8h1.75v1.75h-1.75zM143.1 333.7h1.75v1.75h-1.75zM84.1 337.5h1.75v1.75h-1.75zM38.8 317.4h1.75v1.75h-1.75zM118.5 326.9h1.75v1.75h-1.75zM78.3 324.4h1.75v1.75h-1.75zM74.5 331.0h1.75v1.75h-1.75zM80.0 322.6h1.75v1.75h-1.75zM85.3 322.8h1.75v1.75h-1.75zM98.3 328.5h1.75v1.75h-1.75zM80.0 326.0h1.75v1.75h-1.75zM50.7 333.2h1.75v1.75h-1.75zM92.6 326.1h1.75v1.75h-1.75zM95.4 316.5h1.75v1.75h-1.75zM74.5 328.2h1.75v1.75h-1.75zM91.1 316.0h1.75v1.75h-1.75zM98.8 331.9h1.75v1.75h-1.75zM38.8 327.6h1.75v1.75h-1.75zM62.6 333.7h1.75v1.75h-1.75zM105.2 316.1h1.75v1.75h-1.75zM38.8 329.5h1.75v1.75h-1.75zM111.7 321.3h1.75v1.75h-1.75zM66.4 314.6h1.75v1.75h-1.75zM94.0 315.2h1.75v1.75h-1.75zM69.6 320.5h1.75v1.75h-1.75zM66.4 325.0h1.75v1.75h-1.75zM72.2 299.5h1.75v1.75h-1.75zM62.6 312.5h1.75v1.75h-1.75zM57.7 311.5h1.75v1.75h-1.75zM62.6 327.0h1.75v1.75h-1.75zM69.6 329.2h1.75v1.75h-1.75zM72.2 314.7h1.75v1.75h-1.75zM66.4 324.5h1.75v1.75h-1.75zM74.5 329.0h1.75v1.75h-1.75zM97.2 315.1h1.75v1.75h-1.75zM96.6 326.1h1.75v1.75h-1.75zM85.3 317.6h1.75v1.75h-1.75zM86.4 328.7h1.75v1.75h-1.75zM50.7 318.2h1.75v1.75h-1.75zM69.6 326.5h1.75v1.75h-1.75zM101.2 325.2h1.75v1.75h-1.75zM91.9 327.3h1.75v1.75h-1.75zM120.2 322.0h1.75v1.75h-1.75zM136.7 327.8h1.75v1.75h-1.75zM129.2 322.8h1.75v1.75h-1.75zM66.4 323.8h1.75v1.75h-1.75zM66.4 308.8h1.75v1.75h-1.75zM72.2 325.5h1.75v1.75h-1.75zM116.0 326.0h1.75v1.75h-1.75zM90.2 313.5h1.75v1.75h-1.75zM74.5 318.8h1.75v1.75h-1.75zM50.7 326.5h1.75v1.75h-1.75zM80.0 324.3h1.75v1.75h-1.75zM74.5 326.2h1.75v1.75h-1.75zM114.4 315.8h1.75v1.75h-1.75zM146.3 326.1h1.75v1.75h-1.75zM38.8 317.3h1.75v1.75h-1.75zM38.8 338.6h1.75v1.75h-1.75zM103.7 316.1h1.75v1.75h-1.75zM100.3 315.6h1.75v1.75h-1.75zM66.4 307.6h1.75v1.75h-1.75zM91.1 329.4h1.75v1.75h-1.75zM91.9 312.6h1.75v1.75h-1.75zM50.7 325.0h1.75v1.75h-1.75zM101.2 319.4h1.75v1.75h-1.75zM69.6 318.1h1.75v1.75h-1.75zM88.4 314.9h1.75v1.75h-1.75zM116.8 333.7h1.75v1.75h-1.75zM57.7 317.7h1.75v1.75h-1.75zM104.9 317.1h1.75v1.75h-1.75zM102.5 308.6h1.75v1.75h-1.75zM124.0 325.6h1.75v1.75h-1.75zM62.6 313.9h1.75v1.75h-1.75zM92.6 311.0h1.75v1.75h-1.75zM38.8 321.7h1.75v1.75h-1.75zM81.5 322.3h1.75v1.75h-1.75zM118.7 323.4h1.75v1.75h-1.75zM132.3 314.9h1.75v1.75h-1.75zM100.3 324.1h1.75v1.75h-1.75zM57.7 315.2h1.75v1.75h-1.75zM38.8 321.5h1.75v1.75h-1.75zM93.3 319.8h1.75v1.75h-1.75zM66.4 302.3h1.75v1.75h-1.75zM94.0 316.0h1.75v1.75h-1.75zM84.1 316.0h1.75v1.75h-1.75zM84.1 323.1h1.75v1.75h-1.75zM125.7 328.5h1.75v1.75h-1.75zM38.8 303.1h1.75v1.75h-1.75zM78.3 310.6h1.75v1.75h-1.75zM104.5 327.3h1.75v1.75h-1.75zM123.8 325.6h1.75v1.75h-1.75zM57.7 322.3h1.75v1.75h-1.75zM50.7 320.8h1.75v1.75h-1.75zM69.6 311.4h1.75v1.75h-1.75zM38.8 331.1h1.75v1.75h-1.75zM50.7 304.1h1.75v1.75h-1.75zM119.3 312.2h1.75v1.75h-1.75zM57.7 332.2h1.75v1.75h-1.75zM50.7 315.7h1.75v1.75h-1.75zM69.6 320.7h1.75v1.75h-1.75zM85.3 327.5h1.75v1.75h-1.75zM57.7 297.0h1.75v1.75h-1.75zM81.5 309.0h1.75v1.75h-1.75zM104.9 325.8h1.75v1.75h-1.75zM100.3 325.0h1.75v1.75h-1.75zM74.5 317.5h1.75v1.75h-1.75zM112.9 313.2h1.75v1.75h-1.75zM123.4 315.5h1.75v1.75h-1.75zM95.4 319.1h1.75v1.75h-1.75zM38.8 330.9h1.75v1.75h-1.75zM105.9 333.8h1.75v1.75h-1.75zM72.2 319.4h1.75v1.75h-1.75zM106.3 317.4h1.75v1.75h-1.75zM66.4 310.0h1.75v1.75h-1.75zM62.6 302.9h1.75v1.75h-1.75zM62.6 318.0h1.75v1.75h-1.75zM66.4 319.1h1.75v1.75h-1.75zM125.1 314.9h1.75v1.75h-1.75zM66.4 319.2h1.75v1.75h-1.75zM66.4 310.3h1.75v1.75h-1.75zM84.1 336.9h1.75v1.75h-1.75zM50.7 301.7h1.75v1.75h-1.75zM66.4 315.1h1.75v1.75h-1.75zM50.7 312.0h1.75v1.75h-1.75zM104.5 314.9h1.75v1.75h-1.75zM38.8 313.9h1.75v1.75h-1.75zM76.5 330.4h1.75v1.75h-1.75zM85.3 323.1h1.75v1.75h-1.75zM112.4 310.0h1.75v1.75h-1.75zM101.7 322.4h1.75v1.75h-1.75zM87.4 320.2h1.75v1.75h-1.75zM57.7 322.7h1.75v1.75h-1.75zM143.2 326.3h1.75v1.75h-1.75zM117.1 327.3h1.75v1.75h-1.75zM92.6 328.6h1.75v1.75h-1.75zM38.8 315.6h1.75v1.75h-1.75zM66.4 324.4h1.75v1.75h-1.75zM50.7 330.1h1.75v1.75h-1.75zM50.7 303.1h1.75v1.75h-1.75zM57.7 319.6h1.75v1.75h-1.75zM38.8 310.8h1.75v1.75h-1.75zM62.6 300.7h1.75v1.75h-1.75zM69.6 322.9h1.75v1.75h-1.75zM38.8 309.5h1.75v1.75h-1.75zM69.6 318.5h1.75v1.75h-1.75zM118.3 328.1h1.75v1.75h-1.75zM69.6 316.1h1.75v1.75h-1.75zM62.6 323.1h1.75v1.75h-1.75zM62.6 324.9h1.75v1.75h-1.75zM134.3 324.5h1.75v1.75h-1.75zM98.3 319.2h1.75v1.75h-1.75zM98.8 316.7h1.75v1.75h-1.75zM91.9 321.4h1.75v1.75h-1.75zM78.3 312.2h1.75v1.75h-1.75zM128.5 326.8h1.75v1.75h-1.75zM72.2 322.1h1.75v1.75h-1.75zM38.8 305.2h1.75v1.75h-1.75zM91.9 326.7h1.75v1.75h-1.75zM102.1 317.6h1.75v1.75h-1.75zM85.3 314.6h1.75v1.75h-1.75zM94.7 324.6h1.75v1.75h-1.75zM91.9 325.0h1.75v1.75h-1.75zM89.3 319.8h1.75v1.75h-1.75zM134.4 320.6h1.75v1.75h-1.75zM119.8 326.5h1.75v1.75h-1.75zM96.6 323.8h1.75v1.75h-1.75zM86.4 331.2h1.75v1.75h-1.75zM69.6 316.2h1.75v1.75h-1.75zM50.7 307.8h1.75v1.75h-1.75zM50.7 306.4h1.75v1.75h-1.75zM50.7 317.8h1.75v1.75h-1.75zM74.5 314.8h1.75v1.75h-1.75zM74.5 307.3h1.75v1.75h-1.75zM98.8 315.5h1.75v1.75h-1.75zM84.1 318.5h1.75v1.75h-1.75zM38.8 314.3h1.75v1.75h-1.75zM38.8 308.0h1.75v1.75h-1.75zM62.6 313.9h1.75v1.75h-1.75zM146.1 326.7h1.75v1.75h-1.75zM69.6 309.6h1.75v1.75h-1.75zM95.4 320.7h1.75v1.75h-1.75zM87.4 314.7h1.75v1.75h-1.75zM66.4 321.3h1.75v1.75h-1.75zM99.3 312.1h1.75v1.75h-1.75zM38.8 312.2h1.75v1.75h-1.75zM50.7 322.2h1.75v1.75h-1.75zM38.8 323.9h1.75v1.75h-1.75zM90.2 307.3h1.75v1.75h-1.75zM135.1 320.4h1.75v1.75h-1.75zM69.6 309.2h1.75v1.75h-1.75zM50.7 320.7h1.75v1.75h-1.75zM50.7 317.7h1.75v1.75h-1.75zM80.0 321.7h1.75v1.75h-1.75zM74.5 315.2h1.75v1.75h-1.75zM89.3 321.1h1.75v1.75h-1.75zM62.6 314.0h1.75v1.75h-1.75zM62.6 327.1h1.75v1.75h-1.75zM109.6 305.9h1.75v1.75h-1.75zM113.1 329.9h1.75v1.75h-1.75zM57.7 312.6h1.75v1.75h-1.75zM113.3 312.2h1.75v1.75h-1.75zM164.7 326.2h1.75v1.75h-1.75zM57.7 304.5h1.75v1.75h-1.75zM102.5 317.8h1.75v1.75h-1.75zM76.5 326.7h1.75v1.75h-1.75zM92.6 326.5h1.75v1.75h-1.75zM88.4 327.9h1.75v1.75h-1.75zM98.3 314.2h1.75v1.75h-1.75zM66.4 319.1h1.75v1.75h-1.75zM86.4 319.7h1.75v1.75h-1.75zM66.4 315.9h1.75v1.75h-1.75zM89.3 320.3h1.75v1.75h-1.75zM82.8 319.4h1.75v1.75h-1.75zM62.6 324.6h1.75v1.75h-1.75zM78.3 326.0h1.75v1.75h-1.75zM66.4 313.6h1.75v1.75h-1.75zM89.3 317.7h1.75v1.75h-1.75zM86.4 319.5h1.75v1.75h-1.75zM88.4 315.0h1.75v1.75h-1.75zM38.8 307.7h1.75v1.75h-1.75zM74.5 315.1h1.75v1.75h-1.75zM62.6 304.1h1.75v1.75h-1.75zM66.4 336.0h1.75v1.75h-1.75zM104.5 318.0h1.75v1.75h-1.75zM100.3 336.9h1.75v1.75h-1.75zM82.8 313.3h1.75v1.75h-1.75zM119.0 317.1h1.75v1.75h-1.75zM114.2 323.0h1.75v1.75h-1.75zM90.2 320.1h1.75v1.75h-1.75zM107.3 316.3h1.75v1.75h-1.75zM128.4 326.1h1.75v1.75h-1.75zM57.7 318.0h1.75v1.75h-1.75zM50.7 306.2h1.75v1.75h-1.75zM57.7 340.9h1.75v1.75h-1.75zM72.2 315.4h1.75v1.75h-1.75zM80.0 315.8h1.75v1.75h-1.75zM114.6 316.5h1.75v1.75h-1.75zM66.4 313.3h1.75v1.75h-1.75zM121.0 334.2h1.75v1.75h-1.75zM117.8 313.5h1.75v1.75h-1.75zM117.8 329.9h1.75v1.75h-1.75zM84.1 337.8h1.75v1.75h-1.75zM62.6 315.3h1.75v1.75h-1.75zM116.2 322.1h1.75v1.75h-1.75zM95.4 318.4h1.75v1.75h-1.75zM76.5 314.2h1.75v1.75h-1.75zM106.9 310.5h1.75v1.75h-1.75zM92.6 313.5h1.75v1.75h-1.75zM62.6 331.0h1.75v1.75h-1.75zM96.0 317.3h1.75v1.75h-1.75zM88.4 316.8h1.75v1.75h-1.75zM78.3 320.0h1.75v1.75h-1.75zM94.0 320.1h1.75v1.75h-1.75zM62.6 318.7h1.75v1.75h-1.75zM84.1 314.3h1.75v1.75h-1.75zM69.6 325.6h1.75v1.75h-1.75zM102.1 338.3h1.75v1.75h-1.75zM86.4 320.8h1.75v1.75h-1.75zM76.5 325.6h1.75v1.75h-1.75zM105.6 323.9h1.75v1.75h-1.75zM66.4 311.5h1.75v1.75h-1.75zM62.6 328.7h1.75v1.75h-1.75zM111.2 321.6h1.75v1.75h-1.75zM57.7 329.1h1.75v1.75h-1.75zM119.6 330.3h1.75v1.75h-1.75zM108.8 326.8h1.75v1.75h-1.75zM74.5 326.1h1.75v1.75h-1.75zM66.4 314.2h1.75v1.75h-1.75zM137.1 332.3h1.75v1.75h-1.75zM85.3 321.0h1.75v1.75h-1.75zM74.5 320.3h1.75v1.75h-1.75zM69.6 321.4h1.75v1.75h-1.75z"/>
<text x="39.70" y="357.10" font-size="4.6" font-family='"Liberation Sans", sans-serif' fill="#4d4d4d" text-anchor="middle">0</text>
<text x="79.20" y="357.10" font-size="4.6" font-family='"Liberation Sans", sans-serif' fill="#4d4d4d" text-anchor="middle">1</text>
<text x="118.70" y="357.10" font-size="4.6" font-family='"Liberation Sans", sans-serif' fill="#4d4d4d" text-anchor="middle">2</text>
<text x="158.20" y="357.10" font-size="4.6" font-family='"Liberation Sans", sans-serif' fill="#4d4d4d" text-anchor="middle">3</text>
<text x="32.00" y="335.30" font-size="4.6" font-family='"Liberation Sans", sans-serif' fill="#4d4d4d" text-anchor="end">2.0</text>
<text x="32.00" y="315.00" font-size="4.6" font-family='"Liberation Sans", sans-serif' fill="#4d4d4d" text-anchor="end">2.5</text>
<text x="23.70" y="325.85" font-size="4.7" font-family='"Liberation Sans", sans-serif' fill="#111" text-anchor="middle" font-weight="bold" textLength="58.70" lengthAdjust="spacingAndGlyphs" transform="rotate(-90 23.70 325.85)">Log10 expression of KLHDC</text>
<text x="106.00" y="359.80" font-size="4.7" font-family='"Liberation Sans", sans-serif' fill="#111" text-anchor="middle" font-weight="bold" textLength="57.40" lengthAdjust="spacingAndGlyphs">Log10 expression of BIRC5</text>
<text x="172.90" y="308.00" font-size="6.0" font-family='"Liberation Serif", serif' fill="#222" text-anchor="end">Size=403</text>
<text x="172.90" y="314.90" font-size="6.0" font-family='"Liberation Serif", serif' fill="#222" text-anchor="end">P value=0.00</text>
<text x="172.90" y="321.80" font-size="6.0" font-family='"Liberation Serif", serif' fill="#222" text-anchor="end">R= - 0.34</text>
<rect x="204.3" y="294.0" width="147.40" height="56.00" fill="none" stroke="#ebebeb" stroke-width="0.7"/>
<polygon points="211.1,295.7 216.9,297.4 222.8,299.2 228.6,300.9 234.4,302.6 240.3,304.3 246.1,306.1 251.9,307.8 257.7,309.5 263.6,311.2 269.4,313.0 275.2,314.7 281.1,316.4 286.9,318.1 292.7,319.7 298.6,321.3 304.4,322.9 310.2,324.4 316.0,325.9 321.9,327.3 327.7,328.7 333.5,330.1 339.4,331.6 345.2,333.0 345.2,335.6 339.4,333.9 333.5,332.2 327.7,330.5 321.9,328.7 316.0,327.1 310.2,325.4 304.4,323.7 298.6,322.1 292.7,320.6 286.9,319.1 281.1,317.7 275.2,316.3 269.4,314.8 263.6,313.4 257.7,312.0 251.9,310.6 246.1,309.2 240.3,307.8 234.4,306.3 228.6,304.9 222.8,303.5 216.9,302.1 211.1,300.7" fill="#dedcd4"/>
<line x1="211.1" y1="298.2" x2="345.2" y2="334.3" stroke="#3f6ae8" stroke-width="1.25"/>
<path fill="#000" d="M286.0 309.3h1.75v1.75h-1.75zM277.3 310.9h1.75v1.75h-1.75zM296.6 303.5h1.75v1.75h-1.75zM319.8 326.4h1.75v1.75h-1.75zM337.4 334.4h1.75v1.75h-1.75zM290.1 315.0h1.75v1.75h-1.75zM295.5 329.8h1.75v1.75h-1.75zM300.9 316.6h1.75v1.75h-1.75zM273.4 317.2h1.75v1.75h-1.75zM304.8 326.1h1.75v1.75h-1.75zM314.3 325.2h1.75v1.75h-1.75zM293.9 327.3h1.75v1.75h-1.75zM270.9 317.1h1.75v1.75h-1.75zM259.9 294.5h1.75v1.75h-1.75zM303.1 329.8h1.75v1.75h-1.75zM290.8 318.1h1.75v1.75h-1.75zM293.9 326.0h1.75v1.75h-1.75zM304.3 315.3h1.75v1.75h-1.75zM296.1 308.9h1.75v1.75h-1.75zM291.0 331.4h1.75v1.75h-1.75zM291.0 316.6h1.75v1.75h-1.75zM270.7 311.7h1.75v1.75h-1.75zM326.2 319.0h1.75v1.75h-1.75zM313.4 318.3h1.75v1.75h-1.75zM289.4 315.6h1.75v1.75h-1.75zM300.8 316.8h1.75v1.75h-1.75zM284.3 320.9h1.75v1.75h-1.75zM304.7 310.7h1.75v1.75h-1.75zM295.7 315.7h1.75v1.75h-1.75zM284.5 328.1h1.75v1.75h-1.75zM287.6 319.2h1.75v1.75h-1.75zM310.6 324.5h1.75v1.75h-1.75zM295.9 327.5h1.75v1.75h-1.75zM303.0 326.0h1.75v1.75h-1.75zM285.1 322.7h1.75v1.75h-1.75zM332.4 324.0h1.75v1.75h-1.75zM301.3 310.6h1.75v1.75h-1.75zM278.9 313.6h1.75v1.75h-1.75zM314.3 316.0h1.75v1.75h-1.75zM280.8 322.7h1.75v1.75h-1.75zM312.2 323.8h1.75v1.75h-1.75zM310.1 326.1h1.75v1.75h-1.75zM322.0 322.2h1.75v1.75h-1.75zM292.8 323.7h1.75v1.75h-1.75zM275.7 315.4h1.75v1.75h-1.75zM309.7 325.1h1.75v1.75h-1.75zM307.7 326.1h1.75v1.75h-1.75zM300.4 328.2h1.75v1.75h-1.75zM297.8 316.2h1.75v1.75h-1.75zM319.9 333.0h1.75v1.75h-1.75zM311.3 323.3h1.75v1.75h-1.75zM285.0 326.1h1.75v1.75h-1.75zM301.7 331.3h1.75v1.75h-1.75zM280.1 322.9h1.75v1.75h-1.75zM292.9 325.4h1.75v1.75h-1.75zM272.4 308.3h1.75v1.75h-1.75zM284.3 322.6h1.75v1.75h-1.75zM280.9 319.9h1.75v1.75h-1.75zM271.2 317.8h1.75v1.75h-1.75zM295.0 317.9h1.75v1.75h-1.75zM299.2 315.5h1.75v1.75h-1.75zM288.1 322.3h1.75v1.75h-1.75zM275.3 316.8h1.75v1.75h-1.75zM316.7 318.6h1.75v1.75h-1.75zM293.8 311.5h1.75v1.75h-1.75zM289.6 317.8h1.75v1.75h-1.75zM288.3 318.8h1.75v1.75h-1.75zM309.0 338.4h1.75v1.75h-1.75zM268.9 320.0h1.75v1.75h-1.75zM295.9 312.8h1.75v1.75h-1.75zM277.6 318.1h1.75v1.75h-1.75zM309.3 335.9h1.75v1.75h-1.75zM283.3 318.7h1.75v1.75h-1.75zM270.8 320.1h1.75v1.75h-1.75zM302.5 318.2h1.75v1.75h-1.75zM301.1 322.2h1.75v1.75h-1.75zM306.9 322.0h1.75v1.75h-1.75zM303.9 312.6h1.75v1.75h-1.75zM321.1 329.3h1.75v1.75h-1.75zM274.5 323.5h1.75v1.75h-1.75zM301.5 321.2h1.75v1.75h-1.75zM305.3 320.8h1.75v1.75h-1.75zM300.4 328.6h1.75v1.75h-1.75zM329.9 322.5h1.75v1.75h-1.75zM308.8 333.8h1.75v1.75h-1.75zM301.4 327.7h1.75v1.75h-1.75zM313.2 321.8h1.75v1.75h-1.75zM288.3 309.7h1.75v1.75h-1.75zM298.8 322.7h1.75v1.75h-1.75zM287.9 312.5h1.75v1.75h-1.75zM326.9 330.5h1.75v1.75h-1.75zM285.3 323.2h1.75v1.75h-1.75zM284.4 319.5h1.75v1.75h-1.75zM301.1 317.7h1.75v1.75h-1.75zM296.5 316.9h1.75v1.75h-1.75zM280.1 306.2h1.75v1.75h-1.75zM296.5 315.8h1.75v1.75h-1.75zM312.0 316.2h1.75v1.75h-1.75zM296.1 311.1h1.75v1.75h-1.75zM277.8 321.6h1.75v1.75h-1.75zM292.1 325.9h1.75v1.75h-1.75zM279.9 317.1h1.75v1.75h-1.75zM272.5 301.3h1.75v1.75h-1.75zM306.6 314.9h1.75v1.75h-1.75zM306.8 330.0h1.75v1.75h-1.75zM313.2 327.2h1.75v1.75h-1.75zM284.1 323.0h1.75v1.75h-1.75zM292.1 322.8h1.75v1.75h-1.75zM280.1 301.1h1.75v1.75h-1.75zM307.3 323.4h1.75v1.75h-1.75zM282.5 323.5h1.75v1.75h-1.75zM281.6 321.9h1.75v1.75h-1.75zM279.2 326.3h1.75v1.75h-1.75zM302.7 316.6h1.75v1.75h-1.75zM299.4 321.3h1.75v1.75h-1.75zM296.9 306.4h1.75v1.75h-1.75zM312.3 313.6h1.75v1.75h-1.75zM296.8 326.2h1.75v1.75h-1.75zM285.5 325.5h1.75v1.75h-1.75zM287.0 311.4h1.75v1.75h-1.75zM313.0 326.6h1.75v1.75h-1.75zM296.6 323.3h1.75v1.75h-1.75zM299.8 322.5h1.75v1.75h-1.75zM274.9 319.5h1.75v1.75h-1.75zM286.0 328.3h1.75v1.75h-1.75zM283.9 320.8h1.75v1.75h-1.75zM306.0 337.6h1.75v1.75h-1.75zM289.6 319.5h1.75v1.75h-1.75zM302.1 324.0h1.75v1.75h-1.75zM285.7 320.2h1.75v1.75h-1.75zM292.2 316.4h1.75v1.75h-1.75zM300.7 330.0h1.75v1.75h-1.75zM279.5 309.3h1.75v1.75h-1.75zM282.9 312.2h1.75v1.75h-1.75zM310.6 318.8h1.75v1.75h-1.75zM288.5 322.6h1.75v1.75h-1.75zM315.3 312.4h1.75v1.75h-1.75zM305.2 320.5h1.75v1.75h-1.75zM294.0 329.3h1.75v1.75h-1.75zM305.7 318.0h1.75v1.75h-1.75zM297.3 323.2h1.75v1.75h-1.75zM276.9 316.8h1.75v1.75h-1.75zM289.0 319.2h1.75v1.75h-1.75zM290.9 328.4h1.75v1.75h-1.75zM306.8 328.2h1.75v1.75h-1.75zM290.3 331.5h1.75v1.75h-1.75zM262.2 316.7h1.75v1.75h-1.75zM298.2 318.4h1.75v1.75h-1.75zM292.1 313.9h1.75v1.75h-1.75zM302.9 319.5h1.75v1.75h-1.75zM298.9 316.4h1.75v1.75h-1.75zM277.9 316.3h1.75v1.75h-1.75zM274.7 316.5h1.75v1.75h-1.75zM286.2 322.9h1.75v1.75h-1.75zM282.2 311.9h1.75v1.75h-1.75zM293.0 319.9h1.75v1.75h-1.75zM287.2 315.5h1.75v1.75h-1.75zM292.5 318.0h1.75v1.75h-1.75zM302.4 311.5h1.75v1.75h-1.75zM291.2 324.3h1.75v1.75h-1.75zM288.5 320.3h1.75v1.75h-1.75zM302.6 329.1h1.75v1.75h-1.75zM308.1 327.6h1.75v1.75h-1.75zM303.1 318.3h1.75v1.75h-1.75zM274.3 315.9h1.75v1.75h-1.75zM297.2 334.8h1.75v1.75h-1.75zM292.0 325.1h1.75v1.75h-1.75zM319.2 324.6h1.75v1.75h-1.75zM261.5 311.0h1.75v1.75h-1.75zM294.3 323.0h1.75v1.75h-1.75zM296.3 314.4h1.75v1.75h-1.75zM301.4 323.0h1.75v1.75h-1.75zM290.4 319.0h1.75v1.75h-1.75zM290.0 314.6h1.75v1.75h-1.75zM296.6 316.9h1.75v1.75h-1.75zM275.0 325.0h1.75v1.75h-1.75zM296.8 322.6h1.75v1.75h-1.75zM256.2 295.9h1.75v1.75h-1.75zM283.7 316.0h1.75v1.75h-1.75zM315.9 313.2h1.75v1.75h-1.75zM300.8 324.4h1.75v1.75h-1.75zM300.9 317.2h1.75v1.75h-1.75zM310.9 324.7h1.75v1.75h-1.75zM301.3 323.0h1.75v1.75h-1.75zM300.1 320.5h1.75v1.75h-1.75zM285.2 311.2h1.75v1.75h-1.75zM286.6 321.8h1.75v1.75h-1.75zM330.2 330.8h1.75v1.75h-1.75zM285.5 321.2h1.75v1.75h-1.75zM308.8 325.8h1.75v1.75h-1.75zM301.4 322.4h1.75v1.75h-1.75zM317.7 327.6h1.75v1.75h-1.75zM286.0 317.6h1.75v1.75h-1.75zM310.8 317.1h1.75v1.75h-1.75zM282.4 326.7h1.75v1.75h-1.75zM291.1 332.3h1.75v1.75h-1.75zM319.7 317.1h1.75v1.75h-1.75zM318.3 315.0h1.75v1.75h-1.75zM298.9 328.9h1.75v1.75h-1.75zM315.7 328.6h1.75v1.75h-1.75zM303.5 317.2h1.75v1.75h-1.75zM295.0 321.8h1.75v1.75h-1.75zM309.9 327.4h1.75v1.75h-1.75zM279.2 321.6h1.75v1.75h-1.75zM279.2 326.6h1.75v1.75h-1.75zM258.7 302.9h1.75v1.75h-1.75zM299.5 322.1h1.75v1.75h-1.75zM284.8 328.2h1.75v1.75h-1.75zM286.3 312.4h1.75v1.75h-1.75zM296.5 314.7h1.75v1.75h-1.75zM295.6 319.5h1.75v1.75h-1.75zM304.3 320.4h1.75v1.75h-1.75zM296.0 336.1h1.75v1.75h-1.75zM312.8 321.9h1.75v1.75h-1.75zM272.3 315.7h1.75v1.75h-1.75zM308.9 326.9h1.75v1.75h-1.75zM310.1 329.2h1.75v1.75h-1.75zM291.2 318.0h1.75v1.75h-1.75zM316.4 308.9h1.75v1.75h-1.75zM293.1 321.1h1.75v1.75h-1.75zM326.3 328.3h1.75v1.75h-1.75zM330.6 330.8h1.75v1.75h-1.75zM302.3 322.5h1.75v1.75h-1.75zM297.0 310.3h1.75v1.75h-1.75zM303.8 316.8h1.75v1.75h-1.75zM300.2 308.7h1.75v1.75h-1.75zM296.8 309.7h1.75v1.75h-1.75zM301.2 331.4h1.75v1.75h-1.75zM314.2 317.9h1.75v1.75h-1.75zM294.0 319.7h1.75v1.75h-1.75zM285.0 326.3h1.75v1.75h-1.75zM324.4 335.7h1.75v1.75h-1.75zM299.4 322.1h1.75v1.75h-1.75zM305.2 314.5h1.75v1.75h-1.75zM295.0 314.4h1.75v1.75h-1.75zM288.4 316.5h1.75v1.75h-1.75zM309.9 328.5h1.75v1.75h-1.75zM313.2 325.2h1.75v1.75h-1.75zM290.4 316.3h1.75v1.75h-1.75zM280.8 309.4h1.75v1.75h-1.75zM298.7 323.1h1.75v1.75h-1.75zM301.3 332.7h1.75v1.75h-1.75zM290.4 324.1h1.75v1.75h-1.75zM309.5 320.4h1.75v1.75h-1.75zM299.8 321.4h1.75v1.75h-1.75zM284.0 312.6h1.75v1.75h-1.75zM294.5 315.7h1.75v1.75h-1.75zM297.7 325.2h1.75v1.75h-1.75zM298.3 318.2h1.75v1.75h-1.75zM289.4 311.8h1.75v1.75h-1.75zM305.4 327.8h1.75v1.75h-1.75zM283.4 321.2h1.75v1.75h-1.75zM302.6 315.6h1.75v1.75h-1.75zM294.9 322.3h1.75v1.75h-1.75zM283.1 316.0h1.75v1.75h-1.75zM286.3 318.5h1.75v1.75h-1.75zM274.8 314.7h1.75v1.75h-1.75zM274.3 315.1h1.75v1.75h-1.75zM257.7 296.7h1.75v1.75h-1.75zM298.8 319.2h1.75v1.75h-1.75zM292.4 318.1h1.75v1.75h-1.75zM279.0 312.8h1.75v1.75h-1.75zM286.2 319.1h1.75v1.75h-1.75zM279.9 320.9h1.75v1.75h-1.75zM315.8 338.1h1.75v1.75h-1.75zM283.3 305.1h1.75v1.75h-1.75zM296.0 323.5h1.75v1.75h-1.75zM300.5 326.8h1.75v1.75h-1.75zM303.1 317.1h1.75v1.75h-1.75zM309.9 318.6h1.75v1.75h-1.75zM291.6 314.2h1.75v1.75h-1.75zM272.8 309.0h1.75v1.75h-1.75zM302.4 327.7h1.75v1.75h-1.75zM303.3 308.8h1.75v1.75h-1.75zM271.2 305.3h1.75v1.75h-1.75zM293.5 320.1h1.75v1.75h-1.75zM299.4 322.3h1.75v1.75h-1.75zM289.8 332.4h1.75v1.75h-1.75zM294.6 324.8h1.75v1.75h-1.75zM276.1 308.7h1.75v1.75h-1.75zM282.3 309.6h1.75v1.75h-1.75zM266.2 315.1h1.75v1.75h-1.75zM316.3 330.5h1.75v1.75h-1.75zM295.3 319.5h1.75v1.75h-1.75zM290.0 319.9h1.75v1.75h-1.75zM282.9 316.8h1.75v1.75h-1.75zM296.4 315.3h1.75v1.75h-1.75zM296.9 335.8h1.75v1.75h-1.75zM289.4 317.6h1.75v1.75h-1.75zM279.7 325.5h1.75v1.75h-1.75zM282.5 312.5h1.75v1.75h-1.75zM259.1 319.5h1.75v1.75h-1.75zM271.4 323.6h1.75v1.75h-1.75zM299.9 318.0h1.75v1.75h-1.75zM287.3 313.2h1.75v1.75h-1.75zM301.6 325.9h1.75v1.75h-1.75zM293.3 309.9h1.75v1.75h-1.75zM291.8 321.8h1.75v1.75h-1.75zM290.8 321.7h1.75v1.75h-1.75zM295.1 319.4h1.75v1.75h-1.75zM340.8 333.8h1.75v1.75h-1.75zM303.3 326.1h1.75v1.75h-1.75zM285.5 307.3h1.75v1.75h-1.75zM311.6 326.0h1.75v1.75h-1.75zM289.6 314.7h1.75v1.75h-1.75zM277.3 318.3h1.75v1.75h-1.75zM268.7 317.0h1.75v1.75h-1.75zM271.2 317.1h1.75v1.75h-1.75zM303.4 329.5h1.75v1.75h-1.75zM305.1 316.1h1.75v1.75h-1.75zM281.6 324.7h1.75v1.75h-1.75zM292.6 319.2h1.75v1.75h-1.75zM276.9 312.9h1.75v1.75h-1.75zM293.3 331.3h1.75v1.75h-1.75zM307.7 320.2h1.75v1.75h-1.75zM300.1 327.4h1.75v1.75h-1.75zM289.9 322.1h1.75v1.75h-1.75zM283.0 323.8h1.75v1.75h-1.75zM297.3 316.3h1.75v1.75h-1.75zM300.5 331.0h1.75v1.75h-1.75zM284.7 329.9h1.75v1.75h-1.75zM291.4 316.7h1.75v1.75h-1.75zM306.9 310.1h1.75v1.75h-1.75zM297.9 309.2h1.75v1.75h-1.75zM277.9 308.0h1.75v1.75h-1.75zM324.0 339.3h1.75v1.75h-1.75zM293.7 312.1h1.75v1.75h-1.75zM269.7 314.7h1.75v1.75h-1.75zM310.6 325.9h1.75v1.75h-1.75zM315.3 308.3h1.75v1.75h-1.75zM300.4 311.5h1.75v1.75h-1.75zM287.3 315.7h1.75v1.75h-1.75zM280.4 322.0h1.75v1.75h-1.75zM289.0 316.3h1.75v1.75h-1.75zM267.8 306.1h1.75v1.75h-1.75zM302.4 319.5h1.75v1.75h-1.75zM302.5 312.7h1.75v1.75h-1.75zM281.1 318.3h1.75v1.75h-1.75zM318.5 321.7h1.75v1.75h-1.75zM316.5 312.3h1.75v1.75h-1.75zM333.0 329.3h1.75v1.75h-1.75zM303.1 324.3h1.75v1.75h-1.75zM312.7 314.8h1.75v1.75h-1.75zM300.8 319.4h1.75v1.75h-1.75zM281.5 312.4h1.75v1.75h-1.75zM296.8 324.2h1.75v1.75h-1.75zM277.8 312.2h1.75v1.75h-1.75zM282.6 313.0h1.75v1.75h-1.75zM294.0 316.0h1.75v1.75h-1.75zM279.9 314.0h1.75v1.75h-1.75zM276.4 312.1h1.75v1.75h-1.75zM303.6 322.4h1.75v1.75h-1.75zM292.7 316.6h1.75v1.75h-1.75zM291.3 320.7h1.75v1.75h-1.75zM297.7 322.4h1.75v1.75h-1.75zM276.3 304.0h1.75v1.75h-1.75zM283.1 326.4h1.75v1.75h-1.75zM304.7 321.3h1.75v1.75h-1.75zM299.4 323.3h1.75v1.75h-1.75zM295.8 304.0h1.75v1.75h-1.75zM332.3 318.4h1.75v1.75h-1.75zM297.1 310.8h1.75v1.75h-1.75zM307.6 329.7h1.75v1.75h-1.75zM297.4 322.4h1.75v1.75h-1.75zM299.9 329.7h1.75v1.75h-1.75zM312.1 327.5h1.75v1.75h-1.75zM323.2 322.2h1.75v1.75h-1.75zM301.6 329.4h1.75v1.75h-1.75zM290.0 307.7h1.75v1.75h-1.75zM291.9 316.8h1.75v1.75h-1.75zM293.8 327.4h1.75v1.75h-1.75zM312.7 330.5h1.75v1.75h-1.75zM287.8 319.8h1.75v1.75h-1.75zM277.6 310.6h1.75v1.75h-1.75zM258.9 314.8h1.75v1.75h-1.75zM288.8 326.7h1.75v1.75h-1.75zM294.9 320.9h1.75v1.75h-1.75zM290.5 318.3h1.75v1.75h-1.75zM292.4 318.1h1.75v1.75h-1.75zM294.9 315.2h1.75v1.75h-1.75zM284.3 327.6h1.75v1.75h-1.75zM294.7 321.5h1.75v1.75h-1.75zM281.1 312.6h1.75v1.75h-1.75zM290.8 308.4h1.75v1.75h-1.75zM326.8 323.9h1.75v1.75h-1.75zM301.4 321.8h1.75v1.75h-1.75zM297.1 318.7h1.75v1.75h-1.75zM293.2 324.2h1.75v1.75h-1.75zM295.8 311.9h1.75v1.75h-1.75zM312.7 331.3h1.75v1.75h-1.75zM284.3 322.7h1.75v1.75h-1.75zM295.1 323.9h1.75v1.75h-1.75zM288.3 316.0h1.75v1.75h-1.75zM310.1 317.2h1.75v1.75h-1.75zM302.4 322.1h1.75v1.75h-1.75zM285.8 307.6h1.75v1.75h-1.75zM269.3 305.6h1.75v1.75h-1.75zM304.4 313.5h1.75v1.75h-1.75zM312.0 319.4h1.75v1.75h-1.75zM287.1 314.8h1.75v1.75h-1.75zM314.1 324.2h1.75v1.75h-1.75zM258.8 298.1h1.75v1.75h-1.75zM276.1 313.0h1.75v1.75h-1.75zM270.2 315.7h1.75v1.75h-1.75zM302.4 316.5h1.75v1.75h-1.75zM288.8 311.3h1.75v1.75h-1.75zM303.7 322.6h1.75v1.75h-1.75zM256.3 313.5h1.75v1.75h-1.75zM302.7 321.9h1.75v1.75h-1.75zM295.4 330.7h1.75v1.75h-1.75zM316.1 318.4h1.75v1.75h-1.75zM306.7 325.0h1.75v1.75h-1.75zM275.0 307.7h1.75v1.75h-1.75zM316.7 320.9h1.75v1.75h-1.75zM296.0 321.1h1.75v1.75h-1.75zM311.6 323.4h1.75v1.75h-1.75zM282.1 328.6h1.75v1.75h-1.75zM299.9 321.4h1.75v1.75h-1.75zM317.6 338.2h1.75v1.75h-1.75zM309.1 318.0h1.75v1.75h-1.75zM305.7 323.8h1.75v1.75h-1.75zM278.5 312.0h1.75v1.75h-1.75zM290.5 321.1h1.75v1.75h-1.75zM280.9 321.7h1.75v1.75h-1.75zM299.1 326.2h1.75v1.75h-1.75zM270.8 305.0h1.75v1.75h-1.75zM334.7 324.6h1.75v1.75h-1.75zM283.4 316.9h1.75v1.75h-1.75zM305.0 320.8h1.75v1.75h-1.75zM281.0 320.7h1.75v1.75h-1.75zM325.5 326.9h1.75v1.75h-1.75zM319.4 328.9h1.75v1.75h-1.75zM271.9 319.6h1.75v1.75h-1.75zM303.4 320.2h1.75v1.75h-1.75zM272.8 321.3h1.75v1.75h-1.75zM292.2 327.1h1.75v1.75h-1.75zM308.1 333.2h1.75v1.75h-1.75zM281.4 306.7h1.75v1.75h-1.75zM287.6 313.4h1.75v1.75h-1.75zM288.5 310.1h1.75v1.75h-1.75zM296.0 314.5h1.75v1.75h-1.75zM316.9 327.9h1.75v1.75h-1.75zM303.2 328.6h1.75v1.75h-1.75zM276.7 320.0h1.75v1.75h-1.75zM278.7 324.2h1.75v1.75h-1.75zM297.9 322.5h1.75v1.75h-1.75zM312.2 327.6h1.75v1.75h-1.75zM287.3 321.0h1.75v1.75h-1.75zM283.3 306.9h1.75v1.75h-1.75zM290.8 327.3h1.75v1.75h-1.75zM291.3 318.3h1.75v1.75h-1.75zM297.2 325.7h1.75v1.75h-1.75zM291.9 321.3h1.75v1.75h-1.75zM297.7 322.6h1.75v1.75h-1.75zM285.4 309.8h1.75v1.75h-1.75zM307.6 327.2h1.75v1.75h-1.75zM305.3 321.8h1.75v1.75h-1.75zM300.2 309.6h1.75v1.75h-1.75zM296.0 308.4h1.75v1.75h-1.75zM286.6 313.7h1.75v1.75h-1.75zM279.0 311.4h1.75v1.75h-1.75zM298.7 308.6h1.75v1.75h-1.75zM289.7 308.4h1.75v1.75h-1.75zM291.0 319.7h1.75v1.75h-1.75zM331.1 335.2h1.75v1.75h-1.75zM291.3 322.6h1.75v1.75h-1.75zM314.1 322.8h1.75v1.75h-1.75zM322.3 327.1h1.75v1.75h-1.75zM325.1 309.8h1.75v1.75h-1.75zM291.8 321.4h1.75v1.75h-1.75zM301.8 313.9h1.75v1.75h-1.75zM292.2 316.0h1.75v1.75h-1.75zM298.6 318.8h1.75v1.75h-1.75zM299.8 314.1h1.75v1.75h-1.75zM263.8 308.9h1.75v1.75h-1.75zM294.5 319.2h1.75v1.75h-1.75zM299.3 330.7h1.75v1.75h-1.75zM311.6 325.8h1.75v1.75h-1.75zM300.1 328.4h1.75v1.75h-1.75zM297.4 319.4h1.75v1.75h-1.75zM292.1 319.2h1.75v1.75h-1.75zM324.7 329.4h1.75v1.75h-1.75zM288.9 324.2h1.75v1.75h-1.75zM282.3 322.4h1.75v1.75h-1.75zM296.4 312.2h1.75v1.75h-1.75zM292.7 313.7h1.75v1.75h-1.75zM278.4 317.3h1.75v1.75h-1.75zM305.3 314.6h1.75v1.75h-1.75zM310.7 325.4h1.75v1.75h-1.75zM298.6 331.0h1.75v1.75h-1.75zM297.4 323.7h1.75v1.75h-1.75zM299.0 322.2h1.75v1.75h-1.75zM308.5 329.3h1.75v1.75h-1.75zM273.3 321.1h1.75v1.75h-1.75zM297.6 318.9h1.75v1.75h-1.75zM311.8 329.8h1.75v1.75h-1.75zM276.9 316.2h1.75v1.75h-1.75zM305.6 320.5h1.75v1.75h-1.75zM249.7 319.0h1.75v1.75h-1.75zM309.0 326.9h1.75v1.75h-1.75zM319.4 333.2h1.75v1.75h-1.75zM307.7 320.3h1.75v1.75h-1.75zM309.6 307.3h1.75v1.75h-1.75zM283.5 313.0h1.75v1.75h-1.75zM283.8 328.7h1.75v1.75h-1.75zM282.9 311.2h1.75v1.75h-1.75zM303.4 328.1h1.75v1.75h-1.75zM293.8 319.0h1.75v1.75h-1.75zM311.2 331.9h1.75v1.75h-1.75zM291.0 297.9h1.75v1.75h-1.75zM306.1 321.2h1.75v1.75h-1.75zM301.9 325.2h1.75v1.75h-1.75zM295.5 319.0h1.75v1.75h-1.75zM289.5 309.1h1.75v1.75h-1.75zM306.4 334.0h1.75v1.75h-1.75zM264.1 306.4h1.75v1.75h-1.75zM328.5 329.1h1.75v1.75h-1.75zM289.3 330.5h1.75v1.75h-1.75zM303.0 321.1h1.75v1.75h-1.75zM323.2 324.1h1.75v1.75h-1.75zM278.5 318.3h1.75v1.75h-1.75zM283.6 324.7h1.75v1.75h-1.75zM310.3 329.6h1.75v1.75h-1.75zM278.5 315.8h1.75v1.75h-1.75zM294.5 315.0h1.75v1.75h-1.75zM293.2 318.7h1.75v1.75h-1.75zM300.0 316.7h1.75v1.75h-1.75zM293.3 326.8h1.75v1.75h-1.75zM305.4 331.4h1.75v1.75h-1.75zM285.8 309.7h1.75v1.75h-1.75zM295.1 309.6h1.75v1.75h-1.75zM277.4 318.1h1.75v1.75h-1.75zM303.2 322.0h1.75v1.75h-1.75zM271.4 314.0h1.75v1.75h-1.75zM301.5 317.5h1.75v1.75h-1.75zM287.3 314.9h1.75v1.75h-1.75zM316.0 324.3h1.75v1.75h-1.75zM300.1 322.3h1.75v1.75h-1.75zM301.3 334.5h1.75v1.75h-1.75zM287.7 309.4h1.75v1.75h-1.75zM300.7 330.1h1.75v1.75h-1.75zM308.1 330.1h1.75v1.75h-1.75zM303.3 334.2h1.75v1.75h-1.75zM320.0 331.7h1.75v1.75h-1.75zM296.3 328.2h1.75v1.75h-1.75zM323.1 332.1h1.75v1.75h-1.75zM262.6 324.4h1.75v1.75h-1.75zM289.4 316.8h1.75v1.75h-1.75zM294.4 319.3h1.75v1.75h-1.75zM293.3 329.4h1.75v1.75h-1.75zM309.6 314.2h1.75v1.75h-1.75zM291.2 325.7h1.75v1.75h-1.75zM279.2 303.6h1.75v1.75h-1.75zM290.6 319.5h1.75v1.75h-1.75zM265.8 311.0h1.75v1.75h-1.75zM295.0 322.0h1.75v1.75h-1.75zM300.9 316.6h1.75v1.75h-1.75zM316.8 323.9h1.75v1.75h-1.75zM284.0 316.5h1.75v1.75h-1.75zM293.5 322.8h1.75v1.75h-1.75zM298.1 325.6h1.75v1.75h-1.75zM294.1 314.9h1.75v1.75h-1.75zM308.5 317.3h1.75v1.75h-1.75zM312.5 330.4h1.75v1.75h-1.75zM257.3 312.0h1.75v1.75h-1.75zM328.1 332.1h1.75v1.75h-1.75zM291.0 323.9h1.75v1.75h-1.75zM297.4 321.5h1.75v1.75h-1.75zM292.5 325.1h1.75v1.75h-1.75zM282.5 323.4h1.75v1.75h-1.75zM295.3 335.2h1.75v1.75h-1.75zM296.9 323.9h1.75v1.75h-1.75zM308.4 321.8h1.75v1.75h-1.75zM303.0 328.1h1.75v1.75h-1.75zM285.4 326.4h1.75v1.75h-1.75zM313.6 324.5h1.75v1.75h-1.75zM304.1 320.6h1.75v1.75h-1.75zM286.8 312.6h1.75v1.75h-1.75zM302.9 334.5h1.75v1.75h-1.75zM307.6 325.4h1.75v1.75h-1.75zM293.5 316.0h1.75v1.75h-1.75zM294.9 309.5h1.75v1.75h-1.75zM262.1 306.5h1.75v1.75h-1.75zM269.4 320.8h1.75v1.75h-1.75zM289.2 318.4h1.75v1.75h-1.75zM289.3 321.5h1.75v1.75h-1.75zM315.8 322.2h1.75v1.75h-1.75zM260.3 303.4h1.75v1.75h-1.75zM283.4 307.9h1.75v1.75h-1.75zM293.0 324.5h1.75v1.75h-1.75zM279.5 311.2h1.75v1.75h-1.75zM279.1 318.3h1.75v1.75h-1.75zM309.2 328.9h1.75v1.75h-1.75zM295.0 325.1h1.75v1.75h-1.75zM328.8 337.1h1.75v1.75h-1.75zM268.3 306.6h1.75v1.75h-1.75zM306.3 320.8h1.75v1.75h-1.75zM306.8 340.1h1.75v1.75h-1.75zM321.6 327.9h1.75v1.75h-1.75zM297.1 317.0h1.75v1.75h-1.75zM312.8 322.0h1.75v1.75h-1.75zM309.4 319.5h1.75v1.75h-1.75zM295.2 322.2h1.75v1.75h-1.75zM277.0 312.6h1.75v1.75h-1.75zM275.4 337.4h1.75v1.75h-1.75zM285.4 319.3h1.75v1.75h-1.75zM290.5 325.8h1.75v1.75h-1.75zM303.4 333.8h1.75v1.75h-1.75zM307.9 334.7h1.75v1.75h-1.75zM279.8 319.7h1.75v1.75h-1.75zM300.5 320.4h1.75v1.75h-1.75zM301.6 335.7h1.75v1.75h-1.75zM304.3 325.4h1.75v1.75h-1.75zM266.2 308.5h1.75v1.75h-1.75zM276.7 320.4h1.75v1.75h-1.75zM303.5 318.0h1.75v1.75h-1.75zM291.7 323.4h1.75v1.75h-1.75zM289.5 313.6h1.75v1.75h-1.75zM314.4 324.4h1.75v1.75h-1.75zM284.3 309.4h1.75v1.75h-1.75zM257.1 294.7h1.75v1.75h-1.75zM284.4 325.3h1.75v1.75h-1.75zM314.0 318.2h1.75v1.75h-1.75zM291.2 309.3h1.75v1.75h-1.75zM302.0 334.4h1.75v1.75h-1.75zM306.4 307.1h1.75v1.75h-1.75zM322.4 324.4h1.75v1.75h-1.75zM284.4 323.3h1.75v1.75h-1.75zM303.6 307.3h1.75v1.75h-1.75zM298.4 318.3h1.75v1.75h-1.75zM291.4 322.9h1.75v1.75h-1.75zM297.7 323.4h1.75v1.75h-1.75zM252.6 311.5h1.75v1.75h-1.75zM300.5 321.7h1.75v1.75h-1.75zM262.0 311.9h1.75v1.75h-1.75zM308.0 325.3h1.75v1.75h-1.75zM293.1 325.3h1.75v1.75h-1.75zM272.0 313.9h1.75v1.75h-1.75zM281.9 310.6h1.75v1.75h-1.75zM303.9 316.2h1.75v1.75h-1.75zM272.8 319.8h1.75v1.75h-1.75zM265.1 316.9h1.75v1.75h-1.75zM290.8 328.0h1.75v1.75h-1.75zM293.8 311.0h1.75v1.75h-1.75zM292.7 313.0h1.75v1.75h-1.75zM297.0 329.0h1.75v1.75h-1.75zM307.9 324.3h1.75v1.75h-1.75zM309.9 330.2h1.75v1.75h-1.75zM291.6 316.2h1.75v1.75h-1.75zM318.8 313.8h1.75v1.75h-1.75zM273.2 315.2h1.75v1.75h-1.75zM275.1 322.6h1.75v1.75h-1.75zM278.8 310.3h1.75v1.75h-1.75zM290.9 313.1h1.75v1.75h-1.75zM296.7 317.1h1.75v1.75h-1.75zM280.2 315.3h1.75v1.75h-1.75zM293.9 321.2h1.75v1.75h-1.75zM306.0 320.9h1.75v1.75h-1.75zM299.7 332.1h1.75v1.75h-1.75zM298.7 320.0h1.75v1.75h-1.75zM308.0 323.9h1.75v1.75h-1.75zM312.6 322.0h1.75v1.75h-1.75zM273.0 340.6h1.75v1.75h-1.75zM291.1 317.8h1.75v1.75h-1.75zM271.9 312.0h1.75v1.75h-1.75zM282.1 321.7h1.75v1.75h-1.75zM281.6 315.1h1.75v1.75h-1.75zM287.3 323.8h1.75v1.75h-1.75zM249.8 306.7h1.75v1.75h-1.75zM290.0 330.5h1.75v1.75h-1.75zM293.4 323.9h1.75v1.75h-1.75zM277.0 315.2h1.75v1.75h-1.75zM285.6 320.5h1.75v1.75h-1.75zM309.6 317.3h1.75v1.75h-1.75zM302.2 320.3h1.75v1.75h-1.75zM280.9 326.6h1.75v1.75h-1.75zM286.1 321.9h1.75v1.75h-1.75zM286.5 309.1h1.75v1.75h-1.75zM300.9 320.0h1.75v1.75h-1.75zM305.5 316.8h1.75v1.75h-1.75zM286.8 320.7h1.75v1.75h-1.75zM287.5 317.3h1.75v1.75h-1.75zM296.2 316.9h1.75v1.75h-1.75zM277.5 331.9h1.75v1.75h-1.75zM297.7 320.9h1.75v1.75h-1.75zM274.0 325.1h1.75v1.75h-1.75zM282.6 317.2h1.75v1.75h-1.75zM332.2 318.7h1.75v1.75h-1.75zM294.3 318.1h1.75v1.75h-1.75zM265.9 311.7h1.75v1.75h-1.75zM306.7 324.4h1.75v1.75h-1.75zM294.2 315.4h1.75v1.75h-1.75zM293.0 325.3h1.75v1.75h-1.75zM295.1 307.3h1.75v1.75h-1.75zM321.0 323.4h1.75v1.75h-1.75zM287.5 314.3h1.75v1.75h-1.75zM280.6 311.6h1.75v1.75h-1.75zM301.5 325.4h1.75v1.75h-1.75zM303.0 315.8h1.75v1.75h-1.75zM280.9 312.5h1.75v1.75h-1.75zM288.2 320.9h1.75v1.75h-1.75zM315.6 326.9h1.75v1.75h-1.75zM303.5 324.2h1.75v1.75h-1.75zM313.6 330.9h1.75v1.75h-1.75zM285.6 340.9h1.75v1.75h-1.75zM294.6 321.5h1.75v1.75h-1.75zM278.6 313.8h1.75v1.75h-1.75zM263.5 303.6h1.75v1.75h-1.75zM306.4 320.5h1.75v1.75h-1.75zM277.9 304.8h1.75v1.75h-1.75zM292.5 319.9h1.75v1.75h-1.75zM281.4 316.4h1.75v1.75h-1.75zM292.1 318.5h1.75v1.75h-1.75zM284.6 319.2h1.75v1.75h-1.75zM317.4 319.1h1.75v1.75h-1.75zM292.2 328.9h1.75v1.75h-1.75zM284.8 316.2h1.75v1.75h-1.75zM292.6 318.0h1.75v1.75h-1.75zM258.1 311.0h1.75v1.75h-1.75zM282.0 313.1h1.75v1.75h-1.75zM307.5 325.3h1.75v1.75h-1.75zM276.6 307.0h1.75v1.75h-1.75zM311.3 323.6h1.75v1.75h-1.75zM259.0 306.7h1.75v1.75h-1.75zM272.3 320.3h1.75v1.75h-1.75zM316.4 345.3h1.75v1.75h-1.75zM305.5 299.5h1.75v1.75h-1.75zM285.6 314.4h1.75v1.75h-1.75zM304.8 324.7h1.75v1.75h-1.75zM280.5 322.6h1.75v1.75h-1.75zM306.2 326.7h1.75v1.75h-1.75zM328.3 333.4h1.75v1.75h-1.75zM315.4 326.7h1.75v1.75h-1.75zM266.2 336.0h1.75v1.75h-1.75zM313.1 328.9h1.75v1.75h-1.75zM312.2 316.0h1.75v1.75h-1.75zM296.9 316.0h1.75v1.75h-1.75zM297.4 310.2h1.75v1.75h-1.75zM299.6 318.2h1.75v1.75h-1.75zM280.9 322.4h1.75v1.75h-1.75zM289.6 310.2h1.75v1.75h-1.75zM301.0 324.3h1.75v1.75h-1.75zM306.1 321.5h1.75v1.75h-1.75zM292.6 315.7h1.75v1.75h-1.75zM269.4 311.8h1.75v1.75h-1.75zM301.4 331.9h1.75v1.75h-1.75zM265.8 304.4h1.75v1.75h-1.75zM323.0 336.0h1.75v1.75h-1.75zM303.5 319.4h1.75v1.75h-1.75zM280.5 320.4h1.75v1.75h-1.75zM305.9 322.6h1.75v1.75h-1.75zM305.3 317.8h1.75v1.75h-1.75zM287.3 328.7h1.75v1.75h-1.75zM273.0 323.8h1.75v1.75h-1.75zM308.7 318.1h1.75v1.75h-1.75zM296.2 325.8h1.75v1.75h-1.75zM287.2 322.9h1.75v1.75h-1.75zM305.5 315.2h1.75v1.75h-1.75zM284.1 312.8h1.75v1.75h-1.75zM308.7 322.8h1.75v1.75h-1.75zM316.4 319.4h1.75v1.75h-1.75zM276.0 319.1h1.75v1.75h-1.75zM285.8 312.4h1.75v1.75h-1.75zM304.2 317.5h1.75v1.75h-1.75zM294.7 315.3h1.75v1.75h-1.75zM268.2 313.4h1.75v1.75h-1.75zM309.1 316.5h1.75v1.75h-1.75zM287.4 308.6h1.75v1.75h-1.75zM310.1 312.1h1.75v1.75h-1.75zM259.0 313.7h1.75v1.75h-1.75zM298.7 323.0h1.75v1.75h-1.75zM300.3 314.3h1.75v1.75h-1.75zM301.4 321.0h1.75v1.75h-1.75zM281.6 302.9h1.75v1.75h-1.75zM255.1 304.0h1.75v1.75h-1.75zM303.4 321.3h1.75v1.75h-1.75zM319.2 338.1h1.75v1.75h-1.75zM296.2 315.9h1.75v1.75h-1.75zM306.0 326.6h1.75v1.75h-1.75zM284.5 308.2h1.75v1.75h-1.75zM267.4 304.1h1.75v1.75h-1.75zM311.3 319.4h1.75v1.75h-1.75zM315.7 323.4h1.75v1.75h-1.75zM320.9 332.3h1.75v1.75h-1.75zM300.1 320.0h1.75v1.75h-1.75zM282.0 319.2h1.75v1.75h-1.75zM257.4 307.9h1.75v1.75h-1.75zM302.4 324.7h1.75v1.75h-1.75zM310.4 315.6h1.75v1.75h-1.75zM304.0 314.3h1.75v1.75h-1.75zM304.4 322.3h1.75v1.75h-1.75zM279.4 313.2h1.75v1.75h-1.75zM311.5 324.6h1.75v1.75h-1.75zM315.1 321.8h1.75v1.75h-1.75zM331.4 311.8h1.75v1.75h-1.75zM328.8 327.6h1.75v1.75h-1.75zM318.0 341.7h1.75v1.75h-1.75zM269.9 306.1h1.75v1.75h-1.75zM275.4 313.7h1.75v1.75h-1.75zM262.0 316.6h1.75v1.75h-1.75zM307.7 328.3h1.75v1.75h-1.75zM296.3 310.9h1.75v1.75h-1.75zM281.4 320.3h1.75v1.75h-1.75zM282.8 309.3h1.75v1.75h-1.75zM303.5 319.8h1.75v1.75h-1.75zM272.4 319.1h1.75v1.75h-1.75zM301.6 320.6h1.75v1.75h-1.75zM301.8 316.1h1.75v1.75h-1.75zM324.8 330.7h1.75v1.75h-1.75zM296.5 328.7h1.75v1.75h-1.75zM270.3 312.1h1.75v1.75h-1.75zM315.3 309.8h1.75v1.75h-1.75zM298.6 323.5h1.75v1.75h-1.75zM294.7 322.5h1.75v1.75h-1.75zM286.6 322.9h1.75v1.75h-1.75zM299.3 311.8h1.75v1.75h-1.75zM278.6 315.8h1.75v1.75h-1.75zM289.7 317.4h1.75v1.75h-1.75zM288.8 314.4h1.75v1.75h-1.75zM312.2 321.3h1.75v1.75h-1.75zM306.1 332.3h1.75v1.75h-1.75zM278.2 310.1h1.75v1.75h-1.75zM297.1 331.6h1.75v1.75h-1.75zM288.6 327.2h1.75v1.75h-1.75zM298.9 322.9h1.75v1.75h-1.75zM303.1 319.7h1.75v1.75h-1.75zM292.4 320.0h1.75v1.75h-1.75zM313.2 329.5h1.75v1.75h-1.75zM312.9 329.6h1.75v1.75h-1.75zM282.3 314.8h1.75v1.75h-1.75zM295.9 322.2h1.75v1.75h-1.75zM280.8 324.0h1.75v1.75h-1.75zM274.0 324.0h1.75v1.75h-1.75zM276.0 317.4h1.75v1.75h-1.75zM279.2 318.3h1.75v1.75h-1.75zM280.5 329.9h1.75v1.75h-1.75zM301.8 323.2h1.75v1.75h-1.75zM299.7 317.6h1.75v1.75h-1.75zM285.3 309.9h1.75v1.75h-1.75zM281.6 311.4h1.75v1.75h-1.75zM298.1 324.7h1.75v1.75h-1.75zM302.1 327.1h1.75v1.75h-1.75zM313.8 322.4h1.75v1.75h-1.75zM298.1 327.6h1.75v1.75h-1.75zM301.5 327.8h1.75v1.75h-1.75zM273.7 300.6h1.75v1.75h-1.75zM286.0 337.5h1.75v1.75h-1.75zM301.6 322.3h1.75v1.75h-1.75zM285.0 327.3h1.75v1.75h-1.75zM283.7 314.3h1.75v1.75h-1.75zM326.3 335.4h1.75v1.75h-1.75zM308.7 322.3h1.75v1.75h-1.75zM294.7 316.4h1.75v1.75h-1.75zM308.5 320.9h1.75v1.75h-1.75zM298.8 313.1h1.75v1.75h-1.75zM285.6 306.9h1.75v1.75h-1.75zM292.8 327.9h1.75v1.75h-1.75zM291.7 324.6h1.75v1.75h-1.75zM308.1 316.1h1.75v1.75h-1.75zM291.6 318.1h1.75v1.75h-1.75zM293.6 316.8h1.75v1.75h-1.75zM277.7 314.6h1.75v1.75h-1.75zM278.4 310.8h1.75v1.75h-1.75zM291.5 321.3h1.75v1.75h-1.75zM292.4 311.6h1.75v1.75h-1.75zM302.2 319.0h1.75v1.75h-1.75zM301.8 310.3h1.75v1.75h-1.75zM297.4 327.6h1.75v1.75h-1.75zM280.0 322.7h1.75v1.75h-1.75zM301.3 323.2h1.75v1.75h-1.75zM256.5 326.2h1.75v1.75h-1.75zM297.0 329.1h1.75v1.75h-1.75zM302.1 325.8h1.75v1.75h-1.75zM314.3 330.5h1.75v1.75h-1.75zM288.4 306.5h1.75v1.75h-1.75zM296.6 326.7h1.75v1.75h-1.75zM293.7 318.1h1.75v1.75h-1.75zM273.4 318.0h1.75v1.75h-1.75zM306.8 330.6h1.75v1.75h-1.75zM282.3 314.5h1.75v1.75h-1.75zM303.9 316.4h1.75v1.75h-1.75zM277.5 307.7h1.75v1.75h-1.75zM301.3 323.8h1.75v1.75h-1.75zM304.1 315.3h1.75v1.75h-1.75zM294.9 317.4h1.75v1.75h-1.75zM324.2 329.8h1.75v1.75h-1.75zM298.4 315.9h1.75v1.75h-1.75zM306.3 327.1h1.75v1.75h-1.75zM267.3 304.1h1.75v1.75h-1.75zM305.8 331.2h1.75v1.75h-1.75zM272.3 321.4h1.75v1.75h-1.75zM279.3 330.6h1.75v1.75h-1.75zM282.5 315.3h1.75v1.75h-1.75zM287.8 323.8h1.75v1.75h-1.75zM319.1 331.1h1.75v1.75h-1.75zM291.3 316.7h1.75v1.75h-1.75zM295.5 311.7h1.75v1.75h-1.75zM285.7 318.3h1.75v1.75h-1.75zM292.6 329.1h1.75v1.75h-1.75zM269.9 303.5h1.75v1.75h-1.75zM298.2 328.0h1.75v1.75h-1.75zM300.4 319.5h1.75v1.75h-1.75zM273.0 311.0h1.75v1.75h-1.75zM282.9 316.4h1.75v1.75h-1.75zM295.1 313.3h1.75v1.75h-1.75zM279.7 311.5h1.75v1.75h-1.75zM248.2 303.6h1.75v1.75h-1.75zM299.0 321.7h1.75v1.75h-1.75zM270.3 311.8h1.75v1.75h-1.75zM303.5 327.5h1.75v1.75h-1.75zM310.0 329.3h1.75v1.75h-1.75zM243.4 301.9h1.75v1.75h-1.75zM301.9 309.1h1.75v1.75h-1.75zM302.2 332.4h1.75v1.75h-1.75zM302.2 321.6h1.75v1.75h-1.75zM329.6 321.2h1.75v1.75h-1.75zM317.7 331.3h1.75v1.75h-1.75zM299.7 323.6h1.75v1.75h-1.75zM299.8 315.9h1.75v1.75h-1.75zM295.1 329.5h1.75v1.75h-1.75zM289.9 311.9h1.75v1.75h-1.75zM312.7 321.0h1.75v1.75h-1.75zM308.3 322.8h1.75v1.75h-1.75zM298.8 314.7h1.75v1.75h-1.75zM319.7 323.0h1.75v1.75h-1.75zM318.3 326.6h1.75v1.75h-1.75zM314.8 324.3h1.75v1.75h-1.75zM300.1 330.6h1.75v1.75h-1.75zM302.1 329.1h1.75v1.75h-1.75zM324.1 321.5h1.75v1.75h-1.75zM317.1 324.2h1.75v1.75h-1.75zM308.1 318.4h1.75v1.75h-1.75zM290.6 311.1h1.75v1.75h-1.75zM294.4 324.0h1.75v1.75h-1.75zM299.9 302.7h1.75v1.75h-1.75zM297.6 327.5h1.75v1.75h-1.75zM313.1 316.3h1.75v1.75h-1.75zM309.7 332.2h1.75v1.75h-1.75zM272.9 309.4h1.75v1.75h-1.75zM301.3 321.9h1.75v1.75h-1.75zM306.2 330.0h1.75v1.75h-1.75zM283.3 318.7h1.75v1.75h-1.75zM277.4 316.8h1.75v1.75h-1.75zM297.5 326.4h1.75v1.75h-1.75zM295.3 320.1h1.75v1.75h-1.75zM317.7 328.8h1.75v1.75h-1.75zM298.2 318.7h1.75v1.75h-1.75zM311.5 316.6h1.75v1.75h-1.75zM317.6 329.6h1.75v1.75h-1.75zM314.7 332.1h1.75v1.75h-1.75zM299.1 327.7h1.75v1.75h-1.75zM290.8 328.4h1.75v1.75h-1.75zM284.8 309.2h1.75v1.75h-1.75zM323.9 339.0h1.75v1.75h-1.75zM265.6 307.0h1.75v1.75h-1.75zM280.3 317.8h1.75v1.75h-1.75zM269.6 323.3h1.75v1.75h-1.75zM296.5 316.7h1.75v1.75h-1.75zM294.5 327.4h1.75v1.75h-1.75zM308.5 314.9h1.75v1.75h-1.75zM303.8 335.3h1.75v1.75h-1.75zM251.8 306.2h1.75v1.75h-1.75zM280.6 316.3h1.75v1.75h-1.75zM293.6 325.2h1.75v1.75h-1.75zM304.0 336.9h1.75v1.75h-1.75zM304.9 326.8h1.75v1.75h-1.75zM277.9 315.6h1.75v1.75h-1.75zM287.6 317.9h1.75v1.75h-1.75zM271.9 306.1h1.75v1.75h-1.75zM304.6 316.3h1.75v1.75h-1.75zM291.7 329.8h1.75v1.75h-1.75zM301.2 326.6h1.75v1.75h-1.75zM293.3 328.2h1.75v1.75h-1.75zM281.6 318.1h1.75v1.75h-1.75zM253.1 308.4h1.75v1.75h-1.75zM318.1 324.5h1.75v1.75h-1.75zM251.2 315.8h1.75v1.75h-1.75zM275.6 310.7h1.75v1.75h-1.75zM311.5 330.0h1.75v1.75h-1.75zM279.4 315.4h1.75v1.75h-1.75zM301.6 312.4h1.75v1.75h-1.75zM313.3 329.4h1.75v1.75h-1.75zM312.9 326.5h1.75v1.75h-1.75zM304.9 337.1h1.75v1.75h-1.75zM299.7 315.7h1.75v1.75h-1.75zM311.8 318.4h1.75v1.75h-1.75zM300.3 319.6h1.75v1.75h-1.75zM311.3 317.6h1.75v1.75h-1.75zM292.8 329.3h1.75v1.75h-1.75zM290.6 313.4h1.75v1.75h-1.75zM276.7 310.3h1.75v1.75h-1.75zM316.0 314.5h1.75v1.75h-1.75zM298.5 324.4h1.75v1.75h-1.75zM322.0 328.1h1.75v1.75h-1.75zM273.3 323.0h1.75v1.75h-1.75zM273.8 324.9h1.75v1.75h-1.75zM289.9 315.8h1.75v1.75h-1.75zM282.3 316.7h1.75v1.75h-1.75zM291.9 325.0h1.75v1.75h-1.75zM286.0 314.4h1.75v1.75h-1.75zM288.2 310.3h1.75v1.75h-1.75zM295.5 324.4h1.75v1.75h-1.75zM315.8 322.4h1.75v1.75h-1.75zM304.1 321.9h1.75v1.75h-1.75zM283.2 315.4h1.75v1.75h-1.75zM293.7 312.8h1.75v1.75h-1.75zM292.0 321.8h1.75v1.75h-1.75zM318.2 323.1h1.75v1.75h-1.75zM266.0 324.3h1.75v1.75h-1.75zM284.2 315.0h1.75v1.75h-1.75zM300.2 308.1h1.75v1.75h-1.75zM285.8 306.6h1.75v1.75h-1.75zM309.9 318.5h1.75v1.75h-1.75zM276.4 326.5h1.75v1.75h-1.75zM294.9 316.3h1.75v1.75h-1.75zM307.5 323.7h1.75v1.75h-1.75zM340.7 337.4h1.75v1.75h-1.75zM313.2 323.8h1.75v1.75h-1.75zM290.3 317.3h1.75v1.75h-1.75zM311.3 317.4h1.75v1.75h-1.75zM283.4 317.5h1.75v1.75h-1.75zM291.3 331.8h1.75v1.75h-1.75zM311.5 326.6h1.75v1.75h-1.75zM276.8 306.5h1.75v1.75h-1.75zM313.0 325.0h1.75v1.75h-1.75zM280.2 310.9h1.75v1.75h-1.75zM306.0 319.3h1.75v1.75h-1.75zM297.3 321.2h1.75v1.75h-1.75zM303.3 316.2h1.75v1.75h-1.75zM300.6 314.0h1.75v1.75h-1.75zM276.6 307.0h1.75v1.75h-1.75zM295.5 326.1h1.75v1.75h-1.75zM305.6 321.9h1.75v1.75h-1.75zM292.5 318.1h1.75v1.75h-1.75zM306.3 320.5h1.75v1.75h-1.75zM261.9 325.9h1.75v1.75h-1.75zM278.5 323.2h1.75v1.75h-1.75zM314.1 321.3h1.75v1.75h-1.75zM298.3 313.5h1.75v1.75h-1.75zM297.0 320.4h1.75v1.75h-1.75zM299.7 327.3h1.75v1.75h-1.75zM312.8 313.3h1.75v1.75h-1.75zM286.1 313.4h1.75v1.75h-1.75zM306.8 316.0h1.75v1.75h-1.75zM295.7 321.4h1.75v1.75h-1.75zM294.8 319.8h1.75v1.75h-1.75zM282.2 315.1h1.75v1.75h-1.75zM315.6 322.6h1.75v1.75h-1.75zM305.2 336.3h1.75v1.75h-1.75zM289.1 319.7h1.75v1.75h-1.75zM292.7 335.7h1.75v1.75h-1.75zM286.0 315.4h1.75v1.75h-1.75zM308.4 331.7h1.75v1.75h-1.75zM275.8 303.7h1.75v1.75h-1.75zM288.0 312.4h1.75v1.75h-1.75zM292.8 312.6h1.75v1.75h-1.75zM297.1 313.3h1.75v1.75h-1.75zM283.6 311.9h1.75v1.75h-1.75zM283.1 318.3h1.75v1.75h-1.75zM306.6 323.6h1.75v1.75h-1.75zM317.6 324.6h1.75v1.75h-1.75zM283.1 320.8h1.75v1.75h-1.75zM290.1 323.6h1.75v1.75h-1.75zM288.8 313.5h1.75v1.75h-1.75zM305.1 320.8h1.75v1.75h-1.75zM261.8 317.4h1.75v1.75h-1.75zM258.8 333.8h1.75v1.75h-1.75zM288.8 331.6h1.75v1.75h-1.75zM297.5 327.1h1.75v1.75h-1.75zM299.4 317.6h1.75v1.75h-1.75zM303.0 324.1h1.75v1.75h-1.75zM303.0 329.9h1.75v1.75h-1.75zM287.8 318.9h1.75v1.75h-1.75zM289.7 320.8h1.75v1.75h-1.75zM300.9 317.3h1.75v1.75h-1.75zM310.1 320.9h1.75v1.75h-1.75zM309.6 324.0h1.75v1.75h-1.75zM287.9 331.9h1.75v1.75h-1.75zM288.8 326.4h1.75v1.75h-1.75zM209.9 318.4h1.75v1.75h-1.75zM239.1 315.9h1.75v1.75h-1.75z"/>
<text x="229.50" y="354.20" font-size="4.6" font-family='"Liberation Sans", sans-serif' fill="#4d4d4d" text-anchor="middle">1</text>
<text x="265.50" y="354.20" font-size="4.6" font-family='"Liberation Sans", sans-serif' fill="#4d4d4d" text-anchor="middle">2</text>
<text x="301.50" y="354.20" font-size="4.6" font-family='"Liberation Sans", sans-serif' fill="#4d4d4d" text-anchor="middle">3</text>
<text x="337.50" y="354.20" font-size="4.6" font-family='"Liberation Sans", sans-serif' fill="#4d4d4d" text-anchor="middle">4</text>
<text x="203.10" y="351.60" font-size="4.6" font-family='"Liberation Sans", sans-serif' fill="#4d4d4d" text-anchor="end">0.5</text>
<text x="203.10" y="340.03" font-size="4.6" font-family='"Liberation Sans", sans-serif' fill="#4d4d4d" text-anchor="end">1.0</text>
<text x="203.10" y="328.45" font-size="4.6" font-family='"Liberation Sans", sans-serif' fill="#4d4d4d" text-anchor="end">1.5</text>
<text x="203.10" y="316.88" font-size="4.6" font-family='"Liberation Sans", sans-serif' fill="#4d4d4d" text-anchor="end">2.0</text>
<text x="203.10" y="305.30" font-size="4.6" font-family='"Liberation Sans", sans-serif' fill="#4d4d4d" text-anchor="end">2.5</text>
<text x="195.00" y="323.00" font-size="4.7" font-family='"Liberation Sans", sans-serif' fill="#111" text-anchor="middle" font-weight="bold" textLength="58.80" lengthAdjust="spacingAndGlyphs" transform="rotate(-90 195.00 323.00)">Log10 expression of KLHDC</text>
<text x="278.00" y="358.80" font-size="4.7" font-family='"Liberation Sans", sans-serif' fill="#111" text-anchor="middle" font-weight="bold" textLength="57.40" lengthAdjust="spacingAndGlyphs">Log10 expression of BIRC5</text>
<text x="240.75" y="332.50" font-size="6.0" font-family='"Liberation Serif", serif' fill="#222" text-anchor="end">Size=1091</text>
<text x="240.75" y="339.40" font-size="6.0" font-family='"Liberation Serif", serif' fill="#222" text-anchor="end">P value=0.00</text>
<text x="240.75" y="346.30" font-size="6.0" font-family='"Liberation Serif", serif' fill="#222" text-anchor="end">R=-0.55</text>
<text x="80.70" y="9.90" font-size="9.9" font-family='"Liberation Serif", serif' fill="#222" textLength="30.20" lengthAdjust="spacingAndGlyphs">Normal</text>
<text x="258.90" y="9.90" font-size="9.9" font-family='"Liberation Serif", serif' fill="#222" textLength="24.80" lengthAdjust="spacingAndGlyphs">Tumor</text>
<text x="3.00" y="22.50" font-size="8.6" font-family='"Liberation Serif", serif' fill="#444">(k)</text>
<text x="3.00" y="95.80" font-size="8.6" font-family='"Liberation Serif", serif' fill="#444">(l)</text>
<text x="3.00" y="163.30" font-size="8.6" font-family='"Liberation Serif", serif' fill="#444">(m)</text>
<text x="3.00" y="235.60" font-size="8.6" font-family='"Liberation Serif", serif' fill="#444">(n)</text>
<text x="7.00" y="306.50" font-size="8.6" font-family='"Liberation Serif", serif' fill="#444">(o)</text>
<text x="3.40" y="381.20" font-size="10.2" font-family='"Liberation Sans", sans-serif' fill="#555">(p)</text>
<defs><filter id="sh" x="-20%" y="-20%" width="140%" height="140%"><feGaussianBlur stdDeviation="2.2"/></filter></defs>
<polygon points="240.49,462.70 240.48,463.59 240.45,464.48 240.40,465.38 240.33,466.28 240.24,467.18 240.13,468.08 240.01,468.98 239.86,469.89 239.69,470.79 239.49,471.70 239.28,472.60 239.05,473.51 238.80,474.65 238.52,476.15 238.23,477.50 237.91,478.78 237.57,480.02 237.21,481.24 236.82,482.44 236.42,483.61 235.99,484.78 235.55,485.92 235.08,487.06 234.58,488.18 234.07,489.29 233.53,490.39 232.98,491.48 232.40,492.55 231.79,493.62 231.17,494.67 230.53,495.72 229.86,496.75 229.17,497.77 228.46,498.79 227.72,499.79 226.97,500.77 226.19,501.75 225.39,502.72 224.57,503.67 223.73,504.61 222.87,505.54 221.99,506.45 221.09,507.36 220.16,508.25 219.22,509.12 218.25,509.98 217.27,510.83 216.26,511.66 215.24,512.48 214.20,513.28 213.14,514.07 212.05,514.84 210.95,515.60 209.84,516.34 208.70,517.06 207.55,517.77 206.38,518.46 205.19,519.14 203.99,519.79 202.77,520.43 201.53,521.05 200.28,521.65 199.02,522.23 197.74,522.79 196.45,523.34 195.14,523.86 193.82,524.37 192.49,524.86 191.14,525.32 189.78,525.77 188.41,526.19 187.04,526.60 185.65,526.98 184.25,527.35 182.84,527.69 181.42,528.01 180.00,528.31 178.57,528.59 177.13,528.84 175.68,529.08 174.23,529.29 172.77,529.48 171.31,529.65 169.85,529.79 168.38,529.91 166.91,530.02 165.43,530.09 163.96,530.15 162.48,530.18 161.00,530.20 159.52,530.18 158.04,530.15 156.57,530.09 155.09,530.02 153.62,529.91 152.15,529.79 150.69,529.65 149.23,529.48 147.77,529.29 146.32,529.08 144.87,528.84 143.43,528.59 142.00,528.31 140.58,528.01 139.16,527.69 137.75,527.35 136.35,526.98 134.96,526.60 133.59,526.19 132.22,525.77 130.86,525.32 129.51,524.86 128.18,524.37 126.86,523.86 125.55,523.34 124.26,522.79 122.98,522.23 121.72,521.65 120.47,521.05 119.23,520.43 118.01,519.79 116.81,519.14 115.62,518.46 114.45,517.77 113.30,517.06 112.16,516.34 111.05,515.60 109.95,514.84 108.86,514.07 107.80,513.28 106.76,512.48 105.74,511.66 104.73,510.83 103.75,509.98 102.78,509.12 101.84,508.25 100.91,507.36 100.01,506.45 99.13,505.54 98.27,504.61 97.43,503.67 96.61,502.72 95.81,501.75 95.03,500.77 94.28,499.79 93.54,498.79 92.83,497.77 92.14,496.75 91.47,495.72 90.83,494.67 90.21,493.62 89.60,492.55 89.02,491.48 88.47,490.39 87.93,489.29 87.42,488.18 86.92,487.06 86.45,485.92 86.01,484.78 85.58,483.61 85.18,482.44 84.79,481.24 84.43,480.02 84.09,478.78 83.77,477.50 83.48,476.15 83.20,474.65 82.95,473.51 82.72,472.60 82.51,471.70 82.31,470.79 82.14,469.89 81.99,468.98 81.87,468.08 81.76,467.18 81.67,466.28 81.60,465.38 81.55,464.48 81.52,463.59 81.51,462.70" fill="#000" opacity="0.18" filter="url(#sh)"/>
<polygon points="240.49,461.20 240.46,462.75 240.37,464.32 240.22,465.89 240.01,467.46 239.74,469.04 239.40,470.62 239.40,470.62 239.74,469.04 240.01,467.46 240.22,465.89 240.37,464.32 240.46,462.75 240.49,461.20" fill="#6a3816" stroke="#6a3816" stroke-width="0.3"/>
<polygon points="239.40,470.62 239.00,472.18 238.54,473.75 238.02,475.32 237.43,476.88 236.78,478.43 236.06,479.98 235.28,481.52 234.43,483.06 233.52,484.58 232.54,486.09 231.49,487.58 230.38,489.06 229.20,490.52 227.96,491.96 226.66,493.38 225.28,494.78 223.85,496.16 222.35,497.50 220.79,498.82 219.17,500.11 217.48,501.37 215.74,502.60 213.94,503.79 212.09,504.94 210.17,506.06 208.21,507.13 206.19,508.17 204.12,509.16 202.01,510.11 202.01,519.31 204.12,518.22 206.19,517.07 208.21,515.87 210.17,514.62 212.09,513.32 213.94,511.98 215.74,510.58 217.48,509.15 219.17,507.67 220.79,506.15 222.35,504.58 223.85,502.98 225.28,501.35 226.66,499.67 227.96,497.96 229.20,496.22 230.38,494.44 231.49,492.64 232.54,490.79 233.52,488.92 234.43,487.01 235.28,485.07 236.06,483.09 236.78,481.07 237.43,478.99 238.02,476.84 238.54,474.54 239.00,472.18 239.40,470.62" fill="#4a4a4a" stroke="#4a4a4a" stroke-width="0.3"/>
<polygon points="202.01,510.11 199.84,511.01 197.63,511.87 195.38,512.68 193.09,513.43 190.76,514.14 188.40,514.80 186.01,515.40 183.58,515.94 181.13,516.43 178.66,516.87 176.16,517.25 173.65,517.57 171.12,517.83 168.58,518.04 166.03,518.18 163.47,518.27 160.91,518.30 158.35,518.26 155.79,518.17 153.25,518.02 150.70,517.81 148.18,517.55 145.66,517.22 143.17,516.84 143.17,527.04 145.66,527.47 148.18,527.84 150.70,528.15 153.25,528.38 155.79,528.56 158.35,528.66 160.91,528.70 163.47,528.66 166.03,528.56 168.58,528.40 171.12,528.17 173.65,527.87 176.16,527.50 178.66,527.07 181.13,526.57 183.58,526.01 186.01,525.39 188.40,524.70 190.76,523.95 193.09,523.14 195.38,522.27 197.63,521.34 199.84,520.35 202.01,519.31" fill="#725600" stroke="#725600" stroke-width="0.3"/>
<polygon points="143.17,516.84 140.67,516.40 138.19,515.89 135.74,515.34 133.33,514.72 130.94,514.05 128.59,513.33 126.28,512.56 124.01,511.74 121.78,510.86 119.60,509.94 117.47,508.97 115.39,507.96 113.35,506.90 111.38,505.80 109.45,504.66 107.59,503.48 105.78,502.27 104.03,501.02 102.35,499.73 100.72,498.42 99.16,497.07 99.16,504.07 100.72,505.67 102.35,507.22 104.03,508.73 105.78,510.20 107.59,511.62 109.45,513.00 111.38,514.32 113.35,515.60 115.39,516.83 117.47,518.00 119.60,519.12 121.78,520.18 124.01,521.19 126.28,522.13 128.59,523.02 130.94,523.85 133.33,524.61 135.74,525.32 138.19,525.96 140.67,526.53 143.17,527.04" fill="#28455f" stroke="#28455f" stroke-width="0.3"/>
<polygon points="99.16,497.07 97.68,495.72 96.27,494.34 94.92,492.93 93.63,491.51 92.41,490.06 91.26,488.59 90.17,487.11 89.15,485.61 88.19,484.10 87.29,482.58 86.47,481.04 85.71,479.50 85.01,477.95 84.38,476.39 83.81,474.83 83.31,473.27 82.87,471.70 82.49,470.14 82.18,468.57 81.93,467.01 81.73,465.45 81.73,465.45 81.93,467.01 82.18,468.57 82.49,470.14 82.87,471.70 83.31,473.77 83.81,476.15 84.38,478.33 85.01,480.43 85.71,482.47 86.47,484.46 87.29,486.41 88.19,488.33 89.15,490.21 90.17,492.06 91.26,493.88 92.41,495.66 93.63,497.41 94.92,499.13 96.27,500.81 97.68,502.46 99.16,504.07" fill="#324d1f" stroke="#324d1f" stroke-width="0.3"/>
<polygon points="81.73,465.45 81.64,464.39 81.57,463.32 81.53,462.26 81.51,461.20 81.51,461.20 81.53,462.26 81.57,463.32 81.64,464.39 81.73,465.45" fill="#111e36" stroke="#111e36" stroke-width="0.3"/>
<polygon points="161.00,450.20 161.00,404.10 162.76,404.11 164.51,404.15 166.27,404.22 168.02,404.32 169.77,404.45 171.51,404.60 173.25,404.78 174.99,404.99 176.72,405.23 178.45,405.49 180.17,405.78 181.88,406.10 183.59,406.45 185.28,406.83 186.97,407.23 188.65,407.66 190.31,408.12 191.96,408.61 193.61,409.12 195.23,409.67 196.85,410.24 198.45,410.83 200.03,411.46 201.60,412.11 203.15,412.79 204.69,413.50 206.20,414.23 207.70,414.99 209.17,415.78 210.63,416.59 212.06,417.44 213.47,418.31 214.85,419.20 216.21,420.12 217.55,421.07 218.86,422.04 220.14,423.04" fill="#4472C4" stroke="#4472C4" stroke-width="0.3"/>
<polygon points="161.00,450.20 220.14,423.04 221.38,424.06 222.59,425.10 223.77,426.17 224.92,427.26 226.04,428.37 227.13,429.51 228.18,430.67 229.19,431.86 230.17,433.07 231.11,434.30 232.02,435.55 232.88,436.82 233.71,438.12 234.49,439.44 235.23,440.77 235.92,442.13 236.58,443.50 237.18,444.90 237.74,446.31 238.25,447.74 238.71,449.18 239.12,450.64 239.48,452.12 239.78,453.60 240.03,455.11 240.23,456.62 240.37,458.14 240.46,459.68 240.49,461.22 240.46,462.78 240.37,464.33 240.22,465.90 240.01,467.47 239.73,469.04 239.40,470.62" fill="#ED7D31" stroke="#ED7D31" stroke-width="0.3"/>
<polygon points="161.00,450.20 239.40,470.62 239.00,472.18 238.54,473.75 238.02,475.32 237.43,476.88 236.78,478.43 236.06,479.98 235.28,481.52 234.43,483.06 233.52,484.58 232.54,486.09 231.49,487.58 230.38,489.06 229.20,490.52 227.96,491.96 226.66,493.38 225.28,494.78 223.85,496.16 222.35,497.50 220.79,498.82 219.17,500.11 217.48,501.37 215.74,502.60 213.94,503.79 212.09,504.94 210.17,506.06 208.21,507.13 206.19,508.17 204.12,509.16 202.01,510.11" fill="#A5A5A5" stroke="#A5A5A5" stroke-width="0.3"/>
<polygon points="161.00,450.20 202.01,510.11 199.84,511.01 197.63,511.87 195.38,512.68 193.09,513.43 190.76,514.14 188.40,514.80 186.01,515.40 183.58,515.94 181.13,516.43 178.66,516.87 176.16,517.25 173.65,517.57 171.12,517.83 168.58,518.04 166.03,518.18 163.47,518.27 160.91,518.30 158.35,518.26 155.79,518.17 153.25,518.02 150.70,517.81 148.18,517.55 145.66,517.22 143.17,516.84" fill="#FFC000" stroke="#FFC000" stroke-width="0.3"/>
<polygon points="161.00,450.20 143.17,516.84 140.67,516.40 138.19,515.89 135.74,515.34 133.33,514.72 130.94,514.05 128.59,513.33 126.28,512.56 124.01,511.74 121.78,510.86 119.60,509.94 117.47,508.97 115.39,507.96 113.35,506.90 111.38,505.80 109.45,504.66 107.59,503.48 105.78,502.27 104.03,501.02 102.35,499.73 100.72,498.42 99.16,497.07" fill="#5B9BD5" stroke="#5B9BD5" stroke-width="0.3"/>
<polygon points="161.00,450.20 99.16,497.07 97.68,495.72 96.27,494.34 94.92,492.93 93.63,491.51 92.41,490.06 91.26,488.59 90.17,487.11 89.15,485.61 88.19,484.10 87.29,482.58 86.47,481.04 85.71,479.50 85.01,477.95 84.38,476.39 83.81,474.83 83.31,473.27 82.87,471.70 82.49,470.14 82.18,468.57 81.93,467.01 81.73,465.45" fill="#70AD47" stroke="#70AD47" stroke-width="0.3"/>
<polygon points="161.00,450.20 81.73,465.45 81.60,463.90 81.53,462.35 81.51,460.81 81.56,459.28 81.66,457.76 81.81,456.25 82.02,454.75 82.28,453.26 82.60,451.78 82.97,450.32 83.39,448.87 83.85,447.44 84.37,446.03 84.93,444.63 85.54,443.25 86.20,441.89 86.90,440.54 87.64,439.22 88.42,437.91 89.25,436.63" fill="#264478" stroke="#264478" stroke-width="0.3"/>
<polygon points="161.00,450.20 89.25,436.63 90.11,435.37 91.01,434.13 91.95,432.91 92.93,431.72 93.94,430.54 94.98,429.39 96.06,428.27 97.17,427.16 98.32,426.08 99.49,425.03 100.70,424.00 101.93,422.99 103.19,422.01 104.47,421.05 105.79,420.12 107.12,419.22 108.48,418.34 109.87,417.48 111.27,416.65 112.70,415.85" fill="#9E480E" stroke="#9E480E" stroke-width="0.3"/>
<polygon points="161.00,450.20 112.70,415.85 114.23,415.03 115.79,414.23 117.36,413.47 118.96,412.74 120.57,412.03 122.21,411.36 123.86,410.72 125.53,410.10" fill="#636363" stroke="#636363" stroke-width="0.3"/>
<polygon points="161.00,450.20 125.53,410.10 127.33,409.47 129.15,408.88 130.99,408.32 132.84,407.80 134.71,407.31 136.59,406.86" fill="#997300" stroke="#997300" stroke-width="0.3"/>
<polygon points="161.00,450.20 136.59,406.86 138.64,406.40 140.71,405.99 142.79,405.62 144.88,405.29" fill="#255E91" stroke="#255E91" stroke-width="0.3"/>
<polygon points="161.00,450.20 144.88,405.29 146.72,405.03 148.55,404.80 150.40,404.61" fill="#43682B" stroke="#43682B" stroke-width="0.3"/>
<polygon points="161.00,450.20 150.40,404.61 152.16,404.45 153.92,404.33 155.69,404.23 157.46,404.16 159.23,404.11 161.00,404.10" fill="#698ED0" stroke="#698ED0" stroke-width="0.3"/>
<polygon points="194.80,400.50 192.79,408.86 200.80,400.50" fill="#fff" stroke="#c8c8c8" stroke-width="0.5"/>
<rect x="193.8" y="389.7" width="32.40" height="10.80" rx="1.5" fill="#fff" stroke="#c8c8c8" stroke-width="0.5"/>
<text x="210.50" y="398.10" font-size="6.5" font-family='"Liberation Sans", sans-serif' fill="#595959" text-anchor="middle">3296.16%</text>
<polygon points="233.88,413.40 236.88,444.20 239.88,413.40" fill="#fff" stroke="#c8c8c8" stroke-width="0.5"/>
<rect x="214.8" y="403.4" width="30.50" height="10.00" rx="1.5" fill="#fff" stroke="#c8c8c8" stroke-width="0.5"/>
<text x="230.55" y="411.40" font-size="6.5" font-family='"Liberation Sans", sans-serif' fill="#595959" text-anchor="middle">3090.15%</text>
<polygon points="224.32,531.40 227.32,492.68 230.32,531.40" fill="#fff" stroke="#c8c8c8" stroke-width="0.5"/>
<rect x="211.2" y="531.4" width="30.70" height="10.40" rx="1.5" fill="#fff" stroke="#c8c8c8" stroke-width="0.5"/>
<text x="227.05" y="539.60" font-size="6.5" font-family='"Liberation Sans", sans-serif' fill="#595959" text-anchor="middle">2546.12%</text>
<polygon points="175.30,535.40 173.65,517.57 181.30,535.40" fill="#fff" stroke="#c8c8c8" stroke-width="0.5"/>
<rect x="174.3" y="535.4" width="32.20" height="9.40" rx="1.5" fill="#fff" stroke="#c8c8c8" stroke-width="0.5"/>
<text x="190.90" y="543.10" font-size="6.5" font-family='"Liberation Sans", sans-serif' fill="#595959" text-anchor="middle">2110.10%</text>
<polygon points="99.20,516.80 118.53,509.46 105.20,516.80" fill="#fff" stroke="#c8c8c8" stroke-width="0.5"/>
<rect x="77.7" y="516.8" width="28.50" height="10.20" rx="1.5" fill="#fff" stroke="#c8c8c8" stroke-width="0.5"/>
<text x="92.45" y="524.90" font-size="6.5" font-family='"Liberation Sans", sans-serif' fill="#595959" text-anchor="middle">1867.9%</text>
<polygon points="80.80,481.30 86.87,481.81 80.80,485.30" fill="#fff" stroke="#c8c8c8" stroke-width="0.5"/>
<rect x="53.1" y="480.8" width="27.70" height="10.60" rx="1.5" fill="#fff" stroke="#c8c8c8" stroke-width="0.5"/>
<text x="67.45" y="489.10" font-size="6.5" font-family='"Liberation Sans", sans-serif' fill="#595959" text-anchor="middle">1842.9%</text>
<polygon points="77.50,449.70 82.97,450.32 77.50,453.70" fill="#fff" stroke="#c8c8c8" stroke-width="0.5"/>
<rect x="49.2" y="449.2" width="28.30" height="10.80" rx="1.5" fill="#fff" stroke="#c8c8c8" stroke-width="0.5"/>
<text x="63.85" y="457.60" font-size="6.5" font-family='"Liberation Sans", sans-serif' fill="#595959" text-anchor="middle">1754.8%</text>
<polygon points="81.30,424.90 99.49,425.03 81.30,428.90" fill="#fff" stroke="#c8c8c8" stroke-width="0.5"/>
<rect x="52.5" y="424.4" width="28.80" height="10.80" rx="1.5" fill="#fff" stroke="#c8c8c8" stroke-width="0.5"/>
<text x="67.40" y="432.80" font-size="6.5" font-family='"Liberation Sans", sans-serif' fill="#595959" text-anchor="middle">1751.8%</text>
<polygon points="95.80,410.74 118.96,412.74 95.80,414.74" fill="#fff" stroke="#c8c8c8" stroke-width="0.5"/>
<rect x="70.8" y="410.2" width="25.00" height="10.30" rx="1.5" fill="#fff" stroke="#c8c8c8" stroke-width="0.5"/>
<text x="83.80" y="418.35" font-size="6.5" font-family='"Liberation Sans", sans-serif' fill="#595959" text-anchor="middle">741.4%</text>
<polygon points="95.80,402.14 130.99,408.32 95.80,406.06" fill="#fff" stroke="#c8c8c8" stroke-width="0.5"/>
<rect x="70.8" y="396.8" width="25.00" height="9.80" rx="1.5" fill="#fff" stroke="#c8c8c8" stroke-width="0.5"/>
<text x="83.80" y="404.70" font-size="6.5" font-family='"Liberation Sans", sans-serif' fill="#595959" text-anchor="middle">596.3%</text>
<polygon points="121.50,395.40 140.71,405.99 127.50,395.40" fill="#fff" stroke="#c8c8c8" stroke-width="0.5"/>
<rect x="104.3" y="384.8" width="24.20" height="10.60" rx="1.5" fill="#fff" stroke="#c8c8c8" stroke-width="0.5"/>
<text x="116.90" y="393.10" font-size="6.5" font-family='"Liberation Sans", sans-serif' fill="#595959" text-anchor="middle">432.2%</text>
<polygon points="144.63,395.40 147.63,404.91 150.63,395.40" fill="#fff" stroke="#c8c8c8" stroke-width="0.5"/>
<rect x="134.0" y="384.8" width="25.90" height="10.60" rx="1.5" fill="#fff" stroke="#c8c8c8" stroke-width="0.5"/>
<text x="147.45" y="393.10" font-size="6.5" font-family='"Liberation Sans", sans-serif' fill="#595959" text-anchor="middle">283.1%</text>
<polygon points="168.30,394.60 155.69,404.23 174.30,394.60" fill="#fff" stroke="#c8c8c8" stroke-width="0.5"/>
<rect x="167.3" y="384.4" width="23.50" height="10.20" rx="1.5" fill="#fff" stroke="#c8c8c8" stroke-width="0.5"/>
<text x="179.55" y="392.50" font-size="6.5" font-family='"Liberation Sans", sans-serif' fill="#595959" text-anchor="middle">539.3%</text>
<rect x="256.6" y="395.70" width="3.8" height="3.8" fill="#4472C4"/>
<text x="262.4" y="399.90" font-size="7.5" font-family='"Liberation Serif", serif' fill="#404040">Biological regulation</text>
<rect x="256.6" y="405.60" width="3.8" height="3.8" fill="#ED7D31"/>
<text x="262.4" y="409.80" font-size="7.5" font-family='"Liberation Serif", serif' fill="#404040">Metabolic process</text>
<rect x="256.6" y="415.50" width="3.8" height="3.8" fill="#A5A5A5"/>
<text x="262.4" y="419.70" font-size="7.5" font-family='"Liberation Serif", serif' fill="#404040">Response to stimulus</text>
<rect x="256.6" y="425.40" width="3.8" height="3.8" fill="#FFC000"/>
<text x="262.4" y="429.60" font-size="7.5" font-family='"Liberation Serif", serif' fill="#404040">Multicellular organismal process</text>
<rect x="256.6" y="435.30" width="3.8" height="3.8" fill="#5B9BD5"/>
<text x="262.4" y="439.50" font-size="7.5" font-family='"Liberation Serif", serif' fill="#404040">Cell communication</text>
<rect x="256.6" y="445.20" width="3.8" height="3.8" fill="#70AD47"/>
<text x="262.4" y="449.40" font-size="7.5" font-family='"Liberation Serif", serif' fill="#404040">Localization</text>
<rect x="256.6" y="455.10" width="3.8" height="3.8" fill="#264478"/>
<text x="262.4" y="459.30" font-size="7.5" font-family='"Liberation Serif", serif' fill="#404040">Cellular component organization</text>
<rect x="256.6" y="465.00" width="3.8" height="3.8" fill="#9E480E"/>
<text x="262.4" y="469.20" font-size="7.5" font-family='"Liberation Serif", serif' fill="#404040">developmental process</text>
<rect x="256.6" y="474.90" width="3.8" height="3.8" fill="#636363"/>
<text x="262.4" y="479.10" font-size="7.5" font-family='"Liberation Serif", serif' fill="#404040">Multiorganism process</text>
<rect x="256.6" y="484.80" width="3.8" height="3.8" fill="#997300"/>
<text x="262.4" y="489.00" font-size="7.5" font-family='"Liberation Serif", serif' fill="#404040">Cell proliferation</text>
<rect x="256.6" y="494.70" width="3.8" height="3.8" fill="#255E91"/>
<text x="262.4" y="498.90" font-size="7.5" font-family='"Liberation Serif", serif' fill="#404040">Reproduction</text>
<rect x="256.6" y="504.60" width="3.8" height="3.8" fill="#43682B"/>
<text x="262.4" y="508.80" font-size="7.5" font-family='"Liberation Serif", serif' fill="#404040">Growth</text>
<rect x="256.6" y="514.50" width="3.8" height="3.8" fill="#698ED0"/>
<text x="262.4" y="518.70" font-size="7.5" font-family='"Liberation Serif", serif' fill="#404040">Unclassified</text>
</svg>
</body></html>
